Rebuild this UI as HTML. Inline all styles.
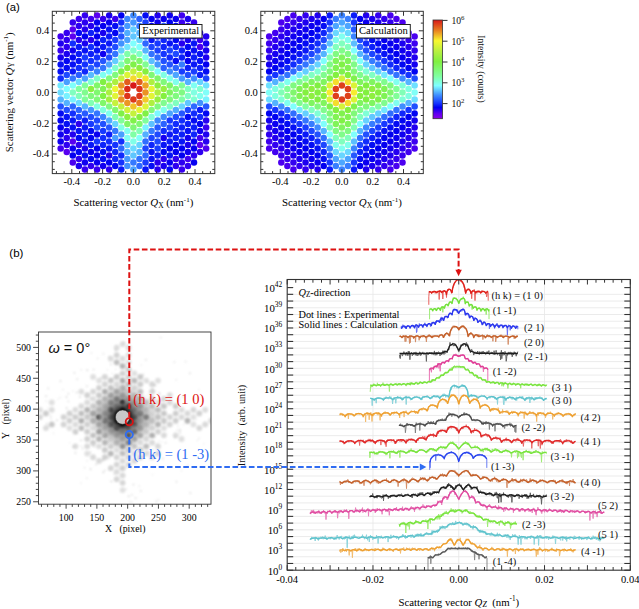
<!DOCTYPE html>
<html><head><meta charset="utf-8"><style>
html,body{margin:0;padding:0;background:#fff;width:639px;height:609px;overflow:hidden}
svg{display:block}
</style></head><body><svg width="639" height="609" viewBox="0 0 639 609"><rect x="52.3" y="11.3" width="162.5" height="162.3" fill="#fff" stroke="none"/><g><circle cx="60.68" cy="36.4" r="3.25" fill="#4100f0"/><circle cx="60.68" cy="43.4" r="3.25" fill="#1f00f0"/><circle cx="60.68" cy="50.4" r="3.25" fill="#3700f0"/><circle cx="60.68" cy="57.4" r="3.25" fill="#1900f0"/><circle cx="60.68" cy="64.4" r="3.25" fill="#0711f5"/><circle cx="60.68" cy="71.4" r="3.25" fill="#0711f5"/><circle cx="60.68" cy="78.4" r="3.25" fill="#122efd"/><circle cx="60.68" cy="85.4" r="3.25" fill="#73e8ff"/><circle cx="60.68" cy="92.4" r="3.25" fill="#6dddff"/><circle cx="60.68" cy="99.4" r="3.25" fill="#55b5ff"/><circle cx="60.68" cy="106.4" r="3.25" fill="#2353ff"/><circle cx="60.68" cy="113.4" r="3.25" fill="#040bf3"/><circle cx="60.68" cy="120.4" r="3.25" fill="#0102f0"/><circle cx="60.68" cy="127.4" r="3.25" fill="#0900f0"/><circle cx="60.68" cy="134.4" r="3.25" fill="#1100f0"/><circle cx="60.68" cy="141.4" r="3.25" fill="#0e00f0"/><circle cx="60.68" cy="148.4" r="3.25" fill="#4300f0"/><circle cx="66.74" cy="32.9" r="3.25" fill="#3500f0"/><circle cx="66.74" cy="39.9" r="3.25" fill="#2e00f0"/><circle cx="66.74" cy="46.9" r="3.25" fill="#2d00f0"/><circle cx="66.74" cy="53.9" r="3.25" fill="#1c00f0"/><circle cx="66.74" cy="60.9" r="3.25" fill="#0307f2"/><circle cx="66.74" cy="67.9" r="3.25" fill="#060ef4"/><circle cx="66.74" cy="74.9" r="3.25" fill="#1f4bff"/><circle cx="66.74" cy="81.9" r="3.25" fill="#499fff"/><circle cx="66.74" cy="88.9" r="3.25" fill="#7ffeff"/><circle cx="66.74" cy="95.9" r="3.25" fill="#78f1ff"/><circle cx="66.74" cy="102.9" r="3.25" fill="#53b2ff"/><circle cx="66.74" cy="109.9" r="3.25" fill="#214eff"/><circle cx="66.74" cy="116.9" r="3.25" fill="#0815f6"/><circle cx="66.74" cy="123.9" r="3.25" fill="#060ff4"/><circle cx="66.74" cy="130.9" r="3.25" fill="#1700f0"/><circle cx="66.74" cy="137.9" r="3.25" fill="#2d00f0"/><circle cx="66.74" cy="144.9" r="3.25" fill="#3000f0"/><circle cx="66.74" cy="151.9" r="3.25" fill="#5700f0"/><circle cx="72.8" cy="22.4" r="3.25" fill="#3700f0"/><circle cx="72.8" cy="29.4" r="3.25" fill="#5c00f0"/><circle cx="72.8" cy="36.4" r="3.25" fill="#5b00f0"/><circle cx="72.8" cy="43.4" r="3.25" fill="#122dfd"/><circle cx="72.8" cy="50.4" r="3.25" fill="#1000f0"/><circle cx="72.8" cy="57.4" r="3.25" fill="#0409f3"/><circle cx="72.8" cy="64.4" r="3.25" fill="#0711f5"/><circle cx="72.8" cy="71.4" r="3.25" fill="#0a19f7"/><circle cx="72.8" cy="78.4" r="3.25" fill="#3579ff"/><circle cx="72.8" cy="85.4" r="3.25" fill="#80fffb"/><circle cx="72.8" cy="92.4" r="3.25" fill="#80ffc0"/><circle cx="72.8" cy="99.4" r="3.25" fill="#78f1ff"/><circle cx="72.8" cy="106.4" r="3.25" fill="#2c65ff"/><circle cx="72.8" cy="113.4" r="3.25" fill="#122ffd"/><circle cx="72.8" cy="120.4" r="3.25" fill="#0917f7"/><circle cx="72.8" cy="127.4" r="3.25" fill="#0711f5"/><circle cx="72.8" cy="134.4" r="3.25" fill="#2300f0"/><circle cx="72.8" cy="141.4" r="3.25" fill="#5800f0"/><circle cx="72.8" cy="148.4" r="3.25" fill="#0f00f0"/><circle cx="72.8" cy="155.4" r="3.25" fill="#0600f0"/><circle cx="72.8" cy="162.4" r="3.25" fill="#4900f0"/><circle cx="78.86" cy="18.9" r="3.25" fill="#3d00f0"/><circle cx="78.86" cy="25.9" r="3.25" fill="#2e00f0"/><circle cx="78.86" cy="32.9" r="3.25" fill="#040af3"/><circle cx="78.86" cy="39.9" r="3.25" fill="#2500f0"/><circle cx="78.86" cy="46.9" r="3.25" fill="#0b1bf8"/><circle cx="78.86" cy="53.9" r="3.25" fill="#0b1cf8"/><circle cx="78.86" cy="60.9" r="3.25" fill="#0916f6"/><circle cx="78.86" cy="67.9" r="3.25" fill="#122efd"/><circle cx="78.86" cy="74.9" r="3.25" fill="#295eff"/><circle cx="78.86" cy="81.9" r="3.25" fill="#6bdaff"/><circle cx="78.86" cy="88.9" r="3.25" fill="#80ff9f"/><circle cx="78.86" cy="95.9" r="3.25" fill="#80ffbb"/><circle cx="78.86" cy="102.9" r="3.25" fill="#6bdaff"/><circle cx="78.86" cy="109.9" r="3.25" fill="#2c65ff"/><circle cx="78.86" cy="116.9" r="3.25" fill="#1d46ff"/><circle cx="78.86" cy="123.9" r="3.25" fill="#2c00f0"/><circle cx="78.86" cy="130.9" r="3.25" fill="#0712f5"/><circle cx="78.86" cy="137.9" r="3.25" fill="#0308f2"/><circle cx="78.86" cy="144.9" r="3.25" fill="#2f00f0"/><circle cx="78.86" cy="151.9" r="3.25" fill="#0308f2"/><circle cx="78.86" cy="158.9" r="3.25" fill="#3000f0"/><circle cx="78.86" cy="165.9" r="3.25" fill="#1a00f0"/><circle cx="84.92" cy="15.4" r="3.25" fill="#3200f0"/><circle cx="84.92" cy="22.4" r="3.25" fill="#2a00f0"/><circle cx="84.92" cy="29.4" r="3.25" fill="#2300f0"/><circle cx="84.92" cy="36.4" r="3.25" fill="#0102f1"/><circle cx="84.92" cy="43.4" r="3.25" fill="#1800f0"/><circle cx="84.92" cy="50.4" r="3.25" fill="#0813f5"/><circle cx="84.92" cy="57.4" r="3.25" fill="#183bff"/><circle cx="84.92" cy="64.4" r="3.25" fill="#1432fe"/><circle cx="84.92" cy="71.4" r="3.25" fill="#1028fb"/><circle cx="84.92" cy="78.4" r="3.25" fill="#4ba3ff"/><circle cx="84.92" cy="85.4" r="3.25" fill="#80fe9c"/><circle cx="84.92" cy="92.4" r="3.25" fill="#80fc8f"/><circle cx="84.92" cy="99.4" r="3.25" fill="#80fe9a"/><circle cx="84.92" cy="106.4" r="3.25" fill="#57b7ff"/><circle cx="84.92" cy="113.4" r="3.25" fill="#275aff"/><circle cx="84.92" cy="120.4" r="3.25" fill="#0c1ff9"/><circle cx="84.92" cy="127.4" r="3.25" fill="#0a1af7"/><circle cx="84.92" cy="134.4" r="3.25" fill="#0a1af7"/><circle cx="84.92" cy="141.4" r="3.25" fill="#0813f5"/><circle cx="84.92" cy="148.4" r="3.25" fill="#1a00f0"/><circle cx="84.92" cy="155.4" r="3.25" fill="#050df4"/><circle cx="84.92" cy="162.4" r="3.25" fill="#1100f0"/><circle cx="84.92" cy="169.4" r="3.25" fill="#3700f0"/><circle cx="90.98" cy="18.9" r="3.25" fill="#4000f0"/><circle cx="90.98" cy="25.9" r="3.25" fill="#2500f0"/><circle cx="90.98" cy="32.9" r="3.25" fill="#0d22f9"/><circle cx="90.98" cy="39.9" r="3.25" fill="#2800f0"/><circle cx="90.98" cy="46.9" r="3.25" fill="#122efd"/><circle cx="90.98" cy="53.9" r="3.25" fill="#0d21f9"/><circle cx="90.98" cy="60.9" r="3.25" fill="#1433ff"/><circle cx="90.98" cy="67.9" r="3.25" fill="#295fff"/><circle cx="90.98" cy="74.9" r="3.25" fill="#59bbff"/><circle cx="90.98" cy="81.9" r="3.25" fill="#80ffd0"/><circle cx="90.98" cy="88.9" r="3.25" fill="#8bf040"/><circle cx="90.98" cy="95.9" r="3.25" fill="#80f97c"/><circle cx="90.98" cy="102.9" r="3.25" fill="#80ffb3"/><circle cx="90.98" cy="109.9" r="3.25" fill="#4395ff"/><circle cx="90.98" cy="116.9" r="3.25" fill="#214eff"/><circle cx="90.98" cy="123.9" r="3.25" fill="#173aff"/><circle cx="90.98" cy="130.9" r="3.25" fill="#040bf3"/><circle cx="90.98" cy="137.9" r="3.25" fill="#0307f2"/><circle cx="90.98" cy="144.9" r="3.25" fill="#0a19f7"/><circle cx="90.98" cy="151.9" r="3.25" fill="#0c00f0"/><circle cx="90.98" cy="158.9" r="3.25" fill="#0307f2"/><circle cx="90.98" cy="165.9" r="3.25" fill="#3200f0"/><circle cx="97.04" cy="15.4" r="3.25" fill="#5900f0"/><circle cx="97.04" cy="22.4" r="3.25" fill="#0600f0"/><circle cx="97.04" cy="29.4" r="3.25" fill="#0205f2"/><circle cx="97.04" cy="36.4" r="3.25" fill="#0300f0"/><circle cx="97.04" cy="43.4" r="3.25" fill="#0001f0"/><circle cx="97.04" cy="50.4" r="3.25" fill="#0814f6"/><circle cx="97.04" cy="57.4" r="3.25" fill="#1431fe"/><circle cx="97.04" cy="64.4" r="3.25" fill="#1c44ff"/><circle cx="97.04" cy="71.4" r="3.25" fill="#3a84ff"/><circle cx="97.04" cy="78.4" r="3.25" fill="#80ffc4"/><circle cx="97.04" cy="85.4" r="3.25" fill="#80f76a"/><circle cx="97.04" cy="92.4" r="3.25" fill="#80f871"/><circle cx="97.04" cy="99.4" r="3.25" fill="#80f978"/><circle cx="97.04" cy="106.4" r="3.25" fill="#80ffe1"/><circle cx="97.04" cy="113.4" r="3.25" fill="#3375ff"/><circle cx="97.04" cy="120.4" r="3.25" fill="#1e48ff"/><circle cx="97.04" cy="127.4" r="3.25" fill="#214fff"/><circle cx="97.04" cy="134.4" r="3.25" fill="#0a00f0"/><circle cx="97.04" cy="141.4" r="3.25" fill="#1638ff"/><circle cx="97.04" cy="148.4" r="3.25" fill="#0500f0"/><circle cx="97.04" cy="155.4" r="3.25" fill="#0700f0"/><circle cx="97.04" cy="162.4" r="3.25" fill="#0a00f0"/><circle cx="97.04" cy="169.4" r="3.25" fill="#3900f0"/><circle cx="103.1" cy="18.9" r="3.25" fill="#3600f0"/><circle cx="103.1" cy="25.9" r="3.25" fill="#0600f0"/><circle cx="103.1" cy="32.9" r="3.25" fill="#1700f0"/><circle cx="103.1" cy="39.9" r="3.25" fill="#0e23fa"/><circle cx="103.1" cy="46.9" r="3.25" fill="#0b1bf8"/><circle cx="103.1" cy="53.9" r="3.25" fill="#0f00f0"/><circle cx="103.1" cy="60.9" r="3.25" fill="#2556ff"/><circle cx="103.1" cy="67.9" r="3.25" fill="#3375ff"/><circle cx="103.1" cy="74.9" r="3.25" fill="#80fff2"/><circle cx="103.1" cy="81.9" r="3.25" fill="#80f043"/><circle cx="103.1" cy="88.9" r="3.25" fill="#80f356"/><circle cx="103.1" cy="95.9" r="3.25" fill="#80f143"/><circle cx="103.1" cy="102.9" r="3.25" fill="#80f76a"/><circle cx="103.1" cy="109.9" r="3.25" fill="#80ffdd"/><circle cx="103.1" cy="116.9" r="3.25" fill="#3b86ff"/><circle cx="103.1" cy="123.9" r="3.25" fill="#2251ff"/><circle cx="103.1" cy="130.9" r="3.25" fill="#1739ff"/><circle cx="103.1" cy="137.9" r="3.25" fill="#122efd"/><circle cx="103.1" cy="144.9" r="3.25" fill="#0e24fa"/><circle cx="103.1" cy="151.9" r="3.25" fill="#040bf3"/><circle cx="103.1" cy="158.9" r="3.25" fill="#060ef4"/><circle cx="103.1" cy="165.9" r="3.25" fill="#1200f0"/><circle cx="109.16" cy="15.4" r="3.25" fill="#1b00f0"/><circle cx="109.16" cy="22.4" r="3.25" fill="#0600f0"/><circle cx="109.16" cy="29.4" r="3.25" fill="#0711f5"/><circle cx="109.16" cy="36.4" r="3.25" fill="#0a1af7"/><circle cx="109.16" cy="43.4" r="3.25" fill="#0b1bf8"/><circle cx="109.16" cy="50.4" r="3.25" fill="#1d45ff"/><circle cx="109.16" cy="57.4" r="3.25" fill="#204cff"/><circle cx="109.16" cy="64.4" r="3.25" fill="#4ca4ff"/><circle cx="109.16" cy="71.4" r="3.25" fill="#7bf6ff"/><circle cx="109.16" cy="78.4" r="3.25" fill="#80fa7d"/><circle cx="109.16" cy="85.4" r="3.25" fill="#9ef040"/><circle cx="109.16" cy="92.4" r="3.25" fill="#abf040"/><circle cx="109.16" cy="99.4" r="3.25" fill="#a2f040"/><circle cx="109.16" cy="106.4" r="3.25" fill="#80fa81"/><circle cx="109.16" cy="113.4" r="3.25" fill="#80ffed"/><circle cx="109.16" cy="120.4" r="3.25" fill="#50abff"/><circle cx="109.16" cy="127.4" r="3.25" fill="#2658ff"/><circle cx="109.16" cy="134.4" r="3.25" fill="#0c1ef9"/><circle cx="109.16" cy="141.4" r="3.25" fill="#122dfd"/><circle cx="109.16" cy="148.4" r="3.25" fill="#0813f5"/><circle cx="109.16" cy="155.4" r="3.25" fill="#2000f0"/><circle cx="109.16" cy="162.4" r="3.25" fill="#0204f1"/><circle cx="109.16" cy="169.4" r="3.25" fill="#2c00f0"/><circle cx="115.22" cy="18.9" r="3.25" fill="#3a00f0"/><circle cx="115.22" cy="25.9" r="3.25" fill="#050df4"/><circle cx="115.22" cy="32.9" r="3.25" fill="#0205f2"/><circle cx="115.22" cy="39.9" r="3.25" fill="#193dff"/><circle cx="115.22" cy="46.9" r="3.25" fill="#204dff"/><circle cx="115.22" cy="53.9" r="3.25" fill="#3375ff"/><circle cx="115.22" cy="60.9" r="3.25" fill="#63cdff"/><circle cx="115.22" cy="67.9" r="3.25" fill="#80ffcf"/><circle cx="115.22" cy="74.9" r="3.25" fill="#80fa7d"/><circle cx="115.22" cy="81.9" r="3.25" fill="#abf040"/><circle cx="115.22" cy="88.9" r="3.25" fill="#edf733"/><circle cx="115.22" cy="95.9" r="3.25" fill="#e0f536"/><circle cx="115.22" cy="102.9" r="3.25" fill="#c6f23d"/><circle cx="115.22" cy="109.9" r="3.25" fill="#80f870"/><circle cx="115.22" cy="116.9" r="3.25" fill="#80ffb5"/><circle cx="115.22" cy="123.9" r="3.25" fill="#67d4ff"/><circle cx="115.22" cy="130.9" r="3.25" fill="#3476ff"/><circle cx="115.22" cy="137.9" r="3.25" fill="#489eff"/><circle cx="115.22" cy="144.9" r="3.25" fill="#1433fe"/><circle cx="115.22" cy="151.9" r="3.25" fill="#112cfc"/><circle cx="115.22" cy="158.9" r="3.25" fill="#0f27fb"/><circle cx="115.22" cy="165.9" r="3.25" fill="#040af3"/><circle cx="121.28" cy="15.4" r="3.25" fill="#0200f0"/><circle cx="121.28" cy="22.4" r="3.25" fill="#1331fe"/><circle cx="121.28" cy="29.4" r="3.25" fill="#2557ff"/><circle cx="121.28" cy="36.4" r="3.25" fill="#2455ff"/><circle cx="121.28" cy="43.4" r="3.25" fill="#4192ff"/><circle cx="121.28" cy="50.4" r="3.25" fill="#64ceff"/><circle cx="121.28" cy="57.4" r="3.25" fill="#80ffdd"/><circle cx="121.28" cy="64.4" r="3.25" fill="#80ffb6"/><circle cx="121.28" cy="71.4" r="3.25" fill="#80f24b"/><circle cx="121.28" cy="78.4" r="3.25" fill="#c8f23c"/><circle cx="121.28" cy="85.4" r="3.25" fill="#eb9623"/><circle cx="121.28" cy="92.4" r="3.25" fill="#eda825"/><circle cx="121.28" cy="99.4" r="3.25" fill="#ea9122"/><circle cx="121.28" cy="106.4" r="3.25" fill="#c3f13d"/><circle cx="121.28" cy="113.4" r="3.25" fill="#80f148"/><circle cx="121.28" cy="120.4" r="3.25" fill="#80fe99"/><circle cx="121.28" cy="127.4" r="3.25" fill="#80ffe4"/><circle cx="121.28" cy="134.4" r="3.25" fill="#499fff"/><circle cx="121.28" cy="141.4" r="3.25" fill="#132ffd"/><circle cx="121.28" cy="148.4" r="3.25" fill="#2e6aff"/><circle cx="121.28" cy="155.4" r="3.25" fill="#112bfc"/><circle cx="121.28" cy="162.4" r="3.25" fill="#1433fe"/><circle cx="121.28" cy="169.4" r="3.25" fill="#0a1af7"/><circle cx="127.34" cy="18.9" r="3.25" fill="#3b86ff"/><circle cx="127.34" cy="25.9" r="3.25" fill="#4599ff"/><circle cx="127.34" cy="32.9" r="3.25" fill="#50acff"/><circle cx="127.34" cy="39.9" r="3.25" fill="#4aa2ff"/><circle cx="127.34" cy="46.9" r="3.25" fill="#70e4ff"/><circle cx="127.34" cy="53.9" r="3.25" fill="#80ffa9"/><circle cx="127.34" cy="60.9" r="3.25" fill="#80f873"/><circle cx="127.34" cy="67.9" r="3.25" fill="#88f040"/><circle cx="127.34" cy="74.9" r="3.25" fill="#ddf537"/><circle cx="127.34" cy="81.9" r="3.25" fill="#e25c1d"/><circle cx="127.34" cy="88.9" r="3.25" fill="#da2819"/><circle cx="127.34" cy="95.9" r="3.25" fill="#dd351a"/><circle cx="127.34" cy="102.9" r="3.25" fill="#eb9623"/><circle cx="127.34" cy="109.9" r="3.25" fill="#d2f33a"/><circle cx="127.34" cy="116.9" r="3.25" fill="#8df040"/><circle cx="127.34" cy="123.9" r="3.25" fill="#80f667"/><circle cx="127.34" cy="130.9" r="3.25" fill="#80fff2"/><circle cx="127.34" cy="137.9" r="3.25" fill="#80fff5"/><circle cx="127.34" cy="144.9" r="3.25" fill="#61c9ff"/><circle cx="127.34" cy="151.9" r="3.25" fill="#55b5ff"/><circle cx="127.34" cy="158.9" r="3.25" fill="#4599ff"/><circle cx="127.34" cy="165.9" r="3.25" fill="#4090ff"/><circle cx="133.4" cy="15.4" r="3.25" fill="#3d89ff"/><circle cx="133.4" cy="22.4" r="3.25" fill="#4497ff"/><circle cx="133.4" cy="29.4" r="3.25" fill="#63cdff"/><circle cx="133.4" cy="36.4" r="3.25" fill="#5fc6ff"/><circle cx="133.4" cy="43.4" r="3.25" fill="#80fffe"/><circle cx="133.4" cy="50.4" r="3.25" fill="#80ffd2"/><circle cx="133.4" cy="57.4" r="3.25" fill="#80fa7d"/><circle cx="133.4" cy="64.4" r="3.25" fill="#80f149"/><circle cx="133.4" cy="71.4" r="3.25" fill="#c4f23d"/><circle cx="133.4" cy="78.4" r="3.25" fill="#f4db2c"/><circle cx="133.4" cy="85.4" r="3.25" fill="#d81818"/><circle cx="133.4" cy="99.4" r="3.25" fill="#dd391b"/><circle cx="133.4" cy="106.4" r="3.25" fill="#f1c429"/><circle cx="133.4" cy="113.4" r="3.25" fill="#c4f23d"/><circle cx="133.4" cy="120.4" r="3.25" fill="#80f24b"/><circle cx="133.4" cy="127.4" r="3.25" fill="#80f875"/><circle cx="133.4" cy="134.4" r="3.25" fill="#80ffa5"/><circle cx="133.4" cy="141.4" r="3.25" fill="#80ffe8"/><circle cx="133.4" cy="148.4" r="3.25" fill="#6bdaff"/><circle cx="133.4" cy="155.4" r="3.25" fill="#5fc6ff"/><circle cx="133.4" cy="162.4" r="3.25" fill="#3579ff"/><circle cx="133.4" cy="169.4" r="3.25" fill="#4aa1ff"/><circle cx="139.46" cy="18.9" r="3.25" fill="#285dff"/><circle cx="139.46" cy="25.9" r="3.25" fill="#3375ff"/><circle cx="139.46" cy="32.9" r="3.25" fill="#52afff"/><circle cx="139.46" cy="39.9" r="3.25" fill="#66d1ff"/><circle cx="139.46" cy="46.9" r="3.25" fill="#80fffd"/><circle cx="139.46" cy="53.9" r="3.25" fill="#80ffc5"/><circle cx="139.46" cy="60.9" r="3.25" fill="#80f76b"/><circle cx="139.46" cy="67.9" r="3.25" fill="#89f040"/><circle cx="139.46" cy="74.9" r="3.25" fill="#d8f438"/><circle cx="139.46" cy="81.9" r="3.25" fill="#e3621e"/><circle cx="139.46" cy="88.9" r="3.25" fill="#dc341a"/><circle cx="139.46" cy="95.9" r="3.25" fill="#dd381a"/><circle cx="139.46" cy="102.9" r="3.25" fill="#e7771f"/><circle cx="139.46" cy="109.9" r="3.25" fill="#e2f535"/><circle cx="139.46" cy="116.9" r="3.25" fill="#85f040"/><circle cx="139.46" cy="123.9" r="3.25" fill="#80f870"/><circle cx="139.46" cy="130.9" r="3.25" fill="#80ffb5"/><circle cx="139.46" cy="137.9" r="3.25" fill="#80fffa"/><circle cx="139.46" cy="144.9" r="3.25" fill="#66d3ff"/><circle cx="139.46" cy="151.9" r="3.25" fill="#56b7ff"/><circle cx="139.46" cy="158.9" r="3.25" fill="#3170ff"/><circle cx="139.46" cy="165.9" r="3.25" fill="#2d69ff"/><circle cx="145.52" cy="15.4" r="3.25" fill="#040bf3"/><circle cx="145.52" cy="22.4" r="3.25" fill="#1b42ff"/><circle cx="145.52" cy="29.4" r="3.25" fill="#2557ff"/><circle cx="145.52" cy="36.4" r="3.25" fill="#2d67ff"/><circle cx="145.52" cy="43.4" r="3.25" fill="#2d67ff"/><circle cx="145.52" cy="50.4" r="3.25" fill="#55b4ff"/><circle cx="145.52" cy="57.4" r="3.25" fill="#80fff1"/><circle cx="145.52" cy="64.4" r="3.25" fill="#80fd92"/><circle cx="145.52" cy="71.4" r="3.25" fill="#85f040"/><circle cx="145.52" cy="78.4" r="3.25" fill="#f5e42d"/><circle cx="145.52" cy="85.4" r="3.25" fill="#eca224"/><circle cx="145.52" cy="92.4" r="3.25" fill="#eb9323"/><circle cx="145.52" cy="99.4" r="3.25" fill="#f2ca2a"/><circle cx="145.52" cy="106.4" r="3.25" fill="#dcf437"/><circle cx="145.52" cy="113.4" r="3.25" fill="#80f146"/><circle cx="145.52" cy="120.4" r="3.25" fill="#80fe9c"/><circle cx="145.52" cy="127.4" r="3.25" fill="#79f3ff"/><circle cx="145.52" cy="134.4" r="3.25" fill="#53b0ff"/><circle cx="145.52" cy="141.4" r="3.25" fill="#306eff"/><circle cx="145.52" cy="148.4" r="3.25" fill="#1e48ff"/><circle cx="145.52" cy="155.4" r="3.25" fill="#2d68ff"/><circle cx="145.52" cy="162.4" r="3.25" fill="#1a3fff"/><circle cx="145.52" cy="169.4" r="3.25" fill="#0916f6"/><circle cx="151.58" cy="18.9" r="3.25" fill="#0800f0"/><circle cx="151.58" cy="25.9" r="3.25" fill="#0000f0"/><circle cx="151.58" cy="32.9" r="3.25" fill="#040af3"/><circle cx="151.58" cy="39.9" r="3.25" fill="#0a18f7"/><circle cx="151.58" cy="46.9" r="3.25" fill="#1d46ff"/><circle cx="151.58" cy="53.9" r="3.25" fill="#3374ff"/><circle cx="151.58" cy="60.9" r="3.25" fill="#5bbfff"/><circle cx="151.58" cy="67.9" r="3.25" fill="#80ffc9"/><circle cx="151.58" cy="74.9" r="3.25" fill="#80f875"/><circle cx="151.58" cy="81.9" r="3.25" fill="#aef040"/><circle cx="151.58" cy="88.9" r="3.25" fill="#e9f634"/><circle cx="151.58" cy="95.9" r="3.25" fill="#e1f536"/><circle cx="151.58" cy="102.9" r="3.25" fill="#aff040"/><circle cx="151.58" cy="109.9" r="3.25" fill="#80f979"/><circle cx="151.58" cy="116.9" r="3.25" fill="#80ffda"/><circle cx="151.58" cy="123.9" r="3.25" fill="#5dc2ff"/><circle cx="151.58" cy="130.9" r="3.25" fill="#367bff"/><circle cx="151.58" cy="137.9" r="3.25" fill="#1c45ff"/><circle cx="151.58" cy="144.9" r="3.25" fill="#0f27fb"/><circle cx="151.58" cy="151.9" r="3.25" fill="#0814f6"/><circle cx="151.58" cy="158.9" r="3.25" fill="#0815f6"/><circle cx="151.58" cy="165.9" r="3.25" fill="#060ef4"/><circle cx="157.64" cy="15.4" r="3.25" fill="#2100f0"/><circle cx="157.64" cy="22.4" r="3.25" fill="#0e00f0"/><circle cx="157.64" cy="29.4" r="3.25" fill="#193eff"/><circle cx="157.64" cy="36.4" r="3.25" fill="#0b1bf8"/><circle cx="157.64" cy="43.4" r="3.25" fill="#1739ff"/><circle cx="157.64" cy="50.4" r="3.25" fill="#1c43ff"/><circle cx="157.64" cy="57.4" r="3.25" fill="#2e69ff"/><circle cx="157.64" cy="64.4" r="3.25" fill="#469aff"/><circle cx="157.64" cy="71.4" r="3.25" fill="#80fffc"/><circle cx="157.64" cy="78.4" r="3.25" fill="#80f76c"/><circle cx="157.64" cy="85.4" r="3.25" fill="#8ff040"/><circle cx="157.64" cy="92.4" r="3.25" fill="#b0f040"/><circle cx="157.64" cy="99.4" r="3.25" fill="#97f040"/><circle cx="157.64" cy="106.4" r="3.25" fill="#80fa7e"/><circle cx="157.64" cy="113.4" r="3.25" fill="#7cf8ff"/><circle cx="157.64" cy="120.4" r="3.25" fill="#3d8aff"/><circle cx="157.64" cy="127.4" r="3.25" fill="#275bff"/><circle cx="157.64" cy="134.4" r="3.25" fill="#1e49ff"/><circle cx="157.64" cy="141.4" r="3.25" fill="#1e48ff"/><circle cx="157.64" cy="148.4" r="3.25" fill="#193dff"/><circle cx="157.64" cy="155.4" r="3.25" fill="#0c1ef9"/><circle cx="157.64" cy="162.4" r="3.25" fill="#2800f0"/><circle cx="157.64" cy="169.4" r="3.25" fill="#2900f0"/><circle cx="163.7" cy="18.9" r="3.25" fill="#0b00f0"/><circle cx="163.7" cy="25.9" r="3.25" fill="#285dff"/><circle cx="163.7" cy="32.9" r="3.25" fill="#1a00f0"/><circle cx="163.7" cy="39.9" r="3.25" fill="#1029fc"/><circle cx="163.7" cy="46.9" r="3.25" fill="#0f26fb"/><circle cx="163.7" cy="53.9" r="3.25" fill="#1535ff"/><circle cx="163.7" cy="60.9" r="3.25" fill="#2251ff"/><circle cx="163.7" cy="67.9" r="3.25" fill="#2a62ff"/><circle cx="163.7" cy="74.9" r="3.25" fill="#80ffe4"/><circle cx="163.7" cy="81.9" r="3.25" fill="#80f97b"/><circle cx="163.7" cy="88.9" r="3.25" fill="#99f040"/><circle cx="163.7" cy="95.9" r="3.25" fill="#84f040"/><circle cx="163.7" cy="102.9" r="3.25" fill="#80fc90"/><circle cx="163.7" cy="109.9" r="3.25" fill="#80ffef"/><circle cx="163.7" cy="116.9" r="3.25" fill="#3e8bff"/><circle cx="163.7" cy="123.9" r="3.25" fill="#2b63ff"/><circle cx="163.7" cy="130.9" r="3.25" fill="#122efd"/><circle cx="163.7" cy="137.9" r="3.25" fill="#1600f0"/><circle cx="163.7" cy="144.9" r="3.25" fill="#0916f6"/><circle cx="163.7" cy="151.9" r="3.25" fill="#0308f2"/><circle cx="163.7" cy="158.9" r="3.25" fill="#2d00f0"/><circle cx="163.7" cy="165.9" r="3.25" fill="#1900f0"/><circle cx="169.76" cy="15.4" r="3.25" fill="#0f00f0"/><circle cx="169.76" cy="22.4" r="3.25" fill="#0001f0"/><circle cx="169.76" cy="29.4" r="3.25" fill="#0308f2"/><circle cx="169.76" cy="36.4" r="3.25" fill="#060ff4"/><circle cx="169.76" cy="43.4" r="3.25" fill="#0814f6"/><circle cx="169.76" cy="50.4" r="3.25" fill="#1c44ff"/><circle cx="169.76" cy="57.4" r="3.25" fill="#112afc"/><circle cx="169.76" cy="64.4" r="3.25" fill="#2354ff"/><circle cx="169.76" cy="71.4" r="3.25" fill="#3f8eff"/><circle cx="169.76" cy="78.4" r="3.25" fill="#80ffec"/><circle cx="169.76" cy="85.4" r="3.25" fill="#80f669"/><circle cx="169.76" cy="92.4" r="3.25" fill="#80f561"/><circle cx="169.76" cy="99.4" r="3.25" fill="#80f97b"/><circle cx="169.76" cy="106.4" r="3.25" fill="#80ffc9"/><circle cx="169.76" cy="113.4" r="3.25" fill="#4ba3ff"/><circle cx="169.76" cy="120.4" r="3.25" fill="#1638ff"/><circle cx="169.76" cy="127.4" r="3.25" fill="#1d45ff"/><circle cx="169.76" cy="134.4" r="3.25" fill="#0b1bf8"/><circle cx="169.76" cy="141.4" r="3.25" fill="#0c1ef9"/><circle cx="169.76" cy="148.4" r="3.25" fill="#0000f0"/><circle cx="169.76" cy="155.4" r="3.25" fill="#0814f6"/><circle cx="169.76" cy="162.4" r="3.25" fill="#0800f0"/><circle cx="169.76" cy="169.4" r="3.25" fill="#0409f3"/><circle cx="175.82" cy="18.9" r="3.25" fill="#0b00f0"/><circle cx="175.82" cy="25.9" r="3.25" fill="#0103f1"/><circle cx="175.82" cy="32.9" r="3.25" fill="#0206f2"/><circle cx="175.82" cy="39.9" r="3.25" fill="#0205f2"/><circle cx="175.82" cy="46.9" r="3.25" fill="#0f25fa"/><circle cx="175.82" cy="53.9" r="3.25" fill="#1f4aff"/><circle cx="175.82" cy="60.9" r="3.25" fill="#050df4"/><circle cx="175.82" cy="67.9" r="3.25" fill="#2b65ff"/><circle cx="175.82" cy="74.9" r="3.25" fill="#4ca5ff"/><circle cx="175.82" cy="81.9" r="3.25" fill="#80ffeb"/><circle cx="175.82" cy="88.9" r="3.25" fill="#80fa7e"/><circle cx="175.82" cy="95.9" r="3.25" fill="#80fa7e"/><circle cx="175.82" cy="102.9" r="3.25" fill="#80ffbf"/><circle cx="175.82" cy="109.9" r="3.25" fill="#50acff"/><circle cx="175.82" cy="116.9" r="3.25" fill="#1f4bff"/><circle cx="175.82" cy="123.9" r="3.25" fill="#122efd"/><circle cx="175.82" cy="130.9" r="3.25" fill="#0d20f9"/><circle cx="175.82" cy="137.9" r="3.25" fill="#0d21f9"/><circle cx="175.82" cy="144.9" r="3.25" fill="#0001f0"/><circle cx="175.82" cy="151.9" r="3.25" fill="#0200f0"/><circle cx="175.82" cy="158.9" r="3.25" fill="#3100f0"/><circle cx="175.82" cy="165.9" r="3.25" fill="#2e00f0"/><circle cx="181.88" cy="15.4" r="3.25" fill="#4000f0"/><circle cx="181.88" cy="22.4" r="3.25" fill="#3c00f0"/><circle cx="181.88" cy="29.4" r="3.25" fill="#0204f1"/><circle cx="181.88" cy="36.4" r="3.25" fill="#0800f0"/><circle cx="181.88" cy="43.4" r="3.25" fill="#2500f0"/><circle cx="181.88" cy="50.4" r="3.25" fill="#0d22fa"/><circle cx="181.88" cy="57.4" r="3.25" fill="#0d21f9"/><circle cx="181.88" cy="64.4" r="3.25" fill="#377dff"/><circle cx="181.88" cy="71.4" r="3.25" fill="#193eff"/><circle cx="181.88" cy="78.4" r="3.25" fill="#469bff"/><circle cx="181.88" cy="85.4" r="3.25" fill="#80fe98"/><circle cx="181.88" cy="92.4" r="3.25" fill="#80fa83"/><circle cx="181.88" cy="99.4" r="3.25" fill="#80ffa6"/><circle cx="181.88" cy="106.4" r="3.25" fill="#67d4ff"/><circle cx="181.88" cy="113.4" r="3.25" fill="#2557ff"/><circle cx="181.88" cy="120.4" r="3.25" fill="#132ffd"/><circle cx="181.88" cy="127.4" r="3.25" fill="#0e23fa"/><circle cx="181.88" cy="134.4" r="3.25" fill="#0d20f9"/><circle cx="181.88" cy="141.4" r="3.25" fill="#0916f6"/><circle cx="181.88" cy="148.4" r="3.25" fill="#0102f1"/><circle cx="181.88" cy="155.4" r="3.25" fill="#0400f0"/><circle cx="181.88" cy="162.4" r="3.25" fill="#2c00f0"/><circle cx="181.88" cy="169.4" r="3.25" fill="#3700f0"/><circle cx="187.94" cy="18.9" r="3.25" fill="#1c00f0"/><circle cx="187.94" cy="25.9" r="3.25" fill="#3b00f0"/><circle cx="187.94" cy="32.9" r="3.25" fill="#1100f0"/><circle cx="187.94" cy="39.9" r="3.25" fill="#1600f0"/><circle cx="187.94" cy="46.9" r="3.25" fill="#040af3"/><circle cx="187.94" cy="53.9" r="3.25" fill="#0300f0"/><circle cx="187.94" cy="60.9" r="3.25" fill="#0300f0"/><circle cx="187.94" cy="67.9" r="3.25" fill="#0d20f9"/><circle cx="187.94" cy="74.9" r="3.25" fill="#214eff"/><circle cx="187.94" cy="81.9" r="3.25" fill="#53b0ff"/><circle cx="187.94" cy="88.9" r="3.25" fill="#80ffc0"/><circle cx="187.94" cy="95.9" r="3.25" fill="#80ffc5"/><circle cx="187.94" cy="102.9" r="3.25" fill="#5fc6ff"/><circle cx="187.94" cy="109.9" r="3.25" fill="#1d46ff"/><circle cx="187.94" cy="116.9" r="3.25" fill="#040af3"/><circle cx="187.94" cy="123.9" r="3.25" fill="#0d20f9"/><circle cx="187.94" cy="130.9" r="3.25" fill="#0610f5"/><circle cx="187.94" cy="137.9" r="3.25" fill="#1200f0"/><circle cx="187.94" cy="144.9" r="3.25" fill="#1900f0"/><circle cx="187.94" cy="151.9" r="3.25" fill="#0f00f0"/><circle cx="187.94" cy="158.9" r="3.25" fill="#4300f0"/><circle cx="187.94" cy="165.9" r="3.25" fill="#2f00f0"/><circle cx="194" cy="22.4" r="3.25" fill="#3500f0"/><circle cx="194" cy="29.4" r="3.25" fill="#4800f0"/><circle cx="194" cy="36.4" r="3.25" fill="#1000f0"/><circle cx="194" cy="43.4" r="3.25" fill="#0815f6"/><circle cx="194" cy="50.4" r="3.25" fill="#0610f5"/><circle cx="194" cy="57.4" r="3.25" fill="#0c1ef8"/><circle cx="194" cy="64.4" r="3.25" fill="#0918f7"/><circle cx="194" cy="71.4" r="3.25" fill="#193eff"/><circle cx="194" cy="78.4" r="3.25" fill="#3f8fff"/><circle cx="194" cy="85.4" r="3.25" fill="#80fff2"/><circle cx="194" cy="92.4" r="3.25" fill="#80ffe1"/><circle cx="194" cy="99.4" r="3.25" fill="#80ffd2"/><circle cx="194" cy="106.4" r="3.25" fill="#2d69ff"/><circle cx="194" cy="113.4" r="3.25" fill="#112bfc"/><circle cx="194" cy="120.4" r="3.25" fill="#050cf3"/><circle cx="194" cy="127.4" r="3.25" fill="#0c1ff9"/><circle cx="194" cy="134.4" r="3.25" fill="#0f25fb"/><circle cx="194" cy="141.4" r="3.25" fill="#0206f2"/><circle cx="194" cy="148.4" r="3.25" fill="#0300f0"/><circle cx="194" cy="155.4" r="3.25" fill="#2e00f0"/><circle cx="194" cy="162.4" r="3.25" fill="#0700f0"/><circle cx="200.06" cy="32.9" r="3.25" fill="#2400f0"/><circle cx="200.06" cy="39.9" r="3.25" fill="#3a00f0"/><circle cx="200.06" cy="46.9" r="3.25" fill="#4600f0"/><circle cx="200.06" cy="53.9" r="3.25" fill="#050ef4"/><circle cx="200.06" cy="60.9" r="3.25" fill="#0813f5"/><circle cx="200.06" cy="67.9" r="3.25" fill="#0d20f9"/><circle cx="200.06" cy="74.9" r="3.25" fill="#0d20f9"/><circle cx="200.06" cy="81.9" r="3.25" fill="#66d2ff"/><circle cx="200.06" cy="88.9" r="3.25" fill="#80ffd2"/><circle cx="200.06" cy="95.9" r="3.25" fill="#80ffee"/><circle cx="200.06" cy="102.9" r="3.25" fill="#4193ff"/><circle cx="200.06" cy="109.9" r="3.25" fill="#0b1cf8"/><circle cx="200.06" cy="116.9" r="3.25" fill="#1029fc"/><circle cx="200.06" cy="123.9" r="3.25" fill="#0102f1"/><circle cx="200.06" cy="130.9" r="3.25" fill="#0f00f0"/><circle cx="200.06" cy="137.9" r="3.25" fill="#4400f0"/><circle cx="200.06" cy="144.9" r="3.25" fill="#5b00f0"/><circle cx="200.06" cy="151.9" r="3.25" fill="#2d00f0"/><circle cx="206.12" cy="36.4" r="3.25" fill="#2500f0"/><circle cx="206.12" cy="43.4" r="3.25" fill="#1000f0"/><circle cx="206.12" cy="50.4" r="3.25" fill="#1500f0"/><circle cx="206.12" cy="57.4" r="3.25" fill="#1c00f0"/><circle cx="206.12" cy="64.4" r="3.25" fill="#0400f0"/><circle cx="206.12" cy="71.4" r="3.25" fill="#050cf3"/><circle cx="206.12" cy="78.4" r="3.25" fill="#1d45ff"/><circle cx="206.12" cy="85.4" r="3.25" fill="#6fe2ff"/><circle cx="206.12" cy="92.4" r="3.25" fill="#80fff9"/><circle cx="206.12" cy="99.4" r="3.25" fill="#78f2ff"/><circle cx="206.12" cy="106.4" r="3.25" fill="#265aff"/><circle cx="206.12" cy="113.4" r="3.25" fill="#0206f2"/><circle cx="206.12" cy="120.4" r="3.25" fill="#2700f0"/><circle cx="206.12" cy="127.4" r="3.25" fill="#3b00f0"/><circle cx="206.12" cy="134.4" r="3.25" fill="#2000f0"/><circle cx="206.12" cy="141.4" r="3.25" fill="#2800f0"/><circle cx="206.12" cy="148.4" r="3.25" fill="#5000f0"/></g><rect x="52.3" y="11.3" width="162.5" height="162.3" fill="none" stroke="#333" stroke-width="1"/><line x1="56.4" y1="11.3" x2="56.4" y2="13.8" stroke="#333" stroke-width="1" /><line x1="56.4" y1="173.6" x2="56.4" y2="171.1" stroke="#333" stroke-width="1" /><line x1="52.3" y1="169.4" x2="54.8" y2="169.4" stroke="#333" stroke-width="1" /><line x1="214.8" y1="169.4" x2="212.3" y2="169.4" stroke="#333" stroke-width="1" /><line x1="64.1" y1="11.3" x2="64.1" y2="13.8" stroke="#333" stroke-width="1" /><line x1="64.1" y1="173.6" x2="64.1" y2="171.1" stroke="#333" stroke-width="1" /><line x1="52.3" y1="161.7" x2="54.8" y2="161.7" stroke="#333" stroke-width="1" /><line x1="214.8" y1="161.7" x2="212.3" y2="161.7" stroke="#333" stroke-width="1" /><line x1="71.8" y1="11.3" x2="71.8" y2="15.8" stroke="#333" stroke-width="1" /><line x1="71.8" y1="173.6" x2="71.8" y2="169.1" stroke="#333" stroke-width="1" /><line x1="52.3" y1="154" x2="56.8" y2="154" stroke="#333" stroke-width="1" /><line x1="214.8" y1="154" x2="210.3" y2="154" stroke="#333" stroke-width="1" /><line x1="79.5" y1="11.3" x2="79.5" y2="13.8" stroke="#333" stroke-width="1" /><line x1="79.5" y1="173.6" x2="79.5" y2="171.1" stroke="#333" stroke-width="1" /><line x1="52.3" y1="146.3" x2="54.8" y2="146.3" stroke="#333" stroke-width="1" /><line x1="214.8" y1="146.3" x2="212.3" y2="146.3" stroke="#333" stroke-width="1" /><line x1="87.2" y1="11.3" x2="87.2" y2="13.8" stroke="#333" stroke-width="1" /><line x1="87.2" y1="173.6" x2="87.2" y2="171.1" stroke="#333" stroke-width="1" /><line x1="52.3" y1="138.6" x2="54.8" y2="138.6" stroke="#333" stroke-width="1" /><line x1="214.8" y1="138.6" x2="212.3" y2="138.6" stroke="#333" stroke-width="1" /><line x1="94.9" y1="11.3" x2="94.9" y2="13.8" stroke="#333" stroke-width="1" /><line x1="94.9" y1="173.6" x2="94.9" y2="171.1" stroke="#333" stroke-width="1" /><line x1="52.3" y1="130.9" x2="54.8" y2="130.9" stroke="#333" stroke-width="1" /><line x1="214.8" y1="130.9" x2="212.3" y2="130.9" stroke="#333" stroke-width="1" /><line x1="102.6" y1="11.3" x2="102.6" y2="15.8" stroke="#333" stroke-width="1" /><line x1="102.6" y1="173.6" x2="102.6" y2="169.1" stroke="#333" stroke-width="1" /><line x1="52.3" y1="123.2" x2="56.8" y2="123.2" stroke="#333" stroke-width="1" /><line x1="214.8" y1="123.2" x2="210.3" y2="123.2" stroke="#333" stroke-width="1" /><line x1="110.3" y1="11.3" x2="110.3" y2="13.8" stroke="#333" stroke-width="1" /><line x1="110.3" y1="173.6" x2="110.3" y2="171.1" stroke="#333" stroke-width="1" /><line x1="52.3" y1="115.5" x2="54.8" y2="115.5" stroke="#333" stroke-width="1" /><line x1="214.8" y1="115.5" x2="212.3" y2="115.5" stroke="#333" stroke-width="1" /><line x1="118" y1="11.3" x2="118" y2="13.8" stroke="#333" stroke-width="1" /><line x1="118" y1="173.6" x2="118" y2="171.1" stroke="#333" stroke-width="1" /><line x1="52.3" y1="107.8" x2="54.8" y2="107.8" stroke="#333" stroke-width="1" /><line x1="214.8" y1="107.8" x2="212.3" y2="107.8" stroke="#333" stroke-width="1" /><line x1="125.7" y1="11.3" x2="125.7" y2="13.8" stroke="#333" stroke-width="1" /><line x1="125.7" y1="173.6" x2="125.7" y2="171.1" stroke="#333" stroke-width="1" /><line x1="52.3" y1="100.1" x2="54.8" y2="100.1" stroke="#333" stroke-width="1" /><line x1="214.8" y1="100.1" x2="212.3" y2="100.1" stroke="#333" stroke-width="1" /><line x1="133.4" y1="11.3" x2="133.4" y2="15.8" stroke="#333" stroke-width="1" /><line x1="133.4" y1="173.6" x2="133.4" y2="169.1" stroke="#333" stroke-width="1" /><line x1="52.3" y1="92.4" x2="56.8" y2="92.4" stroke="#333" stroke-width="1" /><line x1="214.8" y1="92.4" x2="210.3" y2="92.4" stroke="#333" stroke-width="1" /><line x1="141.1" y1="11.3" x2="141.1" y2="13.8" stroke="#333" stroke-width="1" /><line x1="141.1" y1="173.6" x2="141.1" y2="171.1" stroke="#333" stroke-width="1" /><line x1="52.3" y1="84.7" x2="54.8" y2="84.7" stroke="#333" stroke-width="1" /><line x1="214.8" y1="84.7" x2="212.3" y2="84.7" stroke="#333" stroke-width="1" /><line x1="148.8" y1="11.3" x2="148.8" y2="13.8" stroke="#333" stroke-width="1" /><line x1="148.8" y1="173.6" x2="148.8" y2="171.1" stroke="#333" stroke-width="1" /><line x1="52.3" y1="77" x2="54.8" y2="77" stroke="#333" stroke-width="1" /><line x1="214.8" y1="77" x2="212.3" y2="77" stroke="#333" stroke-width="1" /><line x1="156.5" y1="11.3" x2="156.5" y2="13.8" stroke="#333" stroke-width="1" /><line x1="156.5" y1="173.6" x2="156.5" y2="171.1" stroke="#333" stroke-width="1" /><line x1="52.3" y1="69.3" x2="54.8" y2="69.3" stroke="#333" stroke-width="1" /><line x1="214.8" y1="69.3" x2="212.3" y2="69.3" stroke="#333" stroke-width="1" /><line x1="164.2" y1="11.3" x2="164.2" y2="15.8" stroke="#333" stroke-width="1" /><line x1="164.2" y1="173.6" x2="164.2" y2="169.1" stroke="#333" stroke-width="1" /><line x1="52.3" y1="61.6" x2="56.8" y2="61.6" stroke="#333" stroke-width="1" /><line x1="214.8" y1="61.6" x2="210.3" y2="61.6" stroke="#333" stroke-width="1" /><line x1="171.9" y1="11.3" x2="171.9" y2="13.8" stroke="#333" stroke-width="1" /><line x1="171.9" y1="173.6" x2="171.9" y2="171.1" stroke="#333" stroke-width="1" /><line x1="52.3" y1="53.9" x2="54.8" y2="53.9" stroke="#333" stroke-width="1" /><line x1="214.8" y1="53.9" x2="212.3" y2="53.9" stroke="#333" stroke-width="1" /><line x1="179.6" y1="11.3" x2="179.6" y2="13.8" stroke="#333" stroke-width="1" /><line x1="179.6" y1="173.6" x2="179.6" y2="171.1" stroke="#333" stroke-width="1" /><line x1="52.3" y1="46.2" x2="54.8" y2="46.2" stroke="#333" stroke-width="1" /><line x1="214.8" y1="46.2" x2="212.3" y2="46.2" stroke="#333" stroke-width="1" /><line x1="187.3" y1="11.3" x2="187.3" y2="13.8" stroke="#333" stroke-width="1" /><line x1="187.3" y1="173.6" x2="187.3" y2="171.1" stroke="#333" stroke-width="1" /><line x1="52.3" y1="38.5" x2="54.8" y2="38.5" stroke="#333" stroke-width="1" /><line x1="214.8" y1="38.5" x2="212.3" y2="38.5" stroke="#333" stroke-width="1" /><line x1="195" y1="11.3" x2="195" y2="15.8" stroke="#333" stroke-width="1" /><line x1="195" y1="173.6" x2="195" y2="169.1" stroke="#333" stroke-width="1" /><line x1="52.3" y1="30.8" x2="56.8" y2="30.8" stroke="#333" stroke-width="1" /><line x1="214.8" y1="30.8" x2="210.3" y2="30.8" stroke="#333" stroke-width="1" /><line x1="202.7" y1="11.3" x2="202.7" y2="13.8" stroke="#333" stroke-width="1" /><line x1="202.7" y1="173.6" x2="202.7" y2="171.1" stroke="#333" stroke-width="1" /><line x1="52.3" y1="23.1" x2="54.8" y2="23.1" stroke="#333" stroke-width="1" /><line x1="214.8" y1="23.1" x2="212.3" y2="23.1" stroke="#333" stroke-width="1" /><line x1="210.4" y1="11.3" x2="210.4" y2="13.8" stroke="#333" stroke-width="1" /><line x1="210.4" y1="173.6" x2="210.4" y2="171.1" stroke="#333" stroke-width="1" /><line x1="52.3" y1="15.4" x2="54.8" y2="15.4" stroke="#333" stroke-width="1" /><line x1="214.8" y1="15.4" x2="212.3" y2="15.4" stroke="#333" stroke-width="1" /><text x="71.8" y="185.2" font-size="10.5" text-anchor="middle" style="font-family:'Liberation Serif',serif" fill="#000" >-0.4</text><text x="49.3" y="157.3" font-size="10.5" text-anchor="end" style="font-family:'Liberation Serif',serif" fill="#000" >-0.4</text><text x="102.6" y="185.2" font-size="10.5" text-anchor="middle" style="font-family:'Liberation Serif',serif" fill="#000" >-0.2</text><text x="49.3" y="126.5" font-size="10.5" text-anchor="end" style="font-family:'Liberation Serif',serif" fill="#000" >-0.2</text><text x="133.4" y="185.2" font-size="10.5" text-anchor="middle" style="font-family:'Liberation Serif',serif" fill="#000" >0.0</text><text x="49.3" y="95.7" font-size="10.5" text-anchor="end" style="font-family:'Liberation Serif',serif" fill="#000" >0.0</text><text x="164.2" y="185.2" font-size="10.5" text-anchor="middle" style="font-family:'Liberation Serif',serif" fill="#000" >0.2</text><text x="49.3" y="64.9" font-size="10.5" text-anchor="end" style="font-family:'Liberation Serif',serif" fill="#000" >0.2</text><text x="195" y="185.2" font-size="10.5" text-anchor="middle" style="font-family:'Liberation Serif',serif" fill="#000" >0.4</text><text x="49.3" y="34.1" font-size="10.5" text-anchor="end" style="font-family:'Liberation Serif',serif" fill="#000" >0.4</text><text x="133.4" y="206.2" font-size="10.9" text-anchor="middle" style="font-family:'Liberation Serif',serif" fill="#000" >Scattering vector <tspan font-style="italic">Q</tspan><tspan font-size="7.5" dy="1.5">X</tspan><tspan dy="-1.5"> (nm</tspan><tspan font-size="7" dy="-4.5">-1</tspan><tspan dy="4.5">)</tspan></text><rect x="260.8" y="11.3" width="162.5" height="162.3" fill="#fff" stroke="none"/><g><circle cx="269.18" cy="36.4" r="3.25" fill="#4a00f0"/><circle cx="269.18" cy="43.4" r="3.25" fill="#3c00f0"/><circle cx="269.18" cy="50.4" r="3.25" fill="#2f00f0"/><circle cx="269.18" cy="57.4" r="3.25" fill="#2300f0"/><circle cx="269.18" cy="64.4" r="3.25" fill="#1400f0"/><circle cx="269.18" cy="71.4" r="3.25" fill="#0103f1"/><circle cx="269.18" cy="78.4" r="3.25" fill="#214fff"/><circle cx="269.18" cy="85.4" r="3.25" fill="#6ee0ff"/><circle cx="269.18" cy="92.4" r="3.25" fill="#80fff7"/><circle cx="269.18" cy="99.4" r="3.25" fill="#6ee0ff"/><circle cx="269.18" cy="106.4" r="3.25" fill="#214fff"/><circle cx="269.18" cy="113.4" r="3.25" fill="#0103f1"/><circle cx="269.18" cy="120.4" r="3.25" fill="#1400f0"/><circle cx="269.18" cy="127.4" r="3.25" fill="#2300f0"/><circle cx="269.18" cy="134.4" r="3.25" fill="#2f00f0"/><circle cx="269.18" cy="141.4" r="3.25" fill="#3c00f0"/><circle cx="269.18" cy="148.4" r="3.25" fill="#4a00f0"/><circle cx="275.24" cy="32.9" r="3.25" fill="#4200f0"/><circle cx="275.24" cy="39.9" r="3.25" fill="#3300f0"/><circle cx="275.24" cy="46.9" r="3.25" fill="#2400f0"/><circle cx="275.24" cy="53.9" r="3.25" fill="#1700f0"/><circle cx="275.24" cy="60.9" r="3.25" fill="#0c00f0"/><circle cx="275.24" cy="67.9" r="3.25" fill="#0204f1"/><circle cx="275.24" cy="74.9" r="3.25" fill="#1535ff"/><circle cx="275.24" cy="81.9" r="3.25" fill="#54b3ff"/><circle cx="275.24" cy="88.9" r="3.25" fill="#80ffe0"/><circle cx="275.24" cy="95.9" r="3.25" fill="#80ffe0"/><circle cx="275.24" cy="102.9" r="3.25" fill="#54b3ff"/><circle cx="275.24" cy="109.9" r="3.25" fill="#1535ff"/><circle cx="275.24" cy="116.9" r="3.25" fill="#0204f1"/><circle cx="275.24" cy="123.9" r="3.25" fill="#0c00f0"/><circle cx="275.24" cy="130.9" r="3.25" fill="#1700f0"/><circle cx="275.24" cy="137.9" r="3.25" fill="#2400f0"/><circle cx="275.24" cy="144.9" r="3.25" fill="#3300f0"/><circle cx="275.24" cy="151.9" r="3.25" fill="#4200f0"/><circle cx="281.3" cy="22.4" r="3.25" fill="#4d00f0"/><circle cx="281.3" cy="29.4" r="3.25" fill="#3b00f0"/><circle cx="281.3" cy="36.4" r="3.25" fill="#2b00f0"/><circle cx="281.3" cy="43.4" r="3.25" fill="#1b00f0"/><circle cx="281.3" cy="50.4" r="3.25" fill="#1000f0"/><circle cx="281.3" cy="57.4" r="3.25" fill="#0700f0"/><circle cx="281.3" cy="64.4" r="3.25" fill="#0307f2"/><circle cx="281.3" cy="71.4" r="3.25" fill="#1027fb"/><circle cx="281.3" cy="78.4" r="3.25" fill="#3f8dff"/><circle cx="281.3" cy="85.4" r="3.25" fill="#80ffd7"/><circle cx="281.3" cy="92.4" r="3.25" fill="#80ffb7"/><circle cx="281.3" cy="99.4" r="3.25" fill="#80ffd7"/><circle cx="281.3" cy="106.4" r="3.25" fill="#3f8dff"/><circle cx="281.3" cy="113.4" r="3.25" fill="#1027fb"/><circle cx="281.3" cy="120.4" r="3.25" fill="#0307f2"/><circle cx="281.3" cy="127.4" r="3.25" fill="#0700f0"/><circle cx="281.3" cy="134.4" r="3.25" fill="#1000f0"/><circle cx="281.3" cy="141.4" r="3.25" fill="#1b00f0"/><circle cx="281.3" cy="148.4" r="3.25" fill="#2b00f0"/><circle cx="281.3" cy="155.4" r="3.25" fill="#3b00f0"/><circle cx="281.3" cy="162.4" r="3.25" fill="#4d00f0"/><circle cx="287.36" cy="18.9" r="3.25" fill="#4900f0"/><circle cx="287.36" cy="25.9" r="3.25" fill="#3700f0"/><circle cx="287.36" cy="32.9" r="3.25" fill="#2500f0"/><circle cx="287.36" cy="39.9" r="3.25" fill="#1400f0"/><circle cx="287.36" cy="46.9" r="3.25" fill="#0c00f0"/><circle cx="287.36" cy="53.9" r="3.25" fill="#0200f0"/><circle cx="287.36" cy="60.9" r="3.25" fill="#040bf3"/><circle cx="287.36" cy="67.9" r="3.25" fill="#1027fb"/><circle cx="287.36" cy="74.9" r="3.25" fill="#3373ff"/><circle cx="287.36" cy="81.9" r="3.25" fill="#80ffef"/><circle cx="287.36" cy="88.9" r="3.25" fill="#80fe97"/><circle cx="287.36" cy="95.9" r="3.25" fill="#80fe97"/><circle cx="287.36" cy="102.9" r="3.25" fill="#80ffef"/><circle cx="287.36" cy="109.9" r="3.25" fill="#3373ff"/><circle cx="287.36" cy="116.9" r="3.25" fill="#1027fb"/><circle cx="287.36" cy="123.9" r="3.25" fill="#040bf3"/><circle cx="287.36" cy="130.9" r="3.25" fill="#0200f0"/><circle cx="287.36" cy="137.9" r="3.25" fill="#0c00f0"/><circle cx="287.36" cy="144.9" r="3.25" fill="#1400f0"/><circle cx="287.36" cy="151.9" r="3.25" fill="#2500f0"/><circle cx="287.36" cy="158.9" r="3.25" fill="#3700f0"/><circle cx="287.36" cy="165.9" r="3.25" fill="#4900f0"/><circle cx="293.42" cy="15.4" r="3.25" fill="#4700f0"/><circle cx="293.42" cy="22.4" r="3.25" fill="#3400f0"/><circle cx="293.42" cy="29.4" r="3.25" fill="#2000f0"/><circle cx="293.42" cy="36.4" r="3.25" fill="#1100f0"/><circle cx="293.42" cy="43.4" r="3.25" fill="#0800f0"/><circle cx="293.42" cy="50.4" r="3.25" fill="#0101f0"/><circle cx="293.42" cy="57.4" r="3.25" fill="#0610f4"/><circle cx="293.42" cy="64.4" r="3.25" fill="#122efd"/><circle cx="293.42" cy="71.4" r="3.25" fill="#306dff"/><circle cx="293.42" cy="78.4" r="3.25" fill="#80fffc"/><circle cx="293.42" cy="85.4" r="3.25" fill="#80fa80"/><circle cx="293.42" cy="92.4" r="3.25" fill="#80f76d"/><circle cx="293.42" cy="99.4" r="3.25" fill="#80fa80"/><circle cx="293.42" cy="106.4" r="3.25" fill="#80fffc"/><circle cx="293.42" cy="113.4" r="3.25" fill="#306dff"/><circle cx="293.42" cy="120.4" r="3.25" fill="#122efd"/><circle cx="293.42" cy="127.4" r="3.25" fill="#0610f4"/><circle cx="293.42" cy="134.4" r="3.25" fill="#0101f0"/><circle cx="293.42" cy="141.4" r="3.25" fill="#0800f0"/><circle cx="293.42" cy="148.4" r="3.25" fill="#1100f0"/><circle cx="293.42" cy="155.4" r="3.25" fill="#2000f0"/><circle cx="293.42" cy="162.4" r="3.25" fill="#3400f0"/><circle cx="293.42" cy="169.4" r="3.25" fill="#4700f0"/><circle cx="299.48" cy="18.9" r="3.25" fill="#3200f0"/><circle cx="299.48" cy="25.9" r="3.25" fill="#1e00f0"/><circle cx="299.48" cy="32.9" r="3.25" fill="#0f00f0"/><circle cx="299.48" cy="39.9" r="3.25" fill="#0400f0"/><circle cx="299.48" cy="46.9" r="3.25" fill="#0206f2"/><circle cx="299.48" cy="53.9" r="3.25" fill="#0815f6"/><circle cx="299.48" cy="60.9" r="3.25" fill="#1739ff"/><circle cx="299.48" cy="67.9" r="3.25" fill="#3272ff"/><circle cx="299.48" cy="74.9" r="3.25" fill="#72e7ff"/><circle cx="299.48" cy="81.9" r="3.25" fill="#80fc8e"/><circle cx="299.48" cy="88.9" r="3.25" fill="#80f355"/><circle cx="299.48" cy="95.9" r="3.25" fill="#80f355"/><circle cx="299.48" cy="102.9" r="3.25" fill="#80fc8e"/><circle cx="299.48" cy="109.9" r="3.25" fill="#72e7ff"/><circle cx="299.48" cy="116.9" r="3.25" fill="#3272ff"/><circle cx="299.48" cy="123.9" r="3.25" fill="#1739ff"/><circle cx="299.48" cy="130.9" r="3.25" fill="#0815f6"/><circle cx="299.48" cy="137.9" r="3.25" fill="#0206f2"/><circle cx="299.48" cy="144.9" r="3.25" fill="#0400f0"/><circle cx="299.48" cy="151.9" r="3.25" fill="#0f00f0"/><circle cx="299.48" cy="158.9" r="3.25" fill="#1e00f0"/><circle cx="299.48" cy="165.9" r="3.25" fill="#3200f0"/><circle cx="305.54" cy="15.4" r="3.25" fill="#3300f0"/><circle cx="305.54" cy="22.4" r="3.25" fill="#1d00f0"/><circle cx="305.54" cy="29.4" r="3.25" fill="#0d00f0"/><circle cx="305.54" cy="36.4" r="3.25" fill="#0200f0"/><circle cx="305.54" cy="43.4" r="3.25" fill="#040af3"/><circle cx="305.54" cy="50.4" r="3.25" fill="#0a19f7"/><circle cx="305.54" cy="57.4" r="3.25" fill="#1a3fff"/><circle cx="305.54" cy="64.4" r="3.25" fill="#3375ff"/><circle cx="305.54" cy="71.4" r="3.25" fill="#64cfff"/><circle cx="305.54" cy="78.4" r="3.25" fill="#80ffa2"/><circle cx="305.54" cy="85.4" r="3.25" fill="#80f24c"/><circle cx="305.54" cy="92.4" r="3.25" fill="#84f040"/><circle cx="305.54" cy="99.4" r="3.25" fill="#80f24c"/><circle cx="305.54" cy="106.4" r="3.25" fill="#80ffa2"/><circle cx="305.54" cy="113.4" r="3.25" fill="#64cfff"/><circle cx="305.54" cy="120.4" r="3.25" fill="#3375ff"/><circle cx="305.54" cy="127.4" r="3.25" fill="#1a3fff"/><circle cx="305.54" cy="134.4" r="3.25" fill="#0a19f7"/><circle cx="305.54" cy="141.4" r="3.25" fill="#040af3"/><circle cx="305.54" cy="148.4" r="3.25" fill="#0200f0"/><circle cx="305.54" cy="155.4" r="3.25" fill="#0d00f0"/><circle cx="305.54" cy="162.4" r="3.25" fill="#1d00f0"/><circle cx="305.54" cy="169.4" r="3.25" fill="#3300f0"/><circle cx="311.6" cy="18.9" r="3.25" fill="#1e00f0"/><circle cx="311.6" cy="25.9" r="3.25" fill="#0c00f0"/><circle cx="311.6" cy="32.9" r="3.25" fill="#0001f0"/><circle cx="311.6" cy="39.9" r="3.25" fill="#050ef4"/><circle cx="311.6" cy="46.9" r="3.25" fill="#0d20f9"/><circle cx="311.6" cy="53.9" r="3.25" fill="#1d46ff"/><circle cx="311.6" cy="60.9" r="3.25" fill="#377cff"/><circle cx="311.6" cy="67.9" r="3.25" fill="#60c7ff"/><circle cx="311.6" cy="74.9" r="3.25" fill="#80ffc4"/><circle cx="311.6" cy="81.9" r="3.25" fill="#80f560"/><circle cx="311.6" cy="88.9" r="3.25" fill="#8ef040"/><circle cx="311.6" cy="95.9" r="3.25" fill="#8ef040"/><circle cx="311.6" cy="102.9" r="3.25" fill="#80f560"/><circle cx="311.6" cy="109.9" r="3.25" fill="#80ffc4"/><circle cx="311.6" cy="116.9" r="3.25" fill="#60c7ff"/><circle cx="311.6" cy="123.9" r="3.25" fill="#377cff"/><circle cx="311.6" cy="130.9" r="3.25" fill="#1d46ff"/><circle cx="311.6" cy="137.9" r="3.25" fill="#0d20f9"/><circle cx="311.6" cy="144.9" r="3.25" fill="#050ef4"/><circle cx="311.6" cy="151.9" r="3.25" fill="#0001f0"/><circle cx="311.6" cy="158.9" r="3.25" fill="#0c00f0"/><circle cx="311.6" cy="165.9" r="3.25" fill="#1e00f0"/><circle cx="317.66" cy="15.4" r="3.25" fill="#2000f0"/><circle cx="317.66" cy="22.4" r="3.25" fill="#0b00f0"/><circle cx="317.66" cy="29.4" r="3.25" fill="#0204f1"/><circle cx="317.66" cy="36.4" r="3.25" fill="#0814f6"/><circle cx="317.66" cy="43.4" r="3.25" fill="#112cfc"/><circle cx="317.66" cy="50.4" r="3.25" fill="#2250ff"/><circle cx="317.66" cy="57.4" r="3.25" fill="#3d8aff"/><circle cx="317.66" cy="64.4" r="3.25" fill="#66d2ff"/><circle cx="317.66" cy="71.4" r="3.25" fill="#80ffd6"/><circle cx="317.66" cy="78.4" r="3.25" fill="#80f97d"/><circle cx="317.66" cy="85.4" r="3.25" fill="#80f042"/><circle cx="317.66" cy="92.4" r="3.25" fill="#82f040"/><circle cx="317.66" cy="99.4" r="3.25" fill="#80f042"/><circle cx="317.66" cy="106.4" r="3.25" fill="#80f97d"/><circle cx="317.66" cy="113.4" r="3.25" fill="#80ffd6"/><circle cx="317.66" cy="120.4" r="3.25" fill="#66d2ff"/><circle cx="317.66" cy="127.4" r="3.25" fill="#3d8aff"/><circle cx="317.66" cy="134.4" r="3.25" fill="#2250ff"/><circle cx="317.66" cy="141.4" r="3.25" fill="#112cfc"/><circle cx="317.66" cy="148.4" r="3.25" fill="#0814f6"/><circle cx="317.66" cy="155.4" r="3.25" fill="#0204f1"/><circle cx="317.66" cy="162.4" r="3.25" fill="#0b00f0"/><circle cx="317.66" cy="169.4" r="3.25" fill="#2000f0"/><circle cx="323.72" cy="18.9" r="3.25" fill="#0300f0"/><circle cx="323.72" cy="25.9" r="3.25" fill="#060ff4"/><circle cx="323.72" cy="32.9" r="3.25" fill="#0f26fb"/><circle cx="323.72" cy="39.9" r="3.25" fill="#1e47ff"/><circle cx="323.72" cy="46.9" r="3.25" fill="#3170ff"/><circle cx="323.72" cy="53.9" r="3.25" fill="#55b4ff"/><circle cx="323.72" cy="60.9" r="3.25" fill="#80fffc"/><circle cx="323.72" cy="67.9" r="3.25" fill="#80ffc0"/><circle cx="323.72" cy="74.9" r="3.25" fill="#80fc8e"/><circle cx="323.72" cy="81.9" r="3.25" fill="#80f55f"/><circle cx="323.72" cy="88.9" r="3.25" fill="#88f040"/><circle cx="323.72" cy="95.9" r="3.25" fill="#88f040"/><circle cx="323.72" cy="102.9" r="3.25" fill="#80f55f"/><circle cx="323.72" cy="109.9" r="3.25" fill="#80fc8e"/><circle cx="323.72" cy="116.9" r="3.25" fill="#80ffc0"/><circle cx="323.72" cy="123.9" r="3.25" fill="#80fffc"/><circle cx="323.72" cy="130.9" r="3.25" fill="#55b4ff"/><circle cx="323.72" cy="137.9" r="3.25" fill="#3170ff"/><circle cx="323.72" cy="144.9" r="3.25" fill="#1e47ff"/><circle cx="323.72" cy="151.9" r="3.25" fill="#0f26fb"/><circle cx="323.72" cy="158.9" r="3.25" fill="#060ff4"/><circle cx="323.72" cy="165.9" r="3.25" fill="#0300f0"/><circle cx="329.78" cy="15.4" r="3.25" fill="#0b1bf8"/><circle cx="329.78" cy="22.4" r="3.25" fill="#1638ff"/><circle cx="329.78" cy="29.4" r="3.25" fill="#2558ff"/><circle cx="329.78" cy="36.4" r="3.25" fill="#3b84ff"/><circle cx="329.78" cy="43.4" r="3.25" fill="#5bbeff"/><circle cx="329.78" cy="50.4" r="3.25" fill="#80fffd"/><circle cx="329.78" cy="57.4" r="3.25" fill="#80ffb4"/><circle cx="329.78" cy="64.4" r="3.25" fill="#80fb87"/><circle cx="329.78" cy="71.4" r="3.25" fill="#80f979"/><circle cx="329.78" cy="78.4" r="3.25" fill="#80f24c"/><circle cx="329.78" cy="85.4" r="3.25" fill="#daf437"/><circle cx="329.78" cy="92.4" r="3.25" fill="#f6ec2e"/><circle cx="329.78" cy="99.4" r="3.25" fill="#daf437"/><circle cx="329.78" cy="106.4" r="3.25" fill="#80f24c"/><circle cx="329.78" cy="113.4" r="3.25" fill="#80f979"/><circle cx="329.78" cy="120.4" r="3.25" fill="#80fb87"/><circle cx="329.78" cy="127.4" r="3.25" fill="#80ffb4"/><circle cx="329.78" cy="134.4" r="3.25" fill="#80fffd"/><circle cx="329.78" cy="141.4" r="3.25" fill="#5bbeff"/><circle cx="329.78" cy="148.4" r="3.25" fill="#3b84ff"/><circle cx="329.78" cy="155.4" r="3.25" fill="#2558ff"/><circle cx="329.78" cy="162.4" r="3.25" fill="#1638ff"/><circle cx="329.78" cy="169.4" r="3.25" fill="#0b1bf8"/><circle cx="335.84" cy="18.9" r="3.25" fill="#377eff"/><circle cx="335.84" cy="25.9" r="3.25" fill="#4ca5ff"/><circle cx="335.84" cy="32.9" r="3.25" fill="#6ad8ff"/><circle cx="335.84" cy="39.9" r="3.25" fill="#80ffeb"/><circle cx="335.84" cy="46.9" r="3.25" fill="#80ffbc"/><circle cx="335.84" cy="53.9" r="3.25" fill="#80fa82"/><circle cx="335.84" cy="60.9" r="3.25" fill="#80f459"/><circle cx="335.84" cy="67.9" r="3.25" fill="#80f353"/><circle cx="335.84" cy="74.9" r="3.25" fill="#84f040"/><circle cx="335.84" cy="81.9" r="3.25" fill="#f4dd2c"/><circle cx="335.84" cy="88.9" r="3.25" fill="#de3f1b"/><circle cx="335.84" cy="95.9" r="3.25" fill="#de3f1b"/><circle cx="335.84" cy="102.9" r="3.25" fill="#f4dd2c"/><circle cx="335.84" cy="109.9" r="3.25" fill="#84f040"/><circle cx="335.84" cy="116.9" r="3.25" fill="#80f353"/><circle cx="335.84" cy="123.9" r="3.25" fill="#80f459"/><circle cx="335.84" cy="130.9" r="3.25" fill="#80fa82"/><circle cx="335.84" cy="137.9" r="3.25" fill="#80ffbc"/><circle cx="335.84" cy="144.9" r="3.25" fill="#80ffeb"/><circle cx="335.84" cy="151.9" r="3.25" fill="#6ad8ff"/><circle cx="335.84" cy="158.9" r="3.25" fill="#4ca5ff"/><circle cx="335.84" cy="165.9" r="3.25" fill="#377eff"/><circle cx="341.9" cy="15.4" r="3.25" fill="#3982ff"/><circle cx="341.9" cy="22.4" r="3.25" fill="#4da7ff"/><circle cx="341.9" cy="29.4" r="3.25" fill="#68d5ff"/><circle cx="341.9" cy="36.4" r="3.25" fill="#80fff0"/><circle cx="341.9" cy="43.4" r="3.25" fill="#80ffbe"/><circle cx="341.9" cy="50.4" r="3.25" fill="#80fc8b"/><circle cx="341.9" cy="57.4" r="3.25" fill="#80f55f"/><circle cx="341.9" cy="64.4" r="3.25" fill="#80f147"/><circle cx="341.9" cy="71.4" r="3.25" fill="#80f24e"/><circle cx="341.9" cy="78.4" r="3.25" fill="#d2f339"/><circle cx="341.9" cy="85.4" r="3.25" fill="#de3f1b"/><circle cx="341.9" cy="99.4" r="3.25" fill="#de3f1b"/><circle cx="341.9" cy="106.4" r="3.25" fill="#d2f339"/><circle cx="341.9" cy="113.4" r="3.25" fill="#80f24e"/><circle cx="341.9" cy="120.4" r="3.25" fill="#80f147"/><circle cx="341.9" cy="127.4" r="3.25" fill="#80f55f"/><circle cx="341.9" cy="134.4" r="3.25" fill="#80fc8b"/><circle cx="341.9" cy="141.4" r="3.25" fill="#80ffbe"/><circle cx="341.9" cy="148.4" r="3.25" fill="#80fff0"/><circle cx="341.9" cy="155.4" r="3.25" fill="#68d5ff"/><circle cx="341.9" cy="162.4" r="3.25" fill="#4da7ff"/><circle cx="341.9" cy="169.4" r="3.25" fill="#3982ff"/><circle cx="347.96" cy="18.9" r="3.25" fill="#377eff"/><circle cx="347.96" cy="25.9" r="3.25" fill="#4ca5ff"/><circle cx="347.96" cy="32.9" r="3.25" fill="#6ad8ff"/><circle cx="347.96" cy="39.9" r="3.25" fill="#80ffeb"/><circle cx="347.96" cy="46.9" r="3.25" fill="#80ffbc"/><circle cx="347.96" cy="53.9" r="3.25" fill="#80fa82"/><circle cx="347.96" cy="60.9" r="3.25" fill="#80f459"/><circle cx="347.96" cy="67.9" r="3.25" fill="#80f353"/><circle cx="347.96" cy="74.9" r="3.25" fill="#84f040"/><circle cx="347.96" cy="81.9" r="3.25" fill="#f4dd2c"/><circle cx="347.96" cy="88.9" r="3.25" fill="#de3f1b"/><circle cx="347.96" cy="95.9" r="3.25" fill="#de3f1b"/><circle cx="347.96" cy="102.9" r="3.25" fill="#f4dd2c"/><circle cx="347.96" cy="109.9" r="3.25" fill="#84f040"/><circle cx="347.96" cy="116.9" r="3.25" fill="#80f353"/><circle cx="347.96" cy="123.9" r="3.25" fill="#80f459"/><circle cx="347.96" cy="130.9" r="3.25" fill="#80fa82"/><circle cx="347.96" cy="137.9" r="3.25" fill="#80ffbc"/><circle cx="347.96" cy="144.9" r="3.25" fill="#80ffeb"/><circle cx="347.96" cy="151.9" r="3.25" fill="#6ad8ff"/><circle cx="347.96" cy="158.9" r="3.25" fill="#4ca5ff"/><circle cx="347.96" cy="165.9" r="3.25" fill="#377eff"/><circle cx="354.02" cy="15.4" r="3.25" fill="#0b1bf8"/><circle cx="354.02" cy="22.4" r="3.25" fill="#1638ff"/><circle cx="354.02" cy="29.4" r="3.25" fill="#2558ff"/><circle cx="354.02" cy="36.4" r="3.25" fill="#3b84ff"/><circle cx="354.02" cy="43.4" r="3.25" fill="#5bbeff"/><circle cx="354.02" cy="50.4" r="3.25" fill="#80fffd"/><circle cx="354.02" cy="57.4" r="3.25" fill="#80ffb4"/><circle cx="354.02" cy="64.4" r="3.25" fill="#80fb87"/><circle cx="354.02" cy="71.4" r="3.25" fill="#80f979"/><circle cx="354.02" cy="78.4" r="3.25" fill="#80f24c"/><circle cx="354.02" cy="85.4" r="3.25" fill="#daf437"/><circle cx="354.02" cy="92.4" r="3.25" fill="#f6ec2e"/><circle cx="354.02" cy="99.4" r="3.25" fill="#daf437"/><circle cx="354.02" cy="106.4" r="3.25" fill="#80f24c"/><circle cx="354.02" cy="113.4" r="3.25" fill="#80f979"/><circle cx="354.02" cy="120.4" r="3.25" fill="#80fb87"/><circle cx="354.02" cy="127.4" r="3.25" fill="#80ffb4"/><circle cx="354.02" cy="134.4" r="3.25" fill="#80fffd"/><circle cx="354.02" cy="141.4" r="3.25" fill="#5bbeff"/><circle cx="354.02" cy="148.4" r="3.25" fill="#3b84ff"/><circle cx="354.02" cy="155.4" r="3.25" fill="#2558ff"/><circle cx="354.02" cy="162.4" r="3.25" fill="#1638ff"/><circle cx="354.02" cy="169.4" r="3.25" fill="#0b1bf8"/><circle cx="360.08" cy="18.9" r="3.25" fill="#0300f0"/><circle cx="360.08" cy="25.9" r="3.25" fill="#060ff4"/><circle cx="360.08" cy="32.9" r="3.25" fill="#0f26fb"/><circle cx="360.08" cy="39.9" r="3.25" fill="#1e47ff"/><circle cx="360.08" cy="46.9" r="3.25" fill="#3170ff"/><circle cx="360.08" cy="53.9" r="3.25" fill="#55b4ff"/><circle cx="360.08" cy="60.9" r="3.25" fill="#80fffc"/><circle cx="360.08" cy="67.9" r="3.25" fill="#80ffc0"/><circle cx="360.08" cy="74.9" r="3.25" fill="#80fc8e"/><circle cx="360.08" cy="81.9" r="3.25" fill="#80f55f"/><circle cx="360.08" cy="88.9" r="3.25" fill="#88f040"/><circle cx="360.08" cy="95.9" r="3.25" fill="#88f040"/><circle cx="360.08" cy="102.9" r="3.25" fill="#80f55f"/><circle cx="360.08" cy="109.9" r="3.25" fill="#80fc8e"/><circle cx="360.08" cy="116.9" r="3.25" fill="#80ffc0"/><circle cx="360.08" cy="123.9" r="3.25" fill="#80fffc"/><circle cx="360.08" cy="130.9" r="3.25" fill="#55b4ff"/><circle cx="360.08" cy="137.9" r="3.25" fill="#3170ff"/><circle cx="360.08" cy="144.9" r="3.25" fill="#1e47ff"/><circle cx="360.08" cy="151.9" r="3.25" fill="#0f26fb"/><circle cx="360.08" cy="158.9" r="3.25" fill="#060ff4"/><circle cx="360.08" cy="165.9" r="3.25" fill="#0300f0"/><circle cx="366.14" cy="15.4" r="3.25" fill="#2000f0"/><circle cx="366.14" cy="22.4" r="3.25" fill="#0b00f0"/><circle cx="366.14" cy="29.4" r="3.25" fill="#0204f1"/><circle cx="366.14" cy="36.4" r="3.25" fill="#0814f6"/><circle cx="366.14" cy="43.4" r="3.25" fill="#112cfc"/><circle cx="366.14" cy="50.4" r="3.25" fill="#2250ff"/><circle cx="366.14" cy="57.4" r="3.25" fill="#3d8aff"/><circle cx="366.14" cy="64.4" r="3.25" fill="#66d2ff"/><circle cx="366.14" cy="71.4" r="3.25" fill="#80ffd6"/><circle cx="366.14" cy="78.4" r="3.25" fill="#80f97d"/><circle cx="366.14" cy="85.4" r="3.25" fill="#80f042"/><circle cx="366.14" cy="92.4" r="3.25" fill="#82f040"/><circle cx="366.14" cy="99.4" r="3.25" fill="#80f042"/><circle cx="366.14" cy="106.4" r="3.25" fill="#80f97d"/><circle cx="366.14" cy="113.4" r="3.25" fill="#80ffd6"/><circle cx="366.14" cy="120.4" r="3.25" fill="#66d2ff"/><circle cx="366.14" cy="127.4" r="3.25" fill="#3d8aff"/><circle cx="366.14" cy="134.4" r="3.25" fill="#2250ff"/><circle cx="366.14" cy="141.4" r="3.25" fill="#112cfc"/><circle cx="366.14" cy="148.4" r="3.25" fill="#0814f6"/><circle cx="366.14" cy="155.4" r="3.25" fill="#0204f1"/><circle cx="366.14" cy="162.4" r="3.25" fill="#0b00f0"/><circle cx="366.14" cy="169.4" r="3.25" fill="#2000f0"/><circle cx="372.2" cy="18.9" r="3.25" fill="#1e00f0"/><circle cx="372.2" cy="25.9" r="3.25" fill="#0c00f0"/><circle cx="372.2" cy="32.9" r="3.25" fill="#0001f0"/><circle cx="372.2" cy="39.9" r="3.25" fill="#050ef4"/><circle cx="372.2" cy="46.9" r="3.25" fill="#0d20f9"/><circle cx="372.2" cy="53.9" r="3.25" fill="#1d46ff"/><circle cx="372.2" cy="60.9" r="3.25" fill="#377cff"/><circle cx="372.2" cy="67.9" r="3.25" fill="#60c7ff"/><circle cx="372.2" cy="74.9" r="3.25" fill="#80ffc4"/><circle cx="372.2" cy="81.9" r="3.25" fill="#80f560"/><circle cx="372.2" cy="88.9" r="3.25" fill="#8ef040"/><circle cx="372.2" cy="95.9" r="3.25" fill="#8ef040"/><circle cx="372.2" cy="102.9" r="3.25" fill="#80f560"/><circle cx="372.2" cy="109.9" r="3.25" fill="#80ffc4"/><circle cx="372.2" cy="116.9" r="3.25" fill="#60c7ff"/><circle cx="372.2" cy="123.9" r="3.25" fill="#377cff"/><circle cx="372.2" cy="130.9" r="3.25" fill="#1d46ff"/><circle cx="372.2" cy="137.9" r="3.25" fill="#0d20f9"/><circle cx="372.2" cy="144.9" r="3.25" fill="#050ef4"/><circle cx="372.2" cy="151.9" r="3.25" fill="#0001f0"/><circle cx="372.2" cy="158.9" r="3.25" fill="#0c00f0"/><circle cx="372.2" cy="165.9" r="3.25" fill="#1e00f0"/><circle cx="378.26" cy="15.4" r="3.25" fill="#3300f0"/><circle cx="378.26" cy="22.4" r="3.25" fill="#1d00f0"/><circle cx="378.26" cy="29.4" r="3.25" fill="#0d00f0"/><circle cx="378.26" cy="36.4" r="3.25" fill="#0200f0"/><circle cx="378.26" cy="43.4" r="3.25" fill="#040af3"/><circle cx="378.26" cy="50.4" r="3.25" fill="#0a19f7"/><circle cx="378.26" cy="57.4" r="3.25" fill="#1a3fff"/><circle cx="378.26" cy="64.4" r="3.25" fill="#3375ff"/><circle cx="378.26" cy="71.4" r="3.25" fill="#64cfff"/><circle cx="378.26" cy="78.4" r="3.25" fill="#80ffa2"/><circle cx="378.26" cy="85.4" r="3.25" fill="#80f24c"/><circle cx="378.26" cy="92.4" r="3.25" fill="#84f040"/><circle cx="378.26" cy="99.4" r="3.25" fill="#80f24c"/><circle cx="378.26" cy="106.4" r="3.25" fill="#80ffa2"/><circle cx="378.26" cy="113.4" r="3.25" fill="#64cfff"/><circle cx="378.26" cy="120.4" r="3.25" fill="#3375ff"/><circle cx="378.26" cy="127.4" r="3.25" fill="#1a3fff"/><circle cx="378.26" cy="134.4" r="3.25" fill="#0a19f7"/><circle cx="378.26" cy="141.4" r="3.25" fill="#040af3"/><circle cx="378.26" cy="148.4" r="3.25" fill="#0200f0"/><circle cx="378.26" cy="155.4" r="3.25" fill="#0d00f0"/><circle cx="378.26" cy="162.4" r="3.25" fill="#1d00f0"/><circle cx="378.26" cy="169.4" r="3.25" fill="#3300f0"/><circle cx="384.32" cy="18.9" r="3.25" fill="#3200f0"/><circle cx="384.32" cy="25.9" r="3.25" fill="#1e00f0"/><circle cx="384.32" cy="32.9" r="3.25" fill="#0f00f0"/><circle cx="384.32" cy="39.9" r="3.25" fill="#0400f0"/><circle cx="384.32" cy="46.9" r="3.25" fill="#0206f2"/><circle cx="384.32" cy="53.9" r="3.25" fill="#0815f6"/><circle cx="384.32" cy="60.9" r="3.25" fill="#1739ff"/><circle cx="384.32" cy="67.9" r="3.25" fill="#3272ff"/><circle cx="384.32" cy="74.9" r="3.25" fill="#72e7ff"/><circle cx="384.32" cy="81.9" r="3.25" fill="#80fc8e"/><circle cx="384.32" cy="88.9" r="3.25" fill="#80f355"/><circle cx="384.32" cy="95.9" r="3.25" fill="#80f355"/><circle cx="384.32" cy="102.9" r="3.25" fill="#80fc8e"/><circle cx="384.32" cy="109.9" r="3.25" fill="#72e7ff"/><circle cx="384.32" cy="116.9" r="3.25" fill="#3272ff"/><circle cx="384.32" cy="123.9" r="3.25" fill="#1739ff"/><circle cx="384.32" cy="130.9" r="3.25" fill="#0815f6"/><circle cx="384.32" cy="137.9" r="3.25" fill="#0206f2"/><circle cx="384.32" cy="144.9" r="3.25" fill="#0400f0"/><circle cx="384.32" cy="151.9" r="3.25" fill="#0f00f0"/><circle cx="384.32" cy="158.9" r="3.25" fill="#1e00f0"/><circle cx="384.32" cy="165.9" r="3.25" fill="#3200f0"/><circle cx="390.38" cy="15.4" r="3.25" fill="#4700f0"/><circle cx="390.38" cy="22.4" r="3.25" fill="#3400f0"/><circle cx="390.38" cy="29.4" r="3.25" fill="#2000f0"/><circle cx="390.38" cy="36.4" r="3.25" fill="#1100f0"/><circle cx="390.38" cy="43.4" r="3.25" fill="#0800f0"/><circle cx="390.38" cy="50.4" r="3.25" fill="#0101f0"/><circle cx="390.38" cy="57.4" r="3.25" fill="#0610f4"/><circle cx="390.38" cy="64.4" r="3.25" fill="#122efd"/><circle cx="390.38" cy="71.4" r="3.25" fill="#306dff"/><circle cx="390.38" cy="78.4" r="3.25" fill="#80fffc"/><circle cx="390.38" cy="85.4" r="3.25" fill="#80fa80"/><circle cx="390.38" cy="92.4" r="3.25" fill="#80f76d"/><circle cx="390.38" cy="99.4" r="3.25" fill="#80fa80"/><circle cx="390.38" cy="106.4" r="3.25" fill="#80fffc"/><circle cx="390.38" cy="113.4" r="3.25" fill="#306dff"/><circle cx="390.38" cy="120.4" r="3.25" fill="#122efd"/><circle cx="390.38" cy="127.4" r="3.25" fill="#0610f4"/><circle cx="390.38" cy="134.4" r="3.25" fill="#0101f0"/><circle cx="390.38" cy="141.4" r="3.25" fill="#0800f0"/><circle cx="390.38" cy="148.4" r="3.25" fill="#1100f0"/><circle cx="390.38" cy="155.4" r="3.25" fill="#2000f0"/><circle cx="390.38" cy="162.4" r="3.25" fill="#3400f0"/><circle cx="390.38" cy="169.4" r="3.25" fill="#4700f0"/><circle cx="396.44" cy="18.9" r="3.25" fill="#4900f0"/><circle cx="396.44" cy="25.9" r="3.25" fill="#3700f0"/><circle cx="396.44" cy="32.9" r="3.25" fill="#2500f0"/><circle cx="396.44" cy="39.9" r="3.25" fill="#1400f0"/><circle cx="396.44" cy="46.9" r="3.25" fill="#0c00f0"/><circle cx="396.44" cy="53.9" r="3.25" fill="#0200f0"/><circle cx="396.44" cy="60.9" r="3.25" fill="#040bf3"/><circle cx="396.44" cy="67.9" r="3.25" fill="#1027fb"/><circle cx="396.44" cy="74.9" r="3.25" fill="#3373ff"/><circle cx="396.44" cy="81.9" r="3.25" fill="#80ffef"/><circle cx="396.44" cy="88.9" r="3.25" fill="#80fe97"/><circle cx="396.44" cy="95.9" r="3.25" fill="#80fe97"/><circle cx="396.44" cy="102.9" r="3.25" fill="#80ffef"/><circle cx="396.44" cy="109.9" r="3.25" fill="#3373ff"/><circle cx="396.44" cy="116.9" r="3.25" fill="#1027fb"/><circle cx="396.44" cy="123.9" r="3.25" fill="#040bf3"/><circle cx="396.44" cy="130.9" r="3.25" fill="#0200f0"/><circle cx="396.44" cy="137.9" r="3.25" fill="#0c00f0"/><circle cx="396.44" cy="144.9" r="3.25" fill="#1400f0"/><circle cx="396.44" cy="151.9" r="3.25" fill="#2500f0"/><circle cx="396.44" cy="158.9" r="3.25" fill="#3700f0"/><circle cx="396.44" cy="165.9" r="3.25" fill="#4900f0"/><circle cx="402.5" cy="22.4" r="3.25" fill="#4d00f0"/><circle cx="402.5" cy="29.4" r="3.25" fill="#3b00f0"/><circle cx="402.5" cy="36.4" r="3.25" fill="#2b00f0"/><circle cx="402.5" cy="43.4" r="3.25" fill="#1b00f0"/><circle cx="402.5" cy="50.4" r="3.25" fill="#1000f0"/><circle cx="402.5" cy="57.4" r="3.25" fill="#0700f0"/><circle cx="402.5" cy="64.4" r="3.25" fill="#0307f2"/><circle cx="402.5" cy="71.4" r="3.25" fill="#1027fb"/><circle cx="402.5" cy="78.4" r="3.25" fill="#3f8dff"/><circle cx="402.5" cy="85.4" r="3.25" fill="#80ffd7"/><circle cx="402.5" cy="92.4" r="3.25" fill="#80ffb7"/><circle cx="402.5" cy="99.4" r="3.25" fill="#80ffd7"/><circle cx="402.5" cy="106.4" r="3.25" fill="#3f8dff"/><circle cx="402.5" cy="113.4" r="3.25" fill="#1027fb"/><circle cx="402.5" cy="120.4" r="3.25" fill="#0307f2"/><circle cx="402.5" cy="127.4" r="3.25" fill="#0700f0"/><circle cx="402.5" cy="134.4" r="3.25" fill="#1000f0"/><circle cx="402.5" cy="141.4" r="3.25" fill="#1b00f0"/><circle cx="402.5" cy="148.4" r="3.25" fill="#2b00f0"/><circle cx="402.5" cy="155.4" r="3.25" fill="#3b00f0"/><circle cx="402.5" cy="162.4" r="3.25" fill="#4d00f0"/><circle cx="408.56" cy="32.9" r="3.25" fill="#4200f0"/><circle cx="408.56" cy="39.9" r="3.25" fill="#3300f0"/><circle cx="408.56" cy="46.9" r="3.25" fill="#2400f0"/><circle cx="408.56" cy="53.9" r="3.25" fill="#1700f0"/><circle cx="408.56" cy="60.9" r="3.25" fill="#0c00f0"/><circle cx="408.56" cy="67.9" r="3.25" fill="#0204f1"/><circle cx="408.56" cy="74.9" r="3.25" fill="#1535ff"/><circle cx="408.56" cy="81.9" r="3.25" fill="#54b3ff"/><circle cx="408.56" cy="88.9" r="3.25" fill="#80ffe0"/><circle cx="408.56" cy="95.9" r="3.25" fill="#80ffe0"/><circle cx="408.56" cy="102.9" r="3.25" fill="#54b3ff"/><circle cx="408.56" cy="109.9" r="3.25" fill="#1535ff"/><circle cx="408.56" cy="116.9" r="3.25" fill="#0204f1"/><circle cx="408.56" cy="123.9" r="3.25" fill="#0c00f0"/><circle cx="408.56" cy="130.9" r="3.25" fill="#1700f0"/><circle cx="408.56" cy="137.9" r="3.25" fill="#2400f0"/><circle cx="408.56" cy="144.9" r="3.25" fill="#3300f0"/><circle cx="408.56" cy="151.9" r="3.25" fill="#4200f0"/><circle cx="414.62" cy="36.4" r="3.25" fill="#4a00f0"/><circle cx="414.62" cy="43.4" r="3.25" fill="#3c00f0"/><circle cx="414.62" cy="50.4" r="3.25" fill="#2f00f0"/><circle cx="414.62" cy="57.4" r="3.25" fill="#2300f0"/><circle cx="414.62" cy="64.4" r="3.25" fill="#1400f0"/><circle cx="414.62" cy="71.4" r="3.25" fill="#0103f1"/><circle cx="414.62" cy="78.4" r="3.25" fill="#214fff"/><circle cx="414.62" cy="85.4" r="3.25" fill="#6ee0ff"/><circle cx="414.62" cy="92.4" r="3.25" fill="#80fff7"/><circle cx="414.62" cy="99.4" r="3.25" fill="#6ee0ff"/><circle cx="414.62" cy="106.4" r="3.25" fill="#214fff"/><circle cx="414.62" cy="113.4" r="3.25" fill="#0103f1"/><circle cx="414.62" cy="120.4" r="3.25" fill="#1400f0"/><circle cx="414.62" cy="127.4" r="3.25" fill="#2300f0"/><circle cx="414.62" cy="134.4" r="3.25" fill="#2f00f0"/><circle cx="414.62" cy="141.4" r="3.25" fill="#3c00f0"/><circle cx="414.62" cy="148.4" r="3.25" fill="#4a00f0"/></g><rect x="260.8" y="11.3" width="162.5" height="162.3" fill="none" stroke="#333" stroke-width="1"/><line x1="264.9" y1="11.3" x2="264.9" y2="13.8" stroke="#333" stroke-width="1" /><line x1="264.9" y1="173.6" x2="264.9" y2="171.1" stroke="#333" stroke-width="1" /><line x1="260.8" y1="169.4" x2="263.3" y2="169.4" stroke="#333" stroke-width="1" /><line x1="423.3" y1="169.4" x2="420.8" y2="169.4" stroke="#333" stroke-width="1" /><line x1="272.6" y1="11.3" x2="272.6" y2="13.8" stroke="#333" stroke-width="1" /><line x1="272.6" y1="173.6" x2="272.6" y2="171.1" stroke="#333" stroke-width="1" /><line x1="260.8" y1="161.7" x2="263.3" y2="161.7" stroke="#333" stroke-width="1" /><line x1="423.3" y1="161.7" x2="420.8" y2="161.7" stroke="#333" stroke-width="1" /><line x1="280.3" y1="11.3" x2="280.3" y2="15.8" stroke="#333" stroke-width="1" /><line x1="280.3" y1="173.6" x2="280.3" y2="169.1" stroke="#333" stroke-width="1" /><line x1="260.8" y1="154" x2="265.3" y2="154" stroke="#333" stroke-width="1" /><line x1="423.3" y1="154" x2="418.8" y2="154" stroke="#333" stroke-width="1" /><line x1="288" y1="11.3" x2="288" y2="13.8" stroke="#333" stroke-width="1" /><line x1="288" y1="173.6" x2="288" y2="171.1" stroke="#333" stroke-width="1" /><line x1="260.8" y1="146.3" x2="263.3" y2="146.3" stroke="#333" stroke-width="1" /><line x1="423.3" y1="146.3" x2="420.8" y2="146.3" stroke="#333" stroke-width="1" /><line x1="295.7" y1="11.3" x2="295.7" y2="13.8" stroke="#333" stroke-width="1" /><line x1="295.7" y1="173.6" x2="295.7" y2="171.1" stroke="#333" stroke-width="1" /><line x1="260.8" y1="138.6" x2="263.3" y2="138.6" stroke="#333" stroke-width="1" /><line x1="423.3" y1="138.6" x2="420.8" y2="138.6" stroke="#333" stroke-width="1" /><line x1="303.4" y1="11.3" x2="303.4" y2="13.8" stroke="#333" stroke-width="1" /><line x1="303.4" y1="173.6" x2="303.4" y2="171.1" stroke="#333" stroke-width="1" /><line x1="260.8" y1="130.9" x2="263.3" y2="130.9" stroke="#333" stroke-width="1" /><line x1="423.3" y1="130.9" x2="420.8" y2="130.9" stroke="#333" stroke-width="1" /><line x1="311.1" y1="11.3" x2="311.1" y2="15.8" stroke="#333" stroke-width="1" /><line x1="311.1" y1="173.6" x2="311.1" y2="169.1" stroke="#333" stroke-width="1" /><line x1="260.8" y1="123.2" x2="265.3" y2="123.2" stroke="#333" stroke-width="1" /><line x1="423.3" y1="123.2" x2="418.8" y2="123.2" stroke="#333" stroke-width="1" /><line x1="318.8" y1="11.3" x2="318.8" y2="13.8" stroke="#333" stroke-width="1" /><line x1="318.8" y1="173.6" x2="318.8" y2="171.1" stroke="#333" stroke-width="1" /><line x1="260.8" y1="115.5" x2="263.3" y2="115.5" stroke="#333" stroke-width="1" /><line x1="423.3" y1="115.5" x2="420.8" y2="115.5" stroke="#333" stroke-width="1" /><line x1="326.5" y1="11.3" x2="326.5" y2="13.8" stroke="#333" stroke-width="1" /><line x1="326.5" y1="173.6" x2="326.5" y2="171.1" stroke="#333" stroke-width="1" /><line x1="260.8" y1="107.8" x2="263.3" y2="107.8" stroke="#333" stroke-width="1" /><line x1="423.3" y1="107.8" x2="420.8" y2="107.8" stroke="#333" stroke-width="1" /><line x1="334.2" y1="11.3" x2="334.2" y2="13.8" stroke="#333" stroke-width="1" /><line x1="334.2" y1="173.6" x2="334.2" y2="171.1" stroke="#333" stroke-width="1" /><line x1="260.8" y1="100.1" x2="263.3" y2="100.1" stroke="#333" stroke-width="1" /><line x1="423.3" y1="100.1" x2="420.8" y2="100.1" stroke="#333" stroke-width="1" /><line x1="341.9" y1="11.3" x2="341.9" y2="15.8" stroke="#333" stroke-width="1" /><line x1="341.9" y1="173.6" x2="341.9" y2="169.1" stroke="#333" stroke-width="1" /><line x1="260.8" y1="92.4" x2="265.3" y2="92.4" stroke="#333" stroke-width="1" /><line x1="423.3" y1="92.4" x2="418.8" y2="92.4" stroke="#333" stroke-width="1" /><line x1="349.6" y1="11.3" x2="349.6" y2="13.8" stroke="#333" stroke-width="1" /><line x1="349.6" y1="173.6" x2="349.6" y2="171.1" stroke="#333" stroke-width="1" /><line x1="260.8" y1="84.7" x2="263.3" y2="84.7" stroke="#333" stroke-width="1" /><line x1="423.3" y1="84.7" x2="420.8" y2="84.7" stroke="#333" stroke-width="1" /><line x1="357.3" y1="11.3" x2="357.3" y2="13.8" stroke="#333" stroke-width="1" /><line x1="357.3" y1="173.6" x2="357.3" y2="171.1" stroke="#333" stroke-width="1" /><line x1="260.8" y1="77" x2="263.3" y2="77" stroke="#333" stroke-width="1" /><line x1="423.3" y1="77" x2="420.8" y2="77" stroke="#333" stroke-width="1" /><line x1="365" y1="11.3" x2="365" y2="13.8" stroke="#333" stroke-width="1" /><line x1="365" y1="173.6" x2="365" y2="171.1" stroke="#333" stroke-width="1" /><line x1="260.8" y1="69.3" x2="263.3" y2="69.3" stroke="#333" stroke-width="1" /><line x1="423.3" y1="69.3" x2="420.8" y2="69.3" stroke="#333" stroke-width="1" /><line x1="372.7" y1="11.3" x2="372.7" y2="15.8" stroke="#333" stroke-width="1" /><line x1="372.7" y1="173.6" x2="372.7" y2="169.1" stroke="#333" stroke-width="1" /><line x1="260.8" y1="61.6" x2="265.3" y2="61.6" stroke="#333" stroke-width="1" /><line x1="423.3" y1="61.6" x2="418.8" y2="61.6" stroke="#333" stroke-width="1" /><line x1="380.4" y1="11.3" x2="380.4" y2="13.8" stroke="#333" stroke-width="1" /><line x1="380.4" y1="173.6" x2="380.4" y2="171.1" stroke="#333" stroke-width="1" /><line x1="260.8" y1="53.9" x2="263.3" y2="53.9" stroke="#333" stroke-width="1" /><line x1="423.3" y1="53.9" x2="420.8" y2="53.9" stroke="#333" stroke-width="1" /><line x1="388.1" y1="11.3" x2="388.1" y2="13.8" stroke="#333" stroke-width="1" /><line x1="388.1" y1="173.6" x2="388.1" y2="171.1" stroke="#333" stroke-width="1" /><line x1="260.8" y1="46.2" x2="263.3" y2="46.2" stroke="#333" stroke-width="1" /><line x1="423.3" y1="46.2" x2="420.8" y2="46.2" stroke="#333" stroke-width="1" /><line x1="395.8" y1="11.3" x2="395.8" y2="13.8" stroke="#333" stroke-width="1" /><line x1="395.8" y1="173.6" x2="395.8" y2="171.1" stroke="#333" stroke-width="1" /><line x1="260.8" y1="38.5" x2="263.3" y2="38.5" stroke="#333" stroke-width="1" /><line x1="423.3" y1="38.5" x2="420.8" y2="38.5" stroke="#333" stroke-width="1" /><line x1="403.5" y1="11.3" x2="403.5" y2="15.8" stroke="#333" stroke-width="1" /><line x1="403.5" y1="173.6" x2="403.5" y2="169.1" stroke="#333" stroke-width="1" /><line x1="260.8" y1="30.8" x2="265.3" y2="30.8" stroke="#333" stroke-width="1" /><line x1="423.3" y1="30.8" x2="418.8" y2="30.8" stroke="#333" stroke-width="1" /><line x1="411.2" y1="11.3" x2="411.2" y2="13.8" stroke="#333" stroke-width="1" /><line x1="411.2" y1="173.6" x2="411.2" y2="171.1" stroke="#333" stroke-width="1" /><line x1="260.8" y1="23.1" x2="263.3" y2="23.1" stroke="#333" stroke-width="1" /><line x1="423.3" y1="23.1" x2="420.8" y2="23.1" stroke="#333" stroke-width="1" /><line x1="418.9" y1="11.3" x2="418.9" y2="13.8" stroke="#333" stroke-width="1" /><line x1="418.9" y1="173.6" x2="418.9" y2="171.1" stroke="#333" stroke-width="1" /><line x1="260.8" y1="15.4" x2="263.3" y2="15.4" stroke="#333" stroke-width="1" /><line x1="423.3" y1="15.4" x2="420.8" y2="15.4" stroke="#333" stroke-width="1" /><text x="280.3" y="185.2" font-size="10.5" text-anchor="middle" style="font-family:'Liberation Serif',serif" fill="#000" >-0.4</text><text x="257.8" y="157.3" font-size="10.5" text-anchor="end" style="font-family:'Liberation Serif',serif" fill="#000" >-0.4</text><text x="311.1" y="185.2" font-size="10.5" text-anchor="middle" style="font-family:'Liberation Serif',serif" fill="#000" >-0.2</text><text x="257.8" y="126.5" font-size="10.5" text-anchor="end" style="font-family:'Liberation Serif',serif" fill="#000" >-0.2</text><text x="341.9" y="185.2" font-size="10.5" text-anchor="middle" style="font-family:'Liberation Serif',serif" fill="#000" >0.0</text><text x="257.8" y="95.7" font-size="10.5" text-anchor="end" style="font-family:'Liberation Serif',serif" fill="#000" >0.0</text><text x="372.7" y="185.2" font-size="10.5" text-anchor="middle" style="font-family:'Liberation Serif',serif" fill="#000" >0.2</text><text x="257.8" y="64.9" font-size="10.5" text-anchor="end" style="font-family:'Liberation Serif',serif" fill="#000" >0.2</text><text x="403.5" y="185.2" font-size="10.5" text-anchor="middle" style="font-family:'Liberation Serif',serif" fill="#000" >0.4</text><text x="257.8" y="34.1" font-size="10.5" text-anchor="end" style="font-family:'Liberation Serif',serif" fill="#000" >0.4</text><text x="341.9" y="206.2" font-size="10.9" text-anchor="middle" style="font-family:'Liberation Serif',serif" fill="#000" >Scattering vector <tspan font-style="italic">Q</tspan><tspan font-size="7.5" dy="1.5">X</tspan><tspan dy="-1.5"> (nm</tspan><tspan font-size="7" dy="-4.5">-1</tspan><tspan dy="4.5">)</tspan></text><rect x="139.5" y="24.5" width="62.5" height="13.5" fill="#fff" stroke="#222" stroke-width="1"/><text x="170.7" y="34.4" font-size="10.6" text-anchor="middle" style="font-family:'Liberation Serif',serif" fill="#000" >Experimental</text><rect x="356.5" y="24.5" width="53.8" height="13.5" fill="#fff" stroke="#222" stroke-width="1"/><text x="383.4" y="34.4" font-size="10.6" text-anchor="middle" style="font-family:'Liberation Serif',serif" fill="#000" >Calculation</text><text transform="translate(12.6,92.3) rotate(-90)" font-size="10.9" text-anchor="middle" style="font-family:'Liberation Serif',serif" fill="#111">Scattering vector <tspan font-style="italic">Q</tspan><tspan font-size="7.5" dy="1.5">Y</tspan><tspan dy="-1.5"> (nm</tspan><tspan font-size="7" dy="-4.5">-1</tspan><tspan dy="4.5">)</tspan></text><text x="6" y="10.5" font-size="11.3" text-anchor="start" style="font-family:'Liberation Sans',sans-serif" fill="#000" >(a)</text><defs><linearGradient id="cb" x1="0" y1="0" x2="0" y2="1"><stop offset="0%" stop-color="#d81818"/><stop offset="10.55%" stop-color="#e88020"/><stop offset="21.1%" stop-color="#f8f830"/><stop offset="31.65%" stop-color="#b8f040"/><stop offset="42.19%" stop-color="#80f040"/><stop offset="56.96%" stop-color="#80ffa0"/><stop offset="66.46%" stop-color="#80ffff"/><stop offset="75.95%" stop-color="#4090ff"/><stop offset="84.39%" stop-color="#1535ff"/><stop offset="88.61%" stop-color="#0000f0"/><stop offset="94.94%" stop-color="#6000f0"/><stop offset="100%" stop-color="#8a00e6"/></linearGradient></defs><rect x="433" y="20" width="9.5" height="98.7" fill="url(#cb)" stroke="#333" stroke-width="0.8"/><line x1="442.5" y1="103.6" x2="447.5" y2="103.6" stroke="#333" stroke-width="1" /><text x="451.5" y="107.2" font-size="9.6" style="font-family:'Liberation Serif',serif" fill="#111">10<tspan font-size="6.8" dy="-4.2">2</tspan></text><line x1="442.5" y1="82.8" x2="447.5" y2="82.8" stroke="#333" stroke-width="1" /><text x="451.5" y="86.4" font-size="9.6" style="font-family:'Liberation Serif',serif" fill="#111">10<tspan font-size="6.8" dy="-4.2">3</tspan></text><line x1="442.5" y1="62" x2="447.5" y2="62" stroke="#333" stroke-width="1" /><text x="451.5" y="65.6" font-size="9.6" style="font-family:'Liberation Serif',serif" fill="#111">10<tspan font-size="6.8" dy="-4.2">4</tspan></text><line x1="442.5" y1="41.2" x2="447.5" y2="41.2" stroke="#333" stroke-width="1" /><text x="451.5" y="44.8" font-size="9.6" style="font-family:'Liberation Serif',serif" fill="#111">10<tspan font-size="6.8" dy="-4.2">5</tspan></text><line x1="442.5" y1="20.4" x2="447.5" y2="20.4" stroke="#333" stroke-width="1" /><text x="451.5" y="24" font-size="9.6" style="font-family:'Liberation Serif',serif" fill="#111">10<tspan font-size="6.8" dy="-4.2">6</tspan></text><text transform="translate(477.5,69) rotate(90)" font-size="9.6" text-anchor="middle" style="font-family:'Liberation Serif',serif" fill="#111">Intensity (counts)</text><text x="9.3" y="256.5" font-size="11.5" text-anchor="start" style="font-family:'Liberation Sans',sans-serif" fill="#000" >(b)</text><rect x="38.5" y="332.0" width="172.5" height="172.2" fill="#fff"/><defs><clipPath id="imgclip"><rect x="38.5" y="332" width="172.5" height="172.2"/></clipPath><filter id="blur1" x="-20%" y="-20%" width="140%" height="140%"><feGaussianBlur stdDeviation="0.9"/></filter><filter id="blur3" x="-50%" y="-50%" width="200%" height="200%"><feGaussianBlur stdDeviation="4"/></filter><radialGradient id="halo"><stop offset="0%" stop-color="#000" stop-opacity="1"/><stop offset="22%" stop-color="#000" stop-opacity="0.9"/><stop offset="40%" stop-color="#222" stop-opacity="0.5"/><stop offset="70%" stop-color="#555" stop-opacity="0.18"/><stop offset="100%" stop-color="#777" stop-opacity="0"/></radialGradient></defs><g clip-path="url(#imgclip)"><path d="M84.6,417.1 L122.6,383.1 L160.6,417.1 L122.6,451.1 Z" fill="#b0b0b0" opacity="0.55" filter="url(#blur3)"/><g filter="url(#blur1)"><circle cx="34.1" cy="413.45" r="2.9" fill="rgb(223,223,223)"/><circle cx="40" cy="409.8" r="2.9" fill="rgb(224,224,224)"/><circle cx="40" cy="417.1" r="2.9" fill="rgb(215,215,215)"/><circle cx="45.9" cy="413.45" r="2.9" fill="rgb(204,204,204)"/><circle cx="45.9" cy="428.05" r="2.9" fill="rgb(220,220,220)"/><circle cx="51.8" cy="402.5" r="2.9" fill="rgb(224,224,224)"/><circle cx="51.8" cy="409.8" r="2.9" fill="rgb(221,221,221)"/><circle cx="51.8" cy="424.4" r="2.9" fill="rgb(200,200,200)"/><circle cx="63.6" cy="417.1" r="2.9" fill="rgb(211,211,211)"/><circle cx="63.6" cy="424.4" r="2.9" fill="rgb(212,212,212)"/><circle cx="69.5" cy="413.45" r="2.9" fill="rgb(208,208,208)"/><circle cx="69.5" cy="420.75" r="2.9" fill="rgb(208,208,208)"/><circle cx="69.5" cy="428.05" r="2.9" fill="rgb(223,223,223)"/><circle cx="75.4" cy="409.8" r="2.9" fill="rgb(220,220,220)"/><circle cx="75.4" cy="417.1" r="2.9" fill="rgb(206,206,206)"/><circle cx="75.4" cy="424.4" r="2.9" fill="rgb(219,219,219)"/><circle cx="75.4" cy="431.7" r="2.9" fill="rgb(210,210,210)"/><circle cx="75.4" cy="446.3" r="2.9" fill="rgb(219,219,219)"/><circle cx="81.3" cy="391.55" r="2.9" fill="rgb(222,222,222)"/><circle cx="81.3" cy="406.15" r="2.9" fill="rgb(218,218,218)"/><circle cx="81.3" cy="413.45" r="2.9" fill="rgb(191,191,191)"/><circle cx="81.3" cy="420.75" r="2.9" fill="rgb(175,175,175)"/><circle cx="81.3" cy="428.05" r="2.9" fill="rgb(190,190,190)"/><circle cx="87.2" cy="395.2" r="2.9" fill="rgb(210,210,210)"/><circle cx="87.2" cy="402.5" r="2.9" fill="rgb(220,220,220)"/><circle cx="87.2" cy="409.8" r="2.9" fill="rgb(179,179,179)"/><circle cx="87.2" cy="417.1" r="2.9" fill="rgb(202,202,202)"/><circle cx="87.2" cy="424.4" r="2.9" fill="rgb(208,208,208)"/><circle cx="87.2" cy="431.7" r="2.9" fill="rgb(207,207,207)"/><circle cx="87.2" cy="439" r="2.9" fill="rgb(210,210,210)"/><circle cx="87.2" cy="446.3" r="2.9" fill="rgb(217,217,217)"/><circle cx="87.2" cy="453.6" r="2.9" fill="rgb(224,224,224)"/><circle cx="93.1" cy="376.95" r="2.9" fill="rgb(223,223,223)"/><circle cx="93.1" cy="391.55" r="2.9" fill="rgb(215,215,215)"/><circle cx="93.1" cy="398.85" r="2.9" fill="rgb(223,223,223)"/><circle cx="93.1" cy="406.15" r="2.9" fill="rgb(203,203,203)"/><circle cx="93.1" cy="413.45" r="2.9" fill="rgb(159,159,159)"/><circle cx="93.1" cy="420.75" r="2.9" fill="rgb(173,173,173)"/><circle cx="93.1" cy="428.05" r="2.9" fill="rgb(220,220,220)"/><circle cx="93.1" cy="435.35" r="2.9" fill="rgb(194,194,194)"/><circle cx="93.1" cy="442.65" r="2.9" fill="rgb(206,206,206)"/><circle cx="93.1" cy="457.25" r="2.9" fill="rgb(217,217,217)"/><circle cx="99" cy="380.6" r="2.9" fill="rgb(223,223,223)"/><circle cx="99" cy="387.9" r="2.9" fill="rgb(210,210,210)"/><circle cx="99" cy="395.2" r="2.9" fill="rgb(202,202,202)"/><circle cx="99" cy="402.5" r="2.9" fill="rgb(184,184,184)"/><circle cx="99" cy="409.8" r="2.9" fill="rgb(187,187,187)"/><circle cx="99" cy="417.1" r="2.9" fill="rgb(77,77,77)"/><circle cx="99" cy="424.4" r="2.9" fill="rgb(171,171,171)"/><circle cx="99" cy="431.7" r="2.9" fill="rgb(161,161,161)"/><circle cx="99" cy="439" r="2.9" fill="rgb(182,182,182)"/><circle cx="99" cy="446.3" r="2.9" fill="rgb(222,222,222)"/><circle cx="99" cy="460.9" r="2.9" fill="rgb(217,217,217)"/><circle cx="104.9" cy="376.95" r="2.9" fill="rgb(213,213,213)"/><circle cx="104.9" cy="384.25" r="2.9" fill="rgb(212,212,212)"/><circle cx="104.9" cy="391.55" r="2.9" fill="rgb(175,175,175)"/><circle cx="104.9" cy="398.85" r="2.9" fill="rgb(189,189,189)"/><circle cx="104.9" cy="406.15" r="2.9" fill="rgb(194,194,194)"/><circle cx="104.9" cy="413.45" r="2.9" fill="rgb(171,171,171)"/><circle cx="104.9" cy="420.75" r="2.9" fill="rgb(123,123,123)"/><circle cx="104.9" cy="428.05" r="2.9" fill="rgb(186,186,186)"/><circle cx="104.9" cy="435.35" r="2.9" fill="rgb(170,170,170)"/><circle cx="104.9" cy="442.65" r="2.9" fill="rgb(184,184,184)"/><circle cx="104.9" cy="449.95" r="2.9" fill="rgb(204,204,204)"/><circle cx="104.9" cy="457.25" r="2.9" fill="rgb(208,208,208)"/><circle cx="110.8" cy="358.7" r="2.9" fill="rgb(221,221,221)"/><circle cx="110.8" cy="380.6" r="2.9" fill="rgb(201,201,201)"/><circle cx="110.8" cy="387.9" r="2.9" fill="rgb(193,193,193)"/><circle cx="110.8" cy="395.2" r="2.9" fill="rgb(167,167,167)"/><circle cx="110.8" cy="402.5" r="2.9" fill="rgb(154,154,154)"/><circle cx="110.8" cy="409.8" r="2.9" fill="rgb(87,87,87)"/><circle cx="110.8" cy="417.1" r="2.9" fill="rgb(126,126,126)"/><circle cx="110.8" cy="424.4" r="2.9" fill="rgb(117,117,117)"/><circle cx="110.8" cy="431.7" r="2.9" fill="rgb(188,188,188)"/><circle cx="110.8" cy="439" r="2.9" fill="rgb(218,218,218)"/><circle cx="110.8" cy="446.3" r="2.9" fill="rgb(205,205,205)"/><circle cx="110.8" cy="453.6" r="2.9" fill="rgb(184,184,184)"/><circle cx="110.8" cy="468.2" r="2.9" fill="rgb(214,214,214)"/><circle cx="116.7" cy="347.75" r="2.9" fill="rgb(221,221,221)"/><circle cx="116.7" cy="355.05" r="2.9" fill="rgb(210,210,210)"/><circle cx="116.7" cy="362.35" r="2.9" fill="rgb(191,191,191)"/><circle cx="116.7" cy="376.95" r="2.9" fill="rgb(203,203,203)"/><circle cx="116.7" cy="384.25" r="2.9" fill="rgb(218,218,218)"/><circle cx="116.7" cy="391.55" r="2.9" fill="rgb(170,170,170)"/><circle cx="116.7" cy="398.85" r="2.9" fill="rgb(142,142,142)"/><circle cx="116.7" cy="406.15" r="2.9" fill="rgb(171,171,171)"/><circle cx="116.7" cy="413.45" r="2.9" fill="rgb(163,163,163)"/><circle cx="116.7" cy="420.75" r="2.9" fill="rgb(93,93,93)"/><circle cx="116.7" cy="428.05" r="2.9" fill="rgb(108,108,108)"/><circle cx="116.7" cy="435.35" r="2.9" fill="rgb(181,181,181)"/><circle cx="116.7" cy="442.65" r="2.9" fill="rgb(185,185,185)"/><circle cx="116.7" cy="449.95" r="2.9" fill="rgb(224,224,224)"/><circle cx="116.7" cy="457.25" r="2.9" fill="rgb(214,214,214)"/><circle cx="116.7" cy="464.55" r="2.9" fill="rgb(213,213,213)"/><circle cx="116.7" cy="471.85" r="2.9" fill="rgb(220,220,220)"/><circle cx="116.7" cy="479.15" r="2.9" fill="rgb(214,214,214)"/><circle cx="122.6" cy="344.1" r="2.9" fill="rgb(221,221,221)"/><circle cx="122.6" cy="358.7" r="2.9" fill="rgb(220,220,220)"/><circle cx="122.6" cy="366" r="2.9" fill="rgb(180,180,180)"/><circle cx="122.6" cy="373.3" r="2.9" fill="rgb(208,208,208)"/><circle cx="122.6" cy="380.6" r="2.9" fill="rgb(168,168,168)"/><circle cx="122.6" cy="387.9" r="2.9" fill="rgb(175,175,175)"/><circle cx="122.6" cy="395.2" r="2.9" fill="rgb(166,166,166)"/><circle cx="122.6" cy="402.5" r="2.9" fill="rgb(45,45,45)"/><circle cx="122.6" cy="409.8" r="2.9" fill="rgb(45,45,45)"/><circle cx="122.6" cy="417.1" r="2.9" fill="rgb(61,61,61)"/><circle cx="122.6" cy="424.4" r="2.9" fill="rgb(45,45,45)"/><circle cx="122.6" cy="431.7" r="2.9" fill="rgb(170,170,170)"/><circle cx="122.6" cy="439" r="2.9" fill="rgb(174,174,174)"/><circle cx="122.6" cy="446.3" r="2.9" fill="rgb(148,148,148)"/><circle cx="122.6" cy="453.6" r="2.9" fill="rgb(189,189,189)"/><circle cx="122.6" cy="460.9" r="2.9" fill="rgb(216,216,216)"/><circle cx="122.6" cy="468.2" r="2.9" fill="rgb(207,207,207)"/><circle cx="122.6" cy="475.5" r="2.9" fill="rgb(217,217,217)"/><circle cx="122.6" cy="482.8" r="2.9" fill="rgb(214,214,214)"/><circle cx="122.6" cy="490.1" r="2.9" fill="rgb(224,224,224)"/><circle cx="128.5" cy="347.75" r="2.9" fill="rgb(223,223,223)"/><circle cx="128.5" cy="355.05" r="2.9" fill="rgb(224,224,224)"/><circle cx="128.5" cy="362.35" r="2.9" fill="rgb(223,223,223)"/><circle cx="128.5" cy="369.65" r="2.9" fill="rgb(204,204,204)"/><circle cx="128.5" cy="376.95" r="2.9" fill="rgb(210,210,210)"/><circle cx="128.5" cy="384.25" r="2.9" fill="rgb(190,190,190)"/><circle cx="128.5" cy="391.55" r="2.9" fill="rgb(208,208,208)"/><circle cx="128.5" cy="398.85" r="2.9" fill="rgb(172,172,172)"/><circle cx="128.5" cy="406.15" r="2.9" fill="rgb(63,63,63)"/><circle cx="128.5" cy="413.45" r="2.9" fill="rgb(145,145,145)"/><circle cx="128.5" cy="420.75" r="2.9" fill="rgb(160,160,160)"/><circle cx="128.5" cy="428.05" r="2.9" fill="rgb(141,141,141)"/><circle cx="128.5" cy="435.35" r="2.9" fill="rgb(93,93,93)"/><circle cx="128.5" cy="442.65" r="2.9" fill="rgb(136,136,136)"/><circle cx="128.5" cy="449.95" r="2.9" fill="rgb(200,200,200)"/><circle cx="128.5" cy="457.25" r="2.9" fill="rgb(212,212,212)"/><circle cx="128.5" cy="464.55" r="2.9" fill="rgb(216,216,216)"/><circle cx="134.4" cy="373.3" r="2.9" fill="rgb(224,224,224)"/><circle cx="134.4" cy="380.6" r="2.9" fill="rgb(187,187,187)"/><circle cx="134.4" cy="387.9" r="2.9" fill="rgb(212,212,212)"/><circle cx="134.4" cy="395.2" r="2.9" fill="rgb(198,198,198)"/><circle cx="134.4" cy="402.5" r="2.9" fill="rgb(183,183,183)"/><circle cx="134.4" cy="409.8" r="2.9" fill="rgb(170,170,170)"/><circle cx="134.4" cy="417.1" r="2.9" fill="rgb(124,124,124)"/><circle cx="134.4" cy="424.4" r="2.9" fill="rgb(121,121,121)"/><circle cx="134.4" cy="431.7" r="2.9" fill="rgb(115,115,115)"/><circle cx="134.4" cy="439" r="2.9" fill="rgb(169,169,169)"/><circle cx="134.4" cy="446.3" r="2.9" fill="rgb(198,198,198)"/><circle cx="134.4" cy="453.6" r="2.9" fill="rgb(222,222,222)"/><circle cx="134.4" cy="460.9" r="2.9" fill="rgb(218,218,218)"/><circle cx="140.3" cy="376.95" r="2.9" fill="rgb(201,201,201)"/><circle cx="140.3" cy="384.25" r="2.9" fill="rgb(204,204,204)"/><circle cx="140.3" cy="391.55" r="2.9" fill="rgb(193,193,193)"/><circle cx="140.3" cy="398.85" r="2.9" fill="rgb(181,181,181)"/><circle cx="140.3" cy="406.15" r="2.9" fill="rgb(165,165,165)"/><circle cx="140.3" cy="413.45" r="2.9" fill="rgb(141,141,141)"/><circle cx="140.3" cy="420.75" r="2.9" fill="rgb(191,191,191)"/><circle cx="140.3" cy="428.05" r="2.9" fill="rgb(166,166,166)"/><circle cx="140.3" cy="435.35" r="2.9" fill="rgb(176,176,176)"/><circle cx="140.3" cy="442.65" r="2.9" fill="rgb(219,219,219)"/><circle cx="140.3" cy="449.95" r="2.9" fill="rgb(201,201,201)"/><circle cx="140.3" cy="457.25" r="2.9" fill="rgb(212,212,212)"/><circle cx="146.2" cy="380.6" r="2.9" fill="rgb(224,224,224)"/><circle cx="146.2" cy="402.5" r="2.9" fill="rgb(199,199,199)"/><circle cx="146.2" cy="409.8" r="2.9" fill="rgb(194,194,194)"/><circle cx="146.2" cy="417.1" r="2.9" fill="rgb(133,133,133)"/><circle cx="146.2" cy="424.4" r="2.9" fill="rgb(196,196,196)"/><circle cx="146.2" cy="431.7" r="2.9" fill="rgb(212,212,212)"/><circle cx="146.2" cy="439" r="2.9" fill="rgb(216,216,216)"/><circle cx="146.2" cy="446.3" r="2.9" fill="rgb(189,189,189)"/><circle cx="146.2" cy="453.6" r="2.9" fill="rgb(221,221,221)"/><circle cx="152.1" cy="384.25" r="2.9" fill="rgb(215,215,215)"/><circle cx="152.1" cy="391.55" r="2.9" fill="rgb(213,213,213)"/><circle cx="152.1" cy="398.85" r="2.9" fill="rgb(208,208,208)"/><circle cx="152.1" cy="406.15" r="2.9" fill="rgb(190,190,190)"/><circle cx="152.1" cy="413.45" r="2.9" fill="rgb(217,217,217)"/><circle cx="152.1" cy="420.75" r="2.9" fill="rgb(194,194,194)"/><circle cx="152.1" cy="428.05" r="2.9" fill="rgb(210,210,210)"/><circle cx="152.1" cy="435.35" r="2.9" fill="rgb(176,176,176)"/><circle cx="152.1" cy="442.65" r="2.9" fill="rgb(218,218,218)"/><circle cx="152.1" cy="457.25" r="2.9" fill="rgb(222,222,222)"/><circle cx="158" cy="380.6" r="2.9" fill="rgb(223,223,223)"/><circle cx="158" cy="402.5" r="2.9" fill="rgb(223,223,223)"/><circle cx="158" cy="409.8" r="2.9" fill="rgb(189,189,189)"/><circle cx="158" cy="417.1" r="2.9" fill="rgb(195,195,195)"/><circle cx="158" cy="424.4" r="2.9" fill="rgb(182,182,182)"/><circle cx="158" cy="431.7" r="2.9" fill="rgb(210,210,210)"/><circle cx="158" cy="446.3" r="2.9" fill="rgb(217,217,217)"/><circle cx="158" cy="453.6" r="2.9" fill="rgb(214,214,214)"/><circle cx="163.9" cy="398.85" r="2.9" fill="rgb(215,215,215)"/><circle cx="163.9" cy="406.15" r="2.9" fill="rgb(200,200,200)"/><circle cx="163.9" cy="413.45" r="2.9" fill="rgb(201,201,201)"/><circle cx="163.9" cy="420.75" r="2.9" fill="rgb(203,203,203)"/><circle cx="163.9" cy="428.05" r="2.9" fill="rgb(222,222,222)"/><circle cx="163.9" cy="435.35" r="2.9" fill="rgb(218,218,218)"/><circle cx="169.8" cy="395.2" r="2.9" fill="rgb(222,222,222)"/><circle cx="169.8" cy="402.5" r="2.9" fill="rgb(218,218,218)"/><circle cx="169.8" cy="417.1" r="2.9" fill="rgb(211,211,211)"/><circle cx="169.8" cy="424.4" r="2.9" fill="rgb(212,212,212)"/><circle cx="175.7" cy="406.15" r="2.9" fill="rgb(205,205,205)"/><circle cx="175.7" cy="413.45" r="2.9" fill="rgb(206,206,206)"/><circle cx="175.7" cy="420.75" r="2.9" fill="rgb(207,207,207)"/><circle cx="175.7" cy="435.35" r="2.9" fill="rgb(220,220,220)"/><circle cx="181.6" cy="409.8" r="2.9" fill="rgb(219,219,219)"/><circle cx="181.6" cy="417.1" r="2.9" fill="rgb(217,217,217)"/><circle cx="181.6" cy="439" r="2.9" fill="rgb(223,223,223)"/><circle cx="187.5" cy="413.45" r="2.9" fill="rgb(216,216,216)"/><circle cx="187.5" cy="420.75" r="2.9" fill="rgb(182,182,182)"/><circle cx="193.4" cy="409.8" r="2.9" fill="rgb(215,215,215)"/><circle cx="193.4" cy="417.1" r="2.9" fill="rgb(224,224,224)"/><circle cx="193.4" cy="424.4" r="2.9" fill="rgb(224,224,224)"/><circle cx="199.3" cy="413.45" r="2.9" fill="rgb(209,209,209)"/><circle cx="199.3" cy="428.05" r="2.9" fill="rgb(215,215,215)"/><circle cx="205.2" cy="409.8" r="2.9" fill="rgb(220,220,220)"/><circle cx="205.2" cy="424.4" r="2.9" fill="rgb(217,217,217)"/><circle cx="211.1" cy="420.75" r="2.9" fill="rgb(222,222,222)"/><rect x="134.71" y="382.41" width="1.2" height="1.2" fill="rgb(181,181,181)"/><rect x="119.29" y="422.51" width="1.2" height="1.2" fill="rgb(218,218,218)"/><rect x="128.56" y="397.6" width="1.2" height="1.2" fill="rgb(198,198,198)"/><rect x="133.91" y="403.75" width="1.2" height="1.2" fill="rgb(209,209,209)"/><rect x="131.01" y="431.82" width="1.2" height="1.2" fill="rgb(182,182,182)"/><rect x="198.46" y="437.67" width="1.2" height="1.2" fill="rgb(216,216,216)"/><rect x="115.11" y="348.59" width="1.2" height="1.2" fill="rgb(211,211,211)"/><rect x="95.32" y="401.16" width="1.2" height="1.2" fill="rgb(188,188,188)"/><rect x="112.12" y="404.62" width="1.2" height="1.2" fill="rgb(211,211,211)"/><rect x="80.6" y="369.2" width="1.2" height="1.2" fill="rgb(213,213,213)"/><rect x="157.92" y="413.58" width="1.2" height="1.2" fill="rgb(180,180,180)"/><rect x="131.83" y="399.48" width="1.2" height="1.2" fill="rgb(204,204,204)"/><rect x="132.38" y="386.69" width="1.2" height="1.2" fill="rgb(209,209,209)"/><rect x="86.67" y="369.59" width="1.2" height="1.2" fill="rgb(183,183,183)"/><rect x="110.76" y="480.87" width="1.2" height="1.2" fill="rgb(180,180,180)"/><rect x="96.74" y="434.02" width="1.2" height="1.2" fill="rgb(209,209,209)"/><rect x="127.07" y="398" width="1.2" height="1.2" fill="rgb(202,202,202)"/><rect x="129.55" y="501.1" width="1.2" height="1.2" fill="rgb(206,206,206)"/><rect x="92.5" y="419.89" width="1.2" height="1.2" fill="rgb(203,203,203)"/><rect x="125.18" y="389.68" width="1.2" height="1.2" fill="rgb(184,184,184)"/><rect x="145.27" y="359.16" width="1.2" height="1.2" fill="rgb(200,200,200)"/><rect x="115.11" y="368.68" width="1.2" height="1.2" fill="rgb(226,226,226)"/><rect x="116.15" y="449.28" width="1.2" height="1.2" fill="rgb(204,204,204)"/><rect x="106.31" y="417.38" width="1.2" height="1.2" fill="rgb(210,210,210)"/><rect x="114.63" y="440.36" width="1.2" height="1.2" fill="rgb(207,207,207)"/><rect x="108.53" y="393.08" width="1.2" height="1.2" fill="rgb(213,213,213)"/><rect x="140.79" y="432.6" width="1.2" height="1.2" fill="rgb(213,213,213)"/><rect x="158.61" y="392.47" width="1.2" height="1.2" fill="rgb(194,194,194)"/><rect x="131.16" y="435.34" width="1.2" height="1.2" fill="rgb(191,191,191)"/><rect x="147.53" y="409.43" width="1.2" height="1.2" fill="rgb(230,230,230)"/><rect x="132.1" y="411.88" width="1.2" height="1.2" fill="rgb(191,191,191)"/><rect x="165.03" y="432.85" width="1.2" height="1.2" fill="rgb(213,213,213)"/><rect x="113.06" y="428.74" width="1.2" height="1.2" fill="rgb(207,207,207)"/><rect x="122.43" y="430.15" width="1.2" height="1.2" fill="rgb(224,224,224)"/><rect x="123.64" y="425.83" width="1.2" height="1.2" fill="rgb(206,206,206)"/><rect x="143.89" y="452.51" width="1.2" height="1.2" fill="rgb(222,222,222)"/><rect x="137.99" y="420.79" width="1.2" height="1.2" fill="rgb(194,194,194)"/><rect x="116.11" y="407.07" width="1.2" height="1.2" fill="rgb(216,216,216)"/><rect x="133.42" y="433.22" width="1.2" height="1.2" fill="rgb(182,182,182)"/><rect x="47.29" y="407.61" width="1.2" height="1.2" fill="rgb(230,230,230)"/><rect x="154.33" y="436.23" width="1.2" height="1.2" fill="rgb(188,188,188)"/><rect x="153.43" y="409.49" width="1.2" height="1.2" fill="rgb(180,180,180)"/><rect x="182.15" y="396.06" width="1.2" height="1.2" fill="rgb(193,193,193)"/><rect x="154.13" y="390.22" width="1.2" height="1.2" fill="rgb(208,208,208)"/><rect x="110.17" y="443.85" width="1.2" height="1.2" fill="rgb(223,223,223)"/><rect x="128.09" y="495.73" width="1.2" height="1.2" fill="rgb(184,184,184)"/><rect x="102.87" y="418.96" width="1.2" height="1.2" fill="rgb(222,222,222)"/><rect x="120.19" y="435.87" width="1.2" height="1.2" fill="rgb(199,199,199)"/><rect x="122.84" y="441.44" width="1.2" height="1.2" fill="rgb(227,227,227)"/><rect x="76.06" y="391.93" width="1.2" height="1.2" fill="rgb(195,195,195)"/><rect x="112.8" y="431.77" width="1.2" height="1.2" fill="rgb(182,182,182)"/><rect x="143.54" y="402.58" width="1.2" height="1.2" fill="rgb(212,212,212)"/><rect x="126.52" y="407.84" width="1.2" height="1.2" fill="rgb(205,205,205)"/><rect x="108.55" y="421.11" width="1.2" height="1.2" fill="rgb(186,186,186)"/><rect x="112.92" y="388.4" width="1.2" height="1.2" fill="rgb(181,181,181)"/><rect x="136.1" y="402.12" width="1.2" height="1.2" fill="rgb(199,199,199)"/><rect x="173.25" y="411.41" width="1.2" height="1.2" fill="rgb(214,214,214)"/><rect x="94.27" y="446.36" width="1.2" height="1.2" fill="rgb(229,229,229)"/><rect x="141.69" y="377.66" width="1.2" height="1.2" fill="rgb(216,216,216)"/><rect x="142.9" y="373.11" width="1.2" height="1.2" fill="rgb(229,229,229)"/><rect x="95.2" y="426.17" width="1.2" height="1.2" fill="rgb(201,201,201)"/><rect x="97.43" y="429.68" width="1.2" height="1.2" fill="rgb(180,180,180)"/><rect x="121.37" y="454.77" width="1.2" height="1.2" fill="rgb(214,214,214)"/><rect x="175.59" y="379.25" width="1.2" height="1.2" fill="rgb(214,214,214)"/><rect x="100.55" y="416.47" width="1.2" height="1.2" fill="rgb(209,209,209)"/><rect x="116.78" y="422.65" width="1.2" height="1.2" fill="rgb(188,188,188)"/><rect x="196.8" y="439.9" width="1.2" height="1.2" fill="rgb(226,226,226)"/><rect x="118.98" y="445.61" width="1.2" height="1.2" fill="rgb(219,219,219)"/><rect x="81.95" y="448.06" width="1.2" height="1.2" fill="rgb(203,203,203)"/><rect x="103.06" y="425.07" width="1.2" height="1.2" fill="rgb(180,180,180)"/><rect x="72.09" y="414.66" width="1.2" height="1.2" fill="rgb(190,190,190)"/><rect x="161.39" y="441.32" width="1.2" height="1.2" fill="rgb(228,228,228)"/><rect x="133.62" y="448.69" width="1.2" height="1.2" fill="rgb(216,216,216)"/><rect x="179.52" y="432.18" width="1.2" height="1.2" fill="rgb(207,207,207)"/><rect x="112.41" y="396.59" width="1.2" height="1.2" fill="rgb(186,186,186)"/><rect x="113.11" y="377.49" width="1.2" height="1.2" fill="rgb(207,207,207)"/><rect x="101.89" y="420.3" width="1.2" height="1.2" fill="rgb(204,204,204)"/><rect x="80.37" y="482.57" width="1.2" height="1.2" fill="rgb(221,221,221)"/><rect x="57.5" y="398.69" width="1.2" height="1.2" fill="rgb(228,228,228)"/><rect x="67.85" y="393.11" width="1.2" height="1.2" fill="rgb(200,200,200)"/><rect x="129.9" y="397.98" width="1.2" height="1.2" fill="rgb(208,208,208)"/><rect x="101.93" y="459.37" width="1.2" height="1.2" fill="rgb(191,191,191)"/><rect x="106.65" y="422.92" width="1.2" height="1.2" fill="rgb(217,217,217)"/><rect x="111.71" y="372.88" width="1.2" height="1.2" fill="rgb(225,225,225)"/><rect x="123.47" y="403.14" width="1.2" height="1.2" fill="rgb(194,194,194)"/><rect x="135.64" y="406.66" width="1.2" height="1.2" fill="rgb(185,185,185)"/><rect x="115.57" y="419.36" width="1.2" height="1.2" fill="rgb(205,205,205)"/><rect x="110.6" y="435.96" width="1.2" height="1.2" fill="rgb(195,195,195)"/><rect x="45.47" y="395.56" width="1.2" height="1.2" fill="rgb(191,191,191)"/><rect x="106.58" y="377.8" width="1.2" height="1.2" fill="rgb(215,215,215)"/><rect x="101.14" y="443.84" width="1.2" height="1.2" fill="rgb(230,230,230)"/><rect x="139.32" y="426.71" width="1.2" height="1.2" fill="rgb(189,189,189)"/><rect x="124.26" y="420.51" width="1.2" height="1.2" fill="rgb(199,199,199)"/><rect x="108.86" y="408.81" width="1.2" height="1.2" fill="rgb(205,205,205)"/><rect x="173.74" y="361.56" width="1.2" height="1.2" fill="rgb(206,206,206)"/><rect x="156.76" y="442.95" width="1.2" height="1.2" fill="rgb(216,216,216)"/><rect x="140.62" y="417.46" width="1.2" height="1.2" fill="rgb(193,193,193)"/><rect x="189.84" y="492.38" width="1.2" height="1.2" fill="rgb(195,195,195)"/><rect x="179.39" y="432.44" width="1.2" height="1.2" fill="rgb(220,220,220)"/><rect x="108.9" y="398.51" width="1.2" height="1.2" fill="rgb(208,208,208)"/><rect x="116.96" y="427.6" width="1.2" height="1.2" fill="rgb(184,184,184)"/><rect x="99.22" y="415.01" width="1.2" height="1.2" fill="rgb(195,195,195)"/><rect x="120.9" y="386.55" width="1.2" height="1.2" fill="rgb(198,198,198)"/><rect x="126.4" y="401.98" width="1.2" height="1.2" fill="rgb(184,184,184)"/><rect x="123.11" y="430.03" width="1.2" height="1.2" fill="rgb(192,192,192)"/><rect x="72.63" y="446.14" width="1.2" height="1.2" fill="rgb(183,183,183)"/><rect x="116.54" y="357.39" width="1.2" height="1.2" fill="rgb(213,213,213)"/><rect x="123.97" y="378.98" width="1.2" height="1.2" fill="rgb(193,193,193)"/><rect x="89.97" y="468.49" width="1.2" height="1.2" fill="rgb(181,181,181)"/><rect x="127" y="375.96" width="1.2" height="1.2" fill="rgb(207,207,207)"/><rect x="105.28" y="419.96" width="1.2" height="1.2" fill="rgb(222,222,222)"/><rect x="174.45" y="436.89" width="1.2" height="1.2" fill="rgb(180,180,180)"/><rect x="126.86" y="378.85" width="1.2" height="1.2" fill="rgb(193,193,193)"/><rect x="125.66" y="449.55" width="1.2" height="1.2" fill="rgb(201,201,201)"/><rect x="169.12" y="394.17" width="1.2" height="1.2" fill="rgb(207,207,207)"/><rect x="46.93" y="427.22" width="1.2" height="1.2" fill="rgb(213,213,213)"/><rect x="124.1" y="421.29" width="1.2" height="1.2" fill="rgb(202,202,202)"/><rect x="126.37" y="366.47" width="1.2" height="1.2" fill="rgb(200,200,200)"/><rect x="129.56" y="402.2" width="1.2" height="1.2" fill="rgb(200,200,200)"/><rect x="160.28" y="337.14" width="1.2" height="1.2" fill="rgb(208,208,208)"/><rect x="158.97" y="393.31" width="1.2" height="1.2" fill="rgb(188,188,188)"/><rect x="119.93" y="451.64" width="1.2" height="1.2" fill="rgb(180,180,180)"/><rect x="114.07" y="409.01" width="1.2" height="1.2" fill="rgb(218,218,218)"/><rect x="102.36" y="460.06" width="1.2" height="1.2" fill="rgb(187,187,187)"/><rect x="117.77" y="412.78" width="1.2" height="1.2" fill="rgb(226,226,226)"/><rect x="95.54" y="463.83" width="1.2" height="1.2" fill="rgb(193,193,193)"/><rect x="94.06" y="439.8" width="1.2" height="1.2" fill="rgb(227,227,227)"/><rect x="149.26" y="418.26" width="1.2" height="1.2" fill="rgb(192,192,192)"/><rect x="126.49" y="467" width="1.2" height="1.2" fill="rgb(229,229,229)"/><rect x="118.73" y="445.12" width="1.2" height="1.2" fill="rgb(210,210,210)"/><rect x="125.67" y="414.44" width="1.2" height="1.2" fill="rgb(201,201,201)"/><rect x="47.61" y="387.87" width="1.2" height="1.2" fill="rgb(197,197,197)"/><rect x="121.86" y="427.94" width="1.2" height="1.2" fill="rgb(214,214,214)"/><rect x="163.75" y="411.7" width="1.2" height="1.2" fill="rgb(202,202,202)"/><rect x="136.43" y="401.04" width="1.2" height="1.2" fill="rgb(218,218,218)"/><rect x="124.73" y="405.08" width="1.2" height="1.2" fill="rgb(203,203,203)"/><rect x="106.83" y="369.28" width="1.2" height="1.2" fill="rgb(226,226,226)"/><rect x="120.14" y="380.51" width="1.2" height="1.2" fill="rgb(203,203,203)"/><rect x="128.02" y="446.58" width="1.2" height="1.2" fill="rgb(191,191,191)"/><rect x="178.22" y="429.64" width="1.2" height="1.2" fill="rgb(210,210,210)"/><rect x="149.8" y="452.11" width="1.2" height="1.2" fill="rgb(213,213,213)"/><rect x="90.41" y="397.97" width="1.2" height="1.2" fill="rgb(190,190,190)"/><rect x="180.98" y="470.19" width="1.2" height="1.2" fill="rgb(224,224,224)"/><rect x="138.66" y="485.38" width="1.2" height="1.2" fill="rgb(218,218,218)"/><rect x="121" y="420.3" width="1.2" height="1.2" fill="rgb(192,192,192)"/><rect x="107.89" y="402.45" width="1.2" height="1.2" fill="rgb(186,186,186)"/><rect x="127.41" y="414.25" width="1.2" height="1.2" fill="rgb(209,209,209)"/><rect x="99.31" y="417.65" width="1.2" height="1.2" fill="rgb(226,226,226)"/><rect x="126.92" y="407.9" width="1.2" height="1.2" fill="rgb(195,195,195)"/><rect x="137.42" y="387.63" width="1.2" height="1.2" fill="rgb(199,199,199)"/><rect x="65.93" y="396.42" width="1.2" height="1.2" fill="rgb(186,186,186)"/><rect x="133.74" y="388.69" width="1.2" height="1.2" fill="rgb(208,208,208)"/><rect x="73.84" y="372.22" width="1.2" height="1.2" fill="rgb(197,197,197)"/><rect x="45.58" y="400.63" width="1.2" height="1.2" fill="rgb(221,221,221)"/><rect x="115.46" y="443.66" width="1.2" height="1.2" fill="rgb(203,203,203)"/><rect x="135.32" y="412.5" width="1.2" height="1.2" fill="rgb(186,186,186)"/><rect x="170.35" y="423.61" width="1.2" height="1.2" fill="rgb(218,218,218)"/><rect x="124.15" y="378.81" width="1.2" height="1.2" fill="rgb(214,214,214)"/><rect x="152.27" y="448.96" width="1.2" height="1.2" fill="rgb(195,195,195)"/><rect x="125.18" y="408.42" width="1.2" height="1.2" fill="rgb(222,222,222)"/><rect x="74.85" y="452.28" width="1.2" height="1.2" fill="rgb(186,186,186)"/><rect x="56.84" y="419.42" width="1.2" height="1.2" fill="rgb(227,227,227)"/><rect x="108.32" y="411.07" width="1.2" height="1.2" fill="rgb(216,216,216)"/><rect x="136.8" y="408.8" width="1.2" height="1.2" fill="rgb(207,207,207)"/><rect x="161.15" y="399.38" width="1.2" height="1.2" fill="rgb(195,195,195)"/><rect x="69.14" y="442.23" width="1.2" height="1.2" fill="rgb(230,230,230)"/><rect x="152.02" y="388.42" width="1.2" height="1.2" fill="rgb(180,180,180)"/><rect x="93.86" y="405.67" width="1.2" height="1.2" fill="rgb(198,198,198)"/><rect x="133.21" y="415.07" width="1.2" height="1.2" fill="rgb(211,211,211)"/><rect x="102.12" y="450.93" width="1.2" height="1.2" fill="rgb(205,205,205)"/><rect x="102.76" y="471.68" width="1.2" height="1.2" fill="rgb(180,180,180)"/><rect x="151.77" y="414.03" width="1.2" height="1.2" fill="rgb(199,199,199)"/><rect x="123.07" y="420.03" width="1.2" height="1.2" fill="rgb(189,189,189)"/><rect x="108.57" y="444.53" width="1.2" height="1.2" fill="rgb(224,224,224)"/><rect x="142.41" y="374.65" width="1.2" height="1.2" fill="rgb(193,193,193)"/><rect x="112.29" y="420.9" width="1.2" height="1.2" fill="rgb(202,202,202)"/><rect x="120.79" y="387.55" width="1.2" height="1.2" fill="rgb(216,216,216)"/><rect x="130.66" y="379.55" width="1.2" height="1.2" fill="rgb(180,180,180)"/><rect x="135.05" y="497.54" width="1.2" height="1.2" fill="rgb(194,194,194)"/><rect x="121.44" y="437.04" width="1.2" height="1.2" fill="rgb(186,186,186)"/><rect x="153.83" y="384.92" width="1.2" height="1.2" fill="rgb(185,185,185)"/><rect x="116.1" y="425.94" width="1.2" height="1.2" fill="rgb(229,229,229)"/><rect x="117.23" y="386.17" width="1.2" height="1.2" fill="rgb(182,182,182)"/><rect x="103.22" y="434" width="1.2" height="1.2" fill="rgb(228,228,228)"/><rect x="132.86" y="483.94" width="1.2" height="1.2" fill="rgb(192,192,192)"/><rect x="154.95" y="384.56" width="1.2" height="1.2" fill="rgb(195,195,195)"/><rect x="100.9" y="425.13" width="1.2" height="1.2" fill="rgb(196,196,196)"/><rect x="105.11" y="423.13" width="1.2" height="1.2" fill="rgb(196,196,196)"/><rect x="120.3" y="391.31" width="1.2" height="1.2" fill="rgb(203,203,203)"/><rect x="117.83" y="403.77" width="1.2" height="1.2" fill="rgb(204,204,204)"/><rect x="178.82" y="398.86" width="1.2" height="1.2" fill="rgb(197,197,197)"/><rect x="107.63" y="415.05" width="1.2" height="1.2" fill="rgb(189,189,189)"/><rect x="90.77" y="352.47" width="1.2" height="1.2" fill="rgb(215,215,215)"/><rect x="115.98" y="385.26" width="1.2" height="1.2" fill="rgb(215,215,215)"/><rect x="108.98" y="424.06" width="1.2" height="1.2" fill="rgb(196,196,196)"/><rect x="100.37" y="377.19" width="1.2" height="1.2" fill="rgb(198,198,198)"/><rect x="118.39" y="374.66" width="1.2" height="1.2" fill="rgb(198,198,198)"/><rect x="137.61" y="429.99" width="1.2" height="1.2" fill="rgb(201,201,201)"/><rect x="105.81" y="423.9" width="1.2" height="1.2" fill="rgb(181,181,181)"/><rect x="141.92" y="379.18" width="1.2" height="1.2" fill="rgb(226,226,226)"/><rect x="118.42" y="467.69" width="1.2" height="1.2" fill="rgb(217,217,217)"/><rect x="62.27" y="388.96" width="1.2" height="1.2" fill="rgb(219,219,219)"/><rect x="147.72" y="451.39" width="1.2" height="1.2" fill="rgb(180,180,180)"/><rect x="145.35" y="412.97" width="1.2" height="1.2" fill="rgb(210,210,210)"/><rect x="149.2" y="413.51" width="1.2" height="1.2" fill="rgb(206,206,206)"/><rect x="67.77" y="400.73" width="1.2" height="1.2" fill="rgb(203,203,203)"/><rect x="152.71" y="404.19" width="1.2" height="1.2" fill="rgb(204,204,204)"/><rect x="111.3" y="405.35" width="1.2" height="1.2" fill="rgb(183,183,183)"/><rect x="185.01" y="361.13" width="1.2" height="1.2" fill="rgb(208,208,208)"/><rect x="101.76" y="423.26" width="1.2" height="1.2" fill="rgb(215,215,215)"/><rect x="140.14" y="406.91" width="1.2" height="1.2" fill="rgb(196,196,196)"/><rect x="102.06" y="418.5" width="1.2" height="1.2" fill="rgb(200,200,200)"/><rect x="80.41" y="439.78" width="1.2" height="1.2" fill="rgb(188,188,188)"/><rect x="156.98" y="432.19" width="1.2" height="1.2" fill="rgb(214,214,214)"/><rect x="89.87" y="451.67" width="1.2" height="1.2" fill="rgb(197,197,197)"/><rect x="72.21" y="390.53" width="1.2" height="1.2" fill="rgb(225,225,225)"/><rect x="110.42" y="363.86" width="1.2" height="1.2" fill="rgb(194,194,194)"/><rect x="176.28" y="429.56" width="1.2" height="1.2" fill="rgb(219,219,219)"/><rect x="126.27" y="453.17" width="1.2" height="1.2" fill="rgb(207,207,207)"/><rect x="121.15" y="403.97" width="1.2" height="1.2" fill="rgb(214,214,214)"/><rect x="104.29" y="469.8" width="1.2" height="1.2" fill="rgb(206,206,206)"/><rect x="50.3" y="417.67" width="1.2" height="1.2" fill="rgb(205,205,205)"/><rect x="123.41" y="473.57" width="1.2" height="1.2" fill="rgb(223,223,223)"/><rect x="78.91" y="411.86" width="1.2" height="1.2" fill="rgb(190,190,190)"/><rect x="148.93" y="418.49" width="1.2" height="1.2" fill="rgb(217,217,217)"/><rect x="79.89" y="405.9" width="1.2" height="1.2" fill="rgb(213,213,213)"/><rect x="97.3" y="379.14" width="1.2" height="1.2" fill="rgb(229,229,229)"/><rect x="136.88" y="397.06" width="1.2" height="1.2" fill="rgb(187,187,187)"/><rect x="158.38" y="440.57" width="1.2" height="1.2" fill="rgb(218,218,218)"/><rect x="182.92" y="423.96" width="1.2" height="1.2" fill="rgb(224,224,224)"/><rect x="90.2" y="427" width="1.2" height="1.2" fill="rgb(215,215,215)"/><rect x="203.11" y="443.14" width="1.2" height="1.2" fill="rgb(228,228,228)"/><rect x="108.03" y="419.51" width="1.2" height="1.2" fill="rgb(221,221,221)"/><rect x="56.26" y="419.83" width="1.2" height="1.2" fill="rgb(204,204,204)"/><rect x="132.53" y="396.41" width="1.2" height="1.2" fill="rgb(196,196,196)"/><rect x="114.64" y="412.4" width="1.2" height="1.2" fill="rgb(184,184,184)"/><rect x="167.54" y="417.42" width="1.2" height="1.2" fill="rgb(229,229,229)"/><rect x="112.32" y="417.3" width="1.2" height="1.2" fill="rgb(194,194,194)"/><rect x="129.61" y="430.97" width="1.2" height="1.2" fill="rgb(213,213,213)"/><rect x="116.1" y="435.48" width="1.2" height="1.2" fill="rgb(188,188,188)"/><rect x="83.95" y="467.16" width="1.2" height="1.2" fill="rgb(214,214,214)"/><rect x="107.87" y="441.26" width="1.2" height="1.2" fill="rgb(196,196,196)"/><rect x="107.77" y="433.43" width="1.2" height="1.2" fill="rgb(211,211,211)"/><rect x="122.71" y="363.17" width="1.2" height="1.2" fill="rgb(222,222,222)"/><rect x="86.33" y="385.54" width="1.2" height="1.2" fill="rgb(199,199,199)"/><rect x="186.99" y="464.6" width="1.2" height="1.2" fill="rgb(216,216,216)"/><rect x="131.43" y="501.6" width="1.2" height="1.2" fill="rgb(224,224,224)"/><rect x="92.92" y="416.58" width="1.2" height="1.2" fill="rgb(230,230,230)"/><rect x="125.61" y="395.43" width="1.2" height="1.2" fill="rgb(190,190,190)"/><rect x="140.72" y="364.49" width="1.2" height="1.2" fill="rgb(227,227,227)"/><rect x="113.78" y="435.49" width="1.2" height="1.2" fill="rgb(201,201,201)"/><rect x="123.56" y="341.88" width="1.2" height="1.2" fill="rgb(187,187,187)"/><rect x="163.93" y="422.89" width="1.2" height="1.2" fill="rgb(200,200,200)"/><rect x="106.17" y="428.69" width="1.2" height="1.2" fill="rgb(217,217,217)"/><rect x="160.74" y="403.93" width="1.2" height="1.2" fill="rgb(188,188,188)"/><rect x="127.44" y="423.08" width="1.2" height="1.2" fill="rgb(222,222,222)"/><rect x="105.14" y="412.91" width="1.2" height="1.2" fill="rgb(186,186,186)"/><rect x="49.97" y="415" width="1.2" height="1.2" fill="rgb(203,203,203)"/><rect x="75.76" y="432.81" width="1.2" height="1.2" fill="rgb(183,183,183)"/><rect x="115.01" y="349.8" width="1.2" height="1.2" fill="rgb(190,190,190)"/><rect x="113.07" y="410.65" width="1.2" height="1.2" fill="rgb(190,190,190)"/><rect x="129.51" y="429.83" width="1.2" height="1.2" fill="rgb(191,191,191)"/><rect x="131.34" y="494.25" width="1.2" height="1.2" fill="rgb(204,204,204)"/><rect x="156.1" y="426.8" width="1.2" height="1.2" fill="rgb(211,211,211)"/><rect x="112.93" y="407.09" width="1.2" height="1.2" fill="rgb(202,202,202)"/><rect x="133.21" y="429.56" width="1.2" height="1.2" fill="rgb(196,196,196)"/><rect x="125.41" y="402.92" width="1.2" height="1.2" fill="rgb(223,223,223)"/><rect x="157.08" y="417.1" width="1.2" height="1.2" fill="rgb(184,184,184)"/><rect x="86.2" y="477.62" width="1.2" height="1.2" fill="rgb(213,213,213)"/><rect x="118.18" y="432.47" width="1.2" height="1.2" fill="rgb(183,183,183)"/><rect x="146.93" y="381.12" width="1.2" height="1.2" fill="rgb(194,194,194)"/><rect x="198.48" y="389.08" width="1.2" height="1.2" fill="rgb(228,228,228)"/><rect x="124.73" y="373.78" width="1.2" height="1.2" fill="rgb(225,225,225)"/><rect x="46.03" y="423.06" width="1.2" height="1.2" fill="rgb(189,189,189)"/><rect x="104.73" y="374.71" width="1.2" height="1.2" fill="rgb(222,222,222)"/><rect x="52.88" y="432.74" width="1.2" height="1.2" fill="rgb(225,225,225)"/><rect x="118.64" y="404.41" width="1.2" height="1.2" fill="rgb(196,196,196)"/><rect x="97.1" y="357.79" width="1.2" height="1.2" fill="rgb(214,214,214)"/><rect x="134.13" y="392.81" width="1.2" height="1.2" fill="rgb(198,198,198)"/><rect x="147.67" y="435.43" width="1.2" height="1.2" fill="rgb(195,195,195)"/><rect x="78.32" y="352.02" width="1.2" height="1.2" fill="rgb(228,228,228)"/><rect x="157.89" y="499.25" width="1.2" height="1.2" fill="rgb(213,213,213)"/><rect x="111.61" y="386.19" width="1.2" height="1.2" fill="rgb(215,215,215)"/><rect x="179.72" y="429.59" width="1.2" height="1.2" fill="rgb(185,185,185)"/><rect x="151.9" y="474.16" width="1.2" height="1.2" fill="rgb(229,229,229)"/><rect x="116.38" y="419.11" width="1.2" height="1.2" fill="rgb(187,187,187)"/><rect x="108.42" y="356.38" width="1.2" height="1.2" fill="rgb(193,193,193)"/><rect x="146.9" y="394.64" width="1.2" height="1.2" fill="rgb(226,226,226)"/><rect x="124.48" y="469.07" width="1.2" height="1.2" fill="rgb(229,229,229)"/><rect x="80.32" y="417.8" width="1.2" height="1.2" fill="rgb(222,222,222)"/><rect x="113.07" y="421.6" width="1.2" height="1.2" fill="rgb(207,207,207)"/><rect x="114.95" y="431.7" width="1.2" height="1.2" fill="rgb(226,226,226)"/><rect x="105.97" y="398.91" width="1.2" height="1.2" fill="rgb(201,201,201)"/><rect x="113.25" y="421.53" width="1.2" height="1.2" fill="rgb(222,222,222)"/><rect x="92.88" y="445.79" width="1.2" height="1.2" fill="rgb(186,186,186)"/><rect x="125.96" y="406.13" width="1.2" height="1.2" fill="rgb(180,180,180)"/><rect x="108.42" y="431.96" width="1.2" height="1.2" fill="rgb(220,220,220)"/><rect x="108.4" y="434.39" width="1.2" height="1.2" fill="rgb(209,209,209)"/><rect x="120.2" y="343.06" width="1.2" height="1.2" fill="rgb(224,224,224)"/><rect x="78.38" y="417.66" width="1.2" height="1.2" fill="rgb(196,196,196)"/><rect x="132.64" y="405.23" width="1.2" height="1.2" fill="rgb(217,217,217)"/><rect x="109.67" y="416.01" width="1.2" height="1.2" fill="rgb(210,210,210)"/><rect x="88.51" y="414.67" width="1.2" height="1.2" fill="rgb(183,183,183)"/><rect x="131.58" y="443.09" width="1.2" height="1.2" fill="rgb(183,183,183)"/><rect x="66.1" y="416.94" width="1.2" height="1.2" fill="rgb(199,199,199)"/><rect x="80.77" y="445.54" width="1.2" height="1.2" fill="rgb(214,214,214)"/><rect x="134.07" y="425.22" width="1.2" height="1.2" fill="rgb(221,221,221)"/><rect x="155.76" y="500.79" width="1.2" height="1.2" fill="rgb(202,202,202)"/><rect x="108.42" y="457.64" width="1.2" height="1.2" fill="rgb(183,183,183)"/><rect x="110.46" y="378.69" width="1.2" height="1.2" fill="rgb(182,182,182)"/><rect x="59.9" y="380.5" width="1.2" height="1.2" fill="rgb(187,187,187)"/><rect x="92.77" y="412.51" width="1.2" height="1.2" fill="rgb(211,211,211)"/><rect x="175.85" y="481.27" width="1.2" height="1.2" fill="rgb(201,201,201)"/><rect x="124.94" y="425.99" width="1.2" height="1.2" fill="rgb(184,184,184)"/><rect x="139.35" y="412.27" width="1.2" height="1.2" fill="rgb(227,227,227)"/><rect x="102.8" y="353.18" width="1.2" height="1.2" fill="rgb(208,208,208)"/><rect x="162.19" y="458.03" width="1.2" height="1.2" fill="rgb(198,198,198)"/><rect x="99.65" y="443.79" width="1.2" height="1.2" fill="rgb(223,223,223)"/><rect x="140" y="427.48" width="1.2" height="1.2" fill="rgb(205,205,205)"/><rect x="130.41" y="450.26" width="1.2" height="1.2" fill="rgb(213,213,213)"/><rect x="79.41" y="396.25" width="1.2" height="1.2" fill="rgb(184,184,184)"/><rect x="131.81" y="425.74" width="1.2" height="1.2" fill="rgb(183,183,183)"/><rect x="76.62" y="378.51" width="1.2" height="1.2" fill="rgb(197,197,197)"/><rect x="66.11" y="407.61" width="1.2" height="1.2" fill="rgb(181,181,181)"/><rect x="130.43" y="466.28" width="1.2" height="1.2" fill="rgb(225,225,225)"/><rect x="121.45" y="406.06" width="1.2" height="1.2" fill="rgb(185,185,185)"/><rect x="89.12" y="393.57" width="1.2" height="1.2" fill="rgb(214,214,214)"/><rect x="121.27" y="426.67" width="1.2" height="1.2" fill="rgb(190,190,190)"/><rect x="59.58" y="396.91" width="1.2" height="1.2" fill="rgb(220,220,220)"/><rect x="114.63" y="417.82" width="1.2" height="1.2" fill="rgb(206,206,206)"/><rect x="122.08" y="428" width="1.2" height="1.2" fill="rgb(201,201,201)"/><rect x="114.24" y="423.24" width="1.2" height="1.2" fill="rgb(215,215,215)"/><rect x="133.14" y="439.7" width="1.2" height="1.2" fill="rgb(206,206,206)"/><rect x="109.2" y="389.61" width="1.2" height="1.2" fill="rgb(212,212,212)"/><rect x="72.58" y="419.09" width="1.2" height="1.2" fill="rgb(217,217,217)"/><rect x="125.61" y="488.58" width="1.2" height="1.2" fill="rgb(208,208,208)"/><rect x="109.35" y="446.56" width="1.2" height="1.2" fill="rgb(199,199,199)"/><rect x="86.28" y="414.51" width="1.2" height="1.2" fill="rgb(187,187,187)"/><rect x="116.43" y="418.05" width="1.2" height="1.2" fill="rgb(224,224,224)"/><rect x="47.56" y="425.06" width="1.2" height="1.2" fill="rgb(210,210,210)"/><rect x="177.47" y="425.46" width="1.2" height="1.2" fill="rgb(210,210,210)"/><rect x="165.03" y="442.22" width="1.2" height="1.2" fill="rgb(203,203,203)"/><rect x="126.59" y="382.52" width="1.2" height="1.2" fill="rgb(202,202,202)"/><rect x="172.23" y="415.87" width="1.2" height="1.2" fill="rgb(228,228,228)"/><rect x="105.28" y="412.93" width="1.2" height="1.2" fill="rgb(180,180,180)"/><rect x="86.39" y="460.26" width="1.2" height="1.2" fill="rgb(220,220,220)"/><rect x="92.95" y="369.07" width="1.2" height="1.2" fill="rgb(206,206,206)"/><rect x="95.42" y="404" width="1.2" height="1.2" fill="rgb(229,229,229)"/><rect x="95.01" y="405.81" width="1.2" height="1.2" fill="rgb(189,189,189)"/><rect x="140.64" y="424.98" width="1.2" height="1.2" fill="rgb(182,182,182)"/><rect x="195.94" y="418.76" width="1.2" height="1.2" fill="rgb(229,229,229)"/><rect x="113.64" y="473.17" width="1.2" height="1.2" fill="rgb(195,195,195)"/><rect x="113.35" y="422.06" width="1.2" height="1.2" fill="rgb(202,202,202)"/><rect x="132.14" y="404.88" width="1.2" height="1.2" fill="rgb(181,181,181)"/><rect x="125.67" y="433.47" width="1.2" height="1.2" fill="rgb(194,194,194)"/><rect x="107.44" y="455.72" width="1.2" height="1.2" fill="rgb(201,201,201)"/><rect x="117.59" y="423.16" width="1.2" height="1.2" fill="rgb(219,219,219)"/><rect x="143.07" y="428.09" width="1.2" height="1.2" fill="rgb(212,212,212)"/><rect x="140.25" y="490.24" width="1.2" height="1.2" fill="rgb(195,195,195)"/><rect x="189.36" y="372.64" width="1.2" height="1.2" fill="rgb(187,187,187)"/><rect x="127.38" y="445.48" width="1.2" height="1.2" fill="rgb(228,228,228)"/><rect x="161.71" y="417.29" width="1.2" height="1.2" fill="rgb(204,204,204)"/><rect x="106.02" y="429.53" width="1.2" height="1.2" fill="rgb(222,222,222)"/><rect x="99.32" y="428.02" width="1.2" height="1.2" fill="rgb(195,195,195)"/><rect x="125.12" y="400.45" width="1.2" height="1.2" fill="rgb(197,197,197)"/><rect x="162.98" y="422.23" width="1.2" height="1.2" fill="rgb(184,184,184)"/></g><circle cx="122.6" cy="417.1" r="32" fill="url(#halo)"/><circle cx="122.6" cy="417.1" r="7.2" fill="#c8c8c8" stroke="#333" stroke-width="0.6"/></g><rect x="38.5" y="332.0" width="172.5" height="172.2" fill="none" stroke="#333" stroke-width="0.9"/><line x1="41.48" y1="504.2" x2="41.48" y2="506.9" stroke="#333" stroke-width="0.9" /><line x1="47.63" y1="504.2" x2="47.63" y2="506.9" stroke="#333" stroke-width="0.9" /><line x1="53.79" y1="504.2" x2="53.79" y2="506.9" stroke="#333" stroke-width="0.9" /><line x1="59.94" y1="504.2" x2="59.94" y2="506.9" stroke="#333" stroke-width="0.9" /><line x1="66.1" y1="504.2" x2="66.1" y2="508.7" stroke="#333" stroke-width="0.9" /><line x1="72.25" y1="504.2" x2="72.25" y2="506.9" stroke="#333" stroke-width="0.9" /><line x1="78.41" y1="504.2" x2="78.41" y2="506.9" stroke="#333" stroke-width="0.9" /><line x1="84.56" y1="504.2" x2="84.56" y2="506.9" stroke="#333" stroke-width="0.9" /><line x1="90.72" y1="504.2" x2="90.72" y2="506.9" stroke="#333" stroke-width="0.9" /><line x1="96.88" y1="504.2" x2="96.88" y2="508.7" stroke="#333" stroke-width="0.9" /><line x1="103.03" y1="504.2" x2="103.03" y2="506.9" stroke="#333" stroke-width="0.9" /><line x1="109.19" y1="504.2" x2="109.19" y2="506.9" stroke="#333" stroke-width="0.9" /><line x1="115.34" y1="504.2" x2="115.34" y2="506.9" stroke="#333" stroke-width="0.9" /><line x1="121.5" y1="504.2" x2="121.5" y2="506.9" stroke="#333" stroke-width="0.9" /><line x1="127.65" y1="504.2" x2="127.65" y2="508.7" stroke="#333" stroke-width="0.9" /><line x1="133.81" y1="504.2" x2="133.81" y2="506.9" stroke="#333" stroke-width="0.9" /><line x1="139.96" y1="504.2" x2="139.96" y2="506.9" stroke="#333" stroke-width="0.9" /><line x1="146.12" y1="504.2" x2="146.12" y2="506.9" stroke="#333" stroke-width="0.9" /><line x1="152.27" y1="504.2" x2="152.27" y2="506.9" stroke="#333" stroke-width="0.9" /><line x1="158.43" y1="504.2" x2="158.43" y2="508.7" stroke="#333" stroke-width="0.9" /><line x1="164.58" y1="504.2" x2="164.58" y2="506.9" stroke="#333" stroke-width="0.9" /><line x1="170.74" y1="504.2" x2="170.74" y2="506.9" stroke="#333" stroke-width="0.9" /><line x1="176.89" y1="504.2" x2="176.89" y2="506.9" stroke="#333" stroke-width="0.9" /><line x1="183.05" y1="504.2" x2="183.05" y2="506.9" stroke="#333" stroke-width="0.9" /><line x1="189.2" y1="504.2" x2="189.2" y2="508.7" stroke="#333" stroke-width="0.9" /><line x1="195.36" y1="504.2" x2="195.36" y2="506.9" stroke="#333" stroke-width="0.9" /><line x1="201.51" y1="504.2" x2="201.51" y2="506.9" stroke="#333" stroke-width="0.9" /><line x1="207.66" y1="504.2" x2="207.66" y2="506.9" stroke="#333" stroke-width="0.9" /><line x1="38.5" y1="501.77" x2="33.1" y2="501.77" stroke="#333" stroke-width="0.9" /><line x1="38.5" y1="495.6" x2="35.8" y2="495.6" stroke="#333" stroke-width="0.9" /><line x1="38.5" y1="489.42" x2="35.8" y2="489.42" stroke="#333" stroke-width="0.9" /><line x1="38.5" y1="483.25" x2="35.8" y2="483.25" stroke="#333" stroke-width="0.9" /><line x1="38.5" y1="477.07" x2="35.8" y2="477.07" stroke="#333" stroke-width="0.9" /><line x1="38.5" y1="470.9" x2="33.1" y2="470.9" stroke="#333" stroke-width="0.9" /><line x1="38.5" y1="464.72" x2="35.8" y2="464.72" stroke="#333" stroke-width="0.9" /><line x1="38.5" y1="458.55" x2="35.8" y2="458.55" stroke="#333" stroke-width="0.9" /><line x1="38.5" y1="452.38" x2="35.8" y2="452.38" stroke="#333" stroke-width="0.9" /><line x1="38.5" y1="446.2" x2="35.8" y2="446.2" stroke="#333" stroke-width="0.9" /><line x1="38.5" y1="440.02" x2="33.1" y2="440.02" stroke="#333" stroke-width="0.9" /><line x1="38.5" y1="433.85" x2="35.8" y2="433.85" stroke="#333" stroke-width="0.9" /><line x1="38.5" y1="427.67" x2="35.8" y2="427.67" stroke="#333" stroke-width="0.9" /><line x1="38.5" y1="421.5" x2="35.8" y2="421.5" stroke="#333" stroke-width="0.9" /><line x1="38.5" y1="415.32" x2="35.8" y2="415.32" stroke="#333" stroke-width="0.9" /><line x1="38.5" y1="409.15" x2="33.1" y2="409.15" stroke="#333" stroke-width="0.9" /><line x1="38.5" y1="402.97" x2="35.8" y2="402.97" stroke="#333" stroke-width="0.9" /><line x1="38.5" y1="396.8" x2="35.8" y2="396.8" stroke="#333" stroke-width="0.9" /><line x1="38.5" y1="390.62" x2="35.8" y2="390.62" stroke="#333" stroke-width="0.9" /><line x1="38.5" y1="384.45" x2="35.8" y2="384.45" stroke="#333" stroke-width="0.9" /><line x1="38.5" y1="378.27" x2="33.1" y2="378.27" stroke="#333" stroke-width="0.9" /><line x1="38.5" y1="372.1" x2="35.8" y2="372.1" stroke="#333" stroke-width="0.9" /><line x1="38.5" y1="365.92" x2="35.8" y2="365.92" stroke="#333" stroke-width="0.9" /><line x1="38.5" y1="359.75" x2="35.8" y2="359.75" stroke="#333" stroke-width="0.9" /><line x1="38.5" y1="353.57" x2="35.8" y2="353.57" stroke="#333" stroke-width="0.9" /><line x1="38.5" y1="347.4" x2="33.1" y2="347.4" stroke="#333" stroke-width="0.9" /><line x1="38.5" y1="341.22" x2="35.8" y2="341.22" stroke="#333" stroke-width="0.9" /><line x1="38.5" y1="335.05" x2="35.8" y2="335.05" stroke="#333" stroke-width="0.9" /><text x="66.1" y="520.5" font-size="9.8" text-anchor="middle" style="font-family:'Liberation Serif',serif" fill="#000" >100</text><text x="96.88" y="520.5" font-size="9.8" text-anchor="middle" style="font-family:'Liberation Serif',serif" fill="#000" >150</text><text x="127.65" y="520.5" font-size="9.8" text-anchor="middle" style="font-family:'Liberation Serif',serif" fill="#000" >200</text><text x="158.43" y="520.5" font-size="9.8" text-anchor="middle" style="font-family:'Liberation Serif',serif" fill="#000" >250</text><text x="189.2" y="520.5" font-size="9.8" text-anchor="middle" style="font-family:'Liberation Serif',serif" fill="#000" >300</text><text x="31" y="505.07" font-size="9.8" text-anchor="end" style="font-family:'Liberation Serif',serif" fill="#000" >250</text><text x="31" y="474.2" font-size="9.8" text-anchor="end" style="font-family:'Liberation Serif',serif" fill="#000" >300</text><text x="31" y="443.32" font-size="9.8" text-anchor="end" style="font-family:'Liberation Serif',serif" fill="#000" >350</text><text x="31" y="412.45" font-size="9.8" text-anchor="end" style="font-family:'Liberation Serif',serif" fill="#000" >400</text><text x="31" y="381.57" font-size="9.8" text-anchor="end" style="font-family:'Liberation Serif',serif" fill="#000" >450</text><text x="31" y="350.7" font-size="9.8" text-anchor="end" style="font-family:'Liberation Serif',serif" fill="#000" >500</text><text x="105" y="531.5" font-size="9.8" text-anchor="start" style="font-family:'Liberation Serif',serif" fill="#000" >X&#160;&#160;&#160;(pixel)</text><text transform="translate(9,398.4) rotate(-90)" font-size="9.8" text-anchor="end" style="font-family:'Liberation Serif',serif" fill="#111">Y&#160;&#160;&#160;(pixel)</text><text x="48.5" y="353" font-size="14.5" style="font-family:'Liberation Sans',sans-serif" fill="#111"><tspan font-style="italic">ω</tspan> = 0°</text><rect x="287.2" y="279.5" width="343.1" height="290.7" fill="#fff"/><line x1="287.2" y1="563.47" x2="630.3" y2="563.47" stroke="#e6e6e6" stroke-width="0.8" /><line x1="287.2" y1="556.74" x2="630.3" y2="556.74" stroke="#e6e6e6" stroke-width="0.8" /><line x1="287.2" y1="550.01" x2="630.3" y2="550.01" stroke="#e6e6e6" stroke-width="0.8" /><line x1="287.2" y1="543.29" x2="630.3" y2="543.29" stroke="#e6e6e6" stroke-width="0.8" /><line x1="287.2" y1="536.56" x2="630.3" y2="536.56" stroke="#e6e6e6" stroke-width="0.8" /><line x1="287.2" y1="529.83" x2="630.3" y2="529.83" stroke="#e6e6e6" stroke-width="0.8" /><line x1="287.2" y1="523.1" x2="630.3" y2="523.1" stroke="#e6e6e6" stroke-width="0.8" /><line x1="287.2" y1="516.37" x2="630.3" y2="516.37" stroke="#e6e6e6" stroke-width="0.8" /><line x1="287.2" y1="509.64" x2="630.3" y2="509.64" stroke="#e6e6e6" stroke-width="0.8" /><line x1="287.2" y1="502.91" x2="630.3" y2="502.91" stroke="#e6e6e6" stroke-width="0.8" /><line x1="287.2" y1="496.19" x2="630.3" y2="496.19" stroke="#e6e6e6" stroke-width="0.8" /><line x1="287.2" y1="489.46" x2="630.3" y2="489.46" stroke="#e6e6e6" stroke-width="0.8" /><line x1="287.2" y1="482.73" x2="630.3" y2="482.73" stroke="#e6e6e6" stroke-width="0.8" /><line x1="287.2" y1="476" x2="630.3" y2="476" stroke="#e6e6e6" stroke-width="0.8" /><line x1="287.2" y1="469.27" x2="630.3" y2="469.27" stroke="#e6e6e6" stroke-width="0.8" /><line x1="287.2" y1="462.54" x2="630.3" y2="462.54" stroke="#e6e6e6" stroke-width="0.8" /><line x1="287.2" y1="455.81" x2="630.3" y2="455.81" stroke="#e6e6e6" stroke-width="0.8" /><line x1="287.2" y1="449.09" x2="630.3" y2="449.09" stroke="#e6e6e6" stroke-width="0.8" /><line x1="287.2" y1="442.36" x2="630.3" y2="442.36" stroke="#e6e6e6" stroke-width="0.8" /><line x1="287.2" y1="435.63" x2="630.3" y2="435.63" stroke="#e6e6e6" stroke-width="0.8" /><line x1="287.2" y1="428.9" x2="630.3" y2="428.9" stroke="#e6e6e6" stroke-width="0.8" /><line x1="287.2" y1="422.17" x2="630.3" y2="422.17" stroke="#e6e6e6" stroke-width="0.8" /><line x1="287.2" y1="415.44" x2="630.3" y2="415.44" stroke="#e6e6e6" stroke-width="0.8" /><line x1="287.2" y1="408.71" x2="630.3" y2="408.71" stroke="#e6e6e6" stroke-width="0.8" /><line x1="287.2" y1="401.99" x2="630.3" y2="401.99" stroke="#e6e6e6" stroke-width="0.8" /><line x1="287.2" y1="395.26" x2="630.3" y2="395.26" stroke="#e6e6e6" stroke-width="0.8" /><line x1="287.2" y1="388.53" x2="630.3" y2="388.53" stroke="#e6e6e6" stroke-width="0.8" /><line x1="287.2" y1="381.8" x2="630.3" y2="381.8" stroke="#e6e6e6" stroke-width="0.8" /><line x1="287.2" y1="375.07" x2="630.3" y2="375.07" stroke="#e6e6e6" stroke-width="0.8" /><line x1="287.2" y1="368.34" x2="630.3" y2="368.34" stroke="#e6e6e6" stroke-width="0.8" /><line x1="287.2" y1="361.61" x2="630.3" y2="361.61" stroke="#e6e6e6" stroke-width="0.8" /><line x1="287.2" y1="354.89" x2="630.3" y2="354.89" stroke="#e6e6e6" stroke-width="0.8" /><line x1="287.2" y1="348.16" x2="630.3" y2="348.16" stroke="#e6e6e6" stroke-width="0.8" /><line x1="287.2" y1="341.43" x2="630.3" y2="341.43" stroke="#e6e6e6" stroke-width="0.8" /><line x1="287.2" y1="334.7" x2="630.3" y2="334.7" stroke="#e6e6e6" stroke-width="0.8" /><line x1="287.2" y1="327.97" x2="630.3" y2="327.97" stroke="#e6e6e6" stroke-width="0.8" /><line x1="287.2" y1="321.24" x2="630.3" y2="321.24" stroke="#e6e6e6" stroke-width="0.8" /><line x1="287.2" y1="314.51" x2="630.3" y2="314.51" stroke="#e6e6e6" stroke-width="0.8" /><line x1="287.2" y1="307.79" x2="630.3" y2="307.79" stroke="#e6e6e6" stroke-width="0.8" /><line x1="287.2" y1="301.06" x2="630.3" y2="301.06" stroke="#e6e6e6" stroke-width="0.8" /><line x1="287.2" y1="294.33" x2="630.3" y2="294.33" stroke="#e6e6e6" stroke-width="0.8" /><line x1="372.98" y1="279.5" x2="372.98" y2="570.2" stroke="#e6e6e6" stroke-width="0.8" /><line x1="458.75" y1="279.5" x2="458.75" y2="570.2" stroke="#e6e6e6" stroke-width="0.8" /><line x1="544.52" y1="279.5" x2="544.52" y2="570.2" stroke="#e6e6e6" stroke-width="0.8" /><g stroke-linejoin="round"><path d="M428.8,304.8 428.8,296.8 429.2,291.9 429.6,292.4 430.0,291.4 430.4,291.0 430.8,292.0 431.2,292.7 431.6,293.7 432.0,291.8 432.4,291.2 432.8,292.3 433.2,291.9 433.6,292.6 434.0,292.1 434.4,291.3 434.8,291.3 435.2,293.4 435.6,291.5 436.0,291.5 436.4,291.6 436.8,292.9 437.2,292.2 437.6,291.4 438.0,291.4 438.4,291.5 438.8,291.7 439.2,299.5 439.6,291.3 440.0,290.0 440.4,291.9 440.8,290.6 441.2,291.8 441.6,291.6 442.0,292.1 442.4,291.1 442.8,299.0 443.2,293.4 443.6,290.9 444.1,291.5 444.5,290.0 444.9,290.9 445.3,291.8 445.7,291.8 446.1,292.9 446.5,297.5 446.9,291.2 447.3,291.2 447.7,289.6 448.1,291.0 448.5,289.0 448.9,289.7 449.3,289.2 449.7,290.0 450.1,289.1 450.5,290.6 450.9,290.4 451.3,292.2 451.7,293.1 452.1,292.4 452.5,288.7 452.9,287.9 453.3,286.3 453.7,286.0 454.1,283.6 454.5,283.5 454.9,282.7 455.3,282.0 455.7,281.4 456.1,281.0 456.5,280.1 456.9,279.5 457.3,279.7 457.7,280.2 458.1,280.7 458.5,280.3 458.9,280.3 459.3,280.2 459.7,280.2 460.1,280.0 460.5,280.7 460.9,281.7 461.3,280.5 461.7,280.7 462.1,283.0 462.5,282.4 462.9,283.6 463.3,284.3 463.7,283.8 464.1,287.4 464.5,288.2 464.9,288.8 465.3,291.8 465.7,293.3 466.1,291.0 466.5,290.6 466.9,290.3 467.3,290.4 467.7,289.8 468.1,289.3 468.5,290.2 468.9,288.8 469.3,290.2 469.7,290.8 470.1,290.5 470.5,290.4 470.9,292.7 471.3,293.1 471.7,298.7 472.1,292.5 472.5,290.4 472.9,290.9 473.4,291.4 473.8,290.8 474.2,289.4 474.6,291.8 475.0,300.6 475.4,292.7 475.8,292.4 476.2,291.8 476.6,291.8 477.0,293.2 477.4,291.7 477.8,291.3 478.2,292.2 478.6,291.1 479.0,292.6 479.4,290.9 479.8,291.3 480.2,292.5 480.6,293.6 481.0,293.0 481.4,292.3 481.8,290.5 482.2,291.1 482.6,291.1 483.0,291.1 483.4,291.8 483.8,291.2 484.2,292.1 484.6,291.8 485.0,291.8 485.4,292.5 485.8,293.5 486.2,293.1 486.6,296.9 487.0,296.0 487.4,290.8 487.8,292.8 488.2,292.7 488.2,300.7" fill="none" stroke="#e9625e" stroke-width="1.0"/><path d="M428.8,291.7 429.2,291.7 429.6,291.7 430.0,291.8 430.4,291.9 430.8,292.1 431.2,292.4 431.6,293.0 432.0,292.6 432.4,292.1 432.8,291.8 433.2,291.6 433.6,291.5 434.0,291.4 434.4,291.4 434.8,291.5 435.2,291.6 435.6,291.7 436.0,292.0 436.4,292.4 436.8,292.8 437.2,292.1 437.6,291.7 438.0,291.4 438.4,291.3 438.8,291.2 439.2,291.2 439.6,291.2 440.0,291.3 440.4,291.4 440.8,291.6 441.2,292.0 441.6,292.6 442.0,292.1 442.4,291.6 442.8,291.3 443.2,291.1 443.6,291.0 444.1,290.9 444.5,290.9 444.9,291.1 445.3,291.4 445.7,291.8 446.1,292.7 446.5,294.5 446.9,291.9 447.3,290.9 447.7,290.2 448.1,289.7 448.5,289.4 448.9,289.2 449.3,289.2 449.7,289.3 450.1,289.5 450.5,289.9 450.9,290.5 451.3,291.3 451.7,292.7 452.1,292.3 452.5,289.2 452.9,287.4 453.3,286.0 453.7,284.8 454.1,283.9 454.5,283.1 454.9,282.4 455.3,281.8 455.7,281.3 456.1,280.8 456.5,280.5 456.9,280.2 457.3,280.0 457.7,279.8 458.1,279.7 458.5,279.6 458.9,279.6 459.3,279.7 459.7,279.8 460.1,279.9 460.5,280.1 460.9,280.4 461.3,280.8 461.7,281.2 462.1,281.7 462.5,282.2 462.9,282.9 463.3,283.7 463.7,284.6 464.1,285.7 464.5,287.0 464.9,288.7 465.3,291.3 465.7,293.2 466.1,291.6 466.5,290.7 466.9,290.0 467.3,289.6 467.7,289.4 468.1,289.2 468.5,289.2 468.9,289.3 469.3,289.6 469.7,290.0 470.1,290.7 470.5,291.6 470.9,293.4 471.3,293.0 471.7,292.0 472.1,291.5 472.5,291.1 472.9,290.9 473.4,290.9 473.8,290.9 474.2,291.1 474.6,291.2 475.0,291.5 475.4,292.0 475.8,293.0 476.2,292.1 476.6,291.7 477.0,291.4 477.4,291.3 477.8,291.2 478.2,291.2 478.6,291.2 479.0,291.3 479.4,291.4 479.8,291.6 480.2,292.0 480.6,292.6 481.0,292.6 481.4,292.1 481.8,291.8 482.2,291.6 482.6,291.5 483.0,291.4 483.4,291.4 483.8,291.5 484.2,291.6 484.6,291.8 485.0,292.0 485.4,292.5 485.8,293.2 486.2,292.5 486.6,292.2 487.0,291.9 487.4,291.8 487.8,291.7 488.2,291.7" fill="none" stroke="#e0201a" stroke-width="1.35"/><path d="M429.6,319.3 429.6,309.3 430.0,310.0 430.4,309.4 430.8,308.9 431.2,308.8 431.6,309.0 432.0,309.5 432.4,310.0 432.8,310.4 433.2,310.0 433.6,309.2 434.0,309.1 434.4,308.9 434.8,308.7 435.2,309.4 435.6,308.5 436.0,310.7 436.4,310.3 436.8,309.5 437.2,308.4 437.6,308.8 438.0,307.6 438.4,308.1 438.8,308.1 439.2,308.6 439.6,310.0 440.0,309.4 440.4,311.0 440.8,309.3 441.2,307.4 441.6,306.7 442.0,307.4 442.4,306.6 442.8,312.3 443.2,307.7 443.6,306.5 444.0,307.8 444.5,307.5 444.9,307.3 445.3,304.9 445.7,304.8 446.1,304.2 446.5,304.7 446.9,303.9 447.3,304.0 447.7,305.1 448.1,305.4 448.5,305.0 448.9,303.8 449.3,302.9 449.7,301.9 450.1,302.3 450.5,302.3 450.9,302.1 451.3,302.1 451.7,304.0 452.1,303.9 452.5,301.1 452.9,299.4 453.3,297.6 453.7,298.6 454.1,298.5 454.5,297.7 454.9,297.5 455.3,298.3 455.7,298.4 456.1,297.8 456.5,298.8 456.9,299.2 457.3,300.2 457.7,300.3 458.1,300.8 458.5,302.2 458.9,303.2 459.3,302.3 459.7,300.4 460.1,299.6 460.5,299.3 460.9,298.8 461.3,299.3 461.7,299.5 462.1,298.4 462.5,299.3 462.9,298.7 463.3,296.7 463.7,298.5 464.1,298.8 464.5,298.6 464.9,300.4 465.3,303.5 465.7,302.9 466.1,302.6 466.5,303.0 466.9,301.9 467.3,302.8 467.7,302.1 468.1,301.8 468.5,303.5 468.9,304.5 469.3,306.2 469.7,304.6 470.1,305.4 470.5,304.4 470.9,304.8 471.3,304.5 471.7,305.2 472.1,309.6 472.5,306.0 472.9,308.0 473.3,308.6 473.7,307.2 474.1,306.8 474.6,307.1 475.0,307.0 475.4,306.9 475.8,306.4 476.2,307.4 476.6,307.4 477.0,310.2 477.4,309.1 477.8,309.2 478.2,308.7 478.6,308.2 479.0,308.8 479.4,307.5 479.8,308.8 480.2,308.8 480.6,309.8 481.0,311.5 481.4,310.2 481.8,309.4 482.2,310.2 482.6,308.5 483.0,308.6 483.4,309.7 483.8,309.7 484.2,309.6 484.6,311.0 485.0,310.7 485.4,309.3 485.8,309.4 486.2,314.6 486.6,308.6 487.0,309.2 487.4,308.5 487.8,309.9 488.2,309.9 488.6,310.4 489.0,309.1 489.0,319.1" fill="none" stroke="#9cea75" stroke-width="1.0"/><path d="M429.6,309.4 430.0,309.0 430.4,308.8 430.8,308.8 431.2,308.9 431.6,309.1 432.0,309.5 432.4,310.3 432.8,310.9 433.2,309.7 433.6,309.2 434.0,308.9 434.4,308.7 434.8,308.7 435.2,308.8 435.6,309.1 436.0,309.6 436.4,310.5 436.8,310.1 437.2,309.1 437.6,308.6 438.0,308.3 438.4,308.2 438.8,308.2 439.2,308.3 439.6,308.6 440.0,309.2 440.4,310.3 440.8,308.7 441.2,307.8 441.6,307.3 442.0,307.0 442.4,306.9 442.8,306.9 443.2,307.1 443.6,307.4 444.0,307.9 444.5,308.2 444.9,306.2 445.3,305.3 445.7,304.8 446.1,304.5 446.5,304.5 446.9,304.5 447.3,304.8 447.7,305.1 448.1,305.8 448.5,304.9 448.9,303.4 449.3,302.6 449.7,302.1 450.1,301.9 450.5,301.9 450.9,302.0 451.3,302.2 451.7,302.6 452.1,303.2 452.5,301.0 452.9,299.6 453.3,298.8 453.7,298.4 454.1,298.2 454.5,298.2 454.9,298.3 455.3,298.4 455.7,298.6 456.1,298.8 456.5,299.1 456.9,299.5 457.3,300.0 457.7,300.7 458.1,301.5 458.5,302.8 458.9,303.3 459.3,301.8 459.7,300.9 460.1,300.2 460.5,299.7 460.9,299.2 461.3,298.9 461.7,298.6 462.1,298.5 462.5,298.3 462.9,298.2 463.3,298.2 463.7,298.3 464.1,298.7 464.5,299.3 464.9,300.5 465.3,303.7 465.7,302.7 466.1,302.3 466.5,302.0 466.9,301.9 467.3,301.9 467.7,302.1 468.1,302.4 468.5,303.1 468.9,304.4 469.3,306.0 469.7,305.2 470.1,304.8 470.5,304.6 470.9,304.5 471.3,304.5 471.7,304.7 472.1,305.1 472.5,305.9 472.9,307.4 473.3,308.1 473.7,307.5 474.1,307.2 474.6,307.0 475.0,306.9 475.4,307.0 475.8,307.2 476.2,307.6 476.6,308.4 477.0,310.2 477.4,309.4 477.8,308.8 478.2,308.4 478.6,308.2 479.0,308.2 479.4,308.3 479.8,308.5 480.2,309.0 480.6,309.8 481.0,310.9 481.4,309.7 481.8,309.2 482.2,308.9 482.6,308.7 483.0,308.7 483.4,308.8 483.8,309.1 484.2,309.6 484.6,310.5 485.0,310.6 485.4,309.7 485.8,309.2 486.2,308.9 486.6,308.8 487.0,308.8 487.4,309.0 487.8,309.3 488.2,309.8 488.6,310.9 489.0,310.2" fill="none" stroke="#72e23a" stroke-width="1.35"/><path d="M401.3,328.9 401.3,325.9 401.7,327.6 402.1,327.3 402.5,326.8 402.9,324.7 403.3,326.1 403.7,326.0 404.1,327.3 404.5,327.8 404.9,325.9 405.3,326.2 405.7,327.0 406.1,329.0 406.5,327.8 406.9,326.3 407.3,327.0 407.7,325.5 408.1,326.0 408.5,326.6 408.9,326.0 409.3,326.0 409.7,326.7 410.1,328.6 410.5,326.7 410.9,326.8 411.3,325.8 411.7,326.0 412.1,325.7 412.5,326.3 412.9,325.2 413.3,327.1 413.7,325.5 414.1,326.3 414.5,328.1 414.9,325.6 415.3,325.8 415.7,327.0 416.1,324.0 416.5,332.6 416.9,331.7 417.3,326.0 417.7,326.2 418.1,326.8 418.5,327.3 418.9,325.9 419.3,323.5 419.7,325.7 420.1,325.1 420.5,325.5 420.9,324.8 421.3,324.8 421.7,324.5 422.1,324.6 422.5,326.3 422.9,325.8 423.3,325.0 423.7,324.2 424.1,323.8 424.5,324.0 424.9,322.8 425.3,325.7 425.7,324.9 426.1,325.5 426.5,324.5 426.9,324.9 427.3,325.2 427.7,324.1 428.1,324.0 428.5,324.0 428.9,324.6 429.3,323.2 429.7,323.4 430.1,324.9 430.5,326.6 430.9,324.7 431.3,326.0 431.7,322.6 432.1,322.2 432.5,323.3 432.9,323.9 433.3,322.6 433.7,322.9 434.1,323.0 434.5,322.7 434.9,324.2 435.3,324.9 435.7,321.3 436.1,322.8 436.5,320.1 436.9,320.7 437.3,321.2 437.7,322.0 438.1,321.0 438.5,320.8 438.9,320.8 439.3,321.8 439.7,322.5 440.1,319.6 440.5,319.1 440.9,317.7 441.3,316.9 441.7,321.0 442.1,319.3 442.5,317.4 442.9,318.8 443.3,319.5 443.7,320.5 444.1,317.6 444.5,318.4 444.9,316.4 445.3,316.7 445.7,316.7 446.1,316.5 446.5,316.8 446.9,316.3 447.3,318.2 447.7,317.1 448.1,317.1 448.5,315.2 448.9,314.0 449.3,314.5 449.7,313.9 450.1,312.6 450.5,313.7 450.9,313.7 451.3,314.5 451.7,313.9 452.1,314.7 452.5,312.7 452.9,311.8 453.3,309.6 453.7,310.3 454.1,310.4 454.5,308.9 454.9,310.7 455.3,310.4 455.7,309.5 456.1,310.2 456.5,311.1 456.9,309.0 457.3,312.6 457.7,310.4 458.1,311.7 458.5,313.1 458.9,312.7 459.3,311.8 459.8,311.5 460.2,310.2 460.6,311.5 461.0,311.1 461.4,310.9 461.8,311.3 462.2,310.0 462.6,310.0 463.0,308.6 463.4,309.2 463.8,309.2 464.2,310.4 464.6,311.1 465.0,312.9 465.4,315.1 465.8,313.4 466.2,315.1 466.6,314.5 467.0,315.2 467.4,313.2 467.8,314.1 468.2,314.0 468.6,315.0 469.0,315.1 469.4,317.4 469.8,318.4 470.2,317.1 470.6,316.9 471.0,315.4 471.4,316.2 471.8,316.4 472.2,316.9 472.6,316.1 473.0,318.3 473.4,319.1 473.8,320.7 474.2,319.5 474.6,319.9 475.0,317.3 475.4,318.5 475.8,318.4 476.2,318.5 476.6,318.8 477.0,320.1 477.4,319.7 477.8,323.0 478.2,321.2 478.6,322.0 479.0,321.4 479.4,320.6 479.8,319.7 480.2,321.3 480.6,319.8 481.0,321.0 481.4,322.8 481.8,322.9 482.2,325.2 482.6,323.2 483.0,324.6 483.4,322.4 483.8,321.4 484.2,322.2 484.6,321.7 485.0,323.2 485.4,323.1 485.8,324.8 486.2,325.2 486.6,326.0 487.0,323.7 487.4,324.0 487.8,324.8 488.2,323.0 488.6,323.6 489.0,323.5 489.4,328.8 489.8,323.5 490.2,325.1 490.6,325.9 491.0,325.4 491.4,324.8 491.8,324.4 492.2,325.3 492.6,323.3 493.0,323.9 493.4,324.1 493.8,326.5 494.2,326.0 494.6,328.5 495.0,326.3 495.4,327.0 495.8,325.5 496.2,325.0 496.6,325.5 497.0,323.1 497.4,326.3 497.8,326.9 498.2,325.8 498.6,327.9 499.0,328.0 499.4,326.5 499.8,326.9 500.2,326.5 500.6,324.9 501.0,325.5 501.4,324.9 501.8,325.7 502.2,324.8 502.6,327.0 503.0,326.9 503.4,325.9 503.8,325.3 504.2,326.8 504.6,325.7 505.0,325.0 505.4,325.3 505.8,326.0 506.2,324.9 506.6,326.5 507.0,326.8 507.4,335.3 507.8,327.2 508.2,325.7 508.6,324.9 509.0,324.9 509.4,325.6 509.8,325.3 510.2,330.3 510.6,327.0 511.0,327.9 511.4,328.0 511.8,327.1 512.2,326.3 512.6,325.9 513.0,325.1 513.4,326.7 513.8,326.1 514.2,326.5 514.6,326.5 515.0,327.1 515.4,328.4 515.8,328.3 516.2,325.5 516.6,327.2 517.0,327.1 517.4,327.4 517.8,326.3 517.8,329.3" fill="none" stroke="#6972f3" stroke-width="1.0"/><path d="M401.3,327.3 401.7,328.2 402.1,327.8 402.5,327.0 402.9,326.5 403.3,326.2 403.7,326.1 404.1,326.1 404.5,326.2 404.9,326.4 405.3,326.8 405.7,327.4 406.1,328.3 406.5,327.0 406.9,326.4 407.3,326.0 407.7,325.8 408.1,325.8 408.5,325.8 408.9,326.0 409.3,326.3 409.7,326.8 410.1,327.7 410.5,327.2 410.9,326.4 411.3,325.9 411.7,325.6 412.1,325.5 412.5,325.4 412.9,325.5 413.3,325.8 413.7,326.2 414.1,326.9 414.5,327.8 414.9,326.4 415.3,325.8 415.7,325.4 416.1,325.2 416.5,325.1 416.9,325.2 417.3,325.3 417.7,325.7 418.1,326.2 418.5,327.2 418.9,326.6 419.3,325.7 419.7,325.2 420.1,325.0 420.5,324.8 420.9,324.8 421.3,324.9 421.7,325.2 422.1,325.6 422.5,326.3 422.9,327.2 423.3,325.8 423.7,325.2 424.1,324.8 424.5,324.5 424.9,324.5 425.3,324.5 425.7,324.7 426.1,325.0 426.5,325.5 426.9,326.6 427.3,325.6 427.7,324.6 428.1,324.1 428.5,323.7 428.9,323.6 429.3,323.6 429.7,323.7 430.1,323.9 430.5,324.3 430.9,325.0 431.3,325.6 431.7,324.0 432.1,323.2 432.5,322.8 432.9,322.5 433.3,322.5 433.7,322.5 434.1,322.7 434.5,323.0 434.9,323.5 435.3,324.4 435.7,323.1 436.1,322.0 436.5,321.4 436.9,321.0 437.3,320.8 437.7,320.8 438.1,320.9 438.5,321.1 438.9,321.5 439.3,322.1 439.7,322.1 440.1,320.3 440.5,319.4 440.9,318.9 441.3,318.6 441.7,318.5 442.1,318.5 442.5,318.7 442.9,319.0 443.3,319.5 443.7,320.4 444.1,318.8 444.5,317.6 444.9,316.9 445.3,316.5 445.7,316.3 446.1,316.3 446.5,316.4 446.9,316.6 447.3,316.9 447.7,317.5 448.1,317.3 448.5,315.3 448.9,314.4 449.3,313.8 449.7,313.4 450.1,313.3 450.5,313.4 450.9,313.5 451.3,313.7 451.7,314.1 452.1,314.9 452.5,312.4 452.9,311.0 453.3,310.2 453.7,309.7 454.1,309.4 454.5,309.4 454.9,309.5 455.3,309.5 455.7,309.7 456.1,309.9 456.5,310.1 456.9,310.5 457.3,310.9 457.7,311.4 458.1,312.2 458.5,313.3 458.9,313.3 459.3,312.2 459.8,311.4 460.2,310.9 460.6,310.5 461.0,310.1 461.4,309.9 461.8,309.7 462.2,309.5 462.6,309.5 463.0,309.4 463.4,309.4 463.8,309.7 464.2,310.1 464.6,311.0 465.0,312.4 465.4,314.9 465.8,314.1 466.2,313.7 466.6,313.5 467.0,313.4 467.4,313.3 467.8,313.4 468.2,313.8 468.6,314.3 469.0,315.3 469.4,317.3 469.8,317.5 470.2,316.9 470.6,316.6 471.0,316.4 471.4,316.3 471.8,316.3 472.2,316.5 472.6,316.9 473.0,317.6 473.4,318.8 473.8,320.4 474.2,319.5 474.6,319.0 475.0,318.7 475.4,318.5 475.8,318.5 476.2,318.6 476.6,318.9 477.0,319.4 477.4,320.3 477.8,322.1 478.2,322.1 478.6,321.5 479.0,321.1 479.4,320.9 479.8,320.8 480.2,320.8 480.6,321.0 481.0,321.4 481.4,322.0 481.8,323.1 482.2,324.4 482.6,323.5 483.0,323.0 483.4,322.7 483.8,322.5 484.2,322.5 484.6,322.5 485.0,322.8 485.4,323.2 485.8,324.0 486.2,325.6 486.6,325.0 487.0,324.3 487.4,323.9 487.8,323.7 488.2,323.6 488.6,323.6 489.0,323.7 489.4,324.1 489.8,324.6 490.2,325.6 490.6,326.6 491.0,325.5 491.4,325.0 491.8,324.7 492.2,324.5 492.6,324.5 493.0,324.5 493.4,324.8 493.8,325.2 494.2,325.8 494.6,327.2 495.0,326.3 495.4,325.6 495.8,325.2 496.2,324.9 496.6,324.8 497.0,324.8 497.4,325.0 497.8,325.2 498.2,325.7 498.6,326.6 499.0,327.2 499.4,326.2 499.8,325.7 500.2,325.3 500.6,325.2 501.0,325.1 501.4,325.2 501.8,325.4 502.2,325.8 502.6,326.4 503.0,327.7 503.4,326.9 503.8,326.2 504.2,325.8 504.6,325.5 505.0,325.4 505.4,325.5 505.8,325.6 506.2,325.9 506.6,326.4 507.0,327.2 507.4,327.7 507.8,326.8 508.2,326.3 508.6,326.0 509.0,325.8 509.4,325.8 509.8,325.8 510.2,326.0 510.6,326.4 511.0,327.0 511.4,328.3 511.8,327.4 512.2,326.8 512.6,326.4 513.0,326.2 513.4,326.1 513.8,326.1 514.2,326.2 514.6,326.5 515.0,327.0 515.4,327.8 515.8,328.2 516.2,327.3 516.6,326.9 517.0,326.6 517.4,326.4 517.8,326.4" fill="none" stroke="#2a36ee" stroke-width="1.35"/><path d="M399.5,336.4 399.9,335.9 400.3,335.9 400.7,335.8 401.1,336.1 401.5,337.2 401.9,336.9 402.3,337.2 402.7,335.7 403.1,336.1 403.5,335.2 403.9,336.6 404.3,336.8 404.7,336.2 405.1,341.7 405.5,335.7 405.9,341.5 406.3,335.6 406.7,336.5 407.1,336.1 407.5,337.4 407.9,337.2 408.3,336.9 408.7,336.3 409.1,337.1 409.5,343.5 409.9,335.3 410.3,342.7 410.7,337.0 411.1,335.5 411.5,335.9 411.9,337.0 412.3,337.0 412.7,336.4 413.1,337.0 413.5,338.8 413.9,337.5 414.3,336.4 414.7,337.9 415.1,337.2 415.5,342.1 415.9,336.3 416.3,335.0 416.7,335.4 417.1,336.0 417.5,335.4 417.9,335.8 418.3,336.5 418.7,336.0 419.1,340.3 419.6,337.6 420.0,338.0 420.4,337.9 420.8,335.7 421.2,336.5 421.6,336.5 422.0,336.4 422.4,336.5 422.8,337.3 423.2,336.1 423.6,335.1 424.0,336.5 424.4,335.8 424.8,337.1 425.2,336.3 425.6,337.4 426.0,338.0 426.4,341.9 426.8,337.6 427.2,336.5 427.6,337.2 428.0,336.8 428.4,334.9 428.8,336.4 429.2,334.3 429.6,336.0 430.0,335.6 430.4,336.8 430.8,335.5 431.2,337.5 431.6,336.7 432.0,337.9 432.4,335.7 432.8,336.7 433.2,337.2 433.6,336.5 434.0,337.1 434.4,336.2 434.8,336.5 435.2,335.7 435.6,336.5 436.0,335.9 436.4,336.5 436.8,336.4 437.2,335.9 437.6,336.1 438.0,336.2 438.4,336.6 438.8,337.8 439.2,336.8 439.6,335.9 440.0,334.9 440.4,335.6 440.8,335.8 441.2,334.7 441.6,334.4 442.0,334.4 442.4,335.8 442.8,335.5 443.2,337.7 443.6,336.3 444.0,336.8 444.4,335.3 444.8,335.1 445.2,335.6 445.6,333.1 446.0,333.7 446.4,333.4 446.8,332.3 447.2,333.7 447.6,333.5 448.0,334.4 448.4,333.7 448.8,335.6 449.2,335.1 449.6,335.3 450.0,332.3 450.4,331.4 450.8,330.9 451.2,329.0 451.6,330.1 452.0,327.3 452.4,326.5 452.8,326.1 453.2,325.7 453.6,326.3 454.0,325.9 454.4,326.6 454.8,327.5 455.2,326.2 455.6,326.6 456.0,326.4 456.4,327.4 456.8,326.6 457.2,327.5 457.6,328.2 458.0,328.9 458.4,327.3 458.9,330.1 459.3,327.5 459.7,328.1 460.1,327.4 460.5,328.6 460.9,326.3 461.3,327.9 461.7,325.6 462.1,326.1 462.5,326.7 462.9,325.2 463.3,327.2 463.7,325.6 464.1,327.5 464.5,328.1 464.9,328.7 465.3,328.0 465.7,328.1 466.1,329.0 466.5,328.9 466.9,330.6 467.3,332.1 467.7,333.7 468.1,336.3 468.5,335.7 468.9,336.1 469.3,334.3 469.7,334.1 470.1,333.0 470.5,334.3 470.9,332.1 471.3,333.3 471.7,333.7 472.1,333.8 472.5,334.5 472.9,334.2 473.3,335.8 473.7,337.6 474.1,336.9 474.5,336.4 474.9,335.0 475.3,334.0 475.7,334.8 476.1,335.0 476.5,334.2 476.9,335.4 477.3,336.8 477.7,334.7 478.1,335.3 478.5,336.8 478.9,334.4 479.3,335.5 479.7,336.1 480.1,335.8 480.5,336.3 480.9,336.1 481.3,335.3 481.7,334.9 482.1,335.8 482.5,334.6 482.9,339.6 483.3,336.4 483.7,336.7 484.1,335.3 484.5,335.8 484.9,336.8 485.3,338.3 485.7,337.9 486.1,337.5 486.5,335.3 486.9,335.9 487.3,334.5 487.7,336.5 488.1,336.7 488.5,336.9 488.9,335.4 489.3,337.1 489.7,335.7 490.1,336.0 490.5,336.4 490.9,337.1 491.3,338.1 491.7,337.6 492.1,337.1 492.5,336.3 492.9,341.3 493.3,335.6 493.7,335.4 494.1,335.7 494.5,336.2 494.9,335.7 495.3,335.8 495.7,341.9 496.1,339.2 496.5,336.6 496.9,337.1 497.3,336.5 497.7,337.4 498.2,336.9 498.6,336.6 499.0,337.0 499.4,336.1 499.8,336.1 500.2,335.4 500.6,336.7 501.0,334.6 501.4,336.4 501.8,336.6 502.2,337.0 502.6,337.5 503.0,335.4 503.4,337.8 503.8,336.4 504.2,336.0 504.6,336.1 505.0,335.9 505.4,336.3 505.8,335.6 506.2,336.9 506.6,336.0 507.0,336.1 507.4,336.6 507.8,336.0 508.2,344.5 508.6,336.2 509.0,336.9 509.4,337.4 509.8,337.7 510.2,337.7 510.6,337.2 511.0,336.4 511.4,337.1 511.8,336.0 512.2,336.6 512.6,335.5 513.0,335.6 513.4,335.8 513.8,336.1 514.2,338.8 514.6,335.7 515.0,336.7 515.4,336.2 515.8,337.1 516.2,336.8 516.6,336.0 517.0,335.4 517.4,336.8 517.8,336.9" fill="none" stroke="#d58f69" stroke-width="1.0"/><path d="M399.5,336.2 399.9,336.3 400.3,336.4 400.7,336.5 401.1,336.7 401.5,337.0 401.9,337.6 402.3,337.4 402.7,336.9 403.1,336.6 403.5,336.4 403.9,336.3 404.3,336.2 404.7,336.2 405.1,336.1 405.5,336.2 405.9,336.2 406.3,336.3 406.7,336.5 407.1,336.7 407.5,337.0 407.9,337.6 408.3,337.3 408.7,336.8 409.1,336.6 409.5,336.4 409.9,336.2 410.3,336.1 410.7,336.1 411.1,336.1 411.5,336.1 411.9,336.2 412.3,336.3 412.7,336.4 413.1,336.6 413.5,337.0 413.9,337.6 414.3,337.2 414.7,336.8 415.1,336.5 415.5,336.3 415.9,336.2 416.3,336.1 416.7,336.0 417.1,336.0 417.5,336.0 417.9,336.1 418.3,336.2 418.7,336.4 419.1,336.6 419.6,336.9 420.0,337.6 420.4,337.1 420.8,336.7 421.2,336.4 421.6,336.2 422.0,336.1 422.4,336.0 422.8,335.9 423.2,335.9 423.6,336.0 424.0,336.0 424.4,336.1 424.8,336.3 425.2,336.6 425.6,336.9 426.0,337.6 426.4,337.1 426.8,336.6 427.2,336.3 427.6,336.2 428.0,336.0 428.4,335.9 428.8,335.9 429.2,335.9 429.6,335.9 430.0,336.0 430.4,336.1 430.8,336.3 431.2,336.5 431.6,336.9 432.0,337.6 432.4,337.0 432.8,336.6 433.2,336.3 433.6,336.1 434.0,335.9 434.4,335.9 434.8,335.8 435.2,335.8 435.6,335.8 436.0,335.8 436.4,335.9 436.8,335.9 437.2,336.0 437.6,336.1 438.0,336.3 438.4,336.5 438.8,336.6 439.2,335.8 439.6,335.4 440.0,335.2 440.4,335.0 440.8,334.9 441.2,334.9 441.6,334.9 442.0,335.0 442.4,335.3 442.8,335.7 443.2,336.3 443.6,337.4 444.0,336.6 444.4,335.4 444.8,334.7 445.2,334.2 445.6,333.9 446.0,333.7 446.4,333.5 446.8,333.5 447.2,333.6 447.6,333.7 448.0,334.0 448.4,334.3 448.8,334.9 449.2,335.7 449.6,335.8 450.0,333.0 450.4,331.5 450.8,330.3 451.2,329.5 451.6,328.7 452.0,328.2 452.4,327.7 452.8,327.3 453.2,327.0 453.6,326.8 454.0,326.6 454.4,326.5 454.8,326.5 455.2,326.5 455.6,326.6 456.0,326.7 456.4,326.9 456.8,327.1 457.2,327.4 457.6,327.8 458.0,328.3 458.4,329.1 458.9,329.8 459.3,328.7 459.7,328.0 460.1,327.6 460.5,327.3 460.9,327.0 461.3,326.8 461.7,326.7 462.1,326.6 462.5,326.5 462.9,326.5 463.3,326.6 463.7,326.7 464.1,326.9 464.5,327.1 464.9,327.5 465.3,327.9 465.7,328.4 466.1,329.1 466.5,329.9 466.9,330.9 467.3,332.2 467.7,334.1 468.1,336.5 468.5,335.3 468.9,334.6 469.3,334.1 469.7,333.8 470.1,333.6 470.5,333.5 470.9,333.5 471.3,333.6 471.7,333.8 472.1,334.0 472.5,334.5 472.9,335.0 473.3,335.9 473.7,337.6 474.1,336.8 474.5,336.0 474.9,335.5 475.3,335.2 475.7,335.0 476.1,334.9 476.5,334.9 476.9,335.0 477.3,335.1 477.7,335.3 478.1,335.6 478.5,336.1 478.9,336.7 479.3,336.4 479.7,336.2 480.1,336.1 480.5,336.0 480.9,335.9 481.3,335.9 481.7,335.8 482.1,335.8 482.5,335.8 482.9,335.8 483.3,335.9 483.7,336.0 484.1,336.2 484.5,336.4 484.9,336.8 485.3,337.4 485.7,337.1 486.1,336.7 486.5,336.4 486.9,336.2 487.3,336.0 487.7,335.9 488.1,335.9 488.5,335.9 488.9,335.9 489.3,336.0 489.7,336.1 490.1,336.2 490.5,336.5 490.9,336.8 491.3,337.4 491.7,337.2 492.1,336.7 492.5,336.4 492.9,336.2 493.3,336.1 493.7,336.0 494.1,335.9 494.5,335.9 494.9,336.0 495.3,336.0 495.7,336.1 496.1,336.3 496.5,336.5 496.9,336.9 497.3,337.5 497.7,337.2 498.2,336.7 498.6,336.5 499.0,336.3 499.4,336.1 499.8,336.1 500.2,336.0 500.6,336.0 501.0,336.0 501.4,336.1 501.8,336.2 502.2,336.4 502.6,336.6 503.0,337.0 503.4,337.6 503.8,337.2 504.2,336.8 504.6,336.5 505.0,336.3 505.4,336.2 505.8,336.1 506.2,336.1 506.6,336.1 507.0,336.1 507.4,336.2 507.8,336.3 508.2,336.5 508.6,336.7 509.0,337.0 509.4,337.7 509.8,337.2 510.2,336.8 510.6,336.6 511.0,336.4 511.4,336.3 511.8,336.2 512.2,336.1 512.6,336.1 513.0,336.2 513.4,336.2 513.8,336.4 514.2,336.5 514.6,336.8 515.0,337.1 515.4,337.8 515.8,337.3 516.2,336.9 516.6,336.6 517.0,336.4 517.4,336.3 517.8,336.2" fill="none" stroke="#c4602a" stroke-width="1.35"/><path d="M399.5,354.8 399.9,358.1 400.3,358.6 400.7,354.3 401.1,353.2 401.5,354.0 401.9,353.6 402.3,356.1 402.7,355.3 403.1,354.1 403.5,353.1 403.9,351.6 404.3,352.4 404.7,354.2 405.1,354.3 405.5,354.1 405.9,355.5 406.3,352.0 406.7,352.4 407.1,353.0 407.5,353.0 407.9,355.8 408.3,351.1 408.7,354.0 409.1,352.7 409.5,351.5 409.9,359.7 410.3,353.8 410.7,354.4 411.1,353.1 411.5,352.3 411.9,353.3 412.3,355.8 412.7,353.8 413.1,353.0 413.5,354.9 413.9,352.4 414.3,353.9 414.7,352.5 415.1,355.2 415.5,355.1 415.9,351.9 416.3,353.5 416.7,355.5 417.1,353.5 417.5,355.7 417.9,354.6 418.3,353.2 418.7,355.3 419.1,354.9 419.6,351.8 420.0,352.9 420.4,355.5 420.8,352.5 421.2,355.2 421.6,353.3 422.0,354.1 422.4,352.5 422.8,351.9 423.2,352.9 423.6,354.1 424.0,354.7 424.4,352.8 424.8,353.6 425.2,354.5 425.6,353.9 426.0,354.9 426.4,361.4 426.8,352.2 427.2,352.7 427.6,352.8 428.0,355.0 428.4,353.9 428.8,353.4 429.2,352.1 429.6,353.7 430.0,352.6 430.4,353.1 430.8,353.0 431.2,352.5 431.6,352.8 432.0,354.4 432.4,352.8 432.8,354.1 433.2,354.4 433.6,354.7 434.0,353.6 434.4,350.9 434.8,353.9 435.2,355.3 435.6,353.1 436.0,352.8 436.4,352.3 436.8,355.2 437.2,353.4 437.6,353.1 438.0,352.1 438.4,351.9 438.8,351.9 439.2,352.7 439.6,353.4 440.0,355.9 440.4,354.8 440.8,353.0 441.2,352.5 441.6,355.0 442.0,353.9 442.4,352.6 442.8,350.7 443.2,353.6 443.6,350.9 444.0,354.5 444.4,352.1 444.8,350.6 445.2,352.7 445.6,353.4 446.0,352.6 446.4,352.5 446.8,351.1 447.2,352.9 447.6,349.7 448.0,349.8 448.4,348.7 448.8,350.0 449.2,346.5 449.6,346.1 450.0,342.4 450.4,344.8 450.8,345.6 451.2,344.5 451.6,344.8 452.0,345.1 452.4,343.6 452.8,342.9 453.2,346.1 453.6,345.0 454.0,346.1 454.4,345.1 454.8,345.8 455.2,344.7 455.6,343.9 456.0,345.3 456.4,345.6 456.8,346.5 457.2,348.2 457.6,348.2 458.0,349.8 458.4,351.4 458.9,352.1 459.3,349.8 459.7,350.0 460.1,349.8 460.5,345.4 460.9,344.7 461.3,345.8 461.7,345.3 462.1,345.2 462.5,344.2 462.9,345.9 463.3,344.7 463.7,344.7 464.1,343.3 464.5,343.6 464.9,344.1 465.3,343.8 465.7,346.6 466.1,342.7 466.5,342.6 466.9,345.0 467.3,343.9 467.7,344.2 468.1,345.5 468.5,348.4 468.9,349.2 469.3,348.7 469.7,349.0 470.1,350.8 470.5,353.0 470.9,351.1 471.3,350.5 471.7,349.3 472.1,350.9 472.5,351.0 472.9,351.3 473.3,352.9 473.7,355.1 474.1,353.6 474.5,353.0 474.9,353.5 475.3,352.3 475.7,351.9 476.1,352.2 476.5,353.6 476.9,352.0 477.3,352.8 477.7,351.0 478.1,353.7 478.5,353.3 478.9,353.9 479.3,354.6 479.7,351.6 480.1,352.3 480.5,352.9 480.9,352.9 481.3,351.7 481.7,354.0 482.1,354.0 482.5,351.6 482.9,353.6 483.3,351.3 483.7,351.6 484.1,353.2 484.5,352.1 484.9,353.2 485.3,353.2 485.7,354.5 486.1,352.4 486.5,352.0 486.9,352.3 487.3,353.5 487.7,351.6 488.1,353.6 488.5,352.5 488.9,350.6 489.3,354.6 489.7,354.6 490.1,352.8 490.5,352.9 490.9,353.2 491.3,351.9 491.7,353.4 492.1,353.3 492.5,352.1 492.9,354.0 493.3,354.5 493.7,354.1 494.1,350.7 494.5,353.8 494.9,355.0 495.3,353.0 495.7,352.7 496.1,350.3 496.5,352.6 496.9,352.7 497.3,355.0 497.7,354.9 498.2,352.9 498.6,353.6 499.0,353.5 499.4,354.3 499.8,355.8 500.2,352.5 500.6,359.8 501.0,354.0 501.4,350.3 501.8,358.7 502.2,353.3 502.6,352.0 503.0,355.4 503.4,352.2 503.8,354.0 504.2,353.1 504.6,355.1 505.0,351.4 505.4,353.7 505.8,354.5 506.2,361.3 506.6,358.8 507.0,353.5 507.4,355.4 507.8,353.9 508.2,352.3 508.6,352.2 509.0,354.3 509.4,353.5 509.8,352.2 510.2,351.9 510.6,353.6 511.0,354.0 511.4,354.7 511.8,352.4 512.2,356.8 512.6,354.4 513.0,353.8 513.4,355.0 513.8,353.0 514.2,351.7 514.6,353.3 515.0,352.1 515.4,353.4 515.8,353.0 516.2,356.2 516.6,353.8 517.0,353.7 517.4,353.2 517.8,351.6" fill="none" stroke="#616161" stroke-width="1.0"/><path d="M399.5,353.5 399.9,353.5 400.3,353.5 400.7,353.5 401.1,353.5 401.5,353.5 401.9,353.5 402.3,353.5 402.7,353.5 403.1,353.5 403.5,353.5 403.9,353.5 404.3,353.5 404.7,353.5 405.1,353.5 405.5,353.5 405.9,353.5 406.3,353.5 406.7,353.5 407.1,353.5 407.5,353.5 407.9,353.5 408.3,353.5 408.7,353.5 409.1,353.5 409.5,353.5 409.9,353.5 410.3,353.5 410.7,353.4 411.1,353.4 411.5,353.4 411.9,353.4 412.3,353.4 412.7,353.4 413.1,353.4 413.5,353.4 413.9,353.4 414.3,353.4 414.7,353.4 415.1,353.4 415.5,353.4 415.9,353.4 416.3,353.4 416.7,353.4 417.1,353.4 417.5,353.4 417.9,353.4 418.3,353.4 418.7,353.4 419.1,353.4 419.6,353.4 420.0,353.4 420.4,353.3 420.8,353.3 421.2,353.3 421.6,353.3 422.0,353.3 422.4,353.3 422.8,353.3 423.2,353.3 423.6,353.3 424.0,353.3 424.4,353.3 424.8,353.3 425.2,353.3 425.6,353.3 426.0,353.3 426.4,353.3 426.8,353.3 427.2,353.3 427.6,353.3 428.0,353.3 428.4,353.3 428.8,353.3 429.2,353.3 429.6,353.3 430.0,353.2 430.4,353.2 430.8,353.2 431.2,353.2 431.6,353.2 432.0,353.2 432.4,353.2 432.8,353.2 433.2,353.2 433.6,353.2 434.0,353.2 434.4,353.2 434.8,353.2 435.2,353.2 435.6,353.2 436.0,353.2 436.4,353.2 436.8,353.2 437.2,353.2 437.6,353.2 438.0,353.2 438.4,353.2 438.8,353.2 439.2,353.2 439.6,353.2 440.0,353.2 440.4,353.2 440.8,353.2 441.2,353.2 441.6,353.1 442.0,353.0 442.4,352.9 442.8,352.7 443.2,352.5 443.6,352.3 444.0,352.1 444.4,351.9 444.8,351.7 445.2,351.6 445.6,351.5 446.0,351.4 446.4,351.3 446.8,351.3 447.2,351.1 447.6,350.6 448.0,349.9 448.4,348.9 448.8,348.0 449.2,347.0 449.6,346.1 450.0,345.5 450.4,345.1 450.8,345.0 451.2,344.9 451.6,344.7 452.0,344.5 452.4,344.2 452.8,344.0 453.2,343.8 453.6,343.8 454.0,343.9 454.4,344.0 454.8,344.3 455.2,344.6 455.6,345.1 456.0,345.6 456.4,346.2 456.8,346.8 457.2,347.5 457.6,348.2 458.0,349.0 458.4,349.8 458.9,350.2 459.3,349.4 459.7,348.6 460.1,347.9 460.5,347.1 460.9,346.5 461.3,345.9 461.7,345.3 462.1,344.8 462.5,344.5 462.9,344.2 463.3,343.9 463.7,343.8 464.1,343.8 464.5,343.9 464.9,344.1 465.3,344.3 465.7,344.6 466.1,344.8 466.5,345.0 466.9,345.0 467.3,345.3 467.7,345.8 468.1,346.6 468.5,347.5 468.9,348.5 469.3,349.4 469.7,350.2 470.1,350.9 470.5,351.2 470.9,351.3 471.3,351.3 471.7,351.4 472.1,351.5 472.5,351.7 472.9,351.8 473.3,352.0 473.7,352.2 474.1,352.4 474.5,352.6 474.9,352.8 475.3,352.9 475.7,353.1 476.1,353.1 476.5,353.2 476.9,353.2 477.3,353.2 477.7,353.2 478.1,353.2 478.5,353.2 478.9,353.2 479.3,353.2 479.7,353.2 480.1,353.2 480.5,353.2 480.9,353.2 481.3,353.2 481.7,353.2 482.1,353.2 482.5,353.2 482.9,353.2 483.3,353.2 483.7,353.2 484.1,353.2 484.5,353.2 484.9,353.2 485.3,353.2 485.7,353.2 486.1,353.2 486.5,353.2 486.9,353.2 487.3,353.2 487.7,353.2 488.1,353.3 488.5,353.3 488.9,353.3 489.3,353.3 489.7,353.3 490.1,353.3 490.5,353.3 490.9,353.3 491.3,353.3 491.7,353.3 492.1,353.3 492.5,353.3 492.9,353.3 493.3,353.3 493.7,353.3 494.1,353.3 494.5,353.3 494.9,353.3 495.3,353.3 495.7,353.3 496.1,353.3 496.5,353.3 496.9,353.3 497.3,353.4 497.7,353.4 498.2,353.4 498.6,353.4 499.0,353.4 499.4,353.4 499.8,353.4 500.2,353.4 500.6,353.4 501.0,353.4 501.4,353.4 501.8,353.4 502.2,353.4 502.6,353.4 503.0,353.4 503.4,353.4 503.8,353.4 504.2,353.4 504.6,353.4 505.0,353.4 505.4,353.4 505.8,353.4 506.2,353.4 506.6,353.4 507.0,353.5 507.4,353.5 507.8,353.5 508.2,353.5 508.6,353.5 509.0,353.5 509.4,353.5 509.8,353.5 510.2,353.5 510.6,353.5 511.0,353.5 511.4,353.5 511.8,353.5 512.2,353.5 512.6,353.5 513.0,353.5 513.4,353.5 513.8,353.5 514.2,353.5 514.6,353.5 515.0,353.5 515.4,353.5 515.8,353.5 516.2,353.5 516.6,353.5 517.0,353.5 517.4,353.5 517.8,353.5" fill="none" stroke="#1e1e1e" stroke-width="1.35"/><path d="M429.4,381.3 429.4,369.3 429.8,370.5 430.2,368.1 430.6,368.8 431.0,368.5 431.4,372.3 431.8,367.9 432.2,368.7 432.6,368.3 433.0,368.6 433.4,369.7 433.8,367.7 434.2,365.8 434.6,366.2 435.0,367.1 435.4,366.4 435.8,365.7 436.2,365.1 436.6,366.8 437.0,367.7 437.4,364.8 437.8,363.2 438.2,364.5 438.6,363.6 439.0,368.4 439.4,363.6 439.8,363.2 440.2,371.3 440.6,364.8 441.0,364.9 441.4,363.0 441.8,363.6 442.2,362.5 442.6,362.8 443.0,361.8 443.4,362.9 443.8,363.0 444.2,363.6 444.6,363.0 445.0,362.8 445.4,361.2 445.8,361.8 446.2,361.5 446.6,361.6 447.0,360.6 447.4,360.0 447.8,360.9 448.2,361.0 448.6,361.0 449.0,360.3 449.4,359.9 449.8,359.1 450.2,359.4 450.6,358.9 451.0,357.9 451.4,358.2 451.8,358.4 452.2,359.2 452.6,357.9 453.0,356.2 453.4,356.2 453.8,354.6 454.2,354.9 454.6,356.0 455.0,355.3 455.4,355.8 455.8,353.8 456.2,354.0 456.6,354.7 457.0,356.1 457.4,356.7 457.8,355.3 458.2,355.3 458.6,355.7 459.0,355.7 459.4,356.3 459.8,355.5 460.2,356.8 460.6,355.9 461.0,354.8 461.4,355.3 461.8,355.0 462.2,355.6 462.6,355.6 463.0,354.8 463.4,355.7 463.8,355.6 464.2,355.6 464.6,356.5 465.0,358.4 465.4,358.5 465.8,358.2 466.2,359.5 466.6,358.6 467.0,358.2 467.4,359.0 467.8,357.9 468.2,359.4 468.6,359.2 469.0,361.0 469.4,359.9 469.8,360.5 470.2,361.5 470.6,360.7 471.0,360.0 471.4,362.2 471.8,360.9 472.2,362.8 472.6,362.5 473.0,361.9 473.4,363.9 473.8,362.2 474.2,362.9 474.6,363.2 475.0,361.6 475.4,362.7 475.8,362.6 476.2,364.0 476.6,364.4 477.0,363.2 477.4,364.0 477.8,364.4 478.2,363.6 478.6,364.2 479.0,363.6 479.4,364.3 479.8,365.1 480.2,366.2 480.6,367.5 481.0,367.2 481.4,367.1 481.8,367.0 482.2,366.6 482.6,365.8 483.0,367.5 483.4,371.8 483.8,367.9 484.2,368.4 484.6,368.3 485.0,369.0 485.4,368.3 485.8,367.4 486.2,368.0 486.6,367.7 487.0,368.3 487.4,368.2 487.8,369.2 487.8,381.2" fill="none" stroke="#e976b5" stroke-width="1.0"/><path d="M429.4,369.5 429.8,369.4 430.2,368.7 430.6,368.4 431.0,368.2 431.4,368.1 431.8,368.1 432.2,368.1 432.6,368.2 433.0,368.4 433.4,368.8 433.8,367.5 434.2,367.0 434.6,366.7 435.0,366.5 435.4,366.5 435.8,366.5 436.2,366.5 436.6,366.6 437.0,366.6 437.4,365.6 437.8,364.7 438.2,364.2 438.6,363.9 439.0,363.8 439.4,363.8 439.8,363.9 440.2,364.0 440.6,364.2 441.0,364.6 441.4,363.4 441.8,362.9 442.2,362.6 442.6,362.4 443.0,362.4 443.4,362.4 443.8,362.5 444.2,362.7 444.6,363.0 445.0,362.5 445.4,361.6 445.8,361.2 446.2,361.0 446.6,360.9 447.0,360.9 447.4,360.9 447.8,361.0 448.2,361.1 448.6,361.5 449.0,359.9 449.4,359.2 449.8,358.9 450.2,358.7 450.6,358.6 451.0,358.6 451.4,358.6 451.8,358.6 452.2,358.7 452.6,357.3 453.0,356.1 453.4,355.5 453.8,355.2 454.2,355.0 454.6,355.0 455.0,355.0 455.4,355.1 455.8,355.1 456.2,355.2 456.6,355.3 457.0,355.4 457.4,355.5 457.8,355.7 458.2,356.0 458.6,356.4 459.0,356.3 459.4,355.9 459.8,355.7 460.2,355.5 460.6,355.4 461.0,355.2 461.4,355.2 461.8,355.1 462.2,355.0 462.6,355.0 463.0,355.0 463.4,355.0 463.8,355.2 464.2,355.6 464.6,356.3 465.0,357.9 465.4,358.7 465.8,358.6 466.2,358.6 466.6,358.6 467.0,358.6 467.4,358.7 467.8,358.9 468.2,359.4 468.6,360.1 469.0,361.3 469.4,361.1 469.8,361.0 470.2,360.9 470.6,360.8 471.0,360.9 471.4,361.0 471.8,361.3 472.2,361.8 472.6,362.9 473.0,362.9 473.4,362.6 473.8,362.5 474.2,362.4 474.6,362.4 475.0,362.5 475.4,362.7 475.8,363.0 476.2,363.6 476.6,364.4 477.0,364.1 477.4,363.9 477.8,363.8 478.2,363.8 478.6,363.8 479.0,364.0 479.4,364.3 479.8,364.9 480.2,366.1 480.6,366.6 481.0,366.5 481.4,366.5 481.8,366.5 482.2,366.5 482.6,366.5 483.0,366.7 483.4,367.1 483.8,367.7 484.2,368.6 484.6,368.3 485.0,368.2 485.4,368.1 485.8,368.1 486.2,368.1 486.6,368.2 487.0,368.4 487.4,368.8 487.8,369.8" fill="none" stroke="#e03c96" stroke-width="1.35"/><path d="M370.2,391.8 370.6,386.0 371.0,385.3 371.4,387.2 371.8,385.0 372.2,386.6 372.6,386.4 373.0,384.4 373.4,385.5 373.8,383.6 374.2,385.8 374.6,385.1 375.0,385.0 375.4,385.1 375.8,385.1 376.2,386.2 376.6,385.7 377.0,385.0 377.4,382.8 377.8,385.3 378.2,385.1 378.6,385.6 379.0,384.9 379.4,384.2 379.8,385.2 380.2,385.0 380.6,386.8 381.0,385.6 381.4,384.5 381.8,384.0 382.2,385.2 382.6,384.7 383.0,382.6 383.4,383.8 383.8,385.6 384.2,383.9 384.6,385.1 385.0,385.6 385.4,385.3 385.8,386.0 386.2,385.5 386.6,384.4 387.0,385.2 387.4,384.9 387.8,385.0 388.2,385.7 388.6,385.2 389.0,385.9 389.4,391.5 389.8,384.6 390.2,384.9 390.6,383.6 391.0,384.3 391.4,384.2 391.8,384.6 392.2,385.9 392.6,385.4 393.0,385.0 393.4,385.3 393.8,385.0 394.2,385.1 394.6,384.6 395.0,384.0 395.4,384.6 395.8,383.5 396.2,383.2 396.6,385.2 397.0,384.6 397.4,385.2 397.8,383.7 398.2,384.0 398.6,383.7 399.0,383.5 399.4,385.2 399.8,383.4 400.2,384.8 400.6,384.2 401.0,385.1 401.4,383.9 401.8,384.8 402.2,384.5 402.6,384.2 403.0,384.1 403.4,384.3 403.8,384.0 404.2,383.8 404.6,383.4 405.0,384.1 405.4,384.5 405.8,385.2 406.2,386.1 406.6,384.9 407.0,383.8 407.4,384.1 407.8,385.1 408.2,383.5 408.6,383.0 409.0,384.4 409.4,383.0 409.8,384.7 410.2,382.3 410.6,385.3 411.0,384.6 411.4,382.4 411.8,383.8 412.2,383.2 412.6,384.8 413.0,384.4 413.4,383.8 413.8,384.1 414.2,384.9 414.6,383.0 415.0,384.1 415.4,383.3 415.8,382.2 416.2,382.4 416.6,382.3 417.0,382.7 417.4,384.7 417.8,383.3 418.2,384.1 418.6,383.0 419.0,384.1 419.4,383.1 419.8,383.7 420.2,381.4 420.6,382.1 421.0,382.6 421.4,383.0 421.8,383.3 422.2,383.7 422.6,383.3 423.0,383.0 423.4,381.9 423.8,382.2 424.2,381.7 424.6,382.8 425.0,382.5 425.4,382.0 425.8,382.9 426.2,382.3 426.6,383.0 427.0,382.5 427.4,383.1 427.8,382.0 428.2,382.2 428.6,381.5 429.0,380.7 429.4,382.2 429.8,382.0 430.2,382.4 430.6,381.4 431.0,380.6 431.4,381.2 431.8,381.2 432.2,379.0 432.6,381.6 433.0,380.4 433.4,380.7 433.8,379.2 434.2,380.7 434.6,380.3 435.0,381.1 435.4,380.7 435.8,378.1 436.2,377.8 436.6,377.4 437.0,377.5 437.4,377.6 437.8,378.3 438.2,376.9 438.6,376.9 439.0,378.3 439.4,377.2 439.8,377.4 440.2,376.4 440.6,376.7 441.0,374.6 441.4,374.9 441.8,376.2 442.2,375.5 442.6,374.4 443.0,375.6 443.4,374.0 443.8,373.8 444.2,374.4 444.6,373.9 445.0,373.9 445.4,372.5 445.8,372.1 446.2,373.6 446.6,373.2 447.0,372.5 447.4,372.8 447.8,372.1 448.2,372.4 448.6,370.8 449.0,370.4 449.4,371.2 449.8,368.8 450.2,368.4 450.6,370.4 451.0,368.7 451.4,367.6 451.8,369.6 452.2,370.5 452.6,368.9 453.0,367.6 453.4,366.7 453.8,367.2 454.2,366.2 454.6,365.5 455.0,366.6 455.4,367.1 455.8,367.4 456.2,366.7 456.6,366.7 457.0,365.7 457.4,366.5 457.8,366.4 458.2,366.9 458.7,367.3 459.1,365.6 459.5,367.0 459.9,366.0 460.3,367.9 460.7,366.2 461.1,367.3 461.5,367.4 461.9,367.1 462.3,367.0 462.7,366.1 463.1,368.1 463.5,367.1 463.9,366.7 464.3,367.7 464.7,368.6 465.1,369.3 465.5,368.8 465.9,370.0 466.3,369.6 466.7,370.2 467.1,369.7 467.5,368.8 467.9,368.7 468.3,370.0 468.7,370.1 469.1,370.8 469.5,371.3 469.9,373.2 470.3,372.6 470.7,372.2 471.1,373.4 471.5,372.3 471.9,373.5 472.3,372.5 472.7,372.6 473.1,374.3 473.5,375.1 473.9,374.8 474.3,375.4 474.7,376.5 475.1,376.4 475.5,374.7 475.9,374.8 476.3,376.0 476.7,377.7 477.1,375.6 477.5,375.6 477.9,377.0 478.3,378.5 478.7,377.6 479.1,378.1 479.5,377.3 479.9,377.2 480.3,378.1 480.7,377.2 481.1,377.4 481.5,378.9 481.9,379.9 482.3,379.8 482.7,380.0 483.1,379.5 483.5,379.4 483.9,379.6 484.3,380.3 484.7,379.5 485.1,380.7 485.5,379.7 485.9,379.5 486.3,382.2 486.7,381.3 487.1,382.8 487.5,381.2 487.9,381.2 488.3,382.3 488.7,381.9 489.1,381.5 489.5,382.6 489.9,382.7 490.3,382.4 490.7,382.7 491.1,381.9 491.5,382.6 491.9,383.0 492.3,383.1 492.7,383.1 493.1,382.0 493.5,382.9 493.9,381.7 494.3,383.9 494.7,383.7 495.1,382.6 495.5,382.8 495.9,382.7 496.3,382.8 496.7,382.2 497.1,381.9 497.5,383.0 497.9,382.5 498.3,381.9 498.7,382.5 499.1,385.0 499.5,383.8 499.9,383.3 500.3,382.5 500.7,382.3 501.1,382.3 501.5,383.4 501.9,386.2 502.3,384.1 502.7,382.1 503.1,382.8 503.5,386.3 503.9,383.5 504.3,382.5 504.7,384.2 505.1,382.6 505.5,382.3 505.9,383.5 506.3,383.4 506.7,383.1 507.1,384.3 507.5,384.3 507.9,388.5 508.3,384.5 508.7,383.8 509.1,383.4 509.5,383.8 509.9,382.6 510.3,384.4 510.7,384.3 511.1,384.4 511.5,384.0 511.9,383.9 512.3,384.4 512.7,383.6 513.1,384.3 513.5,382.7 513.9,383.8 514.3,383.4 514.7,383.8 515.1,384.2 515.5,385.6 515.9,383.6 516.3,384.8 516.7,384.3 517.1,383.6 517.5,384.7 517.9,383.5 518.3,383.8 518.7,384.1 519.1,383.6 519.5,384.2 519.9,384.8 520.3,384.7 520.7,388.3 521.1,385.1 521.5,384.6 521.9,383.7 522.3,385.2 522.7,384.1 523.1,385.0 523.5,385.0 523.9,385.0 524.3,384.3 524.7,385.2 525.1,383.4 525.5,384.8 525.9,385.4 526.3,385.0 526.7,385.3 527.1,385.9 527.5,383.8 527.9,384.7 528.3,384.1 528.7,384.4 529.1,385.7 529.5,384.6 529.9,384.9 530.3,384.4 530.7,384.8 531.1,383.4 531.5,384.5 531.9,384.4 532.3,385.0 532.7,385.4 533.1,385.7 533.5,385.4 533.9,385.7 534.3,384.4 534.7,384.6 535.1,384.4 535.5,384.4 535.9,385.0 536.3,385.1 536.7,385.8 537.1,386.1 537.5,385.0 537.9,384.0 538.3,384.9 538.7,386.0 539.1,383.6 539.5,384.0 539.9,384.6 540.3,385.7 540.7,385.0 541.1,385.4 541.5,386.6 541.9,385.3 542.3,385.7 542.7,384.2 543.1,385.2 543.5,384.4 543.9,385.5 544.3,385.0 544.7,385.5 545.1,385.9 545.5,385.6 545.9,384.7 546.3,385.2 546.7,384.7" fill="none" stroke="#a0ec76" stroke-width="1.0"/><path d="M370.2,385.0 370.6,385.1 371.0,385.2 371.4,385.4 371.8,385.7 372.2,385.9 372.6,385.6 373.0,385.3 373.4,385.1 373.8,384.9 374.2,384.8 374.6,384.9 375.0,385.0 375.4,385.2 375.8,385.4 376.2,385.7 376.6,385.6 377.0,385.3 377.4,385.0 377.8,384.8 378.2,384.7 378.6,384.7 379.0,384.8 379.4,384.9 379.8,385.1 380.2,385.4 380.6,385.6 381.0,385.3 381.4,385.0 381.8,384.7 382.2,384.6 382.6,384.5 383.0,384.6 383.4,384.7 383.8,384.9 384.2,385.1 384.6,385.4 385.0,385.3 385.4,385.0 385.8,384.7 386.2,384.5 386.6,384.4 387.0,384.4 387.4,384.4 387.8,384.6 388.2,384.8 388.6,385.1 389.0,385.3 389.4,385.0 389.8,384.7 390.2,384.4 390.6,384.3 391.0,384.2 391.4,384.2 391.8,384.4 392.2,384.6 392.6,384.8 393.0,385.1 393.4,385.0 393.8,384.7 394.2,384.4 394.6,384.2 395.0,384.0 395.4,384.0 395.8,384.1 396.2,384.3 396.6,384.5 397.0,384.8 397.4,385.0 397.8,384.7 398.2,384.4 398.6,384.1 399.0,383.9 399.4,383.9 399.8,383.9 400.2,384.0 400.6,384.3 401.0,384.5 401.4,384.9 401.8,384.7 402.2,384.4 402.6,384.1 403.0,383.8 403.4,383.7 403.8,383.7 404.2,383.8 404.6,384.0 405.0,384.2 405.4,384.6 405.8,384.8 406.2,384.4 406.6,384.0 407.0,383.8 407.4,383.6 407.8,383.5 408.2,383.6 408.6,383.7 409.0,383.9 409.4,384.2 409.8,384.5 410.2,384.3 410.6,383.9 411.0,383.6 411.4,383.3 411.8,383.2 412.2,383.2 412.6,383.3 413.0,383.5 413.4,383.7 413.8,384.0 414.2,384.2 414.6,383.7 415.0,383.4 415.4,383.1 415.8,382.9 416.2,382.8 416.6,382.8 417.0,383.0 417.4,383.2 417.8,383.5 418.2,383.8 418.6,383.6 419.0,383.2 419.4,382.8 419.8,382.5 420.2,382.4 420.6,382.4 421.0,382.5 421.4,382.7 421.8,382.9 422.2,383.2 422.6,383.4 423.0,383.0 423.4,382.6 423.8,382.3 424.2,382.1 424.6,382.0 425.0,382.0 425.4,382.2 425.8,382.4 426.2,382.7 426.6,383.0 427.0,382.8 427.4,382.4 427.8,382.0 428.2,381.7 428.6,381.6 429.0,381.6 429.4,381.6 429.8,381.8 430.2,381.9 430.6,382.1 431.0,382.1 431.4,381.4 431.8,380.8 432.2,380.3 432.6,380.0 433.0,379.9 433.4,379.9 433.8,379.9 434.2,380.0 434.6,380.1 435.0,380.2 435.4,379.7 435.8,379.0 436.2,378.4 436.6,378.0 437.0,377.8 437.4,377.8 437.8,377.8 438.2,377.8 438.6,377.9 439.0,378.0 439.4,377.8 439.8,377.0 440.2,376.3 440.6,375.7 441.0,375.4 441.4,375.2 441.8,375.2 442.2,375.3 442.6,375.3 443.0,375.3 443.4,375.3 443.8,374.7 444.2,373.9 444.6,373.3 445.0,372.8 445.4,372.5 445.8,372.5 446.2,372.5 446.6,372.5 447.0,372.6 447.4,372.6 447.8,372.4 448.2,371.6 448.6,370.8 449.0,370.3 449.4,369.9 449.8,369.8 450.2,369.8 450.6,369.8 451.0,369.8 451.4,369.8 451.8,369.8 452.2,369.2 452.6,368.4 453.0,367.7 453.4,367.2 453.8,366.9 454.2,366.9 454.6,366.9 455.0,366.9 455.4,366.9 455.8,366.9 456.2,366.9 456.6,366.9 457.0,366.9 457.4,366.9 457.8,366.9 458.2,366.9 458.7,366.9 459.1,366.9 459.5,366.9 459.9,366.9 460.3,366.9 460.7,366.9 461.1,366.9 461.5,366.9 461.9,366.9 462.3,366.9 462.7,366.9 463.1,366.9 463.5,366.9 463.9,367.0 464.3,367.4 464.7,368.0 465.1,368.8 465.5,369.6 465.9,369.8 466.3,369.8 466.7,369.8 467.1,369.8 467.5,369.8 467.9,369.8 468.3,370.0 468.7,370.5 469.1,371.2 469.5,372.0 469.9,372.6 470.3,372.6 470.7,372.6 471.1,372.5 471.5,372.5 471.9,372.5 472.3,372.6 472.7,373.0 473.1,373.6 473.5,374.3 473.9,375.1 474.3,375.3 474.7,375.3 475.1,375.3 475.5,375.3 475.9,375.2 476.3,375.3 476.7,375.5 477.1,376.0 477.5,376.7 477.9,377.4 478.3,378.0 478.7,377.9 479.1,377.9 479.5,377.8 479.9,377.8 480.3,377.8 480.7,377.9 481.1,378.2 481.5,378.7 481.9,379.3 482.3,380.0 482.7,380.1 483.1,380.0 483.5,379.9 483.9,379.9 484.3,379.9 484.7,379.9 485.1,380.1 485.5,380.5 485.9,381.1 486.3,381.8 486.7,382.2 487.1,382.0 487.5,381.8 487.9,381.7 488.3,381.6 488.7,381.6 489.1,381.7 489.5,381.9 489.9,382.2 490.3,382.6 490.7,383.0 491.1,382.9 491.5,382.5 491.9,382.3 492.3,382.1 492.7,382.0 493.1,382.0 493.5,382.1 493.9,382.4 494.3,382.8 494.7,383.2 495.1,383.4 495.5,383.1 495.9,382.8 496.3,382.6 496.7,382.4 497.1,382.4 497.5,382.5 497.9,382.7 498.3,383.0 498.7,383.4 499.1,383.8 499.5,383.6 499.9,383.3 500.3,383.1 500.7,382.9 501.1,382.8 501.5,382.8 501.9,382.9 502.3,383.2 502.7,383.5 503.1,383.9 503.5,384.1 503.9,383.8 504.3,383.6 504.7,383.4 505.1,383.2 505.5,383.2 505.9,383.3 506.3,383.5 506.7,383.7 507.1,384.1 507.5,384.5 507.9,384.4 508.3,384.1 508.7,383.8 509.1,383.6 509.5,383.5 509.9,383.6 510.3,383.7 510.7,383.9 511.1,384.2 511.5,384.6 511.9,384.7 512.3,384.4 512.7,384.1 513.1,383.9 513.5,383.7 513.9,383.7 514.3,383.8 514.7,383.9 515.1,384.2 515.5,384.5 515.9,384.9 516.3,384.7 516.7,384.4 517.1,384.1 517.5,384.0 517.9,383.9 518.3,383.9 518.7,384.0 519.1,384.2 519.5,384.5 519.9,384.9 520.3,385.0 520.7,384.7 521.1,384.4 521.5,384.2 521.9,384.1 522.3,384.0 522.7,384.1 523.1,384.3 523.5,384.5 523.9,384.8 524.3,385.2 524.7,385.0 525.1,384.7 525.5,384.5 525.9,384.3 526.3,384.2 526.7,384.2 527.1,384.3 527.5,384.5 527.9,384.8 528.3,385.2 528.7,385.3 529.1,385.0 529.5,384.7 529.9,384.5 530.3,384.4 530.7,384.4 531.1,384.4 531.5,384.6 531.9,384.8 532.3,385.1 532.7,385.5 533.1,385.3 533.5,385.0 533.9,384.8 534.3,384.6 534.7,384.5 535.1,384.5 535.5,384.6 535.9,384.8 536.3,385.1 536.7,385.4 537.1,385.6 537.5,385.3 537.9,385.0 538.3,384.8 538.7,384.7 539.1,384.7 539.5,384.7 539.9,384.9 540.3,385.1 540.7,385.4 541.1,385.8 541.5,385.6 541.9,385.3 542.3,385.1 542.7,384.9 543.1,384.9 543.5,384.9 543.9,385.0 544.3,385.2 544.7,385.4 545.1,385.7 545.5,385.8 545.9,385.6 546.3,385.3 546.7,385.1" fill="none" stroke="#78e43c" stroke-width="1.35"/><path d="M370.2,398.6 370.6,398.3 371.0,398.1 371.4,398.6 371.8,399.0 372.2,405.7 372.6,398.1 373.0,399.5 373.4,399.0 373.8,398.6 374.2,399.2 374.6,400.6 375.0,398.7 375.4,398.6 375.8,398.9 376.2,403.2 376.6,398.1 377.0,397.7 377.4,398.5 377.8,398.0 378.2,398.2 378.6,398.3 379.0,398.4 379.4,397.9 379.8,398.7 380.2,399.1 380.6,398.2 381.0,398.0 381.4,398.7 381.8,399.1 382.2,399.4 382.6,398.9 383.0,398.3 383.4,400.0 383.8,399.0 384.2,397.5 384.6,398.3 385.0,397.7 385.4,398.4 385.8,396.8 386.2,396.7 386.6,398.1 387.0,397.4 387.4,398.9 387.8,398.4 388.2,398.7 388.6,398.9 389.0,397.1 389.4,396.5 389.8,396.2 390.2,398.6 390.6,397.9 391.0,396.7 391.4,399.3 391.8,398.5 392.2,399.7 392.6,404.0 393.0,399.4 393.4,398.2 393.8,398.2 394.2,397.2 394.6,399.4 395.0,399.1 395.4,398.4 395.8,403.3 396.2,398.9 396.6,399.2 397.0,397.9 397.4,398.1 397.8,396.0 398.2,398.5 398.6,398.1 399.0,397.4 399.4,397.5 399.8,396.9 400.2,396.6 400.6,398.8 401.0,397.5 401.4,398.6 401.8,397.5 402.2,399.4 402.6,399.2 403.0,397.9 403.4,399.9 403.8,398.2 404.2,397.4 404.6,397.0 405.0,398.0 405.4,396.2 405.8,396.3 406.2,404.5 406.6,395.9 407.0,397.6 407.4,398.1 407.8,398.4 408.2,397.1 408.6,397.7 409.0,396.4 409.4,397.8 409.8,397.4 410.2,398.8 410.6,400.2 411.0,399.2 411.4,399.4 411.8,398.7 412.2,398.7 412.6,398.8 413.0,398.2 413.4,397.5 413.8,397.9 414.2,398.2 414.6,396.5 415.0,397.0 415.4,397.5 415.8,397.4 416.2,396.1 416.6,396.2 417.0,396.6 417.4,397.1 417.8,398.0 418.2,397.3 418.6,397.9 419.0,398.4 419.4,396.8 419.8,398.0 420.2,399.1 420.6,398.6 421.0,399.4 421.4,399.2 421.8,399.4 422.2,399.8 422.6,398.3 423.0,396.2 423.4,396.8 423.8,397.3 424.2,397.0 424.6,397.2 425.0,397.5 425.4,396.6 425.8,396.4 426.2,397.0 426.6,397.0 427.0,395.2 427.4,395.6 427.8,395.9 428.2,397.4 428.6,397.2 429.0,397.1 429.4,398.1 429.8,399.0 430.2,397.8 430.6,398.2 431.0,398.9 431.4,397.4 431.8,397.4 432.2,398.3 432.6,396.9 433.0,396.9 433.4,396.2 433.8,395.0 434.2,397.2 434.6,395.7 435.0,396.0 435.4,397.4 435.8,396.9 436.2,396.9 436.6,397.4 437.0,396.0 437.4,395.4 437.8,396.1 438.2,396.2 438.6,395.7 439.0,398.0 439.4,397.2 439.8,397.9 440.2,396.3 440.6,397.1 441.0,396.3 441.4,396.8 441.8,395.6 442.2,395.3 442.6,395.5 443.0,393.9 443.4,396.4 443.8,395.9 444.2,393.7 444.6,394.5 445.0,395.4 445.4,394.7 445.8,397.4 446.2,395.6 446.6,396.2 447.0,395.6 447.4,395.3 447.8,396.6 448.2,397.5 448.6,398.1 449.0,396.7 449.4,393.8 449.8,391.4 450.2,390.5 450.6,391.0 451.0,387.0 451.4,389.5 451.8,386.7 452.2,385.7 452.6,386.0 453.0,385.8 453.4,385.5 453.8,385.3 454.2,384.6 454.6,387.3 455.0,385.0 455.4,386.2 455.8,386.2 456.2,386.4 456.6,387.3 457.0,388.2 457.4,386.8 457.8,387.0 458.2,386.9 458.7,388.2 459.1,386.9 459.5,387.0 459.9,387.2 460.3,387.0 460.7,387.0 461.1,386.4 461.5,385.6 461.9,384.5 462.3,386.4 462.7,384.6 463.1,384.8 463.5,386.8 463.9,385.7 464.3,386.5 464.7,385.6 465.1,387.1 465.5,388.0 465.9,388.3 466.3,389.5 466.7,389.3 467.1,390.2 467.5,390.2 467.9,395.2 468.3,397.0 468.7,396.9 469.1,396.8 469.5,397.2 469.9,396.7 470.3,394.6 470.7,395.5 471.1,395.3 471.5,394.1 471.9,397.0 472.3,395.6 472.7,396.2 473.1,395.5 473.5,396.2 473.9,395.6 474.3,396.4 474.7,396.1 475.1,395.4 475.5,396.7 475.9,396.4 476.3,396.3 476.7,395.8 477.1,396.5 477.5,398.9 477.9,398.9 478.3,397.2 478.7,397.4 479.1,397.5 479.5,396.1 479.9,396.7 480.3,396.9 480.7,396.0 481.1,395.7 481.5,395.1 481.9,395.2 482.3,395.5 482.7,395.9 483.1,396.1 483.5,396.1 483.9,396.6 484.3,395.0 484.7,396.4 485.1,396.8 485.5,397.1 485.9,397.2 486.3,398.0 486.7,397.7 487.1,398.3 487.5,398.0 487.9,397.9 488.3,397.1 488.7,397.1 489.1,397.0 489.5,396.7 489.9,398.3 490.3,397.5 490.7,397.6 491.1,396.6 491.5,396.3 491.9,396.1 492.3,397.2 492.7,396.7 493.1,397.6 493.5,396.2 493.9,397.3 494.3,397.0 494.7,399.1 495.1,397.3 495.5,398.1 495.9,398.4 496.3,399.8 496.7,398.8 497.1,398.6 497.5,404.4 497.9,398.4 498.3,398.5 498.7,397.6 499.1,398.1 499.5,397.5 499.9,397.5 500.3,397.4 500.7,396.4 501.1,397.7 501.5,397.2 501.9,396.9 502.3,396.6 502.7,398.2 503.1,395.9 503.5,404.0 503.9,404.8 504.3,401.5 504.7,396.2 505.1,399.5 505.5,400.3 505.9,401.1 506.3,398.8 506.7,398.3 507.1,397.8 507.5,397.5 507.9,398.8 508.3,397.5 508.7,398.5 509.1,397.8 509.5,396.5 509.9,397.5 510.3,396.7 510.7,398.3 511.1,398.0 511.5,399.2 511.9,397.6 512.3,399.4 512.7,397.3 513.1,397.5 513.5,397.5 513.9,399.3 514.3,398.2 514.7,399.6 515.1,400.1 515.5,400.3 515.9,398.2 516.3,396.8 516.7,400.6 517.1,397.9 517.5,397.9 517.9,398.4 518.3,398.5 518.7,397.2 519.1,396.8 519.5,396.6 519.9,397.0 520.3,397.5 520.7,397.8 521.1,396.3 521.5,398.6 521.9,398.0 522.3,397.9 522.7,396.2 523.1,399.2 523.5,398.3 523.9,398.6 524.3,400.1 524.7,400.2 525.1,400.4 525.5,400.8 525.9,397.8 526.3,399.8 526.7,397.0 527.1,397.6 527.5,398.0 527.9,399.3 528.3,398.1 528.7,398.2 529.1,396.7 529.5,397.2 529.9,402.9 530.3,398.3 530.7,397.8 531.1,400.0 531.5,396.8 531.9,398.3 532.3,397.1 532.7,397.4 533.1,398.4 533.5,398.5 533.9,398.1 534.3,399.0 534.7,399.5 535.1,397.0 535.5,398.3 535.9,399.5 536.3,397.3 536.7,399.0 537.1,397.5 537.5,399.1 537.9,398.0 538.3,398.0 538.7,397.6 539.1,398.0 539.5,398.0 539.9,396.6 540.3,397.4 540.7,397.2 541.1,397.9 541.5,397.8 541.9,397.1 542.3,399.0 542.7,399.0 543.1,399.6 543.5,399.9 543.9,400.7 544.3,399.7 544.7,399.2 545.1,399.8 545.5,398.8 545.9,399.2 546.3,398.6 546.7,399.4" fill="none" stroke="#8cd4db" stroke-width="1.0"/><path d="M370.2,398.2 370.6,398.3 371.0,398.4 371.4,398.5 371.8,398.6 372.2,398.7 372.6,398.9 373.0,399.1 373.4,399.5 373.8,399.9 374.2,400.0 374.6,399.4 375.0,399.1 375.4,398.8 375.8,398.6 376.2,398.4 376.6,398.3 377.0,398.2 377.4,398.1 377.8,398.0 378.2,398.0 378.6,398.0 379.0,398.0 379.4,398.0 379.8,398.1 380.2,398.1 380.6,398.2 381.0,398.3 381.4,398.4 381.8,398.6 382.2,398.8 382.6,399.1 383.0,399.5 383.4,400.2 383.8,399.5 384.2,399.0 384.6,398.7 385.0,398.5 385.4,398.3 385.8,398.1 386.2,398.0 386.6,397.9 387.0,397.8 387.4,397.8 387.8,397.8 388.2,397.8 388.6,397.8 389.0,397.8 389.4,397.9 389.8,397.9 390.2,398.0 390.6,398.2 391.0,398.3 391.4,398.5 391.8,398.7 392.2,399.1 392.6,399.6 393.0,399.7 393.4,399.0 393.8,398.7 394.2,398.4 394.6,398.2 395.0,398.0 395.4,397.8 395.8,397.7 396.2,397.6 396.6,397.6 397.0,397.5 397.4,397.5 397.8,397.5 398.2,397.6 398.6,397.6 399.0,397.7 399.4,397.7 399.8,397.9 400.2,398.0 400.6,398.2 401.0,398.4 401.4,398.7 401.8,399.1 402.2,399.9 402.6,399.1 403.0,398.6 403.4,398.3 403.8,398.0 404.2,397.8 404.6,397.7 405.0,397.6 405.4,397.5 405.8,397.4 406.2,397.3 406.6,397.3 407.0,397.3 407.4,397.3 407.8,397.3 408.2,397.4 408.6,397.5 409.0,397.6 409.4,397.7 409.8,397.9 410.2,398.1 410.6,398.3 411.0,398.7 411.4,399.2 411.8,399.3 412.2,398.6 412.6,398.2 413.0,397.9 413.4,397.7 413.8,397.5 414.2,397.4 414.6,397.3 415.0,397.2 415.4,397.1 415.8,397.1 416.2,397.1 416.6,397.1 417.0,397.1 417.4,397.1 417.8,397.2 418.2,397.3 418.6,397.4 419.0,397.6 419.4,397.7 419.8,398.0 420.2,398.3 420.6,398.7 421.0,399.6 421.4,398.6 421.8,398.1 422.2,397.7 422.6,397.4 423.0,397.2 423.4,397.0 423.8,396.9 424.2,396.8 424.6,396.7 425.0,396.7 425.4,396.6 425.8,396.6 426.2,396.6 426.6,396.7 427.0,396.7 427.4,396.8 427.8,396.9 428.2,397.0 428.6,397.2 429.0,397.4 429.4,397.7 429.8,398.0 430.2,398.6 430.6,398.5 431.0,397.8 431.4,397.4 431.8,397.1 432.2,396.8 432.6,396.6 433.0,396.5 433.4,396.3 433.8,396.2 434.2,396.2 434.6,396.1 435.0,396.1 435.4,396.1 435.8,396.1 436.2,396.2 436.6,396.2 437.0,396.3 437.4,396.5 437.8,396.6 438.2,396.8 438.6,397.0 439.0,397.3 439.4,397.8 439.8,398.7 440.2,397.5 440.6,397.0 441.0,396.6 441.4,396.3 441.8,396.0 442.2,395.9 442.6,395.7 443.0,395.6 443.4,395.5 443.8,395.4 444.2,395.4 444.6,395.4 445.0,395.4 445.4,395.4 445.8,395.5 446.2,395.5 446.6,395.6 447.0,395.7 447.4,395.8 447.8,396.0 448.2,396.2 448.6,396.5 449.0,396.9 449.4,394.2 449.8,391.8 450.2,390.3 450.6,389.2 451.0,388.3 451.4,387.6 451.8,387.0 452.2,386.6 452.6,386.2 453.0,386.0 453.4,385.8 453.8,385.7 454.2,385.7 454.6,385.7 455.0,385.8 455.4,385.8 455.8,385.9 456.2,386.0 456.6,386.1 457.0,386.3 457.4,386.5 457.8,386.7 458.2,387.1 458.7,387.7 459.1,387.3 459.5,386.9 459.9,386.6 460.3,386.4 460.7,386.2 461.1,386.1 461.5,385.9 461.9,385.8 462.3,385.8 462.7,385.7 463.1,385.7 463.5,385.7 463.9,385.7 464.3,385.9 464.7,386.1 465.1,386.4 465.5,386.8 465.9,387.3 466.3,387.9 466.7,388.7 467.1,389.7 467.5,391.0 467.9,392.8 468.3,397.4 468.7,396.6 469.1,396.3 469.5,396.1 469.9,395.9 470.3,395.8 470.7,395.7 471.1,395.6 471.5,395.5 471.9,395.5 472.3,395.4 472.7,395.4 473.1,395.4 473.5,395.4 473.9,395.5 474.3,395.5 474.7,395.6 475.1,395.8 475.5,395.9 475.9,396.2 476.3,396.4 476.7,396.8 477.1,397.2 477.5,397.9 477.9,398.1 478.3,397.5 478.7,397.2 479.1,396.9 479.5,396.7 479.9,396.5 480.3,396.4 480.7,396.3 481.1,396.2 481.5,396.1 481.9,396.1 482.3,396.1 482.7,396.1 483.1,396.1 483.5,396.2 483.9,396.3 484.3,396.4 484.7,396.5 485.1,396.7 485.5,396.9 485.9,397.2 486.3,397.6 486.7,398.1 487.1,399.2 487.5,398.3 487.9,397.8 488.3,397.5 488.7,397.3 489.1,397.1 489.5,397.0 489.9,396.8 490.3,396.8 490.7,396.7 491.1,396.6 491.5,396.6 491.9,396.6 492.3,396.6 492.7,396.7 493.1,396.7 493.5,396.8 493.9,397.0 494.3,397.1 494.7,397.3 495.1,397.6 495.5,397.9 495.9,398.3 496.3,399.0 496.7,399.0 497.1,398.5 497.5,398.1 497.9,397.9 498.3,397.6 498.7,397.5 499.1,397.3 499.5,397.2 499.9,397.2 500.3,397.1 500.7,397.1 501.1,397.1 501.5,397.1 501.9,397.1 502.3,397.1 502.7,397.2 503.1,397.3 503.5,397.5 503.9,397.6 504.3,397.8 504.7,398.1 505.1,398.4 505.5,398.9 505.9,399.8 506.3,398.9 506.7,398.5 507.1,398.2 507.5,398.0 507.9,397.8 508.3,397.6 508.7,397.5 509.1,397.4 509.5,397.4 509.9,397.3 510.3,397.3 510.7,397.3 511.1,397.3 511.5,397.4 511.9,397.4 512.3,397.5 512.7,397.6 513.1,397.8 513.5,397.9 513.9,398.2 514.3,398.5 514.7,398.8 515.1,399.5 515.5,399.4 515.9,398.9 516.3,398.5 516.7,398.3 517.1,398.1 517.5,397.9 517.9,397.8 518.3,397.7 518.7,397.6 519.1,397.6 519.5,397.5 519.9,397.5 520.3,397.5 520.7,397.6 521.1,397.6 521.5,397.7 521.9,397.8 522.3,397.9 522.7,398.1 523.1,398.3 523.5,398.5 523.9,398.8 524.3,399.3 524.7,400.1 525.1,399.3 525.5,398.9 525.9,398.6 526.3,398.4 526.7,398.2 527.1,398.1 527.5,398.0 527.9,397.9 528.3,397.8 528.7,397.8 529.1,397.8 529.5,397.8 529.9,397.8 530.3,397.8 530.7,397.9 531.1,398.0 531.5,398.1 531.9,398.2 532.3,398.4 532.7,398.6 533.1,398.9 533.5,399.2 533.9,399.9 534.3,399.8 534.7,399.3 535.1,399.0 535.5,398.7 535.9,398.5 536.3,398.4 536.7,398.2 537.1,398.2 537.5,398.1 537.9,398.0 538.3,398.0 538.7,398.0 539.1,398.0 539.5,398.0 539.9,398.1 540.3,398.1 540.7,398.2 541.1,398.4 541.5,398.5 541.9,398.7 542.3,398.9 542.7,399.2 543.1,399.7 543.5,400.4 543.9,399.7 544.3,399.3 544.7,399.0 545.1,398.8 545.5,398.6 545.9,398.5 546.3,398.4 546.7,398.3" fill="none" stroke="#5cc2cc" stroke-width="1.35"/><path d="M339.6,414.5 340.0,415.3 340.4,413.7 340.8,412.9 341.2,414.3 341.6,413.7 342.0,413.4 342.4,415.8 342.8,413.8 343.2,415.1 343.6,414.7 344.0,415.0 344.4,416.0 344.8,415.3 345.2,417.1 345.6,414.7 346.0,414.4 346.4,414.8 346.8,415.9 347.2,413.6 347.6,413.1 348.0,413.6 348.4,419.0 348.8,413.2 349.2,414.3 349.6,413.8 350.0,413.8 350.4,413.8 350.8,414.9 351.2,414.5 351.6,413.8 352.0,414.2 352.4,414.2 352.8,415.4 353.2,414.2 353.6,415.9 354.0,415.8 354.4,415.6 354.8,415.0 355.2,415.3 355.6,415.2 356.0,413.0 356.4,414.3 356.8,414.5 357.2,413.9 357.6,413.7 358.0,413.2 358.4,413.4 358.8,413.8 359.2,414.6 359.6,413.8 360.0,413.0 360.4,413.4 360.8,413.6 361.2,414.1 361.6,414.7 362.0,414.9 362.4,415.1 362.8,415.3 363.2,417.3 363.6,416.0 364.0,416.1 364.4,414.8 364.8,413.4 365.2,413.7 365.6,422.0 366.0,413.2 366.4,412.7 366.8,413.7 367.2,412.2 367.6,415.1 368.0,412.8 368.4,414.9 368.8,414.0 369.2,419.8 369.6,414.0 370.0,415.5 370.4,414.3 370.8,412.3 371.2,415.2 371.6,415.2 372.0,421.5 372.4,415.5 372.8,413.6 373.2,416.2 373.6,414.8 374.0,413.2 374.4,414.5 374.8,413.0 375.2,413.1 375.6,413.2 376.0,413.5 376.4,413.3 376.8,414.2 377.2,412.9 377.6,414.0 378.0,415.2 378.4,413.5 378.8,412.3 379.3,414.1 379.7,413.5 380.1,420.3 380.5,414.1 380.9,415.0 381.3,416.0 381.7,416.7 382.1,413.8 382.5,414.0 382.9,414.1 383.3,414.2 383.7,412.5 384.1,413.9 384.5,412.9 384.9,411.6 385.3,411.7 385.7,413.8 386.1,412.7 386.5,412.9 386.9,412.2 387.3,413.2 387.7,412.5 388.1,413.7 388.5,412.7 388.9,414.5 389.3,414.4 389.7,414.3 390.1,416.0 390.5,414.0 390.9,414.6 391.3,413.6 391.7,412.0 392.1,412.7 392.5,412.6 392.9,412.8 393.3,414.1 393.7,414.3 394.1,412.4 394.5,413.6 394.9,412.0 395.3,412.4 395.7,412.7 396.1,413.3 396.5,411.6 396.9,411.6 397.3,412.4 397.7,413.6 398.1,413.1 398.5,414.1 398.9,414.3 399.3,415.0 399.7,418.0 400.1,413.2 400.5,412.7 400.9,412.4 401.3,412.9 401.7,414.2 402.1,412.7 402.5,412.0 402.9,412.0 403.3,412.1 403.7,411.0 404.1,417.1 404.5,411.8 404.9,411.8 405.3,411.4 405.7,413.0 406.1,410.7 406.5,413.0 406.9,412.7 407.3,413.3 407.7,414.2 408.1,413.3 408.5,413.2 408.9,414.1 409.3,412.8 409.7,412.6 410.1,412.9 410.5,411.8 410.9,411.7 411.3,410.6 411.7,411.0 412.1,410.9 412.5,411.3 412.9,412.0 413.3,411.0 413.7,411.3 414.1,411.8 414.5,410.5 414.9,412.9 415.3,411.2 415.7,413.9 416.1,412.0 416.5,411.3 416.9,412.1 417.3,412.7 417.7,413.4 418.1,412.9 418.5,413.1 418.9,411.4 419.3,409.9 419.7,409.0 420.1,408.9 420.5,410.0 420.9,409.1 421.3,410.3 421.7,408.5 422.1,409.1 422.5,410.2 422.9,409.0 423.3,407.5 423.7,408.1 424.1,408.7 424.5,409.0 424.9,409.1 425.3,408.5 425.7,410.1 426.1,409.4 426.5,411.2 426.9,409.6 427.3,410.0 427.7,409.5 428.1,410.1 428.5,406.2 428.9,406.7 429.3,406.0 429.7,406.9 430.1,406.0 430.5,404.6 430.9,404.9 431.3,405.8 431.7,405.1 432.1,404.8 432.5,405.1 432.9,406.1 433.3,405.1 433.7,405.5 434.1,405.9 434.5,405.7 434.9,406.8 435.3,406.4 435.7,406.8 436.1,405.2 436.5,406.5 436.9,406.4 437.3,408.5 437.7,406.1 438.1,403.1 438.5,403.7 438.9,401.3 439.3,401.7 439.7,401.3 440.1,401.6 440.5,399.6 440.9,400.5 441.3,399.8 441.7,399.9 442.1,399.5 442.5,398.3 442.9,398.8 443.3,399.2 443.7,400.2 444.1,399.0 444.5,399.2 444.9,399.3 445.3,401.5 445.7,401.8 446.1,399.8 446.5,401.1 446.9,401.5 447.3,403.6 447.7,402.7 448.1,402.2 448.5,401.5 448.9,398.6 449.3,399.2 449.7,397.1 450.1,396.6 450.5,395.5 450.9,394.7 451.3,396.3 451.7,394.0 452.1,395.7 452.5,395.8 452.9,394.1 453.3,394.5 453.7,394.2 454.1,395.7 454.5,394.8 454.9,397.1 455.3,395.5 455.7,398.1 456.1,396.8 456.5,397.7 456.9,397.1 457.3,399.3 457.8,401.1 458.2,400.6 458.6,404.0 459.0,402.6 459.4,401.8 459.8,400.2 460.2,398.7 460.6,399.4 461.0,397.7 461.4,396.1 461.8,395.8 462.2,396.1 462.6,396.1 463.0,394.8 463.4,396.5 463.8,394.7 464.2,395.1 464.6,395.2 465.0,396.1 465.4,396.5 465.8,397.0 466.2,396.4 466.6,396.3 467.0,396.8 467.4,397.1 467.8,397.8 468.2,399.0 468.6,399.0 469.0,401.3 469.4,402.5 469.8,403.0 470.2,402.6 470.6,401.9 471.0,401.6 471.4,401.8 471.8,401.1 472.2,400.5 472.6,400.9 473.0,401.0 473.4,398.4 473.8,399.8 474.2,398.6 474.6,399.3 475.0,398.8 475.4,399.8 475.8,398.8 476.2,399.7 476.6,400.9 477.0,397.7 477.4,399.3 477.8,401.6 478.2,400.1 478.6,402.1 479.0,403.8 479.4,403.3 479.8,406.6 480.2,408.9 480.6,407.4 481.0,405.8 481.4,406.2 481.8,406.9 482.2,405.2 482.6,404.8 483.0,405.6 483.4,405.6 483.8,405.0 484.2,404.5 484.6,405.0 485.0,403.9 485.4,404.4 485.8,405.4 486.2,404.7 486.6,406.1 487.0,406.1 487.4,405.2 487.8,406.8 488.2,406.2 488.6,406.8 489.0,407.3 489.4,409.0 489.8,410.5 490.2,410.6 490.6,411.6 491.0,411.0 491.4,410.0 491.8,408.2 492.2,409.3 492.6,408.2 493.0,410.8 493.4,408.8 493.8,408.0 494.2,408.2 494.6,410.0 495.0,409.3 495.4,410.1 495.8,409.5 496.2,409.0 496.6,410.1 497.0,410.4 497.4,409.0 497.8,410.7 498.2,407.7 498.6,411.5 499.0,410.4 499.4,413.1 499.8,413.2 500.2,413.7 500.6,411.9 501.0,412.2 501.4,412.8 501.8,412.7 502.2,413.4 502.6,409.5 503.0,411.4 503.4,411.9 503.8,412.1 504.2,411.8 504.6,411.0 505.0,412.0 505.4,412.3 505.8,411.5 506.2,410.5 506.6,412.2 507.0,410.9 507.4,412.1 507.8,410.7 508.2,411.3 508.6,414.1 509.0,414.5 509.4,412.5 509.8,413.5 510.2,412.5 510.6,413.0 511.0,412.8 511.4,411.9 511.8,410.9 512.2,411.8 512.6,413.9 513.0,411.7 513.4,411.5 513.8,411.7 514.2,411.5 514.6,412.1 515.0,412.1 515.4,411.8 515.8,412.2 516.2,412.8 516.6,413.3 517.0,413.2 517.4,414.8 517.8,412.6 518.2,416.4 518.6,414.0 519.0,413.4 519.4,412.6 519.8,412.3 520.2,412.3 520.6,411.0 521.0,412.7 521.4,412.7 521.8,411.6 522.2,413.1 522.6,413.0 523.0,413.0 523.4,413.1 523.8,413.1 524.2,418.6 524.6,412.1 525.0,411.4 525.4,414.4 525.8,412.7 526.2,412.8 526.6,414.1 527.0,414.8 527.4,414.2 527.8,413.2 528.2,413.2 528.6,412.9 529.0,413.1 529.4,413.2 529.8,411.0 530.2,412.4 530.6,413.4 531.0,413.4 531.4,412.9 531.8,413.7 532.2,412.4 532.6,413.2 533.0,411.8 533.4,414.3 533.8,412.9 534.2,413.6 534.6,413.3 535.0,414.9 535.4,414.6 535.8,414.3 536.3,415.7 536.7,421.6 537.1,414.2 537.5,413.5 537.9,412.3 538.3,415.6 538.7,413.7 539.1,412.2 539.5,413.2 539.9,413.6 540.3,412.2 540.7,413.3 541.1,413.9 541.5,413.5 541.9,414.5 542.3,413.9 542.7,413.6 543.1,412.7 543.5,412.7 543.9,414.9 544.3,414.3 544.7,414.7 545.1,414.5 545.5,417.7 545.9,416.3 546.3,414.7 546.7,414.9 547.1,413.5 547.5,414.1 547.9,412.0 548.3,413.3 548.7,414.0 549.1,413.1 549.5,412.9 549.9,413.8 550.3,411.7 550.7,413.7 551.1,413.2 551.5,413.2 551.9,413.1 552.3,413.7 552.7,419.4 553.1,414.7 553.5,414.7 553.9,415.1 554.3,415.1 554.7,414.1 555.1,413.6 555.5,414.1 555.9,414.8 556.3,413.6 556.7,413.7 557.1,412.7 557.5,414.3 557.9,412.5 558.3,412.9 558.7,412.0 559.1,412.8 559.5,414.1 559.9,413.2 560.3,413.8 560.7,414.8 561.1,413.9 561.5,415.3 561.9,414.4 562.3,415.8 562.7,416.5 563.1,416.7 563.5,415.4 563.9,414.5 564.3,414.4 564.7,414.3 565.1,415.2 565.5,414.0 565.9,413.9 566.3,415.2 566.7,414.0 567.1,413.7 567.5,414.2 567.9,414.7 568.3,413.0 568.7,413.2 569.1,413.9 569.5,414.9 569.9,413.1 570.3,413.5 570.7,415.6 571.1,415.8 571.5,414.4 571.9,415.0 572.3,415.7 572.7,416.0 573.1,416.2 573.5,415.2 573.9,416.1 574.3,413.8 574.7,414.8 575.1,415.1 575.5,413.0" fill="none" stroke="#f3bc6e" stroke-width="1.0"/><path d="M339.6,414.2 340.0,414.1 340.4,414.1 340.8,414.1 341.2,414.1 341.6,414.1 342.0,414.2 342.4,414.3 342.8,414.4 343.2,414.6 343.6,414.8 344.0,415.0 344.4,415.3 344.8,415.8 345.2,416.7 345.6,415.8 346.0,415.3 346.4,414.9 346.8,414.6 347.2,414.4 347.6,414.2 348.0,414.1 348.4,414.0 348.8,413.9 349.2,413.8 349.6,413.8 350.0,413.8 350.4,413.8 350.8,413.9 351.2,414.0 351.6,414.1 352.0,414.2 352.4,414.4 352.8,414.6 353.2,414.9 353.6,415.3 354.0,415.9 354.4,415.9 354.8,415.2 355.2,414.8 355.6,414.5 356.0,414.2 356.4,414.0 356.8,413.9 357.2,413.7 357.6,413.7 358.0,413.6 358.4,413.6 358.8,413.5 359.2,413.6 359.6,413.6 360.0,413.7 360.4,413.8 360.8,413.9 361.2,414.0 361.6,414.2 362.0,414.5 362.4,414.8 362.8,415.3 363.2,416.3 363.6,415.2 364.0,414.7 364.4,414.3 364.8,414.1 365.2,413.8 365.6,413.7 366.0,413.5 366.4,413.4 366.8,413.4 367.2,413.3 367.6,413.3 368.0,413.3 368.4,413.3 368.8,413.4 369.2,413.5 369.6,413.6 370.0,413.7 370.4,413.9 370.8,414.1 371.2,414.4 371.6,414.8 372.0,415.4 372.4,415.3 372.8,414.7 373.2,414.2 373.6,413.9 374.0,413.7 374.4,413.5 374.8,413.3 375.2,413.2 375.6,413.1 376.0,413.1 376.4,413.0 376.8,413.0 377.2,413.0 377.6,413.1 378.0,413.2 378.4,413.2 378.8,413.4 379.3,413.5 379.7,413.7 380.1,414.0 380.5,414.3 380.9,414.8 381.3,415.9 381.7,414.6 382.1,414.1 382.5,413.8 382.9,413.5 383.3,413.3 383.7,413.1 384.1,413.0 384.5,412.9 384.9,412.8 385.3,412.8 385.7,412.8 386.1,412.8 386.5,412.8 386.9,412.9 387.3,412.9 387.7,413.0 388.1,413.2 388.5,413.4 388.9,413.6 389.3,413.9 389.7,414.2 390.1,414.9 390.5,414.7 390.9,414.1 391.3,413.7 391.7,413.4 392.1,413.1 392.5,412.9 392.9,412.8 393.3,412.7 393.7,412.6 394.1,412.5 394.5,412.5 394.9,412.5 395.3,412.5 395.7,412.6 396.1,412.6 396.5,412.7 396.9,412.8 397.3,413.0 397.7,413.2 398.1,413.5 398.5,413.8 398.9,414.2 399.3,415.1 399.7,414.0 400.1,413.5 400.5,413.2 400.9,412.9 401.3,412.7 401.7,412.5 402.1,412.4 402.5,412.3 402.9,412.2 403.3,412.2 403.7,412.2 404.1,412.2 404.5,412.2 404.9,412.3 405.3,412.3 405.7,412.4 406.1,412.6 406.5,412.7 406.9,412.9 407.3,413.2 407.7,413.6 408.1,414.2 408.5,413.8 408.9,413.2 409.3,412.8 409.7,412.5 410.1,412.2 410.5,412.0 410.9,411.9 411.3,411.8 411.7,411.7 412.1,411.6 412.5,411.6 412.9,411.6 413.3,411.6 413.7,411.6 414.1,411.7 414.5,411.7 414.9,411.8 415.3,411.9 415.7,411.9 416.1,412.1 416.5,412.2 416.9,412.4 417.3,412.7 417.7,413.1 418.1,411.7 418.5,411.0 418.9,410.5 419.3,410.1 419.7,409.8 420.1,409.5 420.5,409.3 420.9,409.1 421.3,409.0 421.7,408.9 422.1,408.8 422.5,408.8 422.9,408.8 423.3,408.8 423.7,408.9 424.1,408.9 424.5,409.0 424.9,409.1 425.3,409.3 425.7,409.4 426.1,409.6 426.5,409.9 426.9,410.3 427.3,410.9 427.7,409.4 428.1,408.3 428.5,407.5 428.9,406.9 429.3,406.4 429.7,406.0 430.1,405.7 430.5,405.4 430.9,405.3 431.3,405.1 431.7,405.0 432.1,405.0 432.5,405.0 432.9,405.0 433.3,405.1 433.7,405.2 434.1,405.3 434.5,405.4 434.9,405.5 435.3,405.7 435.7,406.0 436.1,406.3 436.5,406.6 436.9,407.1 437.3,408.0 437.7,405.8 438.1,404.2 438.5,403.1 438.9,402.3 439.3,401.6 439.7,401.1 440.1,400.6 440.5,400.3 440.9,400.0 441.3,399.7 441.7,399.6 442.1,399.5 442.5,399.4 442.9,399.4 443.3,399.4 443.7,399.5 444.1,399.6 444.5,399.7 444.9,399.9 445.3,400.1 445.7,400.4 446.1,400.7 446.5,401.2 446.9,401.7 447.3,402.4 447.7,403.4 448.1,402.4 448.5,400.5 448.9,399.3 449.3,398.4 449.7,397.7 450.1,397.1 450.5,396.6 450.9,396.2 451.3,395.9 451.7,395.7 452.1,395.5 452.5,395.4 452.9,395.3 453.3,395.3 453.7,395.4 454.1,395.5 454.5,395.7 454.9,395.9 455.3,396.2 455.7,396.6 456.1,397.1 456.5,397.7 456.9,398.4 457.3,399.2 457.8,400.3 458.2,401.7 458.6,403.8 459.0,403.8 459.4,401.7 459.8,400.3 460.2,399.2 460.6,398.4 461.0,397.7 461.4,397.1 461.8,396.6 462.2,396.2 462.6,395.9 463.0,395.7 463.4,395.5 463.8,395.4 464.2,395.3 464.6,395.3 465.0,395.4 465.4,395.5 465.8,395.7 466.2,395.9 466.6,396.2 467.0,396.6 467.4,397.1 467.8,397.7 468.2,398.4 468.6,399.3 469.0,400.5 469.4,402.4 469.8,403.4 470.2,402.4 470.6,401.7 471.0,401.2 471.4,400.7 471.8,400.4 472.2,400.1 472.6,399.9 473.0,399.7 473.4,399.6 473.8,399.5 474.2,399.4 474.6,399.4 475.0,399.4 475.4,399.5 475.8,399.6 476.2,399.7 476.6,400.0 477.0,400.3 477.4,400.6 477.8,401.1 478.2,401.6 478.6,402.3 479.0,403.1 479.4,404.2 479.8,405.8 480.2,408.0 480.6,407.1 481.0,406.6 481.4,406.3 481.8,406.0 482.2,405.7 482.6,405.5 483.0,405.4 483.4,405.3 483.8,405.2 484.2,405.1 484.6,405.0 485.0,405.0 485.4,405.0 485.8,405.0 486.2,405.1 486.6,405.3 487.0,405.4 487.4,405.7 487.8,406.0 488.2,406.4 488.6,406.9 489.0,407.5 489.4,408.3 489.8,409.5 490.2,410.9 490.6,410.3 491.0,409.9 491.4,409.6 491.8,409.4 492.2,409.3 492.6,409.1 493.0,409.0 493.4,408.9 493.8,408.9 494.2,408.8 494.6,408.8 495.0,408.8 495.4,408.8 495.8,408.9 496.2,409.0 496.6,409.1 497.0,409.3 497.4,409.5 497.8,409.8 498.2,410.1 498.6,410.5 499.0,411.0 499.4,411.7 499.8,413.1 500.2,412.7 500.6,412.4 501.0,412.2 501.4,412.1 501.8,411.9 502.2,411.9 502.6,411.8 503.0,411.7 503.4,411.7 503.8,411.6 504.2,411.6 504.6,411.6 505.0,411.6 505.4,411.6 505.8,411.7 506.2,411.8 506.6,411.9 507.0,412.0 507.4,412.2 507.8,412.5 508.2,412.8 508.6,413.2 509.0,413.8 509.4,414.2 509.8,413.6 510.2,413.2 510.6,412.9 511.0,412.7 511.4,412.6 511.8,412.4 512.2,412.3 512.6,412.3 513.0,412.2 513.4,412.2 513.8,412.2 514.2,412.2 514.6,412.2 515.0,412.3 515.4,412.4 515.8,412.5 516.2,412.7 516.6,412.9 517.0,413.2 517.4,413.5 517.8,414.0 518.2,415.1 518.6,414.2 519.0,413.8 519.4,413.4 519.8,413.2 520.2,413.0 520.6,412.8 521.0,412.7 521.4,412.6 521.8,412.6 522.2,412.5 522.6,412.5 523.0,412.5 523.4,412.5 523.8,412.6 524.2,412.7 524.6,412.8 525.0,412.9 525.4,413.1 525.8,413.4 526.2,413.7 526.6,414.1 527.0,414.7 527.4,414.9 527.8,414.2 528.2,413.9 528.6,413.6 529.0,413.4 529.4,413.2 529.8,413.0 530.2,412.9 530.6,412.9 531.0,412.8 531.4,412.8 531.8,412.8 532.2,412.8 532.6,412.8 533.0,412.9 533.4,413.0 533.8,413.1 534.2,413.3 534.6,413.5 535.0,413.8 535.4,414.1 535.8,414.7 536.3,416.0 536.7,414.8 537.1,414.3 537.5,414.0 537.9,413.7 538.3,413.5 538.7,413.4 539.1,413.2 539.5,413.2 539.9,413.1 540.3,413.0 540.7,413.0 541.1,413.0 541.5,413.1 541.9,413.1 542.3,413.2 542.7,413.3 543.1,413.5 543.5,413.7 543.9,413.9 544.3,414.2 544.7,414.7 545.1,415.3 545.5,415.4 545.9,414.8 546.3,414.4 546.7,414.1 547.1,413.9 547.5,413.7 547.9,413.6 548.3,413.5 548.7,413.4 549.1,413.3 549.5,413.3 549.9,413.3 550.3,413.3 550.7,413.4 551.1,413.4 551.5,413.5 551.9,413.7 552.3,413.8 552.7,414.1 553.1,414.3 553.5,414.7 553.9,415.2 554.3,416.2 554.7,415.3 555.1,414.8 555.5,414.5 555.9,414.2 556.3,414.0 556.7,413.9 557.1,413.8 557.5,413.7 557.9,413.6 558.3,413.6 558.7,413.5 559.1,413.6 559.5,413.6 559.9,413.7 560.3,413.7 560.7,413.9 561.1,414.0 561.5,414.2 561.9,414.5 562.3,414.8 562.7,415.2 563.1,416.0 563.5,415.9 563.9,415.3 564.3,414.9 564.7,414.6 565.1,414.4 565.5,414.2 565.9,414.1 566.3,414.0 566.7,413.9 567.1,413.8 567.5,413.8 567.9,413.8 568.3,413.8 568.7,413.9 569.1,414.0 569.5,414.1 569.9,414.2 570.3,414.4 570.7,414.6 571.1,414.9 571.5,415.3 571.9,415.8 572.3,416.7 572.7,415.8 573.1,415.3 573.5,415.0 573.9,414.8 574.3,414.6 574.7,414.4 575.1,414.3 575.5,414.2" fill="none" stroke="#eea030" stroke-width="1.35"/><path d="M399.0,425.4 399.4,425.0 399.8,425.5 400.2,424.8 400.6,423.7 401.0,426.1 401.4,425.1 401.8,425.1 402.2,425.1 402.6,424.8 403.0,426.6 403.4,426.3 403.8,427.0 404.2,425.8 404.6,425.9 405.0,425.1 405.4,432.7 405.8,429.3 406.2,425.4 406.6,423.4 407.0,425.5 407.4,423.0 407.8,424.9 408.2,425.0 408.6,425.2 409.0,423.8 409.4,424.4 409.8,424.4 410.2,424.9 410.6,426.0 411.0,424.4 411.4,425.8 411.8,425.4 412.2,424.4 412.6,425.4 413.0,426.5 413.4,425.1 413.8,426.9 414.2,425.5 414.6,426.5 415.0,425.3 415.4,433.0 415.8,425.8 416.2,422.6 416.6,424.1 417.0,425.3 417.4,424.0 417.8,423.8 418.2,423.9 418.6,424.1 419.0,424.5 419.4,423.5 419.8,430.5 420.2,422.6 420.6,425.2 421.0,424.0 421.4,424.0 421.8,424.4 422.2,424.6 422.6,424.5 423.0,424.8 423.4,425.5 423.8,423.8 424.2,424.5 424.6,425.1 425.0,425.9 425.4,425.4 425.8,425.1 426.2,424.0 426.6,425.1 427.0,424.0 427.4,423.2 427.8,423.5 428.2,421.0 428.6,422.4 429.0,422.6 429.4,423.7 429.8,424.2 430.2,422.3 430.6,423.8 431.0,421.3 431.4,423.4 431.8,423.9 432.2,422.7 432.6,423.9 433.0,423.5 433.4,421.1 433.8,422.9 434.2,423.7 434.6,423.0 435.0,423.9 435.4,424.9 435.8,423.2 436.2,424.3 436.6,420.8 437.0,421.6 437.4,420.5 437.8,421.4 438.2,419.8 438.6,419.8 439.0,420.1 439.4,420.7 439.8,421.0 440.2,420.9 440.6,419.3 441.0,420.0 441.4,420.7 441.8,419.3 442.2,418.6 442.6,420.6 443.0,419.8 443.4,421.0 443.8,420.5 444.2,420.2 444.6,420.7 445.0,418.7 445.4,420.9 445.8,419.6 446.2,418.7 446.6,418.0 447.0,417.1 447.4,415.8 447.8,415.4 448.2,416.3 448.6,415.7 449.0,412.6 449.4,414.5 449.8,415.3 450.2,413.2 450.6,414.6 451.0,413.5 451.4,414.6 451.8,416.7 452.2,415.7 452.6,413.7 453.0,415.0 453.4,415.0 453.8,413.6 454.2,414.9 454.6,414.7 455.0,416.2 455.4,415.4 455.8,415.7 456.2,415.2 456.6,415.3 457.0,414.9 457.4,416.7 457.8,416.9 458.2,416.7 458.6,418.4 459.0,416.6 459.4,415.8 459.8,415.3 460.2,417.0 460.6,415.6 461.0,414.8 461.4,414.5 461.8,415.3 462.2,414.0 462.6,415.1 463.0,415.0 463.4,414.1 463.8,412.7 464.2,415.2 464.6,412.6 465.0,414.7 465.4,413.8 465.8,413.8 466.2,414.5 466.6,413.1 467.0,413.8 467.4,414.4 467.8,414.7 468.2,414.5 468.6,415.2 469.0,415.2 469.4,414.5 469.8,416.0 470.2,417.3 470.6,416.2 471.0,417.8 471.4,418.2 471.8,420.0 472.2,420.1 472.6,420.6 473.0,419.1 473.4,419.1 473.8,419.9 474.2,419.7 474.6,419.4 475.0,421.1 475.4,420.6 475.8,421.2 476.2,419.5 476.6,420.0 477.0,419.5 477.4,419.6 477.8,419.9 478.2,420.9 478.6,420.2 479.0,420.8 479.4,420.4 479.8,420.9 480.2,421.6 480.6,422.0 481.0,422.6 481.4,423.0 481.8,424.2 482.2,422.9 482.6,423.6 483.0,421.7 483.4,425.0 483.8,422.3 484.2,423.3 484.6,422.2 485.0,423.7 485.4,421.8 485.8,424.4 486.2,421.3 486.6,423.0 487.0,422.5 487.4,423.3 487.8,423.4 488.2,421.9 488.6,422.5 489.0,422.8 489.4,429.5 489.8,422.9 490.2,424.3 490.6,422.9 491.0,423.9 491.4,424.7 491.8,424.2 492.2,424.4 492.6,426.7 493.0,424.5 493.4,423.7 493.8,425.0 494.2,425.2 494.6,423.9 495.0,431.3 495.4,424.5 495.8,424.2 496.2,423.0 496.6,424.2 497.0,423.1 497.4,423.3 497.8,423.0 498.2,423.7 498.6,424.6 499.0,423.9 499.4,423.4 499.8,423.2 500.2,423.1 500.6,424.6 501.0,423.4 501.4,425.2 501.8,425.7 502.2,424.6 502.6,424.7 503.0,426.2 503.4,425.4 503.8,426.3 504.2,425.7 504.6,428.5 505.0,426.7 505.4,425.0 505.8,425.2 506.2,424.6 506.6,424.4 507.0,426.3 507.4,423.9 507.8,424.4 508.2,424.8 508.6,424.6 509.0,424.9 509.4,423.2 509.8,422.7 510.2,424.7 510.6,426.5 511.0,423.4 511.4,425.0 511.8,424.9 512.2,424.5 512.6,425.6 513.0,427.1 513.4,426.3 513.8,427.6 514.2,425.5 514.6,426.1 515.0,431.8 515.4,426.2 515.8,432.6 516.2,426.6 516.6,426.4" fill="none" stroke="#818181" stroke-width="1.0"/><path d="M399.0,425.2 399.4,425.2 399.8,425.2 400.2,425.3 400.6,425.3 401.0,425.4 401.4,425.5 401.8,425.6 402.2,425.7 402.6,425.9 403.0,426.1 403.4,426.3 403.8,426.7 404.2,426.6 404.6,426.1 405.0,425.7 405.4,425.5 405.8,425.3 406.2,425.1 406.6,425.0 407.0,424.9 407.4,424.8 407.8,424.7 408.2,424.7 408.6,424.6 409.0,424.6 409.4,424.6 409.8,424.6 410.2,424.6 410.6,424.7 411.0,424.7 411.4,424.8 411.8,424.9 412.2,425.0 412.6,425.1 413.0,425.3 413.4,425.5 413.8,425.7 414.2,426.1 414.6,426.2 415.0,425.6 415.4,425.2 415.8,424.9 416.2,424.7 416.6,424.5 417.0,424.4 417.4,424.3 417.8,424.2 418.2,424.1 418.6,424.0 419.0,424.0 419.4,424.0 419.8,424.0 420.2,424.0 420.6,424.0 421.0,424.0 421.4,424.1 421.8,424.1 422.2,424.2 422.6,424.3 423.0,424.4 423.4,424.6 423.8,424.7 424.2,425.0 424.6,425.3 425.0,426.1 425.4,424.9 425.8,424.4 426.2,424.1 426.6,423.8 427.0,423.6 427.4,423.5 427.8,423.3 428.2,423.2 428.6,423.1 429.0,423.0 429.4,423.0 429.8,423.0 430.2,423.0 430.6,423.0 431.0,423.0 431.4,423.0 431.8,423.0 432.2,423.0 432.6,423.1 433.0,423.2 433.4,423.2 433.8,423.3 434.2,423.4 434.6,423.6 435.0,423.7 435.4,424.1 435.8,422.9 436.2,422.2 436.6,421.7 437.0,421.3 437.4,421.0 437.8,420.8 438.2,420.6 438.6,420.4 439.0,420.3 439.4,420.2 439.8,420.1 440.2,420.1 440.6,420.1 441.0,420.1 441.4,420.1 441.8,420.1 442.2,420.1 442.6,420.1 443.0,420.1 443.4,420.1 443.8,420.1 444.2,420.1 444.6,420.1 445.0,420.1 445.4,420.1 445.8,420.1 446.2,418.6 446.6,417.5 447.0,416.8 447.4,416.3 447.8,415.8 448.2,415.5 448.6,415.2 449.0,415.0 449.4,414.8 449.8,414.6 450.2,414.5 450.6,414.4 451.0,414.4 451.4,414.4 451.8,414.4 452.2,414.4 452.6,414.5 453.0,414.5 453.4,414.6 453.8,414.6 454.2,414.7 454.6,414.8 455.0,414.9 455.4,415.0 455.8,415.2 456.2,415.3 456.6,415.5 457.0,415.8 457.4,416.0 457.8,416.3 458.2,416.8 458.6,417.4 459.0,417.2 459.4,416.7 459.8,416.3 460.2,416.0 460.6,415.7 461.0,415.5 461.4,415.3 461.8,415.1 462.2,415.0 462.6,414.9 463.0,414.8 463.4,414.7 463.8,414.6 464.2,414.5 464.6,414.5 465.0,414.5 465.4,414.4 465.8,414.4 466.2,414.4 466.6,414.4 467.0,414.5 467.4,414.5 467.8,414.7 468.2,414.8 468.6,415.0 469.0,415.3 469.4,415.6 469.8,415.9 470.2,416.4 470.6,416.9 471.0,417.7 471.4,419.1 471.8,420.1 472.2,420.1 472.6,420.1 473.0,420.1 473.4,420.1 473.8,420.1 474.2,420.1 474.6,420.1 475.0,420.1 475.4,420.1 475.8,420.1 476.2,420.1 476.6,420.1 477.0,420.1 477.4,420.1 477.8,420.1 478.2,420.2 478.6,420.3 479.0,420.5 479.4,420.6 479.8,420.9 480.2,421.1 480.6,421.4 481.0,421.8 481.4,422.4 481.8,423.2 482.2,424.0 482.6,423.7 483.0,423.5 483.4,423.4 483.8,423.3 484.2,423.2 484.6,423.1 485.0,423.1 485.4,423.0 485.8,423.0 486.2,423.0 486.6,423.0 487.0,423.0 487.4,423.0 487.8,423.0 488.2,423.0 488.6,423.1 489.0,423.1 489.4,423.2 489.8,423.3 490.2,423.5 490.6,423.7 491.0,423.9 491.4,424.2 491.8,424.5 492.2,425.1 492.6,425.7 493.0,425.2 493.4,424.9 493.8,424.7 494.2,424.5 494.6,424.4 495.0,424.3 495.4,424.2 495.8,424.1 496.2,424.1 496.6,424.0 497.0,424.0 497.4,424.0 497.8,424.0 498.2,424.0 498.6,424.0 499.0,424.0 499.4,424.1 499.8,424.2 500.2,424.3 500.6,424.4 501.0,424.6 501.4,424.8 501.8,425.0 502.2,425.3 502.6,425.7 503.0,426.8 503.4,426.0 503.8,425.6 504.2,425.4 504.6,425.2 505.0,425.1 505.4,425.0 505.8,424.9 506.2,424.8 506.6,424.7 507.0,424.7 507.4,424.6 507.8,424.6 508.2,424.6 508.6,424.6 509.0,424.6 509.4,424.7 509.8,424.7 510.2,424.8 510.6,424.9 511.0,425.0 511.4,425.2 511.8,425.3 512.2,425.5 512.6,425.8 513.0,426.2 513.4,426.8 513.8,426.6 514.2,426.3 514.6,426.0 515.0,425.8 515.4,425.7 515.8,425.6 516.2,425.5 516.6,425.4" fill="none" stroke="#4c4c4c" stroke-width="1.35"/><path d="M339.6,441.5 340.0,440.8 340.4,441.6 340.8,441.1 341.2,441.3 341.6,440.8 342.0,441.1 342.4,442.4 342.8,442.4 343.2,440.8 343.6,442.7 344.0,444.2 344.4,443.7 344.8,442.4 345.2,443.2 345.6,442.3 346.0,441.6 346.4,442.4 346.8,442.4 347.2,440.8 347.6,441.2 348.0,440.7 348.4,440.9 348.8,442.2 349.2,440.5 349.6,441.3 350.0,441.0 350.4,440.9 350.8,440.0 351.2,441.5 351.6,440.1 352.0,441.8 352.4,441.2 352.8,441.6 353.2,441.3 353.6,441.2 354.0,441.4 354.4,442.7 354.8,443.5 355.2,442.9 355.6,441.9 356.0,442.5 356.4,441.7 356.8,441.4 357.2,440.9 357.6,441.0 358.0,441.4 358.4,440.2 358.8,439.7 359.2,441.0 359.6,445.5 360.0,440.6 360.4,440.8 360.8,439.6 361.2,439.9 361.6,440.8 362.0,440.9 362.4,440.0 362.8,441.6 363.2,439.8 363.6,442.6 364.0,441.0 364.4,441.8 364.8,442.0 365.2,441.8 365.6,442.0 366.0,440.2 366.4,441.2 366.8,441.4 367.2,440.8 367.6,440.8 368.0,439.5 368.4,439.1 368.8,439.4 369.2,441.3 369.6,440.7 370.0,438.9 370.4,441.8 370.8,441.0 371.2,441.4 371.6,441.4 372.0,441.7 372.4,439.4 372.8,441.0 373.2,440.4 373.6,442.9 374.0,442.2 374.4,441.9 374.8,442.2 375.2,441.9 375.6,442.5 376.0,441.2 376.4,442.6 376.8,441.8 377.2,440.9 377.6,440.4 378.0,441.5 378.4,440.0 378.8,441.3 379.3,440.4 379.7,440.0 380.1,440.5 380.5,441.6 380.9,445.1 381.3,440.9 381.7,440.9 382.1,440.2 382.5,441.7 382.9,441.2 383.3,441.3 383.7,440.2 384.1,441.8 384.5,440.5 384.9,442.5 385.3,444.5 385.7,441.9 386.1,446.7 386.5,440.6 386.9,441.2 387.3,441.4 387.7,439.4 388.1,440.7 388.5,439.7 388.9,439.7 389.3,440.8 389.7,440.0 390.1,440.3 390.5,440.0 390.9,440.3 391.3,441.3 391.7,440.2 392.1,439.9 392.5,440.3 392.9,441.0 393.3,440.9 393.7,439.0 394.1,440.9 394.5,441.6 394.9,443.8 395.3,441.7 395.7,443.0 396.1,441.1 396.5,441.5 396.9,439.6 397.3,440.1 397.7,440.5 398.1,439.1 398.5,439.9 398.9,439.5 399.3,441.0 399.7,441.2 400.1,441.5 400.5,439.9 400.9,440.3 401.3,441.7 401.7,439.3 402.1,441.3 402.5,439.2 402.9,441.0 403.3,439.0 403.7,440.1 404.1,440.5 404.5,440.8 404.9,439.7 405.3,441.9 405.7,442.3 406.1,443.6 406.5,442.1 406.9,439.3 407.3,440.9 407.7,441.4 408.1,440.2 408.5,439.5 408.9,438.7 409.3,439.5 409.7,438.9 410.1,439.4 410.5,439.3 410.9,440.6 411.3,438.7 411.7,439.9 412.1,438.7 412.5,439.9 412.9,440.7 413.3,439.4 413.7,439.1 414.1,440.3 414.5,440.5 414.9,440.2 415.3,441.5 415.7,441.7 416.1,442.8 416.5,439.7 416.9,440.8 417.3,440.7 417.7,438.6 418.1,440.6 418.5,438.9 418.9,437.4 419.3,437.5 419.7,437.6 420.1,437.6 420.5,437.9 420.9,438.3 421.3,437.9 421.7,437.8 422.1,437.3 422.5,436.4 422.9,437.6 423.3,437.2 423.7,439.1 424.1,436.5 424.5,439.6 424.9,436.5 425.3,439.0 425.7,439.5 426.1,439.1 426.5,438.0 426.9,438.6 427.3,436.2 427.7,436.5 428.1,436.2 428.5,436.4 428.9,434.5 429.3,436.5 429.7,435.1 430.1,435.9 430.5,433.8 430.9,435.8 431.3,434.8 431.7,435.5 432.1,434.4 432.5,435.7 432.9,435.0 433.3,433.5 433.7,437.2 434.1,434.7 434.5,435.7 434.9,435.3 435.3,435.3 435.7,435.6 436.1,437.0 436.5,436.6 436.9,434.9 437.3,431.9 437.7,433.3 438.1,430.8 438.5,433.6 438.9,431.6 439.3,432.0 439.7,430.8 440.1,430.7 440.5,429.9 440.9,432.1 441.3,430.1 441.7,431.3 442.1,429.7 442.5,430.3 442.9,430.1 443.3,430.4 443.7,430.2 444.1,431.2 444.5,431.4 444.9,429.7 445.3,430.8 445.7,430.4 446.1,432.7 446.5,431.3 446.9,431.2 447.3,429.9 447.7,429.0 448.1,426.8 448.5,429.5 448.9,427.5 449.3,427.9 449.7,428.0 450.1,426.1 450.5,426.0 450.9,428.1 451.3,428.3 451.7,425.9 452.1,426.6 452.5,427.5 452.9,426.6 453.3,427.9 453.7,427.4 454.1,427.0 454.5,427.8 454.9,427.0 455.3,428.7 455.7,427.4 456.1,429.4 456.5,430.7 456.9,427.6 457.3,431.0 457.8,429.0 458.2,431.0 458.6,433.8 459.0,433.2 459.4,431.6 459.8,430.5 460.2,429.7 460.6,429.5 461.0,428.5 461.4,428.0 461.8,426.9 462.2,429.1 462.6,427.4 463.0,428.8 463.4,427.7 463.8,427.3 464.2,425.9 464.6,426.5 465.0,426.7 465.4,426.5 465.8,426.4 466.2,424.7 466.6,426.4 467.0,426.6 467.4,426.5 467.8,426.9 468.2,426.1 468.6,427.0 469.0,429.3 469.4,427.7 469.8,428.6 470.2,429.1 470.6,430.7 471.0,431.9 471.4,433.5 471.8,430.6 472.2,432.3 472.6,430.6 473.0,431.2 473.4,432.8 473.8,430.6 474.2,430.5 474.6,428.0 475.0,430.1 475.4,430.2 475.8,430.5 476.2,430.6 476.6,429.5 477.0,429.7 477.4,431.3 477.8,430.6 478.2,431.0 478.6,431.9 479.0,431.7 479.4,432.2 479.8,431.7 480.2,433.3 480.6,432.7 481.0,437.3 481.4,435.6 481.8,437.3 482.2,435.2 482.6,435.4 483.0,436.4 483.4,435.4 483.8,435.3 484.2,434.8 484.6,434.8 485.0,434.3 485.4,434.3 485.8,433.4 486.2,434.8 486.6,434.3 487.0,436.2 487.4,436.9 487.8,436.8 488.2,434.4 488.6,435.3 489.0,435.8 489.4,434.9 489.8,438.0 490.2,437.8 490.6,438.1 491.0,440.5 491.4,440.5 491.8,439.2 492.2,439.4 492.6,438.5 493.0,439.1 493.4,437.4 493.8,438.8 494.2,438.0 494.6,437.8 495.0,437.8 495.4,438.0 495.8,436.6 496.2,438.5 496.6,437.9 497.0,439.6 497.4,438.1 497.8,439.0 498.2,438.3 498.6,438.4 499.0,437.7 499.4,438.6 499.8,438.8 500.2,437.7 500.6,440.0 501.0,440.3 501.4,442.5 501.8,442.5 502.2,440.9 502.6,441.8 503.0,441.5 503.4,440.9 503.8,439.8 504.2,440.0 504.6,441.2 505.0,441.0 505.4,440.6 505.8,438.1 506.2,437.7 506.6,441.1 507.0,440.2 507.4,440.8 507.8,440.2 508.2,439.5 508.6,440.3 509.0,440.0 509.4,441.5 509.8,441.2 510.2,440.0 510.6,440.5 511.0,442.5 511.4,443.1 511.8,442.8 512.2,442.1 512.6,440.3 513.0,440.3 513.4,441.1 513.8,438.9 514.2,440.7 514.6,440.6 515.0,440.6 515.4,440.6 515.8,441.5 516.2,440.0 516.6,439.1 517.0,438.3 517.4,437.9 517.8,440.0 518.2,440.7 518.6,438.6 519.0,440.3 519.4,439.8 519.8,440.4 520.2,441.0 520.6,441.2 521.0,440.5 521.4,442.7 521.8,443.2 522.2,440.7 522.6,442.4 523.0,442.6 523.4,446.4 523.8,442.1 524.2,439.2 524.6,440.2 525.0,441.4 525.4,441.3 525.8,440.5 526.2,440.9 526.6,439.7 527.0,440.6 527.4,440.8 527.8,440.9 528.2,440.4 528.6,440.9 529.0,440.7 529.4,441.0 529.8,439.3 530.2,441.4 530.6,440.4 531.0,441.2 531.4,442.0 531.8,448.4 532.2,441.6 532.6,441.6 533.0,441.8 533.4,441.0 533.8,441.1 534.2,441.0 534.6,440.8 535.0,440.1 535.4,440.6 535.8,440.8 536.3,439.2 536.7,440.9 537.1,439.4 537.5,440.5 537.9,440.8 538.3,446.2 538.7,439.4 539.1,439.7 539.5,439.6 539.9,441.2 540.3,448.5 540.7,439.7 541.1,442.1 541.5,442.9 541.9,445.2 542.3,443.5 542.7,442.7 543.1,441.1 543.5,441.2 543.9,441.8 544.3,440.8 544.7,440.9 545.1,440.9 545.5,442.1 545.9,440.8 546.3,440.8 546.7,440.0 547.1,441.5 547.5,440.5 547.9,440.4 548.3,441.6 548.7,441.7 549.1,439.8 549.5,440.5 549.9,441.9 550.3,440.6 550.7,442.6 551.1,441.4 551.5,443.5 551.9,441.4 552.3,441.3 552.7,441.7 553.1,444.0 553.5,441.3 553.9,441.3 554.3,440.9 554.7,440.6 555.1,441.2 555.5,441.0 555.9,440.3 556.3,440.3 556.7,441.8 557.1,441.4 557.5,441.5 557.9,441.7 558.3,440.5 558.7,441.5 559.1,442.2 559.5,440.2 559.9,442.1 560.3,439.1 560.7,439.7 561.1,440.3 561.5,441.0 561.9,441.4 562.3,442.3 562.7,444.3 563.1,442.1 563.5,441.9 563.9,440.8 564.3,440.3 564.7,441.3 565.1,440.7 565.5,441.9 565.9,441.1 566.3,439.4 566.7,441.5 567.1,439.8 567.5,440.5 567.9,440.0 568.3,440.2 568.7,440.4 569.1,439.9 569.5,440.4 569.9,440.9 570.3,441.9 570.7,442.0 571.1,443.1 571.5,440.5 571.9,441.8 572.3,443.6 572.7,442.3 573.1,442.9 573.5,443.2 573.9,443.5 574.3,442.4 574.7,442.0 575.1,441.4 575.5,441.9" fill="none" stroke="#e96868" stroke-width="1.0"/><path d="M339.6,441.0 340.0,441.0 340.4,441.0 340.8,441.1 341.2,441.2 341.6,441.3 342.0,441.4 342.4,441.5 342.8,441.7 343.2,441.9 343.6,442.2 344.0,442.5 344.4,443.1 344.8,443.2 345.2,442.5 345.6,442.1 346.0,441.8 346.4,441.6 346.8,441.4 347.2,441.2 347.6,441.1 348.0,441.0 348.4,440.9 348.8,440.8 349.2,440.8 349.6,440.8 350.0,440.8 350.4,440.8 350.8,440.9 351.2,440.9 351.6,441.0 352.0,441.1 352.4,441.2 352.8,441.4 353.2,441.6 353.6,441.9 354.0,442.2 354.4,442.6 354.8,443.6 355.2,442.7 355.6,442.1 356.0,441.8 356.4,441.5 356.8,441.3 357.2,441.1 357.6,440.9 358.0,440.8 358.4,440.7 358.8,440.7 359.2,440.6 359.6,440.6 360.0,440.6 360.4,440.6 360.8,440.6 361.2,440.7 361.6,440.8 362.0,440.9 362.4,441.0 362.8,441.1 363.2,441.3 363.6,441.6 364.0,441.9 364.4,442.3 364.8,442.9 365.2,442.9 365.6,442.2 366.0,441.8 366.4,441.5 366.8,441.2 367.2,441.0 367.6,440.8 368.0,440.7 368.4,440.6 368.8,440.5 369.2,440.4 369.6,440.4 370.0,440.4 370.4,440.4 370.8,440.4 371.2,440.4 371.6,440.5 372.0,440.6 372.4,440.7 372.8,440.9 373.2,441.1 373.6,441.3 374.0,441.6 374.4,441.9 374.8,442.4 375.2,443.6 375.6,442.4 376.0,441.8 376.4,441.4 376.8,441.1 377.2,440.9 377.6,440.7 378.0,440.5 378.4,440.4 378.8,440.3 379.3,440.2 379.7,440.2 380.1,440.2 380.5,440.2 380.9,440.2 381.3,440.2 381.7,440.3 382.1,440.4 382.5,440.5 382.9,440.6 383.3,440.8 383.7,441.0 384.1,441.3 384.5,441.6 384.9,442.0 385.3,442.7 385.7,442.6 386.1,441.9 386.5,441.4 386.9,441.1 387.3,440.8 387.7,440.6 388.1,440.4 388.5,440.3 388.9,440.2 389.3,440.1 389.7,440.0 390.1,440.0 390.5,439.9 390.9,439.9 391.3,440.0 391.7,440.0 392.1,440.1 392.5,440.2 392.9,440.3 393.3,440.5 393.7,440.7 394.1,440.9 394.5,441.3 394.9,441.6 395.3,442.2 395.7,443.2 396.1,442.0 396.5,441.5 396.9,441.1 397.3,440.8 397.7,440.5 398.1,440.3 398.5,440.1 398.9,440.0 399.3,439.9 399.7,439.8 400.1,439.8 400.5,439.7 400.9,439.7 401.3,439.7 401.7,439.8 402.1,439.9 402.5,440.0 402.9,440.1 403.3,440.2 403.7,440.4 404.1,440.6 404.5,440.9 404.9,441.3 405.3,441.8 405.7,442.6 406.1,442.3 406.5,441.6 406.9,441.1 407.3,440.7 407.7,440.4 408.1,440.2 408.5,440.0 408.9,439.9 409.3,439.7 409.7,439.6 410.1,439.6 410.5,439.5 410.9,439.5 411.3,439.5 411.7,439.6 412.1,439.6 412.5,439.7 412.9,439.8 413.3,439.9 413.7,440.0 414.1,440.2 414.5,440.4 414.9,440.7 415.3,441.1 415.7,441.6 416.1,442.2 416.5,440.9 416.9,440.2 417.3,439.7 417.7,439.3 418.1,439.0 418.5,438.7 418.9,438.5 419.3,438.3 419.7,438.2 420.1,438.1 420.5,438.0 420.9,438.0 421.3,438.0 421.7,438.0 422.1,438.0 422.5,438.1 422.9,438.2 423.3,438.2 423.7,438.4 424.1,438.5 424.5,438.7 424.9,438.9 425.3,439.1 425.7,439.5 426.1,440.0 426.5,438.8 426.9,437.8 427.3,437.1 427.7,436.6 428.1,436.2 428.5,435.8 428.9,435.6 429.3,435.3 429.7,435.2 430.1,435.0 430.5,434.9 430.9,434.9 431.3,434.9 431.7,434.9 432.1,434.9 432.5,434.9 432.9,435.0 433.3,435.0 433.7,435.1 434.1,435.2 434.5,435.3 434.9,435.4 435.3,435.6 435.7,435.8 436.1,436.2 436.5,435.8 436.9,434.1 437.3,433.2 437.7,432.5 438.1,432.0 438.5,431.6 438.9,431.3 439.3,431.0 439.7,430.8 440.1,430.6 440.5,430.5 440.9,430.4 441.3,430.3 441.7,430.3 442.1,430.3 442.5,430.4 442.9,430.4 443.3,430.5 443.7,430.6 444.1,430.7 444.5,430.8 444.9,431.0 445.3,431.2 445.7,431.4 446.1,431.8 446.5,432.4 446.9,430.8 447.3,429.7 447.7,429.0 448.1,428.5 448.5,428.0 448.9,427.6 449.3,427.3 449.7,427.1 450.1,426.9 450.5,426.8 450.9,426.7 451.3,426.6 451.7,426.6 452.1,426.6 452.5,426.6 452.9,426.7 453.3,426.8 453.7,426.9 454.1,427.0 454.5,427.2 454.9,427.4 455.3,427.7 455.7,427.9 456.1,428.2 456.5,428.6 456.9,429.0 457.3,429.6 457.8,430.2 458.2,431.0 458.6,432.2 459.0,432.2 459.4,431.0 459.8,430.2 460.2,429.6 460.6,429.0 461.0,428.6 461.4,428.2 461.8,427.9 462.2,427.6 462.6,427.4 463.0,427.2 463.4,427.0 463.8,426.9 464.2,426.8 464.6,426.7 465.0,426.6 465.4,426.6 465.8,426.6 466.2,426.6 466.6,426.7 467.0,426.8 467.4,426.9 467.8,427.1 468.2,427.3 468.6,427.6 469.0,428.0 469.4,428.5 469.8,429.0 470.2,429.7 470.6,430.8 471.0,432.3 471.4,431.8 471.8,431.4 472.2,431.2 472.6,431.0 473.0,430.8 473.4,430.7 473.8,430.6 474.2,430.5 474.6,430.4 475.0,430.4 475.4,430.3 475.8,430.3 476.2,430.3 476.6,430.4 477.0,430.5 477.4,430.6 477.8,430.8 478.2,431.0 478.6,431.3 479.0,431.6 479.4,432.0 479.8,432.6 480.2,433.2 480.6,434.1 481.0,435.8 481.4,436.2 481.8,435.8 482.2,435.6 482.6,435.4 483.0,435.3 483.4,435.2 483.8,435.1 484.2,435.0 484.6,435.0 485.0,434.9 485.4,434.9 485.8,434.9 486.2,434.9 486.6,434.9 487.0,434.9 487.4,435.0 487.8,435.2 488.2,435.3 488.6,435.6 489.0,435.8 489.4,436.2 489.8,436.6 490.2,437.1 490.6,437.8 491.0,438.8 491.4,440.0 491.8,439.5 492.2,439.1 492.6,438.9 493.0,438.7 493.4,438.5 493.8,438.4 494.2,438.2 494.6,438.2 495.0,438.1 495.4,438.0 495.8,438.0 496.2,438.0 496.6,438.0 497.0,438.0 497.4,438.1 497.8,438.2 498.2,438.3 498.6,438.5 499.0,438.7 499.4,439.0 499.8,439.3 500.2,439.7 500.6,440.2 501.0,440.9 501.4,442.2 501.8,441.6 502.2,441.1 502.6,440.7 503.0,440.4 503.4,440.2 503.8,440.0 504.2,439.9 504.6,439.8 505.0,439.7 505.4,439.6 505.8,439.6 506.2,439.5 506.6,439.5 507.0,439.5 507.4,439.6 507.8,439.6 508.2,439.7 508.6,439.9 509.0,440.0 509.4,440.2 509.8,440.4 510.2,440.7 510.6,441.1 511.0,441.6 511.4,442.3 511.8,442.5 512.2,441.8 512.6,441.3 513.0,440.9 513.4,440.6 513.8,440.4 514.2,440.2 514.6,440.1 515.0,440.0 515.4,439.9 515.8,439.8 516.2,439.7 516.6,439.7 517.0,439.7 517.4,439.8 517.8,439.8 518.2,439.9 518.6,440.0 519.0,440.1 519.4,440.3 519.8,440.5 520.2,440.8 520.6,441.1 521.0,441.5 521.4,442.1 521.8,443.3 522.2,442.2 522.6,441.6 523.0,441.3 523.4,440.9 523.8,440.7 524.2,440.5 524.6,440.3 525.0,440.2 525.4,440.1 525.8,440.0 526.2,440.0 526.6,439.9 527.0,439.9 527.4,440.0 527.8,440.0 528.2,440.1 528.6,440.2 529.0,440.3 529.4,440.4 529.8,440.6 530.2,440.8 530.6,441.1 531.0,441.4 531.4,441.9 531.8,442.6 532.2,442.7 532.6,442.0 533.0,441.6 533.4,441.3 533.8,441.0 534.2,440.8 534.6,440.6 535.0,440.5 535.4,440.4 535.8,440.3 536.3,440.2 536.7,440.2 537.1,440.2 537.5,440.2 537.9,440.2 538.3,440.2 538.7,440.3 539.1,440.4 539.5,440.5 539.9,440.7 540.3,440.9 540.7,441.1 541.1,441.4 541.5,441.8 541.9,442.4 542.3,443.6 542.7,442.4 543.1,441.9 543.5,441.6 543.9,441.3 544.3,441.1 544.7,440.9 545.1,440.7 545.5,440.6 545.9,440.5 546.3,440.4 546.7,440.4 547.1,440.4 547.5,440.4 547.9,440.4 548.3,440.4 548.7,440.5 549.1,440.6 549.5,440.7 549.9,440.8 550.3,441.0 550.7,441.2 551.1,441.5 551.5,441.8 551.9,442.2 552.3,442.9 552.7,442.9 553.1,442.3 553.5,441.9 553.9,441.6 554.3,441.3 554.7,441.1 555.1,441.0 555.5,440.9 555.9,440.8 556.3,440.7 556.7,440.6 557.1,440.6 557.5,440.6 557.9,440.6 558.3,440.6 558.7,440.7 559.1,440.7 559.5,440.8 559.9,440.9 560.3,441.1 560.7,441.3 561.1,441.5 561.5,441.8 561.9,442.1 562.3,442.7 562.7,443.5 563.1,442.6 563.5,442.2 563.9,441.9 564.3,441.6 564.7,441.4 565.1,441.2 565.5,441.1 565.9,441.0 566.3,440.9 566.7,440.9 567.1,440.8 567.5,440.8 567.9,440.8 568.3,440.8 568.7,440.8 569.1,440.9 569.5,441.0 569.9,441.1 570.3,441.2 570.7,441.4 571.1,441.6 571.5,441.8 571.9,442.1 572.3,442.5 572.7,443.2 573.1,443.1 573.5,442.5 573.9,442.2 574.3,441.9 574.7,441.7 575.1,441.5 575.5,441.4" fill="none" stroke="#e02828" stroke-width="1.35"/><path d="M369.5,451.7 369.9,457.8 370.3,452.9 370.7,453.1 371.1,451.5 371.5,452.2 371.9,452.8 372.3,453.1 372.7,452.9 373.1,453.0 373.5,452.6 373.9,451.1 374.3,453.0 374.7,454.4 375.1,454.2 375.5,453.3 375.9,454.2 376.3,452.6 376.7,452.4 377.1,454.5 377.5,452.8 377.9,454.4 378.3,452.3 378.7,452.3 379.1,450.9 379.5,452.3 379.9,452.0 380.3,451.1 380.7,451.4 381.1,451.4 381.5,452.4 381.9,452.0 382.3,452.2 382.7,451.5 383.1,451.6 383.5,452.0 383.9,452.1 384.3,453.7 384.7,451.7 385.1,453.2 385.5,453.7 385.9,455.1 386.3,454.8 386.7,453.9 387.1,454.6 387.5,452.4 387.9,452.0 388.3,452.8 388.7,452.3 389.1,450.8 389.5,453.3 389.9,458.3 390.3,452.7 390.7,451.5 391.1,451.0 391.5,451.7 391.9,452.8 392.3,451.5 392.7,451.1 393.1,452.6 393.5,450.3 393.9,451.1 394.3,452.3 394.7,453.2 395.1,451.7 395.5,452.9 395.9,453.2 396.3,453.8 396.7,451.9 397.1,454.1 397.5,451.3 397.9,452.4 398.3,450.7 398.7,450.3 399.1,452.1 399.5,452.5 399.9,457.6 400.3,450.0 400.7,450.5 401.1,451.8 401.5,452.1 401.9,451.1 402.3,452.3 402.7,451.2 403.1,450.8 403.5,451.0 403.9,452.6 404.3,451.9 404.7,451.7 405.1,452.6 405.5,453.4 405.9,452.4 406.3,453.1 406.7,453.2 407.1,452.7 407.5,452.9 407.9,452.6 408.3,452.3 408.7,452.6 409.1,449.8 409.5,452.4 409.9,450.5 410.3,451.1 410.7,450.5 411.1,448.5 411.5,451.1 411.9,450.1 412.3,451.8 412.7,450.1 413.1,451.5 413.5,451.6 413.9,450.2 414.3,451.4 414.7,451.1 415.1,452.1 415.5,452.3 415.9,451.6 416.3,452.0 416.7,451.3 417.1,452.9 417.5,450.8 417.9,451.7 418.3,451.0 418.7,451.2 419.1,450.5 419.5,449.3 419.9,450.1 420.3,450.3 420.7,449.7 421.1,449.7 421.5,449.5 421.9,450.6 422.3,450.1 422.7,450.2 423.1,450.8 423.5,450.1 423.9,450.7 424.3,450.6 424.7,451.1 425.1,452.2 425.5,451.9 425.9,452.9 426.3,452.0 426.7,453.0 427.1,452.8 427.5,450.7 427.9,450.7 428.3,450.3 428.7,451.6 429.1,449.9 429.5,449.6 429.9,448.1 430.3,448.6 430.7,449.7 431.1,449.6 431.5,448.1 431.9,449.1 432.3,450.3 432.7,449.5 433.1,450.5 433.5,448.4 433.9,449.9 434.3,451.2 434.7,450.0 435.1,450.3 435.5,450.0 435.9,450.7 436.3,451.8 436.7,450.2 437.1,449.9 437.5,448.0 437.9,450.3 438.3,448.4 438.7,446.9 439.1,447.9 439.5,447.7 439.9,448.1 440.3,447.2 440.7,445.9 441.1,447.9 441.5,446.7 441.9,447.9 442.3,448.6 442.7,447.8 443.1,447.5 443.5,446.8 443.9,446.4 444.3,448.6 444.7,447.0 445.1,449.1 445.5,446.6 445.9,448.1 446.3,447.9 446.7,447.1 447.1,446.1 447.5,446.9 447.9,445.2 448.3,443.9 448.7,443.6 449.1,443.9 449.5,443.4 449.9,442.4 450.3,442.0 450.7,442.1 451.1,441.9 451.5,443.4 451.9,443.7 452.3,443.4 452.7,441.6 453.1,442.6 453.5,442.3 453.9,444.8 454.3,444.1 454.7,444.0 455.1,444.1 455.5,444.9 455.9,445.4 456.3,444.6 456.7,446.0 457.1,447.0 457.5,446.6 457.9,447.7 458.3,448.4 458.7,449.1 459.1,447.1 459.5,448.1 459.9,447.5 460.3,447.2 460.7,446.2 461.1,445.9 461.5,445.1 461.9,445.2 462.3,445.0 462.7,443.8 463.1,444.4 463.5,442.9 463.9,442.6 464.3,444.0 464.7,442.4 465.1,442.6 465.5,441.4 465.9,443.3 466.3,442.5 466.7,443.4 467.1,444.5 467.5,444.1 467.9,445.0 468.3,442.8 468.7,443.2 469.1,444.6 469.5,445.9 469.9,446.1 470.3,446.1 470.7,446.7 471.1,446.9 471.5,448.1 471.9,448.1 472.3,447.3 472.7,447.6 473.1,447.4 473.5,448.0 473.9,448.0 474.3,446.9 474.7,447.2 475.1,445.5 475.5,446.3 475.9,448.1 476.3,447.2 476.7,448.0 477.1,446.5 477.5,446.3 477.9,448.3 478.3,447.1 478.7,448.0 479.1,448.6 479.5,449.5 479.9,449.4 480.3,451.2 480.7,449.5 481.1,450.9 481.5,451.0 481.9,449.2 482.3,448.7 482.7,449.6 483.1,452.2 483.5,450.8 483.9,450.5 484.3,449.8 484.7,449.4 485.1,447.8 485.5,450.1 485.9,450.5 486.3,448.2 486.7,449.9 487.1,447.8 487.5,448.9 487.9,451.0 488.3,449.0 488.7,450.9 489.1,449.2 489.5,450.5 489.9,451.5 490.3,451.0 490.7,450.2 491.1,452.7 491.5,451.5 491.9,451.8 492.3,448.9 492.7,450.1 493.1,450.1 493.5,449.8 493.9,449.9 494.3,450.0 494.7,450.3 495.1,448.2 495.5,449.1 495.9,448.5 496.3,449.7 496.7,451.4 497.1,450.6 497.5,449.4 497.9,450.9 498.3,451.2 498.7,450.6 499.1,451.1 499.5,452.8 499.9,451.0 500.3,451.7 500.7,451.6 501.1,452.1 501.5,451.9 501.9,451.9 502.3,453.0 502.7,452.0 503.1,450.3 503.5,452.0 503.9,451.4 504.3,451.7 504.7,450.3 505.1,450.0 505.5,450.2 505.9,449.1 506.3,451.1 506.7,451.3 507.1,450.1 507.5,451.9 507.9,452.3 508.3,451.0 508.7,451.2 509.1,451.0 509.5,451.0 509.9,452.4 510.3,452.7 510.7,452.9 511.1,452.7 511.5,457.3 511.9,452.7 512.3,453.1 512.7,452.2 513.1,452.5 513.5,451.4 513.9,451.0 514.3,451.6 514.7,450.7 515.1,452.1 515.5,452.9 515.9,451.2 516.3,451.5 516.7,450.4 517.1,451.2 517.5,458.2 517.9,452.0 518.3,452.0 518.7,456.6 519.1,453.0 519.5,452.3 519.9,451.7 520.3,453.1 520.7,453.9 521.1,457.1 521.5,457.7 521.9,452.8 522.3,452.7 522.7,452.2 523.1,460.2 523.5,453.1 523.9,451.4 524.3,453.0 524.7,452.3 525.1,452.5 525.5,451.5 525.9,450.9 526.3,449.9 526.7,451.2 527.1,451.2 527.5,452.3 527.9,453.0 528.3,452.4 528.7,451.0 529.1,450.7 529.5,453.0 529.9,451.6 530.3,453.2 530.7,451.6 531.1,453.0 531.5,451.8 531.9,452.3 532.3,452.1 532.7,452.3 533.1,453.0 533.5,451.3 533.9,452.9 534.3,451.3 534.7,453.0 535.1,452.0 535.5,450.0 535.9,451.0 536.3,450.2 536.7,450.9 537.1,452.0 537.5,451.8 537.9,451.7 538.3,451.3 538.7,452.8 539.1,452.3 539.5,452.1 539.9,452.7 540.3,454.4 540.7,453.9 541.1,453.7 541.5,462.2 541.9,453.1 542.3,451.5 542.7,452.8 543.1,452.7 543.5,451.9 543.9,453.0 544.3,452.0 544.7,452.0 545.1,452.5 545.5,452.2 545.9,452.7 546.3,453.8 546.7,453.5" fill="none" stroke="#a0ec76" stroke-width="1.0"/><path d="M369.5,452.5 369.9,452.4 370.3,452.3 370.7,452.3 371.1,452.3 371.5,452.3 371.9,452.3 372.3,452.3 372.7,452.4 373.1,452.5 373.5,452.6 373.9,452.7 374.3,452.9 374.7,453.0 375.1,453.2 375.5,453.4 375.9,453.5 376.3,453.7 376.7,453.4 377.1,453.2 377.5,453.0 377.9,452.8 378.3,452.6 378.7,452.4 379.1,452.3 379.5,452.1 379.9,452.0 380.3,452.0 380.7,451.9 381.1,451.9 381.5,451.9 381.9,451.9 382.3,452.0 382.7,452.0 383.1,452.1 383.5,452.3 383.9,452.4 384.3,452.6 384.7,452.7 385.1,452.9 385.5,453.1 385.9,453.3 386.3,453.5 386.7,453.2 387.1,453.0 387.5,452.7 387.9,452.5 388.3,452.3 388.7,452.1 389.1,451.9 389.5,451.8 389.9,451.7 390.3,451.6 390.7,451.5 391.1,451.5 391.5,451.5 391.9,451.5 392.3,451.6 392.7,451.7 393.1,451.8 393.5,451.9 393.9,452.1 394.3,452.2 394.7,452.4 395.1,452.6 395.5,452.9 395.9,453.1 396.3,453.2 396.7,453.0 397.1,452.7 397.5,452.4 397.9,452.2 398.3,452.0 398.7,451.8 399.1,451.6 399.5,451.4 399.9,451.3 400.3,451.2 400.7,451.1 401.1,451.1 401.5,451.1 401.9,451.1 402.3,451.2 402.7,451.3 403.1,451.4 403.5,451.6 403.9,451.7 404.3,451.9 404.7,452.1 405.1,452.4 405.5,452.6 405.9,452.9 406.3,453.0 406.7,452.7 407.1,452.4 407.5,452.1 407.9,451.9 408.3,451.6 408.7,451.4 409.1,451.2 409.5,451.0 409.9,450.8 410.3,450.7 410.7,450.6 411.1,450.6 411.5,450.6 411.9,450.7 412.3,450.7 412.7,450.8 413.1,450.9 413.5,451.1 413.9,451.3 414.3,451.5 414.7,451.7 415.1,451.9 415.5,452.1 415.9,452.4 416.3,452.6 416.7,452.2 417.1,451.9 417.5,451.5 417.9,451.2 418.3,451.0 418.7,450.7 419.1,450.5 419.5,450.3 419.9,450.1 420.3,450.0 420.7,449.9 421.1,449.9 421.5,449.9 421.9,449.9 422.3,450.0 422.7,450.1 423.1,450.2 423.5,450.4 423.9,450.6 424.3,450.8 424.7,451.0 425.1,451.3 425.5,451.5 425.9,451.8 426.3,452.0 426.7,451.6 427.1,451.2 427.5,450.8 427.9,450.5 428.3,450.1 428.7,449.8 429.1,449.6 429.5,449.3 429.9,449.1 430.3,449.0 430.7,448.9 431.1,448.9 431.5,448.9 431.9,448.9 432.3,449.0 432.7,449.1 433.1,449.2 433.5,449.3 433.9,449.5 434.3,449.7 434.7,449.9 435.1,450.1 435.5,450.3 435.9,450.5 436.3,450.7 436.7,450.2 437.1,449.8 437.5,449.3 437.9,448.9 438.3,448.5 438.7,448.2 439.1,447.9 439.5,447.6 439.9,447.4 440.3,447.2 440.7,447.1 441.1,447.1 441.5,447.1 441.9,447.1 442.3,447.1 442.7,447.2 443.1,447.2 443.5,447.3 443.9,447.3 444.3,447.4 444.7,447.5 445.1,447.6 445.5,447.7 445.9,447.8 446.3,447.8 446.7,447.2 447.1,446.6 447.5,446.0 447.9,445.4 448.3,444.9 448.7,444.4 449.1,444.0 449.5,443.6 449.9,443.3 450.3,443.1 450.7,443.0 451.1,442.9 451.5,442.9 451.9,443.0 452.3,443.0 452.7,443.2 453.1,443.4 453.5,443.6 453.9,443.8 454.3,444.1 454.7,444.4 455.1,444.8 455.5,445.2 455.9,445.6 456.3,446.1 456.7,446.5 457.1,447.0 457.5,447.5 457.9,448.0 458.3,448.5 458.7,449.0 459.1,448.6 459.5,448.1 459.9,447.6 460.3,447.1 460.7,446.6 461.1,446.2 461.5,445.7 461.9,445.3 462.3,444.9 462.7,444.5 463.1,444.2 463.5,443.9 463.9,443.6 464.3,443.4 464.7,443.2 465.1,443.1 465.5,443.0 465.9,442.9 466.3,442.9 466.7,442.9 467.1,443.1 467.5,443.3 467.9,443.6 468.3,443.9 468.7,444.3 469.1,444.8 469.5,445.3 469.9,445.8 470.3,446.4 470.7,447.0 471.1,447.7 471.5,447.8 471.9,447.7 472.3,447.6 472.7,447.5 473.1,447.4 473.5,447.4 473.9,447.3 474.3,447.2 474.7,447.2 475.1,447.1 475.5,447.1 475.9,447.1 476.3,447.1 476.7,447.1 477.1,447.2 477.5,447.4 477.9,447.6 478.3,447.8 478.7,448.1 479.1,448.4 479.5,448.8 479.9,449.2 480.3,449.7 480.7,450.1 481.1,450.6 481.5,450.6 481.9,450.4 482.3,450.1 482.7,449.9 483.1,449.7 483.5,449.5 483.9,449.4 484.3,449.2 484.7,449.1 485.1,449.0 485.5,448.9 485.9,448.9 486.3,448.9 486.7,448.9 487.1,449.0 487.5,449.1 487.9,449.3 488.3,449.5 488.7,449.8 489.1,450.1 489.5,450.4 489.9,450.7 490.3,451.1 490.7,451.5 491.1,451.9 491.5,451.9 491.9,451.6 492.3,451.3 492.7,451.1 493.1,450.8 493.5,450.6 493.9,450.4 494.3,450.3 494.7,450.1 495.1,450.0 495.5,449.9 495.9,449.9 496.3,449.9 496.7,449.9 497.1,450.0 497.5,450.1 497.9,450.2 498.3,450.4 498.7,450.6 499.1,450.9 499.5,451.2 499.9,451.5 500.3,451.8 500.7,452.1 501.1,452.5 501.5,452.4 501.9,452.2 502.3,452.0 502.7,451.7 503.1,451.5 503.5,451.3 503.9,451.1 504.3,451.0 504.7,450.8 505.1,450.7 505.5,450.7 505.9,450.6 506.3,450.6 506.7,450.6 507.1,450.7 507.5,450.8 507.9,450.9 508.3,451.1 508.7,451.3 509.1,451.5 509.5,451.8 509.9,452.1 510.3,452.3 510.7,452.6 511.1,453.0 511.5,452.9 511.9,452.7 512.3,452.4 512.7,452.2 513.1,452.0 513.5,451.8 513.9,451.6 514.3,451.5 514.7,451.3 515.1,451.2 515.5,451.1 515.9,451.1 516.3,451.1 516.7,451.1 517.1,451.2 517.5,451.3 517.9,451.4 518.3,451.5 518.7,451.7 519.1,451.9 519.5,452.1 519.9,452.4 520.3,452.6 520.7,452.9 521.1,453.2 521.5,453.1 521.9,452.9 522.3,452.7 522.7,452.5 523.1,452.3 523.5,452.1 523.9,451.9 524.3,451.8 524.7,451.7 525.1,451.6 525.5,451.5 525.9,451.5 526.3,451.5 526.7,451.5 527.1,451.6 527.5,451.6 527.9,451.7 528.3,451.9 528.7,452.0 529.1,452.2 529.5,452.4 529.9,452.7 530.3,452.9 530.7,453.1 531.1,453.4 531.5,453.4 531.9,453.2 532.3,453.0 532.7,452.8 533.1,452.6 533.5,452.4 533.9,452.3 534.3,452.2 534.7,452.1 535.1,452.0 535.5,451.9 535.9,451.9 536.3,451.9 536.7,451.9 537.1,451.9 537.5,452.0 537.9,452.1 538.3,452.2 538.7,452.4 539.1,452.6 539.5,452.7 539.9,452.9 540.3,453.2 540.7,453.4 541.1,453.6 541.5,453.6 541.9,453.4 542.3,453.2 542.7,453.1 543.1,452.9 543.5,452.8 543.9,452.6 544.3,452.5 544.7,452.4 545.1,452.4 545.5,452.3 545.9,452.3 546.3,452.3 546.7,452.3" fill="none" stroke="#78e43c" stroke-width="1.35"/><path d="M429.7,469.9 429.7,461.4 430.1,467.8 430.5,459.6 430.9,458.8 431.3,458.2 431.7,458.5 432.1,457.5 432.5,457.3 432.9,457.2 433.3,456.1 433.7,455.8 434.1,454.7 434.5,456.0 434.9,455.2 435.3,454.4 435.7,460.5 436.1,455.6 436.5,455.0 436.9,454.7 437.3,455.5 437.7,454.7 438.1,453.7 438.5,454.0 438.9,454.8 439.4,455.7 439.8,455.4 440.2,455.8 440.6,454.9 441.0,454.7 441.4,455.6 441.8,455.5 442.2,456.2 442.6,456.7 443.0,457.6 443.4,457.0 443.8,457.7 444.2,458.0 444.6,456.7 445.0,456.2 445.4,455.4 445.8,455.5 446.2,454.6 446.6,453.7 447.0,453.9 447.4,453.9 447.8,453.8 448.2,453.3 448.6,453.3 449.0,453.7 449.4,453.0 449.8,452.4 450.2,452.2 450.6,453.1 451.0,452.3 451.4,451.3 451.8,452.9 452.2,452.2 452.6,452.2 453.0,452.8 453.4,452.0 453.8,453.1 454.2,453.6 454.6,453.6 455.0,453.1 455.4,454.1 455.8,454.6 456.2,455.2 456.6,455.5 457.0,456.7 457.4,456.5 457.8,458.1 458.2,459.3 458.7,461.0 459.1,461.0 459.5,458.9 459.9,457.8 460.3,455.9 460.7,456.7 461.1,455.2 461.5,454.7 461.9,455.5 462.3,454.7 462.7,454.3 463.1,452.8 463.5,453.5 463.9,454.0 464.3,453.2 464.7,452.8 465.1,452.0 465.5,453.8 465.9,452.8 466.3,452.6 466.7,452.4 467.1,451.6 467.5,452.6 467.9,452.9 468.3,453.7 468.7,451.8 469.1,453.7 469.5,452.9 469.9,454.3 470.3,454.3 470.7,453.5 471.1,453.6 471.5,454.9 471.9,454.7 472.3,456.6 472.7,456.8 473.1,457.4 473.5,458.4 473.9,457.6 474.3,456.2 474.7,456.9 475.1,456.0 475.5,456.8 475.9,455.0 476.3,455.4 476.7,455.4 477.1,454.6 477.6,454.6 478.0,455.7 478.4,454.7 478.8,454.7 479.2,453.9 479.6,455.2 480.0,455.5 480.4,454.5 480.8,455.0 481.2,454.8 481.6,455.5 482.0,455.0 482.4,454.5 482.8,455.3 483.2,455.7 483.6,456.0 484.0,455.1 484.4,456.8 484.8,455.7 485.2,457.4 485.6,457.5 486.0,457.4 486.4,458.6 486.8,459.4 486.8,467.9" fill="none" stroke="#697df3" stroke-width="1.0"/><path d="M429.7,462.0 430.1,461.9 430.5,459.8 430.9,458.8 431.3,458.1 431.7,457.6 432.1,457.1 432.5,456.8 432.9,456.4 433.3,456.1 433.7,455.9 434.1,455.7 434.5,455.5 434.9,455.3 435.3,455.2 435.7,455.1 436.1,455.0 436.5,454.9 436.9,454.8 437.3,454.8 437.7,454.8 438.1,454.8 438.5,454.8 438.9,454.9 439.4,454.9 439.8,455.0 440.2,455.1 440.6,455.3 441.0,455.4 441.4,455.6 441.8,455.8 442.2,456.1 442.6,456.3 443.0,456.7 443.4,457.1 443.8,457.7 444.2,458.8 444.6,457.4 445.0,456.4 445.4,455.7 445.8,455.1 446.2,454.7 446.6,454.3 447.0,453.9 447.4,453.7 447.8,453.4 448.2,453.2 448.6,453.0 449.0,452.9 449.4,452.7 449.8,452.7 450.2,452.6 450.6,452.5 451.0,452.5 451.4,452.5 451.8,452.5 452.2,452.6 452.6,452.7 453.0,452.8 453.4,453.0 453.8,453.2 454.2,453.4 454.6,453.7 455.0,454.0 455.4,454.4 455.8,454.8 456.2,455.3 456.6,455.8 457.0,456.5 457.4,457.3 457.8,458.2 458.2,459.5 458.7,461.6 459.1,460.3 459.5,458.8 459.9,457.7 460.3,456.8 460.7,456.1 461.1,455.5 461.5,455.0 461.9,454.6 462.3,454.2 462.7,453.8 463.1,453.5 463.5,453.3 463.9,453.1 464.3,452.9 464.7,452.7 465.1,452.6 465.5,452.6 465.9,452.5 466.3,452.5 466.7,452.5 467.1,452.6 467.5,452.6 467.9,452.7 468.3,452.8 468.7,452.9 469.1,453.1 469.5,453.3 469.9,453.5 470.3,453.8 470.7,454.1 471.1,454.5 471.5,454.9 471.9,455.4 472.3,456.0 472.7,456.8 473.1,458.2 473.5,458.1 473.9,457.4 474.3,456.9 474.7,456.5 475.1,456.2 475.5,455.9 475.9,455.7 476.3,455.5 476.7,455.3 477.1,455.2 477.6,455.1 478.0,455.0 478.4,454.9 478.8,454.9 479.2,454.8 479.6,454.8 480.0,454.8 480.4,454.8 480.8,454.9 481.2,454.9 481.6,455.0 482.0,455.1 482.4,455.2 482.8,455.4 483.2,455.6 483.6,455.8 484.0,456.0 484.4,456.3 484.8,456.6 485.2,456.9 485.6,457.4 486.0,457.9 486.4,458.5 486.8,459.2" fill="none" stroke="#2a46ee" stroke-width="1.35"/><path d="M339.6,481.3 340.0,481.1 340.4,484.9 340.8,483.4 341.2,483.1 341.6,482.2 342.0,483.1 342.4,483.0 342.8,483.1 343.2,481.5 343.6,482.2 344.0,480.8 344.4,481.0 344.8,481.3 345.2,482.5 345.6,481.1 346.0,482.5 346.4,481.4 346.8,482.1 347.2,480.9 347.6,479.6 348.0,479.4 348.4,481.0 348.8,483.0 349.2,481.5 349.6,481.5 350.0,482.6 350.4,482.0 350.8,482.3 351.2,483.0 351.6,483.3 352.0,482.2 352.4,481.7 352.8,483.5 353.2,481.1 353.6,480.9 354.0,481.3 354.4,481.1 354.8,481.3 355.2,482.3 355.6,482.0 356.0,480.8 356.4,480.9 356.8,481.7 357.2,480.8 357.6,481.2 358.0,480.3 358.4,481.7 358.8,481.5 359.2,480.6 359.6,482.2 360.0,484.1 360.4,482.8 360.8,482.1 361.2,483.8 361.6,482.8 362.0,482.3 362.4,483.2 362.8,482.4 363.2,483.1 363.6,480.5 364.0,485.7 364.4,480.8 364.8,480.9 365.2,479.7 365.6,480.9 366.0,479.5 366.4,480.2 366.8,480.6 367.2,481.1 367.6,481.3 368.0,480.6 368.4,481.7 368.8,481.9 369.2,481.9 369.6,482.2 370.0,482.1 370.4,484.3 370.8,483.7 371.2,482.4 371.6,483.0 372.0,480.9 372.4,481.0 372.8,480.9 373.2,481.3 373.6,480.5 374.0,479.9 374.4,479.3 374.8,479.5 375.2,481.2 375.6,480.9 376.0,479.3 376.4,482.2 376.8,480.3 377.2,483.2 377.6,481.0 378.0,481.4 378.4,483.8 378.8,481.8 379.3,482.8 379.7,483.2 380.1,482.1 380.5,482.2 380.9,481.4 381.3,481.3 381.7,481.3 382.1,480.9 382.5,481.4 382.9,479.9 383.3,480.8 383.7,481.0 384.1,480.0 384.5,480.0 384.9,480.7 385.3,479.9 385.7,480.1 386.1,480.6 386.5,478.5 386.9,481.4 387.3,481.2 387.7,481.7 388.1,480.3 388.5,481.4 388.9,482.4 389.3,482.8 389.7,481.9 390.1,481.7 390.5,483.0 390.9,481.7 391.3,482.2 391.7,479.8 392.1,481.0 392.5,480.0 392.9,479.9 393.3,481.2 393.7,479.2 394.1,479.2 394.5,479.4 394.9,479.9 395.3,480.2 395.7,480.6 396.1,481.5 396.5,481.0 396.9,482.3 397.3,482.0 397.7,481.9 398.1,486.6 398.5,483.2 398.9,482.1 399.3,483.0 399.7,481.9 400.1,481.1 400.5,481.8 400.9,481.5 401.3,480.9 401.7,481.3 402.1,480.3 402.5,479.4 402.9,480.0 403.3,481.4 403.7,479.0 404.1,478.3 404.5,479.9 404.9,479.1 405.3,481.2 405.7,480.4 406.1,479.8 406.5,488.6 406.9,480.3 407.3,481.7 407.7,482.4 408.1,483.0 408.5,483.2 408.9,481.9 409.3,482.5 409.7,481.6 410.1,479.8 410.5,481.6 410.9,479.5 411.3,479.4 411.7,478.4 412.1,478.8 412.5,477.7 412.9,478.3 413.3,478.6 413.7,478.4 414.1,479.1 414.5,480.2 414.9,479.4 415.3,480.2 415.7,481.0 416.1,479.8 416.5,481.8 416.9,480.8 417.3,481.0 417.7,481.7 418.1,482.6 418.5,480.1 418.9,481.5 419.3,479.9 419.7,480.0 420.1,478.8 420.5,477.2 420.9,480.0 421.3,479.5 421.7,477.8 422.1,477.8 422.5,477.5 422.9,478.5 423.3,480.2 423.7,478.5 424.1,477.3 424.5,479.5 424.9,478.3 425.3,478.0 425.7,479.9 426.1,479.8 426.5,480.3 426.9,481.0 427.3,481.5 427.7,478.9 428.1,480.3 428.5,480.7 428.9,480.3 429.3,478.0 429.7,476.9 430.1,477.2 430.5,478.2 430.9,477.4 431.3,478.1 431.7,477.2 432.1,476.2 432.5,476.3 432.9,477.1 433.3,478.1 433.7,478.7 434.1,476.8 434.5,478.1 434.9,477.9 435.3,477.2 435.7,477.4 436.1,479.9 436.5,478.5 436.9,479.0 437.3,479.1 437.7,478.4 438.1,478.2 438.5,476.5 438.9,476.4 439.3,476.5 439.7,476.2 440.1,475.0 440.5,473.9 440.9,475.9 441.3,475.8 441.7,475.8 442.1,474.9 442.5,473.6 442.9,474.8 443.3,476.8 443.7,475.5 444.1,475.5 444.5,474.0 444.9,474.9 445.3,476.3 445.7,475.9 446.1,475.6 446.5,476.8 446.9,475.7 447.3,474.9 447.7,473.6 448.1,473.5 448.5,473.5 448.9,472.4 449.3,470.6 449.7,471.2 450.1,470.8 450.5,471.2 450.9,471.8 451.3,470.6 451.7,470.4 452.1,471.4 452.5,471.3 452.9,470.3 453.3,471.5 453.7,471.5 454.1,471.8 454.5,470.5 454.9,470.4 455.3,471.1 455.7,471.2 456.1,473.8 456.5,474.1 456.9,472.6 457.3,475.3 457.8,473.5 458.2,474.1 458.6,477.0 459.0,474.1 459.4,475.4 459.8,475.1 460.2,475.0 460.6,474.2 461.0,473.5 461.4,474.2 461.8,472.6 462.2,472.4 462.6,472.4 463.0,471.5 463.4,471.4 463.8,472.3 464.2,472.5 464.6,471.5 465.0,470.8 465.4,470.4 465.8,470.4 466.2,470.4 466.6,470.4 467.0,470.8 467.4,470.9 467.8,472.2 468.2,470.5 468.6,471.8 469.0,473.3 469.4,472.9 469.8,473.5 470.2,474.9 470.6,475.0 471.0,475.0 471.4,475.9 471.8,476.2 472.2,474.1 472.6,476.2 473.0,473.9 473.4,475.9 473.8,474.1 474.2,475.3 474.6,475.1 475.0,475.9 475.4,475.0 475.8,474.7 476.2,474.5 476.6,475.4 477.0,475.2 477.4,476.3 477.8,476.3 478.2,477.3 478.6,477.3 479.0,477.3 479.4,477.6 479.8,478.7 480.2,479.3 480.6,478.0 481.0,479.2 481.4,478.3 481.8,478.6 482.2,478.8 482.6,476.3 483.0,477.7 483.4,478.4 483.8,476.0 484.2,477.6 484.6,477.3 485.0,476.8 485.4,478.0 485.8,478.1 486.2,477.5 486.6,478.8 487.0,479.1 487.4,478.3 487.8,479.2 488.2,479.6 488.6,480.7 489.0,480.4 489.4,480.8 489.8,480.8 490.2,481.4 490.6,481.8 491.0,480.1 491.4,479.8 491.8,478.8 492.2,481.5 492.6,478.8 493.0,478.5 493.4,478.3 493.8,479.6 494.2,478.9 494.6,476.8 495.0,478.7 495.4,480.1 495.8,478.7 496.2,479.0 496.6,481.5 497.0,479.2 497.4,479.5 497.8,480.5 498.2,482.4 498.6,481.1 499.0,479.8 499.4,481.4 499.8,481.2 500.2,481.7 500.6,480.5 501.0,480.7 501.4,479.2 501.8,479.0 502.2,479.9 502.6,481.0 503.0,478.7 503.4,478.1 503.8,480.4 504.2,479.7 504.6,480.0 505.0,479.3 505.4,479.8 505.8,479.7 506.2,480.0 506.6,481.7 507.0,487.8 507.4,480.5 507.8,481.2 508.2,481.4 508.6,483.4 509.0,482.2 509.4,482.3 509.8,480.7 510.2,481.8 510.6,481.6 511.0,481.3 511.4,479.2 511.8,479.8 512.2,478.0 512.6,481.4 513.0,479.8 513.4,481.2 513.8,481.4 514.2,480.7 514.6,479.4 515.0,479.9 515.4,480.9 515.8,478.8 516.2,481.8 516.6,482.2 517.0,482.0 517.4,481.3 517.8,482.2 518.2,480.9 518.6,481.6 519.0,481.7 519.4,481.1 519.8,482.8 520.2,481.5 520.6,478.9 521.0,481.6 521.4,480.9 521.8,480.1 522.2,479.6 522.6,481.8 523.0,480.3 523.4,480.3 523.8,478.8 524.2,479.7 524.6,481.1 525.0,480.6 525.4,480.3 525.8,480.7 526.2,479.9 526.6,479.4 527.0,482.2 527.4,480.9 527.8,481.1 528.2,482.7 528.6,482.9 529.0,481.5 529.4,482.4 529.8,481.3 530.2,478.4 530.6,482.2 531.0,479.7 531.4,481.8 531.8,480.1 532.2,480.2 532.6,479.9 533.0,479.4 533.4,480.8 533.8,481.8 534.2,481.6 534.6,480.3 535.0,481.4 535.4,482.0 535.8,481.9 536.3,480.6 536.7,483.8 537.1,481.7 537.5,482.0 537.9,482.6 538.3,482.4 538.7,481.4 539.1,480.5 539.5,480.3 539.9,481.1 540.3,479.4 540.7,481.7 541.1,481.2 541.5,480.7 541.9,480.6 542.3,479.7 542.7,480.0 543.1,481.3 543.5,480.2 543.9,482.1 544.3,481.8 544.7,481.8 545.1,481.2 545.5,480.9 545.9,481.8 546.3,481.5 546.7,482.3 547.1,482.5 547.5,482.0 547.9,483.2 548.3,481.2 548.7,481.1 549.1,482.5 549.5,481.5 549.9,481.5 550.3,480.4 550.7,481.1 551.1,481.8 551.5,480.7 551.9,481.0 552.3,481.7 552.7,481.3 553.1,481.9 553.5,480.0 553.9,479.7 554.3,480.5 554.7,482.0 555.1,481.3 555.5,480.5 555.9,484.0 556.3,483.9 556.7,482.4 557.1,482.0 557.5,481.7 557.9,482.6 558.3,482.2 558.7,481.7 559.1,482.5 559.5,480.5 559.9,480.1 560.3,481.0 560.7,480.9 561.1,480.9 561.5,481.2 561.9,479.6 562.3,482.3 562.7,479.6 563.1,481.5 563.5,481.7 563.9,482.3 564.3,482.1 564.7,481.5 565.1,482.3 565.5,481.6 565.9,482.9 566.3,482.7 566.7,481.1 567.1,484.2 567.5,481.6 567.9,482.4 568.3,482.8 568.7,481.5 569.1,481.0 569.5,485.9 569.9,480.5 570.3,480.5 570.7,480.9 571.1,481.8 571.5,481.3 571.9,482.5 572.3,481.7 572.7,481.7 573.1,479.1 573.5,481.8 573.9,482.3 574.3,481.1 574.7,482.6 575.1,482.3 575.5,483.0" fill="none" stroke="#d58f69" stroke-width="1.0"/><path d="M339.6,481.8 340.0,482.0 340.4,482.2 340.8,482.4 341.2,482.7 341.6,482.9 342.0,483.2 342.4,482.9 342.8,482.6 343.2,482.3 343.6,482.1 344.0,481.9 344.4,481.7 344.8,481.5 345.2,481.3 345.6,481.2 346.0,481.1 346.4,481.1 346.8,481.0 347.2,481.1 347.6,481.1 348.0,481.2 348.4,481.3 348.8,481.5 349.2,481.7 349.6,481.9 350.0,482.1 350.4,482.3 350.8,482.6 351.2,482.9 351.6,483.0 352.0,482.7 352.4,482.4 352.8,482.1 353.2,481.9 353.6,481.6 354.0,481.4 354.4,481.2 354.8,481.1 355.2,481.0 355.6,480.9 356.0,480.8 356.4,480.8 356.8,480.9 357.2,480.9 357.6,481.1 358.0,481.2 358.4,481.4 358.8,481.6 359.2,481.8 359.6,482.0 360.0,482.3 360.4,482.5 360.8,482.8 361.2,482.8 361.6,482.5 362.0,482.2 362.4,481.9 362.8,481.6 363.2,481.4 363.6,481.2 364.0,481.0 364.4,480.8 364.8,480.7 365.2,480.7 365.6,480.6 366.0,480.6 366.4,480.7 366.8,480.8 367.2,480.9 367.6,481.0 368.0,481.2 368.4,481.4 368.8,481.7 369.2,481.9 369.6,482.2 370.0,482.5 370.4,482.8 370.8,482.5 371.2,482.2 371.6,481.9 372.0,481.6 372.4,481.4 372.8,481.1 373.2,480.9 373.6,480.8 374.0,480.6 374.4,480.5 374.8,480.4 375.2,480.4 375.6,480.4 376.0,480.5 376.4,480.6 376.8,480.7 377.2,480.9 377.6,481.1 378.0,481.3 378.4,481.6 378.8,481.8 379.3,482.1 379.7,482.4 380.1,482.6 380.5,482.3 380.9,482.0 381.3,481.7 381.7,481.4 382.1,481.1 382.5,480.9 382.9,480.7 383.3,480.5 383.7,480.4 384.1,480.3 384.5,480.2 384.9,480.2 385.3,480.3 385.7,480.3 386.1,480.4 386.5,480.6 386.9,480.8 387.3,481.0 387.7,481.2 388.1,481.5 388.5,481.8 388.9,482.1 389.3,482.4 389.7,482.4 390.1,482.1 390.5,481.8 390.9,481.5 391.3,481.2 391.7,480.9 392.1,480.7 392.5,480.4 392.9,480.3 393.3,480.1 393.7,480.1 394.1,480.0 394.5,480.0 394.9,480.1 395.3,480.2 395.7,480.3 396.1,480.4 396.5,480.6 396.9,480.9 397.3,481.1 397.7,481.4 398.1,481.7 398.5,482.0 398.9,482.3 399.3,482.2 399.7,481.9 400.1,481.5 400.5,481.2 400.9,480.9 401.3,480.6 401.7,480.4 402.1,480.2 402.5,480.0 402.9,479.9 403.3,479.8 403.7,479.8 404.1,479.8 404.5,479.9 404.9,480.0 405.3,480.1 405.7,480.3 406.1,480.5 406.5,480.8 406.9,481.0 407.3,481.3 407.7,481.7 408.1,482.0 408.5,482.3 408.9,481.9 409.3,481.5 409.7,481.2 410.1,480.8 410.5,480.5 410.9,480.2 411.3,479.9 411.7,479.7 412.1,479.5 412.5,479.4 412.9,479.3 413.3,479.3 413.7,479.3 414.1,479.4 414.5,479.5 414.9,479.6 415.3,479.8 415.7,480.0 416.1,480.3 416.5,480.5 416.9,480.8 417.3,481.1 417.7,481.4 418.1,481.5 418.5,481.1 418.9,480.7 419.3,480.3 419.7,480.0 420.1,479.6 420.5,479.3 420.9,479.1 421.3,478.9 421.7,478.7 422.1,478.6 422.5,478.5 422.9,478.5 423.3,478.6 423.7,478.6 424.1,478.7 424.5,478.9 424.9,479.1 425.3,479.3 425.7,479.6 426.1,479.8 426.5,480.1 426.9,480.4 427.3,480.7 427.7,480.6 428.1,480.2 428.5,479.7 428.9,479.3 429.3,478.8 429.7,478.5 430.1,478.1 430.5,477.8 430.9,477.6 431.3,477.4 431.7,477.3 432.1,477.3 432.5,477.3 432.9,477.3 433.3,477.4 433.7,477.5 434.1,477.6 434.5,477.8 434.9,477.9 435.3,478.1 435.7,478.4 436.1,478.6 436.5,478.8 436.9,479.1 437.3,478.7 437.7,478.1 438.1,477.6 438.5,477.1 438.9,476.7 439.3,476.3 439.7,475.9 440.1,475.6 440.5,475.4 440.9,475.2 441.3,475.1 441.7,475.0 442.1,475.0 442.5,475.1 442.9,475.1 443.3,475.1 443.7,475.2 444.1,475.3 444.5,475.3 444.9,475.4 445.3,475.5 445.7,475.6 446.1,475.7 446.5,475.8 446.9,475.1 447.3,474.4 447.7,473.8 448.1,473.2 448.5,472.6 448.9,472.1 449.3,471.7 449.7,471.3 450.1,471.0 450.5,470.8 450.9,470.7 451.3,470.7 451.7,470.7 452.1,470.8 452.5,470.9 452.9,471.0 453.3,471.1 453.7,471.3 454.1,471.5 454.5,471.8 454.9,472.0 455.3,472.3 455.7,472.6 456.1,473.0 456.5,473.3 456.9,473.7 457.3,474.0 457.8,474.4 458.2,474.8 458.6,475.2 459.0,475.2 459.4,474.8 459.8,474.4 460.2,474.0 460.6,473.7 461.0,473.3 461.4,473.0 461.8,472.6 462.2,472.3 462.6,472.0 463.0,471.8 463.4,471.5 463.8,471.3 464.2,471.1 464.6,471.0 465.0,470.9 465.4,470.8 465.8,470.7 466.2,470.7 466.6,470.7 467.0,470.8 467.4,471.0 467.8,471.3 468.2,471.7 468.6,472.1 469.0,472.6 469.4,473.2 469.8,473.8 470.2,474.4 470.6,475.1 471.0,475.8 471.4,475.7 471.8,475.6 472.2,475.5 472.6,475.4 473.0,475.3 473.4,475.3 473.8,475.2 474.2,475.1 474.6,475.1 475.0,475.1 475.4,475.0 475.8,475.0 476.2,475.1 476.6,475.2 477.0,475.4 477.4,475.6 477.8,475.9 478.2,476.3 478.6,476.7 479.0,477.1 479.4,477.6 479.8,478.1 480.2,478.7 480.6,479.1 481.0,478.8 481.4,478.6 481.8,478.3 482.2,478.1 482.6,477.9 483.0,477.8 483.4,477.6 483.8,477.5 484.2,477.4 484.6,477.3 485.0,477.3 485.4,477.3 485.8,477.3 486.2,477.4 486.6,477.6 487.0,477.8 487.4,478.1 487.8,478.5 488.2,478.8 488.6,479.3 489.0,479.7 489.4,480.2 489.8,480.6 490.2,480.7 490.6,480.4 491.0,480.1 491.4,479.8 491.8,479.6 492.2,479.3 492.6,479.1 493.0,478.9 493.4,478.7 493.8,478.6 494.2,478.5 494.6,478.5 495.0,478.5 495.4,478.6 495.8,478.7 496.2,478.9 496.6,479.1 497.0,479.3 497.4,479.6 497.8,480.0 498.2,480.3 498.6,480.7 499.0,481.1 499.4,481.5 499.8,481.4 500.2,481.1 500.6,480.8 501.0,480.5 501.4,480.3 501.8,480.0 502.2,479.8 502.6,479.6 503.0,479.5 503.4,479.4 503.8,479.3 504.2,479.3 504.6,479.3 505.0,479.4 505.4,479.5 505.8,479.7 506.2,479.9 506.6,480.2 507.0,480.5 507.4,480.8 507.8,481.2 508.2,481.6 508.6,481.9 509.0,482.3 509.4,482.0 509.8,481.7 510.2,481.3 510.6,481.0 511.0,480.8 511.4,480.5 511.8,480.3 512.2,480.1 512.6,480.0 513.0,479.9 513.4,479.8 513.8,479.8 514.2,479.8 514.6,479.9 515.0,480.0 515.4,480.2 515.8,480.4 516.2,480.6 516.6,480.9 517.0,481.2 517.4,481.5 517.8,481.9 518.2,482.2 518.6,482.3 519.0,482.0 519.4,481.7 519.8,481.4 520.2,481.1 520.6,480.9 521.0,480.6 521.4,480.4 521.8,480.3 522.2,480.2 522.6,480.1 523.0,480.0 523.4,480.0 523.8,480.1 524.2,480.1 524.6,480.3 525.0,480.4 525.4,480.7 525.8,480.9 526.2,481.2 526.6,481.5 527.0,481.8 527.4,482.1 527.8,482.4 528.2,482.4 528.6,482.1 529.0,481.8 529.4,481.5 529.8,481.2 530.2,481.0 530.6,480.8 531.0,480.6 531.4,480.4 531.8,480.3 532.2,480.3 532.6,480.2 533.0,480.2 533.4,480.3 533.8,480.4 534.2,480.5 534.6,480.7 535.0,480.9 535.4,481.1 535.8,481.4 536.3,481.7 536.7,482.0 537.1,482.3 537.5,482.6 537.9,482.4 538.3,482.1 538.7,481.8 539.1,481.6 539.5,481.3 539.9,481.1 540.3,480.9 540.7,480.7 541.1,480.6 541.5,480.5 541.9,480.4 542.3,480.4 542.7,480.4 543.1,480.5 543.5,480.6 543.9,480.8 544.3,480.9 544.7,481.1 545.1,481.4 545.5,481.6 545.9,481.9 546.3,482.2 546.7,482.5 547.1,482.8 547.5,482.5 547.9,482.2 548.3,481.9 548.7,481.7 549.1,481.4 549.5,481.2 549.9,481.0 550.3,480.9 550.7,480.8 551.1,480.7 551.5,480.6 551.9,480.6 552.3,480.7 552.7,480.7 553.1,480.9 553.5,481.0 553.9,481.2 554.3,481.4 554.7,481.6 555.1,481.9 555.5,482.2 555.9,482.5 556.3,482.8 556.7,482.8 557.1,482.5 557.5,482.3 557.9,482.0 558.3,481.8 558.7,481.6 559.1,481.4 559.5,481.2 559.9,481.1 560.3,480.9 560.7,480.9 561.1,480.8 561.5,480.8 561.9,480.9 562.3,481.0 562.7,481.1 563.1,481.2 563.5,481.4 563.9,481.6 564.3,481.9 564.7,482.1 565.1,482.4 565.5,482.7 565.9,483.0 566.3,482.9 566.7,482.6 567.1,482.3 567.5,482.1 567.9,481.9 568.3,481.7 568.7,481.5 569.1,481.3 569.5,481.2 569.9,481.1 570.3,481.1 570.7,481.0 571.1,481.1 571.5,481.1 571.9,481.2 572.3,481.3 572.7,481.5 573.1,481.7 573.5,481.9 573.9,482.1 574.3,482.4 574.7,482.6 575.1,482.9 575.5,483.2" fill="none" stroke="#c4602a" stroke-width="1.35"/><path d="M369.5,496.7 369.9,496.5 370.3,496.7 370.7,496.1 371.1,495.0 371.5,496.1 371.9,496.0 372.3,496.3 372.7,493.5 373.1,496.2 373.5,496.6 373.9,496.9 374.3,498.2 374.7,496.9 375.1,496.3 375.5,496.0 375.9,497.0 376.3,497.9 376.7,495.3 377.1,498.2 377.5,495.5 377.9,495.7 378.3,496.1 378.7,496.3 379.1,496.2 379.5,497.1 379.9,497.0 380.3,496.6 380.7,497.7 381.1,497.9 381.5,498.0 381.9,498.3 382.3,497.4 382.7,497.3 383.1,494.6 383.5,500.8 383.9,495.6 384.3,495.6 384.7,496.0 385.1,494.6 385.5,495.4 385.9,496.2 386.3,494.0 386.7,495.7 387.1,495.5 387.5,496.9 387.9,496.0 388.3,498.7 388.7,496.2 389.1,496.7 389.5,495.9 389.9,497.1 390.3,497.8 390.7,495.0 391.1,497.0 391.5,496.5 391.9,495.4 392.3,496.5 392.7,495.1 393.1,496.5 393.5,495.2 393.9,495.4 394.3,495.5 394.7,494.7 395.1,496.5 395.5,495.8 395.9,496.6 396.3,495.5 396.7,494.9 397.1,496.5 397.5,495.6 397.9,494.6 398.3,494.5 398.7,495.4 399.1,494.9 399.5,494.7 399.9,496.5 400.3,496.0 400.7,495.6 401.1,494.1 401.5,493.8 401.9,494.6 402.3,495.5 402.7,496.5 403.1,495.5 403.5,495.9 403.9,496.1 404.3,496.3 404.7,495.6 405.1,494.6 405.5,496.0 405.9,495.9 406.3,495.7 406.7,495.3 407.1,495.3 407.5,494.5 407.9,493.8 408.3,494.3 408.7,495.9 409.1,495.3 409.5,495.4 409.9,495.0 410.3,495.2 410.7,495.9 411.1,496.7 411.5,494.2 411.9,497.5 412.3,498.0 412.7,494.8 413.1,493.8 413.5,495.2 413.9,495.2 414.3,494.6 414.7,495.6 415.1,493.8 415.5,493.9 415.9,495.3 416.3,495.9 416.7,495.4 417.1,494.8 417.5,496.9 417.9,493.5 418.3,494.3 418.7,495.9 419.1,493.0 419.5,495.4 419.9,492.6 420.3,494.4 420.7,495.2 421.1,492.3 421.5,493.1 421.9,494.3 422.3,494.2 422.7,492.3 423.1,493.8 423.5,495.0 423.9,496.1 424.3,496.0 424.7,494.6 425.1,495.1 425.5,495.0 425.9,492.9 426.3,494.0 426.7,493.2 427.1,493.3 427.5,493.4 427.9,492.3 428.3,493.1 428.7,493.7 429.1,492.7 429.5,495.0 429.9,492.6 430.3,492.5 430.7,495.5 431.1,492.7 431.5,493.8 431.9,494.1 432.3,494.4 432.7,493.3 433.1,491.2 433.5,492.3 433.9,493.7 434.3,493.6 434.7,491.0 435.1,492.1 435.5,491.9 435.9,491.6 436.3,493.2 436.7,493.4 437.1,490.9 437.5,492.8 437.9,492.2 438.3,492.4 438.7,493.5 439.1,491.5 439.5,489.4 439.9,489.8 440.3,488.9 440.7,489.7 441.1,487.5 441.5,487.5 441.9,488.4 442.3,486.9 442.7,487.4 443.1,487.3 443.5,486.2 443.9,487.2 444.3,486.8 444.7,486.8 445.1,488.9 445.5,488.1 445.9,486.7 446.3,488.2 446.7,488.1 447.1,486.5 447.5,484.0 447.9,486.9 448.3,484.2 448.7,483.1 449.1,485.8 449.5,485.5 449.9,485.0 450.3,486.0 450.7,487.9 451.1,485.8 451.5,485.9 451.9,488.0 452.3,486.4 452.7,489.2 453.1,488.4 453.5,487.3 453.9,490.3 454.3,488.8 454.7,488.3 455.1,488.1 455.5,485.5 455.9,488.5 456.3,485.6 456.7,485.9 457.1,485.5 457.5,486.2 457.9,484.9 458.3,485.2 458.7,485.1 459.1,484.6 459.5,483.6 459.9,485.1 460.3,485.3 460.7,486.3 461.1,484.8 461.5,486.5 461.9,488.2 462.3,489.0 462.7,488.9 463.1,488.5 463.5,490.9 463.9,489.4 464.3,489.0 464.7,488.8 465.1,487.5 465.5,486.5 465.9,487.8 466.3,486.2 466.7,487.3 467.1,485.9 467.5,484.5 467.9,484.1 468.3,484.5 468.7,483.6 469.1,484.4 469.5,485.7 469.9,487.2 470.3,487.0 470.7,486.4 471.1,489.7 471.5,488.4 471.9,489.2 472.3,489.0 472.7,487.6 473.1,486.8 473.5,487.1 473.9,487.3 474.3,488.2 474.7,487.0 475.1,487.4 475.5,487.8 475.9,487.7 476.3,488.4 476.7,487.1 477.1,486.4 477.5,488.9 477.9,489.8 478.3,491.3 478.7,491.1 479.1,493.7 479.5,491.8 479.9,492.2 480.3,490.6 480.7,492.7 481.1,492.0 481.5,491.7 481.9,493.8 482.3,492.8 482.7,491.9 483.1,493.9 483.5,492.2 483.9,492.6 484.3,493.0 484.7,494.0 485.1,494.3 485.5,492.8 485.9,494.5 486.3,492.8 486.7,493.5 487.1,494.3 487.5,494.1 487.9,494.6 488.3,494.2 488.7,494.8 489.1,493.7 489.5,492.7 489.9,495.2 490.3,493.5 490.7,494.3 491.1,493.9 491.5,495.5 491.9,495.7 492.3,494.9 492.7,495.3 493.1,496.4 493.5,496.2 493.9,496.0 494.3,494.5 494.7,495.6 495.1,492.5 495.5,494.9 495.9,495.4 496.3,491.9 496.7,492.7 497.1,497.8 497.5,498.3 497.9,494.9 498.3,494.8 498.7,502.8 499.1,494.8 499.5,493.2 499.9,496.0 500.3,497.2 500.7,493.7 501.1,502.3 501.5,495.4 501.9,494.1 502.3,494.3 502.7,494.4 503.1,495.5 503.5,492.6 503.9,494.3 504.3,494.6 504.7,494.9 505.1,494.9 505.5,494.2 505.9,495.6 506.3,496.0 506.7,495.3 507.1,494.7 507.5,495.4 507.9,496.7 508.3,497.7 508.7,495.5 509.1,495.3 509.5,496.2 509.9,494.6 510.3,497.1 510.7,496.9 511.1,494.1 511.5,494.5 511.9,502.4 512.3,495.2 512.7,494.7 513.1,495.6 513.5,495.0 513.9,494.7 514.3,496.8 514.7,496.8 515.1,495.5 515.5,496.6 515.9,496.3 516.3,495.3 516.7,494.4 517.1,493.9 517.5,496.1 517.9,496.2 518.3,494.6 518.7,494.2 519.1,498.7 519.5,496.3 519.9,496.6 520.3,496.6 520.7,497.0 521.1,496.3 521.5,496.3 521.9,494.6 522.3,497.8 522.7,497.1 523.1,496.3 523.5,495.3 523.9,495.8 524.3,496.4 524.7,494.2 525.1,495.0 525.5,496.8 525.9,494.2 526.3,495.2 526.7,494.3 527.1,498.8 527.5,495.9 527.9,495.6 528.3,496.4 528.7,498.5 529.1,495.9 529.5,495.6 529.9,496.1 530.3,492.8 530.7,495.5 531.1,497.8 531.5,495.6 531.9,495.6 532.3,496.0 532.7,495.3 533.1,495.7 533.5,493.9 533.9,496.4 534.3,497.2 534.7,496.6 535.1,496.2 535.5,497.0 535.9,495.6 536.3,496.3 536.7,494.8 537.1,496.7 537.5,495.4 537.9,496.9 538.3,495.2 538.7,497.3 539.1,497.0 539.5,495.2 539.9,494.9 540.3,497.6 540.7,498.5 541.1,497.6 541.5,504.3 541.9,497.6 542.3,497.8 542.7,497.4 543.1,496.3 543.5,494.9 543.9,497.4 544.3,497.0 544.7,495.7 545.1,496.0 545.5,496.1 545.9,495.6 546.3,494.7 546.7,496.1" fill="none" stroke="#616161" stroke-width="1.0"/><path d="M369.5,496.7 369.9,496.6 370.3,496.5 370.7,496.4 371.1,496.3 371.5,496.2 371.9,496.2 372.3,496.3 372.7,496.3 373.1,496.4 373.5,496.5 373.9,496.6 374.3,496.8 374.7,497.0 375.1,497.1 375.5,497.0 375.9,496.8 376.3,496.6 376.7,496.4 377.1,496.3 377.5,496.1 377.9,496.0 378.3,496.0 378.7,495.9 379.1,496.0 379.5,496.0 379.9,496.1 380.3,496.2 380.7,496.3 381.1,496.5 381.5,496.7 381.9,496.8 382.3,497.0 382.7,496.7 383.1,496.5 383.5,496.3 383.9,496.1 384.3,495.9 384.7,495.8 385.1,495.7 385.5,495.7 385.9,495.7 386.3,495.7 386.7,495.8 387.1,495.9 387.5,496.0 387.9,496.2 388.3,496.3 388.7,496.5 389.1,496.7 389.5,496.7 389.9,496.4 390.3,496.2 390.7,495.9 391.1,495.8 391.5,495.6 391.9,495.5 392.3,495.4 392.7,495.4 393.1,495.4 393.5,495.4 393.9,495.5 394.3,495.7 394.7,495.8 395.1,496.0 395.5,496.2 395.9,496.4 396.3,496.6 396.7,496.3 397.1,496.1 397.5,495.8 397.9,495.6 398.3,495.4 398.7,495.3 399.1,495.1 399.5,495.1 399.9,495.1 400.3,495.1 400.7,495.2 401.1,495.3 401.5,495.5 401.9,495.7 402.3,495.9 402.7,496.1 403.1,496.4 403.5,496.3 403.9,496.0 404.3,495.7 404.7,495.4 405.1,495.2 405.5,495.0 405.9,494.9 406.3,494.8 406.7,494.8 407.1,494.8 407.5,494.9 407.9,495.0 408.3,495.1 408.7,495.3 409.1,495.5 409.5,495.8 409.9,496.0 410.3,496.2 410.7,495.9 411.1,495.6 411.5,495.3 411.9,495.1 412.3,494.9 412.7,494.7 413.1,494.6 413.5,494.5 413.9,494.5 414.3,494.6 414.7,494.6 415.1,494.8 415.5,495.0 415.9,495.2 416.3,495.4 416.7,495.7 417.1,496.0 417.5,495.9 417.9,495.5 418.3,495.2 418.7,494.9 419.1,494.6 419.5,494.4 419.9,494.2 420.3,494.1 420.7,494.1 421.1,494.1 421.5,494.1 421.9,494.2 422.3,494.4 422.7,494.6 423.1,494.8 423.5,495.0 423.9,495.3 424.3,495.4 424.7,495.0 425.1,494.6 425.5,494.3 425.9,494.0 426.3,493.7 426.7,493.5 427.1,493.3 427.5,493.2 427.9,493.2 428.3,493.3 428.7,493.4 429.1,493.5 429.5,493.7 429.9,493.9 430.3,494.1 430.7,494.4 431.1,494.7 431.5,494.5 431.9,494.1 432.3,493.7 432.7,493.3 433.1,493.0 433.5,492.8 433.9,492.6 434.3,492.4 434.7,492.4 435.1,492.4 435.5,492.4 435.9,492.4 436.3,492.4 436.7,492.4 437.1,492.4 437.5,492.3 437.9,492.3 438.3,492.3 438.7,492.3 439.1,491.5 439.5,490.7 439.9,489.9 440.3,489.2 440.7,488.5 441.1,488.0 441.5,487.7 441.9,487.5 442.3,487.4 442.7,487.4 443.1,487.5 443.5,487.5 443.9,487.6 444.3,487.8 444.7,487.9 445.1,488.0 445.5,488.2 445.9,488.1 446.3,487.4 446.7,486.8 447.1,486.3 447.5,485.8 447.9,485.4 448.3,485.2 448.7,485.0 449.1,485.0 449.5,485.1 449.9,485.2 450.3,485.4 450.7,485.7 451.1,486.0 451.5,486.4 451.9,486.8 452.3,487.3 452.7,487.8 453.1,488.4 453.5,488.9 453.9,489.5 454.3,489.6 454.7,489.0 455.1,488.3 455.5,487.7 455.9,487.1 456.3,486.6 456.7,486.2 457.1,485.8 457.5,485.4 457.9,485.2 458.3,485.1 458.7,485.0 459.1,485.0 459.5,485.2 459.9,485.4 460.3,485.7 460.7,486.0 461.1,486.5 461.5,487.0 461.9,487.6 462.3,488.2 462.7,488.8 463.1,489.5 463.5,489.7 463.9,489.1 464.3,488.5 464.7,488.0 465.1,487.4 465.5,486.9 465.9,486.5 466.3,486.1 466.7,485.7 467.1,485.5 467.5,485.2 467.9,485.1 468.3,485.0 468.7,485.0 469.1,485.1 469.5,485.4 469.9,485.7 470.3,486.1 470.7,486.7 471.1,487.3 471.5,487.9 471.9,488.2 472.3,488.1 472.7,487.9 473.1,487.8 473.5,487.7 473.9,487.6 474.3,487.5 474.7,487.4 475.1,487.4 475.5,487.4 475.9,487.6 476.3,487.9 476.7,488.4 477.1,489.0 477.5,489.7 477.9,490.5 478.3,491.3 478.7,492.2 479.1,492.3 479.5,492.3 479.9,492.3 480.3,492.4 480.7,492.4 481.1,492.4 481.5,492.4 481.9,492.4 482.3,492.4 482.7,492.4 483.1,492.4 483.5,492.5 483.9,492.7 484.3,492.9 484.7,493.2 485.1,493.6 485.5,494.0 485.9,494.4 486.3,494.7 486.7,494.5 487.1,494.2 487.5,493.9 487.9,493.7 488.3,493.5 488.7,493.4 489.1,493.3 489.5,493.2 489.9,493.2 490.3,493.3 490.7,493.4 491.1,493.6 491.5,493.9 491.9,494.2 492.3,494.6 492.7,494.9 493.1,495.3 493.5,495.3 493.9,495.1 494.3,494.8 494.7,494.6 495.1,494.4 495.5,494.3 495.9,494.2 496.3,494.1 496.7,494.1 497.1,494.1 497.5,494.2 497.9,494.3 498.3,494.5 498.7,494.8 499.1,495.1 499.5,495.4 499.9,495.8 500.3,496.1 500.7,495.8 501.1,495.5 501.5,495.2 501.9,495.0 502.3,494.8 502.7,494.7 503.1,494.6 503.5,494.5 503.9,494.5 504.3,494.6 504.7,494.7 505.1,494.8 505.5,495.0 505.9,495.3 506.3,495.5 506.7,495.8 507.1,496.2 507.5,496.1 507.9,495.8 508.3,495.6 508.7,495.4 509.1,495.2 509.5,495.0 509.9,494.9 510.3,494.8 510.7,494.8 511.1,494.8 511.5,494.9 511.9,495.0 512.3,495.2 512.7,495.4 513.1,495.6 513.5,495.9 513.9,496.2 514.3,496.4 514.7,496.2 515.1,495.9 515.5,495.7 515.9,495.5 516.3,495.4 516.7,495.2 517.1,495.1 517.5,495.1 517.9,495.1 518.3,495.1 518.7,495.2 519.1,495.4 519.5,495.5 519.9,495.8 520.3,496.0 520.7,496.3 521.1,496.5 521.5,496.5 521.9,496.3 522.3,496.1 522.7,495.9 523.1,495.7 523.5,495.6 523.9,495.5 524.3,495.4 524.7,495.4 525.1,495.4 525.5,495.5 525.9,495.6 526.3,495.7 526.7,495.9 527.1,496.1 527.5,496.3 527.9,496.6 528.3,496.8 528.7,496.6 529.1,496.4 529.5,496.2 529.9,496.0 530.3,495.9 530.7,495.8 531.1,495.7 531.5,495.7 531.9,495.7 532.3,495.7 532.7,495.8 533.1,495.9 533.5,496.1 533.9,496.2 534.3,496.4 534.7,496.7 535.1,496.9 535.5,496.9 535.9,496.7 536.3,496.5 536.7,496.4 537.1,496.2 537.5,496.1 537.9,496.0 538.3,496.0 538.7,495.9 539.1,496.0 539.5,496.0 539.9,496.1 540.3,496.2 540.7,496.4 541.1,496.6 541.5,496.8 541.9,497.0 542.3,497.2 542.7,497.0 543.1,496.8 543.5,496.7 543.9,496.5 544.3,496.4 544.7,496.3 545.1,496.3 545.5,496.2 545.9,496.2 546.3,496.3 546.7,496.3" fill="none" stroke="#1e1e1e" stroke-width="1.35"/><path d="M310.0,513.5 310.4,513.1 310.8,514.1 311.2,510.7 311.6,511.4 312.0,510.1 312.4,512.2 312.8,512.8 313.2,511.5 313.6,509.9 314.0,513.7 314.4,511.5 314.8,512.2 315.2,513.3 315.6,511.9 316.0,511.4 316.4,512.4 316.8,512.2 317.2,513.0 317.6,513.4 318.0,511.8 318.4,512.5 318.8,510.4 319.2,513.6 319.6,511.8 320.0,513.1 320.4,513.2 320.8,513.4 321.2,512.7 321.6,513.8 322.0,511.0 322.4,512.4 322.8,512.3 323.2,511.4 323.6,510.1 324.0,512.7 324.4,511.9 324.8,512.5 325.2,513.8 325.6,512.1 326.0,519.6 326.4,512.8 326.8,512.7 327.2,514.0 327.6,510.8 328.0,511.7 328.4,511.5 328.8,512.1 329.2,511.0 329.6,510.4 330.0,510.1 330.4,511.2 330.8,511.7 331.2,512.2 331.6,514.0 332.0,513.4 332.4,513.0 332.8,512.9 333.2,511.3 333.6,512.3 334.0,512.4 334.4,510.2 334.8,512.5 335.2,510.0 335.6,512.7 336.0,511.8 336.4,511.2 336.8,511.0 337.2,512.0 337.6,518.2 338.0,513.6 338.4,511.0 338.8,512.6 339.2,513.4 339.6,511.9 340.0,512.4 340.4,510.8 340.8,512.0 341.2,512.2 341.6,510.3 342.0,511.8 342.4,512.0 342.8,512.8 343.2,512.9 343.6,510.7 344.0,511.4 344.4,509.6 344.8,510.0 345.2,511.5 345.6,510.3 346.0,512.1 346.4,509.3 346.8,511.7 347.2,511.0 347.6,512.4 348.0,512.0 348.4,512.2 348.8,518.8 349.2,511.7 349.6,510.3 350.0,511.4 350.4,510.9 350.8,510.4 351.2,511.0 351.6,510.5 352.0,511.1 352.4,510.1 352.8,511.1 353.2,512.7 353.6,511.6 354.0,512.1 354.4,512.6 354.8,512.3 355.2,510.3 355.6,507.6 356.0,510.5 356.4,512.1 356.8,509.7 357.2,511.4 357.6,510.4 358.0,511.7 358.4,511.6 358.8,510.9 359.3,509.7 359.7,512.6 360.1,509.6 360.5,511.5 360.9,509.8 361.3,510.2 361.7,510.0 362.1,508.8 362.5,507.6 362.9,512.6 363.3,512.0 363.7,511.6 364.1,510.6 364.5,509.6 364.9,509.8 365.3,511.6 365.7,512.4 366.1,511.1 366.5,511.0 366.9,509.4 367.3,509.9 367.7,508.5 368.1,508.3 368.5,516.2 368.9,509.7 369.3,510.5 369.7,509.1 370.1,510.8 370.5,511.9 370.9,512.0 371.3,510.8 371.7,510.2 372.1,510.7 372.5,509.2 372.9,508.8 373.3,510.9 373.7,509.1 374.1,509.6 374.5,510.7 374.9,511.2 375.3,513.0 375.7,508.9 376.1,510.8 376.5,509.3 376.9,509.6 377.3,508.1 377.7,510.2 378.1,510.2 378.5,509.7 378.9,509.4 379.3,508.6 379.7,509.6 380.1,511.1 380.5,509.5 380.9,510.5 381.3,511.1 381.7,509.6 382.1,514.3 382.5,508.9 382.9,510.1 383.3,510.5 383.7,509.8 384.1,509.8 384.5,508.7 384.9,509.7 385.3,510.2 385.7,511.6 386.1,509.3 386.5,509.6 386.9,511.2 387.3,509.2 387.7,511.7 388.1,511.9 388.5,508.3 388.9,510.3 389.3,515.3 389.7,510.9 390.1,510.8 390.5,510.1 390.9,510.9 391.3,509.5 391.7,510.2 392.1,509.8 392.5,509.9 392.9,510.7 393.3,509.5 393.7,509.1 394.1,508.4 394.5,509.9 394.9,509.3 395.3,508.4 395.7,510.6 396.1,509.4 396.5,507.0 396.9,509.9 397.3,510.4 397.7,509.5 398.1,510.9 398.5,510.4 398.9,511.2 399.3,510.5 399.7,509.1 400.1,509.5 400.5,509.4 400.9,508.5 401.3,509.9 401.7,510.5 402.1,508.6 402.5,506.7 402.9,511.0 403.3,510.0 403.7,510.6 404.1,508.6 404.5,508.1 404.9,508.9 405.3,507.7 405.7,508.5 406.1,507.7 406.5,510.1 406.9,508.2 407.3,509.2 407.7,507.9 408.1,510.3 408.5,509.0 408.9,510.9 409.3,509.3 409.7,510.1 410.1,508.6 410.5,507.3 410.9,508.2 411.3,506.4 411.7,507.5 412.1,508.5 412.5,507.7 412.9,508.0 413.3,507.4 413.7,508.4 414.1,509.3 414.5,511.8 414.9,507.3 415.3,508.3 415.7,506.8 416.1,508.6 416.5,508.0 416.9,507.3 417.3,507.8 417.7,506.8 418.1,508.2 418.5,507.4 418.9,508.1 419.3,509.8 419.7,510.2 420.1,507.8 420.5,507.8 420.9,506.8 421.3,507.6 421.7,506.5 422.1,506.9 422.5,506.7 422.9,504.5 423.3,505.1 423.7,505.1 424.1,507.6 424.5,506.2 424.9,506.0 425.3,507.6 425.7,507.4 426.1,507.6 426.5,505.2 426.9,507.1 427.3,506.2 427.7,505.9 428.1,506.2 428.5,505.8 428.9,505.5 429.3,506.2 429.7,506.2 430.1,507.3 430.5,505.7 430.9,506.1 431.3,507.6 431.7,505.6 432.1,506.2 432.5,505.7 432.9,505.8 433.3,505.5 433.7,505.5 434.1,505.9 434.5,506.3 434.9,506.7 435.3,504.5 435.7,506.1 436.1,505.4 436.5,504.6 436.9,504.1 437.3,503.7 437.7,500.8 438.1,502.7 438.5,501.3 438.9,501.5 439.3,501.0 439.7,501.0 440.1,500.5 440.5,502.0 440.9,501.7 441.3,500.3 441.7,505.0 442.1,501.0 442.5,500.8 442.9,497.8 443.3,498.5 443.7,497.0 444.1,497.7 444.5,498.6 444.9,496.6 445.3,496.9 445.7,496.9 446.1,496.6 446.5,497.0 446.9,499.7 447.3,498.4 447.7,499.7 448.1,496.9 448.5,498.0 448.9,494.5 449.3,495.4 449.7,493.2 450.1,491.7 450.5,492.9 450.9,493.4 451.3,492.0 451.7,492.0 452.1,491.3 452.5,490.5 452.9,490.7 453.3,491.5 453.7,490.9 454.1,491.5 454.5,490.4 454.9,494.7 455.3,492.0 455.7,494.0 456.1,495.0 456.5,495.1 456.9,496.8 457.4,497.3 457.8,497.6 458.2,498.6 458.6,499.9 459.0,500.1 459.4,497.6 459.8,496.6 460.2,496.1 460.6,496.4 461.0,493.7 461.4,493.9 461.8,494.0 462.2,493.5 462.6,492.0 463.0,491.6 463.4,491.5 463.8,490.9 464.2,491.6 464.6,491.4 465.0,491.9 465.4,490.2 465.8,492.3 466.2,491.7 466.6,491.6 467.0,492.0 467.4,493.2 467.8,493.7 468.2,493.3 468.6,495.2 469.0,497.3 469.4,499.8 469.8,497.5 470.2,497.6 470.6,497.5 471.0,497.1 471.4,496.3 471.8,495.3 472.2,496.7 472.6,496.6 473.0,498.5 473.4,497.8 473.8,498.0 474.2,497.7 474.6,500.8 475.0,499.4 475.4,503.0 475.8,503.8 476.2,503.2 476.6,502.2 477.0,502.2 477.4,502.6 477.8,501.5 478.2,501.8 478.6,502.5 479.0,501.9 479.4,502.1 479.8,502.2 480.2,504.8 480.6,503.8 481.0,503.5 481.4,505.3 481.8,504.2 482.2,504.8 482.6,506.0 483.0,506.7 483.4,504.4 483.8,504.4 484.2,506.3 484.6,505.3 485.0,505.6 485.4,505.4 485.8,505.5 486.2,507.8 486.6,506.9 487.0,510.1 487.4,508.0 487.8,506.3 488.2,506.1 488.6,505.4 489.0,506.3 489.4,504.1 489.8,504.9 490.2,506.6 490.6,506.2 491.0,506.3 491.4,507.9 491.8,507.9 492.2,506.4 492.6,507.3 493.0,507.8 493.4,506.5 493.8,507.4 494.2,507.7 494.6,507.1 495.0,507.4 495.4,505.4 495.8,507.2 496.2,507.8 496.6,508.1 497.0,506.9 497.4,508.7 497.8,509.0 498.2,509.4 498.6,505.6 499.0,506.7 499.4,508.9 499.8,507.1 500.2,508.4 500.6,508.1 501.0,507.5 501.4,508.6 501.8,509.4 502.2,509.2 502.6,508.4 503.0,508.6 503.4,509.4 503.8,511.8 504.2,507.1 504.6,507.9 505.0,508.3 505.4,510.5 505.8,507.9 506.2,507.0 506.6,509.1 507.0,509.3 507.4,509.6 507.8,509.4 508.2,509.8 508.6,509.4 509.0,509.8 509.4,510.1 509.8,509.6 510.2,508.7 510.6,507.6 511.0,509.2 511.4,509.8 511.8,509.0 512.2,509.6 512.6,509.4 513.0,507.9 513.4,512.7 513.8,509.2 514.2,510.3 514.6,509.3 515.0,510.2 515.4,509.6 515.8,509.7 516.2,508.5 516.6,507.9 517.0,508.8 517.4,509.2 517.8,509.3 518.2,508.5 518.6,509.4 519.0,511.8 519.4,511.5 519.8,509.9 520.2,511.5 520.6,510.3 521.0,509.3 521.4,509.0 521.8,508.6 522.2,510.8 522.6,508.4 523.0,509.2 523.4,510.0 523.8,509.5 524.2,510.5 524.6,511.6 525.0,512.1 525.4,510.1 525.8,510.1 526.2,509.7 526.6,509.8 527.0,510.7 527.4,509.7 527.8,509.1 528.2,508.5 528.6,508.1 529.0,511.7 529.4,510.2 529.8,509.8 530.2,511.4 530.6,511.0 531.0,509.2 531.4,509.8 531.8,509.6 532.2,512.9 532.6,509.1 533.0,510.1 533.4,507.9 533.8,508.6 534.2,508.5 534.6,511.7 535.0,509.9 535.4,510.3 535.8,514.5 536.2,515.2 536.6,510.8 537.0,510.5 537.4,510.1 537.8,507.2 538.2,507.9 538.6,508.9 539.0,509.8 539.4,510.3 539.8,509.9 540.2,509.5 540.6,511.1 541.0,510.5 541.4,513.1 541.8,513.6 542.2,510.6 542.6,510.8 543.0,511.5 543.4,510.5 543.8,510.7 544.2,508.9 544.6,512.3 545.0,510.1 545.4,509.4 545.8,510.9 546.2,509.1 546.6,510.8 547.0,511.1 547.4,512.3 547.8,511.9 548.2,511.2 548.6,510.0 549.0,509.3 549.4,508.6 549.8,510.3 550.2,509.6 550.6,510.3 551.0,510.7 551.4,510.3 551.8,510.1 552.2,511.1 552.6,510.9 553.0,510.6 553.4,510.2 553.8,509.4 554.2,510.9 554.6,510.9 555.0,510.0 555.5,510.2 555.9,509.9 556.3,511.1 556.7,512.0 557.1,512.6 557.5,512.2 557.9,512.2 558.3,511.1 558.7,510.9 559.1,509.6 559.5,511.9 559.9,510.4 560.3,509.1 560.7,511.8 561.1,510.2 561.5,512.6 561.9,510.0 562.3,511.7 562.7,512.1 563.1,510.1 563.5,512.5 563.9,513.0 564.3,512.4 564.7,511.0 565.1,509.5 565.5,510.2 565.9,510.4 566.3,509.6 566.7,510.2 567.1,511.1 567.5,510.3 567.9,510.6 568.3,511.6 568.7,511.6 569.1,512.1 569.5,511.2 569.9,512.7 570.3,509.9 570.7,510.7 571.1,511.2 571.5,510.9 571.9,511.4 572.3,512.6 572.7,510.7 573.1,511.3 573.5,511.5 573.9,510.8 574.3,511.7 574.7,510.4 575.1,511.3 575.5,511.9 575.9,510.9 576.3,512.2 576.7,510.8 577.1,510.4 577.5,511.1 577.9,511.1 578.3,511.8 578.7,511.2 579.1,512.9 579.5,512.0 579.9,513.2 580.3,512.6 580.7,512.3 581.1,512.6 581.5,510.9 581.9,510.8 582.3,511.3 582.7,511.3 583.1,511.2 583.5,511.3 583.9,511.2 584.3,511.4 584.7,513.1 585.1,510.9 585.5,513.1 585.9,511.1 586.3,511.5 586.7,512.6 587.1,512.0 587.5,511.3 587.9,512.5 588.3,510.9 588.7,511.6 589.1,511.8 589.5,512.0 589.9,520.5 590.3,512.8 590.7,513.9 591.1,512.6 591.5,513.0 591.9,513.5 592.3,511.2 592.7,511.8 593.1,518.6 593.5,510.8 593.9,511.4 594.3,511.9 594.7,511.9 595.1,514.2 595.5,510.7 595.9,512.8 596.3,512.2 596.7,513.0 597.1,517.1 597.5,513.3 597.9,511.7 598.3,513.0 598.7,512.8 599.1,511.9 599.5,512.6 599.9,512.6 600.3,509.9 600.7,511.8 601.1,514.0 601.5,511.4 601.9,512.5 602.3,513.4 602.7,513.1 603.1,512.1 603.5,512.0 603.9,512.3 604.3,512.6" fill="none" stroke="#e980bc" stroke-width="1.0"/><path d="M310.0,513.5 310.4,513.1 310.8,512.8 311.2,512.5 311.6,512.3 312.0,512.1 312.4,512.0 312.8,511.9 313.2,512.0 313.6,512.1 314.0,512.3 314.4,512.5 314.8,512.8 315.2,513.1 315.6,513.2 316.0,512.9 316.4,512.5 316.8,512.2 317.2,512.0 317.6,511.8 318.0,511.7 318.4,511.7 318.8,511.8 319.2,511.9 319.6,512.1 320.0,512.4 320.4,512.7 320.8,513.0 321.2,512.9 321.6,512.6 322.0,512.3 322.4,512.0 322.8,511.8 323.2,511.6 323.6,511.5 324.0,511.6 324.4,511.6 324.8,511.8 325.2,512.0 325.6,512.3 326.0,512.6 326.4,512.9 326.8,512.6 327.2,512.3 327.6,512.0 328.0,511.7 328.4,511.5 328.8,511.4 329.2,511.3 329.6,511.4 330.0,511.5 330.4,511.6 330.8,511.9 331.2,512.1 331.6,512.4 332.0,512.7 332.4,512.4 332.8,512.0 333.2,511.7 333.6,511.5 334.0,511.3 334.4,511.2 334.8,511.1 335.2,511.2 335.6,511.3 336.0,511.5 336.4,511.7 336.8,512.0 337.2,512.3 337.6,512.4 338.0,512.1 338.4,511.7 338.8,511.4 339.2,511.2 339.6,511.0 340.0,511.0 340.4,511.0 340.8,511.0 341.2,511.2 341.6,511.4 342.0,511.6 342.4,511.9 342.8,512.2 343.2,512.1 343.6,511.8 344.0,511.5 344.4,511.2 344.8,511.0 345.2,510.8 345.6,510.8 346.0,510.8 346.4,510.9 346.8,511.0 347.2,511.2 347.6,511.5 348.0,511.8 348.4,512.1 348.8,511.8 349.2,511.5 349.6,511.2 350.0,510.9 350.4,510.7 350.8,510.6 351.2,510.6 351.6,510.6 352.0,510.7 352.4,510.9 352.8,511.1 353.2,511.4 353.6,511.7 354.0,511.9 354.4,511.6 354.8,511.2 355.2,510.9 355.6,510.7 356.0,510.5 356.4,510.4 356.8,510.4 357.2,510.4 357.6,510.5 358.0,510.7 358.4,511.0 358.8,511.3 359.3,511.6 359.7,511.6 360.1,511.3 360.5,510.9 360.9,510.6 361.3,510.4 361.7,510.3 362.1,510.2 362.5,510.2 362.9,510.2 363.3,510.4 363.7,510.6 364.1,510.8 364.5,511.1 364.9,511.4 365.3,511.3 365.7,511.0 366.1,510.7 366.5,510.4 366.9,510.2 367.3,510.0 367.7,510.0 368.1,510.0 368.5,510.1 368.9,510.2 369.3,510.5 369.7,510.7 370.1,511.0 370.5,511.3 370.9,511.0 371.3,510.7 371.7,510.4 372.1,510.1 372.5,509.9 372.9,509.8 373.3,509.8 373.7,509.8 374.1,509.9 374.5,510.1 374.9,510.3 375.3,510.6 375.7,510.9 376.1,511.1 376.5,510.7 376.9,510.4 377.3,510.1 377.7,509.9 378.1,509.7 378.5,509.6 378.9,509.6 379.3,509.6 379.7,509.8 380.1,510.0 380.5,510.2 380.9,510.5 381.3,510.8 381.7,510.8 382.1,510.5 382.5,510.1 382.9,509.8 383.3,509.6 383.7,509.5 384.1,509.4 384.5,509.4 384.9,509.5 385.3,509.6 385.7,509.8 386.1,510.1 386.5,510.4 386.9,510.7 387.3,510.5 387.7,510.2 388.1,509.9 388.5,509.6 388.9,509.4 389.3,509.2 389.7,509.2 390.1,509.2 390.5,509.3 390.9,509.5 391.3,509.7 391.7,509.9 392.1,510.3 392.5,510.6 392.9,510.2 393.3,509.9 393.7,509.6 394.1,509.3 394.5,509.1 394.9,509.0 395.3,509.0 395.7,509.0 396.1,509.1 396.5,509.3 396.9,509.6 397.3,509.8 397.7,510.1 398.1,510.3 398.5,509.9 398.9,509.6 399.3,509.3 399.7,509.1 400.1,508.9 400.5,508.8 400.9,508.8 401.3,508.9 401.7,509.0 402.1,509.2 402.5,509.4 402.9,509.7 403.3,510.0 403.7,510.0 404.1,509.7 404.5,509.3 404.9,509.0 405.3,508.8 405.7,508.7 406.1,508.6 406.5,508.6 406.9,508.7 407.3,508.8 407.7,509.0 408.1,509.3 408.5,509.6 408.9,509.9 409.3,509.7 409.7,509.2 410.1,508.9 410.5,508.6 410.9,508.3 411.3,508.2 411.7,508.1 412.1,508.1 412.5,508.2 412.9,508.4 413.3,508.6 413.7,508.8 414.1,509.0 414.5,509.3 414.9,508.9 415.3,508.5 415.7,508.1 416.1,507.8 416.5,507.6 416.9,507.5 417.3,507.4 417.7,507.5 418.1,507.6 418.5,507.7 418.9,507.9 419.3,508.2 419.7,508.4 420.1,508.5 420.5,508.1 420.9,507.7 421.3,507.3 421.7,507.1 422.1,506.9 422.5,506.8 422.9,506.8 423.3,506.8 423.7,506.9 424.1,507.1 424.5,507.3 424.9,507.5 425.3,507.8 425.7,507.7 426.1,507.3 426.5,506.9 426.9,506.6 427.3,506.3 427.7,506.1 428.1,506.1 428.5,506.1 428.9,506.1 429.3,506.3 429.7,506.4 430.1,506.6 430.5,506.8 430.9,507.1 431.3,506.8 431.7,506.3 432.1,506.0 432.5,505.6 432.9,505.4 433.3,505.2 433.7,505.2 434.1,505.2 434.5,505.2 434.9,505.2 435.3,505.2 435.7,505.2 436.1,505.2 436.5,505.2 436.9,504.4 437.3,503.7 437.7,503.0 438.1,502.5 438.5,502.1 438.9,501.9 439.3,501.8 439.7,501.8 440.1,501.9 440.5,502.0 440.9,502.2 441.3,502.3 441.7,502.5 442.1,501.4 442.5,500.2 442.9,499.2 443.3,498.3 443.7,497.6 444.1,497.1 444.5,496.8 444.9,496.8 445.3,496.9 445.7,497.0 446.1,497.1 446.5,497.3 446.9,497.5 447.3,497.7 447.7,498.0 448.1,497.1 448.5,496.2 448.9,495.4 449.3,494.6 449.7,493.8 450.1,493.1 450.5,492.5 450.9,492.0 451.3,491.6 451.7,491.3 452.1,491.2 452.5,491.1 452.9,491.1 453.3,491.3 453.7,491.5 454.1,491.8 454.5,492.1 454.9,492.6 455.3,493.1 455.7,493.6 456.1,494.3 456.5,495.0 456.9,495.7 457.4,496.5 457.8,497.2 458.2,498.1 458.6,498.9 459.0,498.9 459.4,498.1 459.8,497.2 460.2,496.4 460.6,495.7 461.0,495.0 461.4,494.3 461.8,493.6 462.2,493.1 462.6,492.6 463.0,492.1 463.4,491.8 463.8,491.5 464.2,491.3 464.6,491.1 465.0,491.1 465.4,491.2 465.8,491.3 466.2,491.6 466.6,492.0 467.0,492.5 467.4,493.1 467.8,493.8 468.2,494.6 468.6,495.4 469.0,496.2 469.4,497.1 469.8,498.0 470.2,497.7 470.6,497.5 471.0,497.3 471.4,497.1 471.8,497.0 472.2,496.9 472.6,496.8 473.0,496.8 473.4,497.1 473.8,497.6 474.2,498.3 474.6,499.2 475.0,500.2 475.4,501.4 475.8,502.5 476.2,502.3 476.6,502.2 477.0,502.0 477.4,501.9 477.8,501.8 478.2,501.8 478.6,501.9 479.0,502.1 479.4,502.5 479.8,503.0 480.2,503.7 480.6,504.4 481.0,505.2 481.4,505.2 481.8,505.2 482.2,505.2 482.6,505.2 483.0,505.2 483.4,505.2 483.8,505.2 484.2,505.2 484.6,505.4 485.0,505.6 485.4,506.0 485.8,506.3 486.2,506.8 486.6,507.1 487.0,506.8 487.4,506.6 487.8,506.4 488.2,506.3 488.6,506.1 489.0,506.1 489.4,506.1 489.8,506.1 490.2,506.3 490.6,506.6 491.0,506.9 491.4,507.3 491.8,507.7 492.2,507.8 492.6,507.5 493.0,507.3 493.4,507.1 493.8,506.9 494.2,506.8 494.6,506.8 495.0,506.8 495.4,506.9 495.8,507.1 496.2,507.3 496.6,507.7 497.0,508.1 497.4,508.5 497.8,508.4 498.2,508.1 498.6,507.9 499.0,507.7 499.4,507.6 499.8,507.5 500.2,507.4 500.6,507.5 501.0,507.6 501.4,507.8 501.8,508.1 502.2,508.5 502.6,508.9 503.0,509.3 503.4,509.0 503.8,508.8 504.2,508.6 504.6,508.4 505.0,508.2 505.4,508.1 505.8,508.1 506.2,508.2 506.6,508.3 507.0,508.6 507.4,508.9 507.8,509.3 508.2,509.7 508.6,509.9 509.0,509.6 509.4,509.3 509.8,509.0 510.2,508.8 510.6,508.7 511.0,508.6 511.4,508.6 511.8,508.7 512.2,508.8 512.6,509.0 513.0,509.3 513.4,509.7 513.8,510.0 514.2,510.0 514.6,509.7 515.0,509.4 515.4,509.2 515.8,509.0 516.2,508.9 516.6,508.8 517.0,508.8 517.4,508.9 517.8,509.1 518.2,509.3 518.6,509.6 519.0,509.9 519.4,510.3 519.8,510.1 520.2,509.8 520.6,509.6 521.0,509.3 521.4,509.1 521.8,509.0 522.2,509.0 522.6,509.0 523.0,509.1 523.4,509.3 523.8,509.6 524.2,509.9 524.6,510.2 525.0,510.6 525.4,510.2 525.8,509.9 526.2,509.7 526.6,509.5 527.0,509.3 527.4,509.2 527.8,509.2 528.2,509.2 528.6,509.4 529.0,509.6 529.4,509.9 529.8,510.2 530.2,510.5 530.6,510.7 531.0,510.4 531.4,510.1 531.8,509.8 532.2,509.6 532.6,509.5 533.0,509.4 533.4,509.4 533.8,509.5 534.2,509.6 534.6,509.8 535.0,510.1 535.4,510.5 535.8,510.8 536.2,510.8 536.6,510.5 537.0,510.2 537.4,510.0 537.8,509.8 538.2,509.6 538.6,509.6 539.0,509.6 539.4,509.7 539.8,509.9 540.2,510.1 540.6,510.4 541.0,510.8 541.4,511.1 541.8,510.9 542.2,510.6 542.6,510.3 543.0,510.1 543.4,509.9 543.8,509.8 544.2,509.8 544.6,509.8 545.0,509.9 545.4,510.1 545.8,510.4 546.2,510.7 546.6,511.0 547.0,511.3 547.4,511.0 547.8,510.7 548.2,510.5 548.6,510.2 549.0,510.1 549.4,510.0 549.8,510.0 550.2,510.0 550.6,510.2 551.0,510.4 551.4,510.7 551.8,511.0 552.2,511.3 552.6,511.4 553.0,511.1 553.4,510.8 553.8,510.6 554.2,510.4 554.6,510.2 555.0,510.2 555.5,510.2 555.9,510.3 556.3,510.4 556.7,510.6 557.1,510.9 557.5,511.3 557.9,511.6 558.3,511.6 558.7,511.2 559.1,511.0 559.5,510.7 559.9,510.5 560.3,510.4 560.7,510.4 561.1,510.4 561.5,510.5 561.9,510.7 562.3,510.9 562.7,511.2 563.1,511.6 563.5,511.9 563.9,511.7 564.3,511.4 564.7,511.1 565.1,510.9 565.5,510.7 565.9,510.6 566.3,510.6 566.7,510.6 567.1,510.7 567.5,510.9 567.9,511.2 568.3,511.5 568.7,511.8 569.1,512.1 569.5,511.8 569.9,511.5 570.3,511.2 570.7,511.0 571.1,510.9 571.5,510.8 571.9,510.8 572.3,510.8 572.7,511.0 573.1,511.2 573.5,511.5 573.9,511.8 574.3,512.1 574.7,512.2 575.1,511.9 575.5,511.6 575.9,511.4 576.3,511.2 576.7,511.0 577.1,511.0 577.5,511.0 577.9,511.0 578.3,511.2 578.7,511.4 579.1,511.7 579.5,512.1 579.9,512.4 580.3,512.3 580.7,512.0 581.1,511.7 581.5,511.5 581.9,511.3 582.3,511.2 582.7,511.1 583.1,511.2 583.5,511.3 583.9,511.5 584.3,511.7 584.7,512.0 585.1,512.4 585.5,512.7 585.9,512.4 586.3,512.1 586.7,511.9 587.1,511.6 587.5,511.5 587.9,511.4 588.3,511.3 588.7,511.4 589.1,511.5 589.5,511.7 589.9,512.0 590.3,512.3 590.7,512.7 591.1,512.9 591.5,512.6 591.9,512.3 592.3,512.0 592.7,511.8 593.1,511.6 593.5,511.6 593.9,511.5 594.3,511.6 594.7,511.8 595.1,512.0 595.5,512.3 595.9,512.6 596.3,512.9 596.7,513.0 597.1,512.7 597.5,512.4 597.9,512.1 598.3,511.9 598.7,511.8 599.1,511.7 599.5,511.7 599.9,511.8 600.3,512.0 600.7,512.2 601.1,512.5 601.5,512.9 601.9,513.2 602.3,513.1 602.7,512.8 603.1,512.5 603.5,512.3 603.9,512.1 604.3,512.0" fill="none" stroke="#e04aa0" stroke-width="1.35"/><path d="M399.0,523.8 399.4,525.1 399.8,527.0 400.2,524.2 400.6,525.0 401.0,523.0 401.4,523.2 401.8,522.9 402.2,524.7 402.6,523.2 403.0,522.4 403.4,522.2 403.8,524.0 404.2,525.1 404.6,522.4 405.0,524.2 405.4,524.0 405.8,533.0 406.2,525.2 406.6,524.1 407.0,523.7 407.4,525.4 407.8,524.2 408.2,526.5 408.6,523.2 409.0,522.1 409.4,529.4 409.8,523.2 410.2,523.3 410.6,521.7 411.0,522.6 411.4,522.0 411.8,524.1 412.2,522.4 412.6,523.1 413.0,523.5 413.4,523.4 413.8,523.0 414.2,524.2 414.6,522.4 415.0,523.0 415.4,523.2 415.8,520.1 416.2,522.0 416.6,521.9 417.0,522.9 417.4,521.8 417.8,522.0 418.2,522.3 418.7,523.4 419.1,523.7 419.5,522.8 419.9,522.2 420.3,523.0 420.7,522.2 421.1,523.7 421.5,521.2 421.9,522.0 422.3,520.2 422.7,521.3 423.1,521.1 423.5,520.5 423.9,521.7 424.3,521.6 424.7,521.3 425.1,520.8 425.5,521.5 425.9,519.6 426.3,521.0 426.7,521.2 427.1,522.6 427.5,520.3 427.9,529.0 428.3,520.4 428.7,521.8 429.1,520.7 429.5,518.9 429.9,518.3 430.3,523.5 430.7,518.0 431.1,519.4 431.5,519.8 431.9,518.0 432.3,520.0 432.7,520.8 433.1,519.5 433.5,519.9 433.9,519.2 434.3,520.0 434.7,519.0 435.1,519.1 435.5,517.4 435.9,518.3 436.3,518.0 436.7,517.2 437.1,519.5 437.5,515.8 437.9,516.7 438.3,517.4 438.7,514.1 439.1,519.4 439.5,515.5 439.9,519.2 440.3,516.1 440.7,516.7 441.1,514.0 441.5,516.3 441.9,515.2 442.3,514.8 442.7,515.4 443.1,513.6 443.5,515.5 443.9,513.3 444.3,514.2 444.7,513.2 445.1,511.7 445.5,512.2 445.9,513.9 446.3,510.9 446.7,513.5 447.1,512.5 447.5,513.6 447.9,514.5 448.3,512.3 448.7,513.0 449.1,512.7 449.5,510.9 449.9,511.8 450.3,510.4 450.7,511.8 451.1,508.4 451.5,511.9 451.9,510.8 452.3,510.4 452.7,511.6 453.1,509.1 453.5,510.4 453.9,512.2 454.3,509.9 454.7,512.6 455.1,510.6 455.5,509.2 455.9,512.2 456.3,510.1 456.7,512.0 457.1,510.5 457.5,510.4 458.0,510.5 458.4,511.0 458.8,510.3 459.2,510.8 459.6,509.3 460.0,511.5 460.4,511.6 460.8,510.8 461.2,510.0 461.6,510.0 462.0,513.4 462.4,512.2 462.8,511.8 463.2,511.9 463.6,511.9 464.0,510.3 464.4,510.7 464.8,511.1 465.2,509.1 465.6,511.6 466.0,509.4 466.4,510.6 466.8,509.2 467.2,510.7 467.6,512.1 468.0,511.3 468.4,512.6 468.8,512.5 469.2,512.8 469.6,513.9 470.0,511.2 470.4,513.3 470.8,513.2 471.2,513.0 471.6,512.3 472.0,513.6 472.4,513.0 472.8,512.5 473.2,513.6 473.6,513.3 474.0,514.1 474.4,513.1 474.8,515.3 475.2,515.2 475.6,514.4 476.0,514.4 476.4,515.8 476.8,517.2 477.2,515.7 477.6,515.6 478.0,517.6 478.4,517.4 478.8,515.7 479.2,515.4 479.6,517.6 480.0,516.9 480.4,517.3 480.8,517.9 481.2,517.3 481.6,518.9 482.0,517.8 482.4,518.1 482.8,519.4 483.2,519.0 483.6,521.0 484.0,520.1 484.4,520.3 484.8,518.7 485.2,519.4 485.6,520.5 486.0,518.6 486.4,519.3 486.8,519.2 487.2,520.5 487.6,526.9 488.0,519.3 488.4,518.8 488.8,522.1 489.2,522.1 489.6,521.5 490.0,520.1 490.4,520.2 490.8,522.1 491.2,520.4 491.6,521.3 492.0,522.0 492.4,521.5 492.8,522.8 493.2,522.2 493.6,521.1 494.0,521.8 494.4,521.0 494.8,520.6 495.2,521.7 495.6,522.0 496.0,523.5 496.4,523.1 496.8,523.1 497.3,523.9 497.7,523.3 498.1,522.3 498.5,522.0 498.9,522.3 499.3,525.5 499.7,522.3 500.1,521.5 500.5,520.5 500.9,521.0 501.3,521.2 501.7,520.8 502.1,520.6 502.5,521.9 502.9,522.5 503.3,524.6 503.7,523.8 504.1,523.3 504.5,524.6 504.9,526.0 505.3,521.7 505.7,522.5 506.1,523.0 506.5,522.4 506.9,523.7 507.3,522.8 507.7,521.1 508.1,522.7 508.5,521.1 508.9,521.7 509.3,523.9 509.7,521.9 510.1,524.1 510.5,528.5 510.9,526.5 511.3,522.6 511.7,524.5 512.1,524.4 512.5,524.1 512.9,523.2 513.3,522.7 513.7,524.0 514.1,524.7 514.5,523.4 514.9,522.5 515.3,521.5 515.7,523.2 516.1,525.0 516.5,523.3" fill="none" stroke="#a0ec76" stroke-width="1.0"/><path d="M399.0,525.3 399.4,525.3 399.8,524.9 400.2,524.5 400.6,524.2 401.0,523.9 401.4,523.6 401.8,523.4 402.2,523.3 402.6,523.2 403.0,523.2 403.4,523.3 403.8,523.4 404.2,523.5 404.6,523.7 405.0,523.9 405.4,524.2 405.8,524.5 406.2,524.7 406.6,524.4 407.0,524.0 407.4,523.6 407.8,523.3 408.2,523.0 408.6,522.7 409.0,522.6 409.4,522.5 409.8,522.5 410.2,522.5 410.6,522.6 411.0,522.7 411.4,522.9 411.8,523.1 412.2,523.3 412.6,523.6 413.0,523.8 413.4,523.8 413.8,523.4 414.2,523.0 414.6,522.7 415.0,522.4 415.4,522.1 415.8,521.9 416.2,521.8 416.6,521.7 417.0,521.7 417.4,521.8 417.8,521.9 418.2,522.0 418.7,522.2 419.1,522.4 419.5,522.7 419.9,522.9 420.3,523.2 420.7,522.8 421.1,522.4 421.5,522.1 421.9,521.7 422.3,521.5 422.7,521.3 423.1,521.1 423.5,521.0 423.9,521.0 424.3,521.0 424.7,521.1 425.1,521.2 425.5,521.3 425.9,521.4 426.3,521.5 426.7,521.7 427.1,521.8 427.5,521.6 427.9,521.2 428.3,520.7 428.7,520.3 429.1,520.0 429.5,519.7 429.9,519.4 430.3,519.3 430.7,519.3 431.1,519.3 431.5,519.3 431.9,519.3 432.3,519.4 432.7,519.5 433.1,519.6 433.5,519.7 433.9,519.8 434.3,519.9 434.7,519.3 435.1,518.7 435.5,518.1 435.9,517.6 436.3,517.2 436.7,516.9 437.1,516.6 437.5,516.5 437.9,516.5 438.3,516.5 438.7,516.5 439.1,516.5 439.5,516.5 439.9,516.5 440.3,516.4 440.7,516.4 441.1,516.4 441.5,516.0 441.9,515.4 442.3,514.9 442.7,514.4 443.1,513.9 443.5,513.6 443.9,513.3 444.3,513.1 444.7,513.1 445.1,513.1 445.5,513.1 445.9,513.1 446.3,513.1 446.7,513.1 447.1,513.1 447.5,513.1 447.9,513.1 448.3,513.1 448.7,512.6 449.1,512.1 449.5,511.7 449.9,511.3 450.3,511.0 450.7,510.7 451.1,510.5 451.5,510.5 451.9,510.4 452.3,510.5 452.7,510.6 453.1,510.7 453.5,510.8 453.9,511.0 454.3,511.2 454.7,511.5 455.1,511.7 455.5,511.5 455.9,511.2 456.3,510.9 456.7,510.7 457.1,510.4 457.5,510.2 458.0,510.1 458.4,510.0 458.8,510.0 459.2,510.0 459.6,510.1 460.0,510.2 460.4,510.4 460.8,510.7 461.2,510.9 461.6,511.2 462.0,511.5 462.4,511.7 462.8,511.4 463.2,511.2 463.6,511.0 464.0,510.8 464.4,510.7 464.8,510.6 465.2,510.5 465.6,510.4 466.0,510.5 466.4,510.5 466.8,510.7 467.2,511.0 467.6,511.3 468.0,511.7 468.4,512.1 468.8,512.6 469.2,513.1 469.6,513.1 470.0,513.1 470.4,513.1 470.8,513.1 471.2,513.1 471.6,513.1 472.0,513.1 472.4,513.1 472.8,513.1 473.2,513.1 473.6,513.3 474.0,513.6 474.4,513.9 474.8,514.4 475.2,514.9 475.6,515.4 476.0,516.0 476.4,516.4 476.8,516.4 477.2,516.4 477.6,516.5 478.0,516.5 478.4,516.5 478.8,516.5 479.2,516.5 479.6,516.5 480.0,516.5 480.4,516.6 480.8,516.9 481.2,517.2 481.6,517.6 482.0,518.1 482.4,518.7 482.8,519.3 483.2,519.9 483.6,519.8 484.0,519.7 484.4,519.6 484.8,519.5 485.2,519.4 485.6,519.3 486.0,519.3 486.4,519.3 486.8,519.3 487.2,519.3 487.6,519.5 488.0,519.7 488.4,520.0 488.8,520.3 489.2,520.7 489.6,521.2 490.0,521.6 490.4,521.8 490.8,521.7 491.2,521.5 491.6,521.4 492.0,521.2 492.4,521.1 492.8,521.1 493.2,521.0 493.6,521.0 494.0,521.0 494.4,521.1 494.8,521.3 495.2,521.5 495.6,521.7 496.0,522.1 496.4,522.4 496.8,522.8 497.3,523.2 497.7,522.9 498.1,522.7 498.5,522.4 498.9,522.2 499.3,522.0 499.7,521.9 500.1,521.8 500.5,521.7 500.9,521.7 501.3,521.8 501.7,521.9 502.1,522.1 502.5,522.4 502.9,522.7 503.3,523.0 503.7,523.4 504.1,523.8 504.5,523.8 504.9,523.6 505.3,523.3 505.7,523.1 506.1,522.9 506.5,522.7 506.9,522.6 507.3,522.5 507.7,522.5 508.1,522.5 508.5,522.6 508.9,522.7 509.3,523.0 509.7,523.3 510.1,523.6 510.5,524.0 510.9,524.4 511.3,524.7 511.7,524.5 512.1,524.2 512.5,523.9 512.9,523.7 513.3,523.5 513.7,523.4 514.1,523.3 514.5,523.2 514.9,523.2 515.3,523.3 515.7,523.4 516.1,523.6 516.5,523.9" fill="none" stroke="#78e43c" stroke-width="1.35"/><path d="M310.0,539.3 310.4,539.8 310.8,538.9 311.2,539.1 311.6,536.9 312.0,538.8 312.4,538.1 312.8,537.3 313.2,538.7 313.6,538.1 314.0,538.5 314.4,539.1 314.8,537.5 315.2,541.0 315.6,536.9 316.0,538.8 316.4,537.8 316.8,537.1 317.2,539.0 317.6,539.5 318.0,538.2 318.4,540.5 318.8,537.1 319.2,537.9 319.6,538.4 320.0,537.4 320.4,537.3 320.8,536.8 321.2,537.5 321.6,539.0 322.0,538.4 322.4,536.5 322.8,537.7 323.2,539.2 323.6,536.9 324.0,537.8 324.4,538.7 324.8,536.7 325.2,535.6 325.6,537.1 326.0,538.0 326.4,537.3 326.8,539.9 327.2,538.2 327.6,539.4 328.0,538.8 328.4,537.8 328.8,537.4 329.2,538.0 329.6,538.8 330.0,538.9 330.4,539.1 330.8,537.2 331.2,538.3 331.6,536.9 332.0,538.1 332.4,537.8 332.8,538.1 333.2,539.1 333.6,539.6 334.0,537.8 334.4,539.6 334.8,537.4 335.2,537.1 335.6,538.3 336.0,539.6 336.4,537.0 336.8,537.0 337.2,535.1 337.6,537.9 338.0,537.8 338.4,537.7 338.8,538.0 339.2,539.5 339.6,537.2 340.0,537.5 340.4,536.0 340.8,537.9 341.2,537.4 341.6,535.9 342.0,538.5 342.4,538.9 342.8,539.5 343.2,538.6 343.6,537.4 344.0,538.7 344.4,539.3 344.8,536.8 345.2,539.0 345.6,536.1 346.0,537.3 346.4,536.9 346.8,536.2 347.2,547.8 347.6,538.0 348.0,538.2 348.4,538.2 348.8,537.8 349.2,535.6 349.6,536.6 350.0,539.3 350.4,538.2 350.8,539.4 351.2,537.3 351.6,536.4 352.0,538.4 352.4,538.7 352.8,535.8 353.2,538.9 353.6,535.6 354.0,536.0 354.4,534.7 354.8,537.7 355.2,536.3 355.6,536.2 356.0,536.2 356.4,537.2 356.8,538.0 357.2,537.1 357.6,537.1 358.0,536.7 358.4,537.1 358.8,537.3 359.3,536.9 359.7,538.0 360.1,538.2 360.5,536.9 360.9,537.8 361.3,537.3 361.7,536.1 362.1,537.4 362.5,534.7 362.9,537.1 363.3,536.0 363.7,537.8 364.1,538.0 364.5,539.2 364.9,537.2 365.3,537.5 365.7,536.6 366.1,537.5 366.5,534.7 366.9,538.9 367.3,537.0 367.7,540.3 368.1,537.2 368.5,537.8 368.9,536.2 369.3,542.0 369.7,537.5 370.1,537.6 370.5,535.0 370.9,537.8 371.3,537.3 371.7,536.0 372.1,536.9 372.5,539.5 372.9,537.2 373.3,539.3 373.7,537.7 374.1,538.5 374.5,537.8 374.9,537.1 375.3,537.9 375.7,537.2 376.1,538.7 376.5,535.1 376.9,537.0 377.3,537.5 377.7,537.1 378.1,543.5 378.5,537.2 378.9,536.0 379.3,537.9 379.7,537.6 380.1,538.5 380.5,537.8 380.9,538.0 381.3,535.7 381.7,537.9 382.1,537.3 382.5,537.2 382.9,537.1 383.3,537.8 383.7,537.9 384.1,537.0 384.5,537.4 384.9,537.4 385.3,538.6 385.7,536.1 386.1,536.8 386.5,536.0 386.9,537.9 387.3,536.7 387.7,537.1 388.1,542.1 388.5,536.6 388.9,536.8 389.3,537.8 389.7,538.6 390.1,538.0 390.5,537.4 390.9,534.8 391.3,538.1 391.7,536.7 392.1,536.3 392.5,536.2 392.9,536.9 393.3,536.2 393.7,535.1 394.1,537.4 394.5,536.7 394.9,536.9 395.3,537.7 395.7,536.3 396.1,536.0 396.5,538.7 396.9,538.2 397.3,536.8 397.7,536.0 398.1,537.2 398.5,539.6 398.9,538.4 399.3,537.3 399.7,536.6 400.1,537.0 400.5,536.1 400.9,537.8 401.3,536.9 401.7,536.9 402.1,537.4 402.5,534.7 402.9,534.0 403.3,535.9 403.7,535.5 404.1,536.6 404.5,537.1 404.9,538.1 405.3,535.0 405.7,538.6 406.1,536.3 406.5,537.4 406.9,536.5 407.3,537.9 407.7,535.5 408.1,535.0 408.5,536.8 408.9,535.3 409.3,536.9 409.7,535.8 410.1,536.3 410.5,535.1 410.9,537.6 411.3,535.4 411.7,537.2 412.1,534.5 412.5,534.7 412.9,537.1 413.3,536.1 413.7,538.0 414.1,536.3 414.5,537.7 414.9,536.7 415.3,534.5 415.7,536.0 416.1,535.3 416.5,534.0 416.9,536.6 417.3,533.7 417.7,536.3 418.1,534.4 418.5,536.6 418.9,533.8 419.3,535.1 419.7,535.9 420.1,536.6 420.5,535.4 420.9,533.2 421.3,536.5 421.7,534.3 422.1,535.4 422.5,535.4 422.9,534.7 423.3,534.6 423.7,536.4 424.1,536.2 424.5,534.5 424.9,533.4 425.3,533.1 425.7,534.4 426.1,534.0 426.5,532.3 426.9,534.0 427.3,534.5 427.7,532.8 428.1,533.6 428.5,535.1 428.9,534.1 429.3,534.3 429.7,534.4 430.1,533.1 430.5,533.1 430.9,533.9 431.3,535.1 431.7,532.5 432.1,530.3 432.5,534.4 432.9,533.5 433.3,530.8 433.7,530.8 434.1,530.9 434.5,532.5 434.9,531.7 435.3,533.0 435.7,532.2 436.1,531.5 436.5,530.4 436.9,531.1 437.3,533.0 437.7,530.8 438.1,529.3 438.5,531.8 438.9,531.1 439.3,529.9 439.7,528.5 440.1,526.1 440.5,528.9 440.9,528.5 441.3,526.8 441.7,527.3 442.1,525.8 442.5,525.9 442.9,528.8 443.3,526.1 443.7,527.2 444.1,527.7 444.5,528.8 444.9,528.3 445.3,528.7 445.7,527.3 446.1,527.2 446.5,526.9 446.9,527.6 447.3,525.8 447.7,527.1 448.1,524.6 448.5,524.8 448.9,524.6 449.3,525.3 449.7,524.7 450.1,524.8 450.5,523.7 450.9,523.6 451.3,525.2 451.7,525.0 452.1,524.0 452.5,522.2 452.9,523.8 453.3,524.9 453.7,524.7 454.1,522.6 454.5,524.1 454.9,523.8 455.3,523.7 455.7,520.9 456.1,523.8 456.5,523.6 456.9,524.2 457.4,523.1 457.8,522.6 458.2,523.6 458.6,522.8 459.0,522.6 459.4,521.5 459.8,522.4 460.2,522.9 460.6,523.7 461.0,523.5 461.4,522.0 461.8,522.5 462.2,523.6 462.6,523.8 463.0,525.8 463.4,524.1 463.8,525.0 464.2,522.9 464.6,523.2 465.0,522.8 465.4,525.0 465.8,524.5 466.2,522.6 466.6,523.2 467.0,525.4 467.4,523.4 467.8,524.3 468.2,525.1 468.6,524.6 469.0,526.4 469.4,525.5 469.8,524.8 470.2,525.3 470.6,527.8 471.0,526.1 471.4,526.3 471.8,527.2 472.2,528.2 472.6,527.3 473.0,529.4 473.4,525.2 473.8,527.7 474.2,526.8 474.6,527.4 475.0,527.3 475.4,526.2 475.8,528.2 476.2,527.0 476.6,527.8 477.0,528.1 477.4,530.6 477.8,530.6 478.2,531.2 478.6,530.0 479.0,531.2 479.4,532.5 479.8,530.0 480.2,532.8 480.6,529.9 481.0,531.1 481.4,532.4 481.8,530.6 482.2,532.8 482.6,530.7 483.0,531.9 483.4,533.2 483.8,532.0 484.2,533.0 484.6,532.1 485.0,531.3 485.4,534.1 485.8,531.9 486.2,535.1 486.6,534.1 487.0,534.0 487.4,534.8 487.8,533.1 488.2,533.4 488.6,534.3 489.0,533.8 489.4,533.9 489.8,535.3 490.2,535.2 490.6,533.9 491.0,535.8 491.4,532.6 491.8,533.7 492.2,535.0 492.6,535.4 493.0,533.7 493.4,534.5 493.8,535.0 494.2,535.5 494.6,534.4 495.0,534.3 495.4,536.0 495.8,536.0 496.2,534.3 496.6,536.2 497.0,534.9 497.4,532.8 497.8,535.1 498.2,536.5 498.6,535.3 499.0,535.6 499.4,533.7 499.8,534.9 500.2,534.3 500.6,535.6 501.0,535.6 501.4,536.5 501.8,535.7 502.2,536.7 502.6,536.2 503.0,536.7 503.4,535.3 503.8,535.1 504.2,534.5 504.6,536.4 505.0,536.7 505.4,534.3 505.8,535.9 506.2,534.7 506.6,536.1 507.0,537.9 507.4,535.6 507.8,534.0 508.2,535.3 508.6,535.3 509.0,538.2 509.4,536.8 509.8,536.3 510.2,539.9 510.6,536.1 511.0,537.4 511.4,537.5 511.8,537.0 512.2,536.5 512.6,534.3 513.0,535.8 513.4,535.6 513.8,535.9 514.2,537.1 514.6,536.5 515.0,534.3 515.4,537.0 515.8,537.2 516.2,536.5 516.6,535.9 517.0,536.7 517.4,537.0 517.8,539.2 518.2,544.6 518.6,537.8 519.0,537.5 519.4,535.0 519.8,538.6 520.2,536.1 520.6,538.6 521.0,544.6 521.4,536.0 521.8,536.0 522.2,536.4 522.6,538.4 523.0,536.4 523.4,537.6 523.8,538.0 524.2,537.3 524.6,537.2 525.0,539.3 525.4,536.7 525.8,538.2 526.2,537.9 526.6,538.5 527.0,539.4 527.4,538.3 527.8,536.4 528.2,537.2 528.6,537.3 529.0,538.0 529.4,538.0 529.8,536.9 530.2,537.2 530.6,539.0 531.0,535.7 531.4,537.1 531.8,535.7 532.2,536.8 532.6,536.2 533.0,537.6 533.4,536.9 533.8,536.2 534.2,544.5 534.6,538.4 535.0,538.5 535.4,538.3 535.8,538.2 536.2,536.8 536.6,536.5 537.0,539.0 537.4,535.0 537.8,537.4 538.2,535.9 538.6,545.4 539.0,537.7 539.4,535.5 539.8,536.7 540.2,535.0 540.6,535.8 541.0,538.5 541.4,535.8 541.8,537.7 542.2,536.8 542.6,538.0 543.0,537.3 543.4,537.6 543.8,537.0 544.2,538.8 544.6,537.2 545.0,536.6 545.4,536.9 545.8,536.9 546.2,538.9 546.6,536.7 547.0,537.5 547.4,537.3 547.8,538.3 548.2,537.8 548.6,539.8 549.0,536.8 549.4,537.0 549.8,537.2 550.2,538.8 550.6,538.5 551.0,537.5 551.4,537.6 551.8,538.4 552.2,538.5 552.6,535.7 553.0,537.8 553.4,538.4 553.8,535.8 554.2,536.4 554.6,537.4 555.0,537.1 555.5,544.0 555.9,538.8 556.3,537.0 556.7,537.9 557.1,538.2 557.5,536.9 557.9,538.4 558.3,538.9 558.7,537.9 559.1,538.6 559.5,537.9 559.9,537.8 560.3,539.9 560.7,540.4 561.1,536.6 561.5,537.0 561.9,537.9 562.3,536.5 562.7,540.5 563.1,536.4 563.5,538.6 563.9,537.2 564.3,537.0 564.7,539.0 565.1,537.1 565.5,536.9 565.9,540.0 566.3,536.4 566.7,541.4 567.1,537.3 567.5,538.4 567.9,537.6 568.3,538.9 568.7,537.9 569.1,538.2 569.5,538.4 569.9,539.6 570.3,536.8 570.7,537.0 571.1,537.0 571.5,537.8 571.9,537.7 572.3,537.9 572.7,537.7 573.1,537.7 573.5,539.5 573.9,536.9 574.3,535.8 574.7,538.3 575.1,536.6 575.5,536.6 575.9,537.8 576.3,537.7 576.7,537.9 577.1,537.9 577.5,537.3 577.9,538.2 578.3,538.3 578.7,536.9 579.1,539.7 579.5,536.1 579.9,538.1 580.3,537.4 580.7,538.3 581.1,537.1 581.5,540.0 581.9,538.0 582.3,537.4 582.7,538.1 583.1,538.3 583.5,537.7 583.9,539.3 584.3,538.0 584.7,537.5 585.1,538.4 585.5,537.7 585.9,538.0 586.3,538.8 586.7,539.8 587.1,539.9 587.5,537.1 587.9,538.3 588.3,536.1 588.7,537.3 589.1,536.9 589.5,537.7 589.9,537.9 590.3,538.4 590.7,539.5 591.1,539.5 591.5,537.2 591.9,539.4 592.3,538.0 592.7,539.2 593.1,535.7 593.5,536.9 593.9,536.3 594.3,538.0 594.7,539.0 595.1,536.7 595.5,536.9 595.9,537.1 596.3,539.8 596.7,538.4 597.1,538.7 597.5,537.4 597.9,537.9 598.3,540.5 598.7,539.1 599.1,537.9 599.5,537.9 599.9,541.3 600.3,539.2 600.7,537.2 601.1,538.4 601.5,538.6 601.9,539.1 602.3,536.7 602.7,538.3 603.1,538.7 603.5,537.6 603.9,538.0 604.3,538.6" fill="none" stroke="#8cd4db" stroke-width="1.0"/><path d="M310.0,538.7 310.4,538.9 310.8,539.0 311.2,538.8 311.6,538.6 312.0,538.5 312.4,538.3 312.8,538.2 313.2,538.1 313.6,538.0 314.0,538.0 314.4,537.9 314.8,537.9 315.2,537.9 315.6,538.0 316.0,538.0 316.4,538.1 316.8,538.2 317.2,538.3 317.6,538.5 318.0,538.6 318.4,538.8 318.8,538.9 319.2,538.7 319.6,538.5 320.0,538.4 320.4,538.2 320.8,538.1 321.2,538.0 321.6,537.9 322.0,537.8 322.4,537.8 322.8,537.8 323.2,537.8 323.6,537.8 324.0,537.9 324.4,538.0 324.8,538.1 325.2,538.2 325.6,538.4 326.0,538.5 326.4,538.6 326.8,538.7 327.2,538.6 327.6,538.4 328.0,538.2 328.4,538.1 328.8,538.0 329.2,537.8 329.6,537.8 330.0,537.7 330.4,537.7 330.8,537.7 331.2,537.7 331.6,537.7 332.0,537.8 332.4,537.9 332.8,538.0 333.2,538.1 333.6,538.2 334.0,538.4 334.4,538.5 334.8,538.6 335.2,538.5 335.6,538.3 336.0,538.1 336.4,538.0 336.8,537.8 337.2,537.7 337.6,537.6 338.0,537.6 338.4,537.5 338.8,537.5 339.2,537.5 339.6,537.6 340.0,537.6 340.4,537.7 340.8,537.8 341.2,538.0 341.6,538.1 342.0,538.3 342.4,538.4 342.8,538.5 343.2,538.3 343.6,538.2 344.0,538.0 344.4,537.8 344.8,537.7 345.2,537.6 345.6,537.5 346.0,537.4 346.4,537.4 346.8,537.4 347.2,537.4 347.6,537.4 348.0,537.5 348.4,537.6 348.8,537.7 349.2,537.9 349.6,538.0 350.0,538.2 350.4,538.3 350.8,538.4 351.2,538.2 351.6,538.0 352.0,537.9 352.4,537.7 352.8,537.6 353.2,537.5 353.6,537.4 354.0,537.3 354.4,537.3 354.8,537.2 355.2,537.3 355.6,537.3 356.0,537.4 356.4,537.5 356.8,537.6 357.2,537.7 357.6,537.9 358.0,538.0 358.4,538.2 358.8,538.3 359.3,538.1 359.7,537.9 360.1,537.7 360.5,537.6 360.9,537.4 361.3,537.3 361.7,537.2 362.1,537.2 362.5,537.1 362.9,537.1 363.3,537.1 363.7,537.2 364.1,537.3 364.5,537.4 364.9,537.5 365.3,537.6 365.7,537.8 366.1,537.9 366.5,538.1 366.9,538.2 367.3,538.0 367.7,537.8 368.1,537.6 368.5,537.5 368.9,537.3 369.3,537.2 369.7,537.1 370.1,537.0 370.5,537.0 370.9,537.0 371.3,537.0 371.7,537.0 372.1,537.1 372.5,537.2 372.9,537.3 373.3,537.5 373.7,537.6 374.1,537.8 374.5,538.0 374.9,538.1 375.3,537.9 375.7,537.7 376.1,537.5 376.5,537.3 376.9,537.2 377.3,537.1 377.7,537.0 378.1,536.9 378.5,536.8 378.9,536.8 379.3,536.9 379.7,536.9 380.1,537.0 380.5,537.1 380.9,537.2 381.3,537.4 381.7,537.5 382.1,537.7 382.5,537.9 382.9,538.0 383.3,537.7 383.7,537.5 384.1,537.4 384.5,537.2 384.9,537.0 385.3,536.9 385.7,536.8 386.1,536.7 386.5,536.7 386.9,536.7 387.3,536.7 387.7,536.8 388.1,536.9 388.5,537.0 388.9,537.1 389.3,537.3 389.7,537.4 390.1,537.6 390.5,537.8 390.9,537.8 391.3,537.6 391.7,537.4 392.1,537.2 392.5,537.1 392.9,536.9 393.3,536.8 393.7,536.7 394.1,536.6 394.5,536.6 394.9,536.6 395.3,536.6 395.7,536.7 396.1,536.7 396.5,536.8 396.9,537.0 397.3,537.1 397.7,537.3 398.1,537.5 398.5,537.7 398.9,537.7 399.3,537.5 399.7,537.2 400.1,537.0 400.5,536.8 400.9,536.6 401.3,536.4 401.7,536.3 402.1,536.2 402.5,536.2 402.9,536.2 403.3,536.2 403.7,536.2 404.1,536.3 404.5,536.4 404.9,536.5 405.3,536.6 405.7,536.8 406.1,536.9 406.5,537.1 406.9,537.1 407.3,536.8 407.7,536.6 408.1,536.4 408.5,536.1 408.9,536.0 409.3,535.8 409.7,535.7 410.1,535.6 410.5,535.5 410.9,535.5 411.3,535.6 411.7,535.6 412.1,535.7 412.5,535.8 412.9,535.9 413.3,536.0 413.7,536.2 414.1,536.3 414.5,536.5 414.9,536.5 415.3,536.2 415.7,536.0 416.1,535.7 416.5,535.5 416.9,535.3 417.3,535.2 417.7,535.0 418.1,535.0 418.5,534.9 418.9,534.9 419.3,534.9 419.7,535.0 420.1,535.0 420.5,535.1 420.9,535.3 421.3,535.4 421.7,535.5 422.1,535.7 422.5,535.9 422.9,535.8 423.3,535.5 423.7,535.1 424.1,534.8 424.5,534.5 424.9,534.3 425.3,534.1 425.7,533.9 426.1,533.8 426.5,533.8 426.9,533.8 427.3,533.8 427.7,533.8 428.1,533.8 428.5,533.8 428.9,533.9 429.3,533.9 429.7,534.0 430.1,534.1 430.5,534.1 430.9,534.0 431.3,533.6 431.7,533.1 432.1,532.8 432.5,532.4 432.9,532.1 433.3,531.9 433.7,531.7 434.1,531.5 434.5,531.5 434.9,531.4 435.3,531.4 435.7,531.4 436.1,531.3 436.5,531.3 436.9,531.2 437.3,531.1 437.7,531.0 438.1,530.9 438.5,530.7 438.9,530.4 439.3,529.9 439.7,529.3 440.1,528.8 440.5,528.3 440.9,527.9 441.3,527.6 441.7,527.3 442.1,527.2 442.5,527.1 442.9,527.0 443.3,527.0 443.7,527.0 444.1,527.0 444.5,527.0 444.9,527.0 445.3,526.9 445.7,526.9 446.1,526.9 446.5,526.8 446.9,526.6 447.3,526.1 447.7,525.6 448.1,525.2 448.5,524.8 448.9,524.5 449.3,524.2 449.7,524.0 450.1,523.9 450.5,523.8 450.9,523.8 451.3,523.8 451.7,523.8 452.1,523.9 452.5,523.9 452.9,524.0 453.3,524.1 453.7,524.1 454.1,524.2 454.5,524.3 454.9,524.2 455.3,523.9 455.7,523.7 456.1,523.4 456.5,523.2 456.9,523.0 457.4,522.9 457.8,522.7 458.2,522.6 458.6,522.6 459.0,522.6 459.4,522.6 459.8,522.7 460.2,522.9 460.6,523.0 461.0,523.2 461.4,523.4 461.8,523.7 462.2,523.9 462.6,524.2 463.0,524.3 463.4,524.2 463.8,524.1 464.2,524.1 464.6,524.0 465.0,523.9 465.4,523.9 465.8,523.8 466.2,523.8 466.6,523.8 467.0,523.8 467.4,523.9 467.8,524.0 468.2,524.2 468.6,524.5 469.0,524.8 469.4,525.2 469.8,525.7 470.2,526.1 470.6,526.6 471.0,526.8 471.4,526.9 471.8,526.9 472.2,526.9 472.6,527.0 473.0,527.0 473.4,527.0 473.8,527.0 474.2,527.0 474.6,527.0 475.0,527.1 475.4,527.2 475.8,527.3 476.2,527.6 476.6,527.9 477.0,528.3 477.4,528.8 477.8,529.3 478.2,529.9 478.6,530.4 479.0,530.7 479.4,530.9 479.8,531.0 480.2,531.1 480.6,531.2 481.0,531.3 481.4,531.3 481.8,531.4 482.2,531.4 482.6,531.4 483.0,531.5 483.4,531.5 483.8,531.7 484.2,531.9 484.6,532.1 485.0,532.4 485.4,532.8 485.8,533.1 486.2,533.6 486.6,534.0 487.0,534.1 487.4,534.1 487.8,534.0 488.2,533.9 488.6,533.9 489.0,533.8 489.4,533.8 489.8,533.8 490.2,533.8 490.6,533.8 491.0,533.8 491.4,533.8 491.8,533.9 492.2,534.1 492.6,534.3 493.0,534.5 493.4,534.8 493.8,535.1 494.2,535.5 494.6,535.8 495.0,535.9 495.4,535.7 495.8,535.5 496.2,535.4 496.6,535.3 497.0,535.1 497.4,535.0 497.8,535.0 498.2,534.9 498.6,534.9 499.0,534.9 499.4,535.0 499.8,535.0 500.2,535.2 500.6,535.3 501.0,535.5 501.4,535.7 501.8,536.0 502.2,536.2 502.6,536.5 503.0,536.5 503.4,536.3 503.8,536.2 504.2,536.0 504.6,535.9 505.0,535.8 505.4,535.7 505.8,535.6 506.2,535.6 506.6,535.5 507.0,535.5 507.4,535.6 507.8,535.7 508.2,535.8 508.6,536.0 509.0,536.1 509.4,536.4 509.8,536.6 510.2,536.8 510.6,537.1 511.0,537.1 511.4,536.9 511.8,536.8 512.2,536.6 512.6,536.5 513.0,536.4 513.4,536.3 513.8,536.2 514.2,536.2 514.6,536.2 515.0,536.2 515.4,536.2 515.8,536.3 516.2,536.4 516.6,536.6 517.0,536.8 517.4,537.0 517.8,537.2 518.2,537.5 518.6,537.7 519.0,537.7 519.4,537.5 519.8,537.3 520.2,537.1 520.6,537.0 521.0,536.8 521.4,536.7 521.8,536.6 522.2,536.6 522.6,536.6 523.0,536.6 523.4,536.6 523.8,536.7 524.2,536.8 524.6,536.9 525.0,537.1 525.4,537.2 525.8,537.4 526.2,537.6 526.6,537.8 527.0,537.8 527.4,537.6 527.8,537.4 528.2,537.2 528.6,537.1 529.0,537.0 529.4,536.9 529.8,536.8 530.2,536.7 530.6,536.7 531.0,536.7 531.4,536.7 531.8,536.8 532.2,536.9 532.6,537.0 533.0,537.2 533.4,537.4 533.8,537.6 534.2,537.7 534.6,538.0 535.0,537.9 535.4,537.7 535.8,537.5 536.2,537.4 536.6,537.2 537.0,537.1 537.4,537.0 537.8,536.9 538.2,536.9 538.6,536.8 539.0,536.8 539.4,536.9 539.8,537.0 540.2,537.1 540.6,537.2 541.0,537.3 541.4,537.5 541.8,537.7 542.2,537.9 542.6,538.1 543.0,538.0 543.4,537.8 543.8,537.6 544.2,537.5 544.6,537.3 545.0,537.2 545.4,537.1 545.8,537.0 546.2,537.0 546.6,537.0 547.0,537.0 547.4,537.0 547.8,537.1 548.2,537.2 548.6,537.3 549.0,537.5 549.4,537.6 549.8,537.8 550.2,538.0 550.6,538.2 551.0,538.1 551.4,537.9 551.8,537.8 552.2,537.6 552.6,537.5 553.0,537.4 553.4,537.3 553.8,537.2 554.2,537.1 554.6,537.1 555.0,537.1 555.5,537.2 555.9,537.2 556.3,537.3 556.7,537.4 557.1,537.6 557.5,537.7 557.9,537.9 558.3,538.1 558.7,538.3 559.1,538.2 559.5,538.0 559.9,537.9 560.3,537.7 560.7,537.6 561.1,537.5 561.5,537.4 561.9,537.3 562.3,537.3 562.7,537.2 563.1,537.3 563.5,537.3 563.9,537.4 564.3,537.5 564.7,537.6 565.1,537.7 565.5,537.9 565.9,538.0 566.3,538.2 566.7,538.4 567.1,538.3 567.5,538.2 567.9,538.0 568.3,537.9 568.7,537.7 569.1,537.6 569.5,537.5 569.9,537.4 570.3,537.4 570.7,537.4 571.1,537.4 571.5,537.4 571.9,537.5 572.3,537.6 572.7,537.7 573.1,537.8 573.5,538.0 573.9,538.2 574.3,538.3 574.7,538.5 575.1,538.4 575.5,538.3 575.9,538.1 576.3,538.0 576.7,537.8 577.1,537.7 577.5,537.6 577.9,537.6 578.3,537.5 578.7,537.5 579.1,537.5 579.5,537.6 579.9,537.6 580.3,537.7 580.7,537.8 581.1,538.0 581.5,538.1 581.9,538.3 582.3,538.5 582.7,538.6 583.1,538.5 583.5,538.4 583.9,538.2 584.3,538.1 584.7,538.0 585.1,537.9 585.5,537.8 585.9,537.7 586.3,537.7 586.7,537.7 587.1,537.7 587.5,537.7 587.9,537.8 588.3,537.9 588.7,538.0 589.1,538.1 589.5,538.2 589.9,538.4 590.3,538.6 590.7,538.7 591.1,538.6 591.5,538.5 591.9,538.3 592.3,538.2 592.7,538.1 593.1,538.0 593.5,537.9 593.9,537.8 594.3,537.8 594.7,537.8 595.1,537.8 595.5,537.8 595.9,537.9 596.3,538.0 596.7,538.1 597.1,538.2 597.5,538.4 597.9,538.5 598.3,538.7 598.7,538.9 599.1,538.8 599.5,538.6 599.9,538.5 600.3,538.3 600.7,538.2 601.1,538.1 601.5,538.0 601.9,538.0 602.3,537.9 602.7,537.9 603.1,537.9 603.5,538.0 603.9,538.0 604.3,538.1" fill="none" stroke="#5cc2cc" stroke-width="1.35"/><path d="M339.6,551.7 340.0,550.1 340.4,550.7 340.8,552.7 341.2,551.2 341.6,551.5 342.0,550.5 342.4,551.9 342.8,548.1 343.2,549.2 343.6,549.6 344.0,549.4 344.4,550.9 344.8,550.5 345.2,551.0 345.6,549.0 346.0,549.4 346.4,551.8 346.8,549.6 347.2,549.3 347.6,549.4 348.0,549.3 348.4,549.6 348.8,550.8 349.2,555.4 349.6,549.6 350.0,550.9 350.4,551.2 350.8,550.1 351.2,551.6 351.6,550.8 352.0,549.7 352.4,557.7 352.8,550.1 353.2,549.2 353.6,550.0 354.0,550.6 354.4,549.7 354.8,550.6 355.2,548.1 355.6,550.7 356.0,549.6 356.4,550.0 356.8,551.6 357.2,548.7 357.6,550.4 358.0,549.9 358.4,550.3 358.8,548.3 359.2,549.3 359.6,548.3 360.0,549.3 360.4,549.2 360.8,551.1 361.2,549.3 361.6,550.1 362.0,551.3 362.4,550.7 362.8,551.2 363.2,550.0 363.6,549.8 364.0,551.1 364.4,549.8 364.8,548.3 365.2,548.3 365.6,550.2 366.0,549.6 366.4,550.9 366.8,551.0 367.2,550.0 367.6,549.6 368.0,549.0 368.4,550.7 368.8,549.9 369.2,549.7 369.6,549.5 370.0,549.7 370.4,550.2 370.8,549.8 371.2,549.0 371.6,549.4 372.0,550.0 372.4,549.0 372.8,550.8 373.2,549.9 373.6,549.2 374.0,549.0 374.4,548.6 374.8,551.1 375.2,549.4 375.6,548.3 376.0,550.0 376.4,549.0 376.8,549.0 377.2,549.7 377.6,548.8 378.0,548.8 378.4,548.7 378.8,549.8 379.3,550.2 379.7,550.9 380.1,550.0 380.5,549.6 380.9,551.3 381.3,551.1 381.7,549.2 382.1,549.0 382.5,550.5 382.9,547.7 383.3,549.4 383.7,548.2 384.1,550.3 384.5,549.0 384.9,548.9 385.3,549.6 385.7,549.5 386.1,550.8 386.5,550.3 386.9,551.1 387.3,550.3 387.7,550.3 388.1,548.9 388.5,549.2 388.9,549.8 389.3,548.0 389.7,550.9 390.1,548.5 390.5,550.3 390.9,550.2 391.3,549.9 391.7,549.7 392.1,550.2 392.5,550.4 392.9,551.3 393.3,552.0 393.7,550.2 394.1,549.3 394.5,549.9 394.9,549.3 395.3,549.7 395.7,548.6 396.1,548.5 396.5,548.9 396.9,548.3 397.3,550.1 397.7,550.0 398.1,549.9 398.5,549.1 398.9,551.0 399.3,550.3 399.7,548.7 400.1,549.5 400.5,553.4 400.9,549.4 401.3,550.2 401.7,550.0 402.1,548.4 402.5,548.5 402.9,548.9 403.3,549.5 403.7,547.5 404.1,548.8 404.5,550.4 404.9,549.7 405.3,549.9 405.7,550.0 406.1,549.3 406.5,547.7 406.9,550.1 407.3,548.3 407.7,548.7 408.1,549.3 408.5,549.9 408.9,549.2 409.3,548.2 409.7,548.2 410.1,548.5 410.5,549.7 410.9,550.8 411.3,548.6 411.7,548.4 412.1,549.0 412.5,547.7 412.9,549.2 413.3,548.9 413.7,548.6 414.1,548.5 414.5,548.5 414.9,547.9 415.3,549.6 415.7,549.1 416.1,549.5 416.5,550.5 416.9,550.8 417.3,548.8 417.7,548.7 418.1,549.0 418.5,549.1 418.9,548.1 419.3,549.8 419.7,550.8 420.1,549.1 420.5,548.0 420.9,548.6 421.3,549.1 421.7,549.6 422.1,550.1 422.5,549.3 422.9,548.9 423.3,549.8 423.7,550.1 424.1,548.7 424.5,549.4 424.9,549.0 425.3,548.2 425.7,548.8 426.1,549.7 426.5,549.8 426.9,548.1 427.3,549.6 427.7,549.8 428.1,551.0 428.5,550.5 428.9,549.8 429.3,549.3 429.7,549.0 430.1,550.6 430.5,550.0 430.9,548.9 431.3,548.9 431.7,547.2 432.1,547.7 432.5,549.6 432.9,549.4 433.3,548.1 433.7,548.0 434.1,548.2 434.5,551.2 434.9,548.1 435.3,548.2 435.7,547.5 436.1,548.7 436.5,548.4 436.9,546.4 437.3,547.9 437.7,546.7 438.1,547.4 438.5,547.7 438.9,548.6 439.3,546.0 439.7,546.7 440.1,547.6 440.5,548.2 440.9,547.4 441.3,546.7 441.7,545.4 442.1,545.8 442.5,545.2 442.9,544.3 443.3,543.7 443.7,543.9 444.1,544.1 444.5,543.5 444.9,544.2 445.3,543.1 445.7,543.4 446.1,543.8 446.5,543.1 446.9,542.7 447.3,541.7 447.7,540.6 448.1,540.7 448.5,541.5 448.9,539.8 449.3,539.3 449.7,540.9 450.1,538.5 450.5,540.1 450.9,538.0 451.3,539.9 451.7,541.0 452.1,539.5 452.5,542.7 452.9,542.4 453.3,543.1 453.7,544.3 454.1,543.6 454.5,544.0 454.9,544.7 455.3,544.2 455.7,542.2 456.1,542.4 456.5,540.4 456.9,541.3 457.3,538.9 457.8,540.5 458.2,540.4 458.6,539.2 459.0,539.4 459.4,539.9 459.8,540.2 460.2,537.8 460.6,542.0 461.0,541.0 461.4,542.4 461.8,542.0 462.2,544.4 462.6,544.9 463.0,545.3 463.4,544.4 463.8,544.1 464.2,543.3 464.6,542.2 465.0,543.6 465.4,541.9 465.8,540.6 466.2,538.9 466.6,539.3 467.0,539.2 467.4,540.0 467.8,540.2 468.2,539.2 468.6,539.0 469.0,540.0 469.4,540.8 469.8,542.1 470.2,542.0 470.6,541.8 471.0,544.3 471.4,544.2 471.8,543.3 472.2,542.2 472.6,544.2 473.0,543.4 473.4,543.8 473.8,544.1 474.2,544.8 474.6,544.7 475.0,544.8 475.4,546.5 475.8,544.8 476.2,546.7 476.6,546.4 477.0,546.1 477.4,548.9 477.8,548.1 478.2,547.6 478.6,546.4 479.0,548.3 479.4,546.2 479.8,544.8 480.2,548.5 480.6,547.2 481.0,548.7 481.4,547.4 481.8,548.6 482.2,549.7 482.6,548.9 483.0,551.0 483.4,549.1 483.8,548.4 484.2,547.9 484.6,547.5 485.0,548.4 485.4,547.8 485.8,547.9 486.2,548.2 486.6,547.8 487.0,549.1 487.4,548.4 487.8,550.0 488.2,549.3 488.6,550.1 489.0,549.7 489.4,549.7 489.8,549.4 490.2,549.1 490.6,549.0 491.0,549.0 491.4,549.3 491.8,546.9 492.2,548.8 492.6,548.0 493.0,547.8 493.4,549.7 493.8,550.3 494.2,550.2 494.6,549.7 495.0,550.2 495.4,549.1 495.8,549.8 496.2,550.1 496.6,550.0 497.0,548.6 497.4,549.1 497.8,548.3 498.2,548.8 498.6,548.4 499.0,548.9 499.4,549.2 499.8,548.5 500.2,550.7 500.6,550.2 501.0,550.2 501.4,549.1 501.8,549.8 502.2,547.7 502.6,550.5 503.0,548.4 503.4,548.1 503.8,549.4 504.2,549.6 504.6,549.5 505.0,549.1 505.4,551.0 505.8,550.0 506.2,548.8 506.6,550.3 507.0,549.3 507.4,556.7 507.8,549.1 508.2,550.5 508.6,549.4 509.0,549.8 509.4,548.4 509.8,549.7 510.2,548.6 510.6,549.2 511.0,549.8 511.4,548.9 511.8,550.1 512.2,550.6 512.6,550.8 513.0,551.6 513.4,549.5 513.8,549.2 514.2,549.8 514.6,548.6 515.0,549.2 515.4,554.0 515.8,548.6 516.2,548.1 516.6,548.2 517.0,549.3 517.4,550.2 517.8,548.8 518.2,549.6 518.6,551.5 519.0,549.2 519.4,549.0 519.8,550.0 520.2,549.8 520.6,548.3 521.0,549.9 521.4,549.8 521.8,550.1 522.2,550.0 522.6,549.5 523.0,548.3 523.4,550.5 523.8,550.2 524.2,551.4 524.6,550.5 525.0,550.3 525.4,549.5 525.8,549.8 526.2,549.3 526.6,550.6 527.0,550.8 527.4,549.5 527.8,550.4 528.2,550.6 528.6,548.8 529.0,548.7 529.4,550.0 529.8,549.5 530.2,550.5 530.6,550.7 531.0,549.3 531.4,550.2 531.8,548.9 532.2,549.7 532.6,550.1 533.0,550.4 533.4,550.2 533.8,548.5 534.2,549.3 534.6,550.2 535.0,549.5 535.4,549.4 535.8,550.5 536.3,556.6 536.7,551.1 537.1,549.5 537.5,550.1 537.9,554.7 538.3,550.0 538.7,548.9 539.1,550.4 539.5,547.4 539.9,549.2 540.3,547.8 540.7,548.4 541.1,549.3 541.5,550.2 541.9,550.4 542.3,551.8 542.7,551.1 543.1,550.9 543.5,550.3 543.9,549.7 544.3,549.5 544.7,548.8 545.1,549.9 545.5,551.5 545.9,549.8 546.3,549.0 546.7,550.3 547.1,550.5 547.5,551.7 547.9,551.0 548.3,550.0 548.7,551.2 549.1,551.4 549.5,550.5 549.9,549.6 550.3,549.7 550.7,549.4 551.1,548.6 551.5,550.3 551.9,547.8 552.3,550.2 552.7,549.0 553.1,549.1 553.5,550.9 553.9,549.4 554.3,550.9 554.7,550.6 555.1,551.0 555.5,551.2 555.9,550.8 556.3,551.9 556.7,548.5 557.1,549.6 557.5,550.2 557.9,549.9 558.3,549.8 558.7,550.0 559.1,549.1 559.5,556.1 559.9,554.0 560.3,550.3 560.7,550.1 561.1,550.7 561.5,550.2 561.9,550.9 562.3,549.6 562.7,548.9 563.1,550.1 563.5,549.8 563.9,551.5 564.3,548.6 564.7,549.6 565.1,550.8 565.5,549.2 565.9,550.5 566.3,550.1 566.7,550.5 567.1,551.1 567.5,549.7 567.9,550.1 568.3,550.5 568.7,549.5 569.1,549.1 569.5,550.3 569.9,549.2 570.3,551.0 570.7,548.3 571.1,550.0 571.5,549.2 571.9,551.6 572.3,551.0 572.7,550.0 573.1,552.4 573.5,549.6 573.9,550.4 574.3,551.1 574.7,550.3 575.1,549.4 575.5,550.3" fill="none" stroke="#f3bc6e" stroke-width="1.0"/><path d="M339.6,550.4 340.0,550.2 340.4,550.0 340.8,549.9 341.2,549.8 341.6,549.8 342.0,549.8 342.4,549.8 342.8,549.9 343.2,550.1 343.6,550.2 344.0,550.4 344.4,550.6 344.8,550.7 345.2,550.5 345.6,550.3 346.0,550.1 346.4,550.0 346.8,549.8 347.2,549.8 347.6,549.7 348.0,549.7 348.4,549.8 348.8,549.9 349.2,550.0 349.6,550.2 350.0,550.3 350.4,550.6 350.8,550.7 351.2,550.5 351.6,550.3 352.0,550.1 352.4,549.9 352.8,549.8 353.2,549.7 353.6,549.6 354.0,549.7 354.4,549.7 354.8,549.8 355.2,549.9 355.6,550.1 356.0,550.3 356.4,550.5 356.8,550.7 357.2,550.4 357.6,550.2 358.0,550.0 358.4,549.8 358.8,549.7 359.2,549.6 359.6,549.6 360.0,549.6 360.4,549.6 360.8,549.7 361.2,549.9 361.6,550.1 362.0,550.3 362.4,550.5 362.8,550.6 363.2,550.4 363.6,550.1 364.0,549.9 364.4,549.8 364.8,549.6 365.2,549.5 365.6,549.5 366.0,549.5 366.4,549.6 366.8,549.7 367.2,549.8 367.6,550.0 368.0,550.2 368.4,550.4 368.8,550.6 369.2,550.3 369.6,550.1 370.0,549.9 370.4,549.7 370.8,549.6 371.2,549.5 371.6,549.4 372.0,549.5 372.4,549.5 372.8,549.6 373.2,549.8 373.6,550.0 374.0,550.2 374.4,550.4 374.8,550.5 375.2,550.3 375.6,550.0 376.0,549.8 376.4,549.6 376.8,549.5 377.2,549.4 377.6,549.4 378.0,549.4 378.4,549.5 378.8,549.6 379.3,549.7 379.7,549.9 380.1,550.1 380.5,550.4 380.9,550.5 381.3,550.2 381.7,550.0 382.1,549.8 382.5,549.6 382.9,549.4 383.3,549.3 383.7,549.3 384.1,549.3 384.5,549.4 384.9,549.5 385.3,549.7 385.7,549.9 386.1,550.1 386.5,550.3 386.9,550.4 387.3,550.2 387.7,549.9 388.1,549.7 388.5,549.5 388.9,549.4 389.3,549.3 389.7,549.2 390.1,549.3 390.5,549.3 390.9,549.4 391.3,549.6 391.7,549.8 392.1,550.0 392.5,550.3 392.9,550.4 393.3,550.1 393.7,549.9 394.1,549.6 394.5,549.5 394.9,549.3 395.3,549.2 395.7,549.2 396.1,549.2 396.5,549.3 396.9,549.4 397.3,549.6 397.7,549.8 398.1,550.0 398.5,550.3 398.9,550.4 399.3,550.1 399.7,549.8 400.1,549.6 400.5,549.4 400.9,549.2 401.3,549.1 401.7,549.1 402.1,549.1 402.5,549.2 402.9,549.3 403.3,549.5 403.7,549.7 404.1,550.0 404.5,550.2 404.9,550.3 405.3,550.0 405.7,549.8 406.1,549.5 406.5,549.3 406.9,549.2 407.3,549.1 407.7,549.0 408.1,549.1 408.5,549.1 408.9,549.3 409.3,549.4 409.7,549.7 410.1,549.9 410.5,550.2 410.9,550.3 411.3,550.0 411.7,549.7 412.1,549.5 412.5,549.3 412.9,549.1 413.3,549.0 413.7,549.0 414.1,549.0 414.5,549.1 414.9,549.2 415.3,549.4 415.7,549.6 416.1,549.9 416.5,550.1 416.9,550.2 417.3,549.9 417.7,549.6 418.1,549.4 418.5,549.2 418.9,549.0 419.3,548.9 419.7,548.9 420.1,548.9 420.5,549.0 420.9,549.1 421.3,549.3 421.7,549.6 422.1,549.8 422.5,550.1 422.9,550.2 423.3,549.9 423.7,549.6 424.1,549.3 424.5,549.1 424.9,549.0 425.3,548.9 425.7,548.8 426.1,548.9 426.5,548.9 426.9,549.1 427.3,549.3 427.7,549.5 428.1,549.8 428.5,550.1 428.9,550.1 429.3,549.7 429.7,549.3 430.1,549.0 430.5,548.7 430.9,548.5 431.3,548.4 431.7,548.3 432.1,548.3 432.5,548.4 432.9,548.5 433.3,548.6 433.7,548.8 434.1,549.0 434.5,549.2 434.9,549.1 435.3,548.7 435.7,548.3 436.1,548.0 436.5,547.7 436.9,547.5 437.3,547.3 437.7,547.3 438.1,547.3 438.5,547.3 438.9,547.3 439.3,547.3 439.7,547.3 440.1,547.3 440.5,547.3 440.9,547.0 441.3,546.4 441.7,545.8 442.1,545.3 442.5,544.8 442.9,544.4 443.3,544.1 443.7,543.9 444.1,543.8 444.5,543.8 444.9,543.8 445.3,543.7 445.7,543.6 446.1,543.5 446.5,543.4 446.9,542.9 447.3,542.2 447.7,541.5 448.1,540.8 448.5,540.3 448.9,539.9 449.3,539.6 449.7,539.4 450.1,539.4 450.5,539.5 450.9,539.8 451.3,540.2 451.7,540.6 452.1,541.2 452.5,541.9 452.9,542.6 453.3,543.4 453.7,544.3 454.1,545.1 454.5,545.2 454.9,544.4 455.3,543.6 455.7,542.8 456.1,542.1 456.5,541.5 456.9,541.0 457.3,540.5 457.8,540.2 458.2,539.9 458.6,539.8 459.0,539.8 459.4,539.9 459.8,540.2 460.2,540.5 460.6,541.0 461.0,541.5 461.4,542.1 461.8,542.8 462.2,543.6 462.6,544.4 463.0,545.2 463.4,545.1 463.8,544.3 464.2,543.4 464.6,542.6 465.0,541.9 465.4,541.2 465.8,540.6 466.2,540.1 466.6,539.8 467.0,539.5 467.4,539.4 467.8,539.4 468.2,539.6 468.6,539.9 469.0,540.3 469.4,540.8 469.8,541.5 470.2,542.2 470.6,542.9 471.0,543.4 471.4,543.5 471.8,543.6 472.2,543.7 472.6,543.8 473.0,543.8 473.4,543.8 473.8,543.9 474.2,544.1 474.6,544.4 475.0,544.8 475.4,545.3 475.8,545.8 476.2,546.4 476.6,547.0 477.0,547.3 477.4,547.3 477.8,547.3 478.2,547.3 478.6,547.3 479.0,547.3 479.4,547.3 479.8,547.3 480.2,547.3 480.6,547.5 481.0,547.7 481.4,548.0 481.8,548.3 482.2,548.7 482.6,549.1 483.0,549.2 483.4,549.0 483.8,548.8 484.2,548.6 484.6,548.5 485.0,548.4 485.4,548.3 485.8,548.3 486.2,548.4 486.6,548.5 487.0,548.7 487.4,549.0 487.8,549.3 488.2,549.7 488.6,550.1 489.0,550.1 489.4,549.8 489.8,549.5 490.2,549.3 490.6,549.1 491.0,548.9 491.4,548.9 491.8,548.8 492.2,548.9 492.6,549.0 493.0,549.1 493.4,549.3 493.8,549.6 494.2,549.9 494.6,550.2 495.0,550.1 495.4,549.8 495.8,549.6 496.2,549.3 496.6,549.1 497.0,549.0 497.4,548.9 497.8,548.9 498.2,548.9 498.6,549.0 499.0,549.2 499.4,549.4 499.8,549.6 500.2,549.9 500.6,550.2 501.0,550.1 501.4,549.9 501.8,549.6 502.2,549.4 502.6,549.2 503.0,549.1 503.4,549.0 503.8,549.0 504.2,549.0 504.6,549.1 505.0,549.3 505.4,549.5 505.8,549.7 506.2,550.0 506.6,550.3 507.0,550.2 507.4,549.9 507.8,549.7 508.2,549.4 508.6,549.3 509.0,549.1 509.4,549.1 509.8,549.0 510.2,549.1 510.6,549.2 511.0,549.3 511.4,549.5 511.8,549.8 512.2,550.0 512.6,550.3 513.0,550.2 513.4,550.0 513.8,549.7 514.2,549.5 514.6,549.3 515.0,549.2 515.4,549.1 515.8,549.1 516.2,549.1 516.6,549.2 517.0,549.4 517.4,549.6 517.8,549.8 518.2,550.1 518.6,550.4 519.0,550.3 519.4,550.0 519.8,549.8 520.2,549.6 520.6,549.4 521.0,549.3 521.4,549.2 521.8,549.2 522.2,549.2 522.6,549.3 523.0,549.5 523.4,549.6 523.8,549.9 524.2,550.1 524.6,550.4 525.0,550.3 525.4,550.0 525.8,549.8 526.2,549.6 526.6,549.4 527.0,549.3 527.4,549.3 527.8,549.2 528.2,549.3 528.6,549.4 529.0,549.5 529.4,549.7 529.8,549.9 530.2,550.2 530.6,550.4 531.0,550.3 531.4,550.1 531.8,549.9 532.2,549.7 532.6,549.5 533.0,549.4 533.4,549.3 533.8,549.3 534.2,549.3 534.6,549.4 535.0,549.6 535.4,549.8 535.8,550.0 536.3,550.2 536.7,550.5 537.1,550.4 537.5,550.1 537.9,549.9 538.3,549.7 538.7,549.6 539.1,549.5 539.5,549.4 539.9,549.4 540.3,549.4 540.7,549.5 541.1,549.6 541.5,549.8 541.9,550.0 542.3,550.3 542.7,550.5 543.1,550.4 543.5,550.2 543.9,550.0 544.3,549.8 544.7,549.6 545.1,549.5 545.5,549.5 545.9,549.4 546.3,549.5 546.7,549.6 547.1,549.7 547.5,549.9 547.9,550.1 548.3,550.3 548.7,550.6 549.1,550.4 549.5,550.2 549.9,550.0 550.3,549.8 550.7,549.7 551.1,549.6 551.5,549.5 551.9,549.5 552.3,549.6 552.7,549.6 553.1,549.8 553.5,549.9 553.9,550.1 554.3,550.4 554.7,550.6 555.1,550.5 555.5,550.3 555.9,550.1 556.3,549.9 556.7,549.7 557.1,549.6 557.5,549.6 557.9,549.6 558.3,549.6 558.7,549.7 559.1,549.8 559.5,550.0 559.9,550.2 560.3,550.4 560.7,550.7 561.1,550.5 561.5,550.3 561.9,550.1 562.3,549.9 562.7,549.8 563.1,549.7 563.5,549.7 563.9,549.6 564.3,549.7 564.7,549.8 565.1,549.9 565.5,550.1 565.9,550.3 566.3,550.5 566.7,550.7 567.1,550.6 567.5,550.3 567.9,550.2 568.3,550.0 568.7,549.9 569.1,549.8 569.5,549.7 569.9,549.7 570.3,549.8 570.7,549.8 571.1,550.0 571.5,550.1 571.9,550.3 572.3,550.5 572.7,550.7 573.1,550.6 573.5,550.4 573.9,550.2 574.3,550.1 574.7,549.9 575.1,549.8 575.5,549.8" fill="none" stroke="#eea030" stroke-width="1.35"/><path d="M428.0,570.0 428.0,557.0 428.4,557.3 428.8,558.1 429.2,558.5 429.6,557.5 430.0,556.4 430.4,555.5 430.8,563.8 431.2,557.6 431.6,556.5 432.0,556.9 432.4,557.7 432.8,557.5 433.2,557.4 433.6,556.6 434.0,556.2 434.4,556.2 434.8,555.6 435.2,554.5 435.6,554.1 436.0,555.3 436.4,555.1 436.8,555.1 437.2,554.6 437.6,554.6 438.0,555.6 438.4,553.6 438.8,554.6 439.2,554.4 439.6,554.3 440.0,554.5 440.4,554.2 440.8,553.3 441.2,554.1 441.6,553.6 442.0,552.7 442.4,551.8 442.9,552.2 443.3,552.0 443.7,551.8 444.1,552.1 444.5,551.8 444.9,552.2 445.3,551.3 445.7,550.5 446.1,550.8 446.5,550.4 446.9,549.7 447.3,548.5 447.7,549.1 448.1,547.6 448.5,548.5 448.9,549.2 449.3,548.2 449.7,549.0 450.1,549.6 450.5,548.2 450.9,548.3 451.3,547.5 451.7,548.5 452.1,547.8 452.5,548.1 452.9,548.6 453.3,548.2 453.7,548.6 454.1,548.9 454.5,548.4 454.9,548.5 455.3,547.4 455.7,548.8 456.1,548.7 456.5,548.6 456.9,548.4 457.3,549.5 457.7,549.5 458.1,549.2 458.5,549.1 458.9,546.9 459.3,548.6 459.7,548.3 460.1,548.1 460.5,548.5 460.9,548.2 461.3,547.9 461.7,548.8 462.1,549.1 462.5,547.9 462.9,548.4 463.3,547.6 463.7,549.0 464.1,548.6 464.5,548.8 464.9,547.8 465.3,548.3 465.7,547.4 466.1,548.5 466.5,548.9 466.9,549.2 467.3,549.4 467.7,547.4 468.1,548.4 468.5,548.3 468.9,547.9 469.3,549.4 469.7,549.3 470.1,549.9 470.5,549.4 470.9,549.8 471.3,551.5 471.7,550.2 472.1,550.9 472.6,550.5 473.0,552.3 473.4,551.8 473.8,552.3 474.2,551.9 474.6,560.1 475.0,551.3 475.4,553.7 475.8,553.0 476.2,552.1 476.6,553.7 477.0,554.1 477.4,553.6 477.8,553.5 478.2,553.6 478.6,553.7 479.0,559.3 479.4,555.2 479.8,554.3 480.2,554.4 480.6,555.0 481.0,554.0 481.4,555.1 481.8,554.3 482.2,555.0 482.6,556.8 483.0,555.6 483.4,556.3 483.8,556.5 484.2,556.9 484.6,556.9 485.0,557.9 485.4,557.9 485.8,558.3 486.2,556.9 486.6,557.6 487.0,557.9 487.0,570.9" fill="none" stroke="#8b8b8b" stroke-width="1.0"/><path d="M428.0,557.3 428.4,557.6 428.8,557.9 429.2,557.6 429.6,557.3 430.0,557.1 430.4,556.9 430.8,556.9 431.2,557.0 431.6,557.1 432.0,557.4 432.4,557.6 432.8,557.8 433.2,557.3 433.6,556.8 434.0,556.3 434.4,555.9 434.8,555.5 435.2,555.2 435.6,555.0 436.0,554.9 436.4,554.9 436.8,554.9 437.2,554.9 437.6,554.8 438.0,554.8 438.4,554.7 438.8,554.7 439.2,554.6 439.6,554.5 440.0,554.4 440.4,554.2 440.8,553.7 441.2,553.3 441.6,552.9 442.0,552.6 442.4,552.3 442.9,552.1 443.3,552.0 443.7,551.9 444.1,551.9 444.5,551.8 444.9,551.6 445.3,551.3 445.7,550.9 446.1,550.6 446.5,550.1 446.9,549.7 447.3,549.3 447.7,548.9 448.1,548.7 448.5,548.5 448.9,548.5 449.3,548.5 449.7,548.5 450.1,548.5 450.5,548.5 450.9,548.5 451.3,548.5 451.7,548.5 452.1,548.5 452.5,548.5 452.9,548.5 453.3,548.5 453.7,548.5 454.1,548.5 454.5,548.5 454.9,548.5 455.3,548.5 455.7,548.5 456.1,548.5 456.5,548.5 456.9,548.5 457.3,548.5 457.7,548.5 458.1,548.5 458.5,548.5 458.9,548.5 459.3,548.5 459.7,548.5 460.1,548.5 460.5,548.5 460.9,548.5 461.3,548.5 461.7,548.5 462.1,548.5 462.5,548.5 462.9,548.5 463.3,548.5 463.7,548.5 464.1,548.5 464.5,548.5 464.9,548.5 465.3,548.5 465.7,548.5 466.1,548.5 466.5,548.5 466.9,548.5 467.3,548.5 467.7,548.5 468.1,548.5 468.5,548.5 468.9,548.5 469.3,548.6 469.7,548.9 470.1,549.2 470.5,549.6 470.9,550.0 471.3,550.5 471.7,550.9 472.1,551.2 472.6,551.5 473.0,551.7 473.4,551.9 473.8,551.9 474.2,551.9 474.6,552.1 475.0,552.3 475.4,552.5 475.8,552.9 476.2,553.2 476.6,553.6 477.0,554.1 477.4,554.4 477.8,554.5 478.2,554.6 478.6,554.6 479.0,554.7 479.4,554.8 479.8,554.8 480.2,554.9 480.6,554.9 481.0,554.9 481.4,554.9 481.8,555.0 482.2,555.2 482.6,555.4 483.0,555.8 483.4,556.2 483.8,556.6 484.2,557.2 484.6,557.7 485.0,557.7 485.4,557.4 485.8,557.2 486.2,557.0 486.6,556.9 487.0,556.9" fill="none" stroke="#5a5a5a" stroke-width="1.35"/></g><text x="491.5" y="298.8" font-size="10.5" style="font-family:'Liberation Serif',serif" fill="#111">(h k) = (1 0)</text><text x="492.7" y="314.3" font-size="10.5" style="font-family:'Liberation Serif',serif" fill="#111">(1 -1)</text><text x="524.0" y="331.3" font-size="10.5" style="font-family:'Liberation Serif',serif" fill="#111">(2 1)</text><text x="524.0" y="345.7" font-size="10.5" style="font-family:'Liberation Serif',serif" fill="#111">(2 0)</text><text x="524.0" y="359.7" font-size="10.5" style="font-family:'Liberation Serif',serif" fill="#111">(2 -1)</text><text x="492.8" y="375.0" font-size="10.5" style="font-family:'Liberation Serif',serif" fill="#111">(1 -2)</text><text x="551.7" y="391.3" font-size="10.5" style="font-family:'Liberation Serif',serif" fill="#111">(3 1)</text><text x="551.7" y="404.3" font-size="10.5" style="font-family:'Liberation Serif',serif" fill="#111">(3 0)</text><text x="580.5" y="420.7" font-size="10.5" style="font-family:'Liberation Serif',serif" fill="#111">(4 2)</text><text x="521.6" y="431.4" font-size="10.5" style="font-family:'Liberation Serif',serif" fill="#111">(2 -2)</text><text x="580.5" y="445.0" font-size="10.5" style="font-family:'Liberation Serif',serif" fill="#111">(4 1)</text><text x="550.4" y="460.0" font-size="10.5" style="font-family:'Liberation Serif',serif" fill="#111">(3 -1)</text><text x="491.0" y="469.7" font-size="10.5" style="font-family:'Liberation Serif',serif" fill="#111">(1 -3)</text><text x="580.5" y="486.3" font-size="10.5" style="font-family:'Liberation Serif',serif" fill="#111">(4 0)</text><text x="550.4" y="500.1" font-size="10.5" style="font-family:'Liberation Serif',serif" fill="#111">(3 -2)</text><text x="598.0" y="508.7" font-size="10.5" style="font-family:'Liberation Serif',serif" fill="#111">(5 2)</text><text x="522.0" y="527.6" font-size="10.5" style="font-family:'Liberation Serif',serif" fill="#111">(2 -3)</text><text x="598.0" y="537.6" font-size="10.5" style="font-family:'Liberation Serif',serif" fill="#111">(5 1)</text><text x="581.0" y="555.1" font-size="10.5" style="font-family:'Liberation Serif',serif" fill="#111">(4 -1)</text><text x="492.7" y="565.2" font-size="10.5" style="font-family:'Liberation Serif',serif" fill="#111">(1 -4)</text><rect x="287.2" y="279.5" width="343.1" height="290.7" fill="none" stroke="#333" stroke-width="1.1"/><line x1="287.2" y1="570.2" x2="293.2" y2="570.2" stroke="#333" stroke-width="1.1" /><line x1="630.3" y1="570.2" x2="624.3" y2="570.2" stroke="#333" stroke-width="1.1" /><line x1="287.2" y1="563.47" x2="293.2" y2="563.47" stroke="#333" stroke-width="1.1" /><line x1="630.3" y1="563.47" x2="624.3" y2="563.47" stroke="#333" stroke-width="1.1" /><line x1="287.2" y1="556.74" x2="293.2" y2="556.74" stroke="#333" stroke-width="1.1" /><line x1="630.3" y1="556.74" x2="624.3" y2="556.74" stroke="#333" stroke-width="1.1" /><line x1="287.2" y1="550.01" x2="293.2" y2="550.01" stroke="#333" stroke-width="1.1" /><line x1="630.3" y1="550.01" x2="624.3" y2="550.01" stroke="#333" stroke-width="1.1" /><line x1="287.2" y1="543.29" x2="293.2" y2="543.29" stroke="#333" stroke-width="1.1" /><line x1="630.3" y1="543.29" x2="624.3" y2="543.29" stroke="#333" stroke-width="1.1" /><line x1="287.2" y1="536.56" x2="293.2" y2="536.56" stroke="#333" stroke-width="1.1" /><line x1="630.3" y1="536.56" x2="624.3" y2="536.56" stroke="#333" stroke-width="1.1" /><line x1="287.2" y1="529.83" x2="293.2" y2="529.83" stroke="#333" stroke-width="1.1" /><line x1="630.3" y1="529.83" x2="624.3" y2="529.83" stroke="#333" stroke-width="1.1" /><line x1="287.2" y1="523.1" x2="293.2" y2="523.1" stroke="#333" stroke-width="1.1" /><line x1="630.3" y1="523.1" x2="624.3" y2="523.1" stroke="#333" stroke-width="1.1" /><line x1="287.2" y1="516.37" x2="293.2" y2="516.37" stroke="#333" stroke-width="1.1" /><line x1="630.3" y1="516.37" x2="624.3" y2="516.37" stroke="#333" stroke-width="1.1" /><line x1="287.2" y1="509.64" x2="293.2" y2="509.64" stroke="#333" stroke-width="1.1" /><line x1="630.3" y1="509.64" x2="624.3" y2="509.64" stroke="#333" stroke-width="1.1" /><line x1="287.2" y1="502.91" x2="293.2" y2="502.91" stroke="#333" stroke-width="1.1" /><line x1="630.3" y1="502.91" x2="624.3" y2="502.91" stroke="#333" stroke-width="1.1" /><line x1="287.2" y1="496.19" x2="293.2" y2="496.19" stroke="#333" stroke-width="1.1" /><line x1="630.3" y1="496.19" x2="624.3" y2="496.19" stroke="#333" stroke-width="1.1" /><line x1="287.2" y1="489.46" x2="293.2" y2="489.46" stroke="#333" stroke-width="1.1" /><line x1="630.3" y1="489.46" x2="624.3" y2="489.46" stroke="#333" stroke-width="1.1" /><line x1="287.2" y1="482.73" x2="293.2" y2="482.73" stroke="#333" stroke-width="1.1" /><line x1="630.3" y1="482.73" x2="624.3" y2="482.73" stroke="#333" stroke-width="1.1" /><line x1="287.2" y1="476" x2="293.2" y2="476" stroke="#333" stroke-width="1.1" /><line x1="630.3" y1="476" x2="624.3" y2="476" stroke="#333" stroke-width="1.1" /><line x1="287.2" y1="469.27" x2="293.2" y2="469.27" stroke="#333" stroke-width="1.1" /><line x1="630.3" y1="469.27" x2="624.3" y2="469.27" stroke="#333" stroke-width="1.1" /><line x1="287.2" y1="462.54" x2="293.2" y2="462.54" stroke="#333" stroke-width="1.1" /><line x1="630.3" y1="462.54" x2="624.3" y2="462.54" stroke="#333" stroke-width="1.1" /><line x1="287.2" y1="455.81" x2="293.2" y2="455.81" stroke="#333" stroke-width="1.1" /><line x1="630.3" y1="455.81" x2="624.3" y2="455.81" stroke="#333" stroke-width="1.1" /><line x1="287.2" y1="449.09" x2="293.2" y2="449.09" stroke="#333" stroke-width="1.1" /><line x1="630.3" y1="449.09" x2="624.3" y2="449.09" stroke="#333" stroke-width="1.1" /><line x1="287.2" y1="442.36" x2="293.2" y2="442.36" stroke="#333" stroke-width="1.1" /><line x1="630.3" y1="442.36" x2="624.3" y2="442.36" stroke="#333" stroke-width="1.1" /><line x1="287.2" y1="435.63" x2="293.2" y2="435.63" stroke="#333" stroke-width="1.1" /><line x1="630.3" y1="435.63" x2="624.3" y2="435.63" stroke="#333" stroke-width="1.1" /><line x1="287.2" y1="428.9" x2="293.2" y2="428.9" stroke="#333" stroke-width="1.1" /><line x1="630.3" y1="428.9" x2="624.3" y2="428.9" stroke="#333" stroke-width="1.1" /><line x1="287.2" y1="422.17" x2="293.2" y2="422.17" stroke="#333" stroke-width="1.1" /><line x1="630.3" y1="422.17" x2="624.3" y2="422.17" stroke="#333" stroke-width="1.1" /><line x1="287.2" y1="415.44" x2="293.2" y2="415.44" stroke="#333" stroke-width="1.1" /><line x1="630.3" y1="415.44" x2="624.3" y2="415.44" stroke="#333" stroke-width="1.1" /><line x1="287.2" y1="408.71" x2="293.2" y2="408.71" stroke="#333" stroke-width="1.1" /><line x1="630.3" y1="408.71" x2="624.3" y2="408.71" stroke="#333" stroke-width="1.1" /><line x1="287.2" y1="401.99" x2="293.2" y2="401.99" stroke="#333" stroke-width="1.1" /><line x1="630.3" y1="401.99" x2="624.3" y2="401.99" stroke="#333" stroke-width="1.1" /><line x1="287.2" y1="395.26" x2="293.2" y2="395.26" stroke="#333" stroke-width="1.1" /><line x1="630.3" y1="395.26" x2="624.3" y2="395.26" stroke="#333" stroke-width="1.1" /><line x1="287.2" y1="388.53" x2="293.2" y2="388.53" stroke="#333" stroke-width="1.1" /><line x1="630.3" y1="388.53" x2="624.3" y2="388.53" stroke="#333" stroke-width="1.1" /><line x1="287.2" y1="381.8" x2="293.2" y2="381.8" stroke="#333" stroke-width="1.1" /><line x1="630.3" y1="381.8" x2="624.3" y2="381.8" stroke="#333" stroke-width="1.1" /><line x1="287.2" y1="375.07" x2="293.2" y2="375.07" stroke="#333" stroke-width="1.1" /><line x1="630.3" y1="375.07" x2="624.3" y2="375.07" stroke="#333" stroke-width="1.1" /><line x1="287.2" y1="368.34" x2="293.2" y2="368.34" stroke="#333" stroke-width="1.1" /><line x1="630.3" y1="368.34" x2="624.3" y2="368.34" stroke="#333" stroke-width="1.1" /><line x1="287.2" y1="361.61" x2="293.2" y2="361.61" stroke="#333" stroke-width="1.1" /><line x1="630.3" y1="361.61" x2="624.3" y2="361.61" stroke="#333" stroke-width="1.1" /><line x1="287.2" y1="354.89" x2="293.2" y2="354.89" stroke="#333" stroke-width="1.1" /><line x1="630.3" y1="354.89" x2="624.3" y2="354.89" stroke="#333" stroke-width="1.1" /><line x1="287.2" y1="348.16" x2="293.2" y2="348.16" stroke="#333" stroke-width="1.1" /><line x1="630.3" y1="348.16" x2="624.3" y2="348.16" stroke="#333" stroke-width="1.1" /><line x1="287.2" y1="341.43" x2="293.2" y2="341.43" stroke="#333" stroke-width="1.1" /><line x1="630.3" y1="341.43" x2="624.3" y2="341.43" stroke="#333" stroke-width="1.1" /><line x1="287.2" y1="334.7" x2="293.2" y2="334.7" stroke="#333" stroke-width="1.1" /><line x1="630.3" y1="334.7" x2="624.3" y2="334.7" stroke="#333" stroke-width="1.1" /><line x1="287.2" y1="327.97" x2="293.2" y2="327.97" stroke="#333" stroke-width="1.1" /><line x1="630.3" y1="327.97" x2="624.3" y2="327.97" stroke="#333" stroke-width="1.1" /><line x1="287.2" y1="321.24" x2="293.2" y2="321.24" stroke="#333" stroke-width="1.1" /><line x1="630.3" y1="321.24" x2="624.3" y2="321.24" stroke="#333" stroke-width="1.1" /><line x1="287.2" y1="314.51" x2="293.2" y2="314.51" stroke="#333" stroke-width="1.1" /><line x1="630.3" y1="314.51" x2="624.3" y2="314.51" stroke="#333" stroke-width="1.1" /><line x1="287.2" y1="307.79" x2="293.2" y2="307.79" stroke="#333" stroke-width="1.1" /><line x1="630.3" y1="307.79" x2="624.3" y2="307.79" stroke="#333" stroke-width="1.1" /><line x1="287.2" y1="301.06" x2="293.2" y2="301.06" stroke="#333" stroke-width="1.1" /><line x1="630.3" y1="301.06" x2="624.3" y2="301.06" stroke="#333" stroke-width="1.1" /><line x1="287.2" y1="294.33" x2="293.2" y2="294.33" stroke="#333" stroke-width="1.1" /><line x1="630.3" y1="294.33" x2="624.3" y2="294.33" stroke="#333" stroke-width="1.1" /><line x1="287.2" y1="287.6" x2="293.2" y2="287.6" stroke="#333" stroke-width="1.1" /><line x1="630.3" y1="287.6" x2="624.3" y2="287.6" stroke="#333" stroke-width="1.1" /><line x1="287.2" y1="570.2" x2="287.2" y2="565.2" stroke="#333" stroke-width="1" /><line x1="287.2" y1="279.5" x2="287.2" y2="284.5" stroke="#333" stroke-width="1" /><line x1="295.78" y1="570.2" x2="295.78" y2="567" stroke="#333" stroke-width="1" /><line x1="295.78" y1="279.5" x2="295.78" y2="282.7" stroke="#333" stroke-width="1" /><line x1="304.36" y1="570.2" x2="304.36" y2="567" stroke="#333" stroke-width="1" /><line x1="304.36" y1="279.5" x2="304.36" y2="282.7" stroke="#333" stroke-width="1" /><line x1="312.93" y1="570.2" x2="312.93" y2="567" stroke="#333" stroke-width="1" /><line x1="312.93" y1="279.5" x2="312.93" y2="282.7" stroke="#333" stroke-width="1" /><line x1="321.51" y1="570.2" x2="321.51" y2="567" stroke="#333" stroke-width="1" /><line x1="321.51" y1="279.5" x2="321.51" y2="282.7" stroke="#333" stroke-width="1" /><line x1="330.09" y1="570.2" x2="330.09" y2="565.2" stroke="#333" stroke-width="1" /><line x1="330.09" y1="279.5" x2="330.09" y2="284.5" stroke="#333" stroke-width="1" /><line x1="338.67" y1="570.2" x2="338.67" y2="567" stroke="#333" stroke-width="1" /><line x1="338.67" y1="279.5" x2="338.67" y2="282.7" stroke="#333" stroke-width="1" /><line x1="347.24" y1="570.2" x2="347.24" y2="567" stroke="#333" stroke-width="1" /><line x1="347.24" y1="279.5" x2="347.24" y2="282.7" stroke="#333" stroke-width="1" /><line x1="355.82" y1="570.2" x2="355.82" y2="567" stroke="#333" stroke-width="1" /><line x1="355.82" y1="279.5" x2="355.82" y2="282.7" stroke="#333" stroke-width="1" /><line x1="364.4" y1="570.2" x2="364.4" y2="567" stroke="#333" stroke-width="1" /><line x1="364.4" y1="279.5" x2="364.4" y2="282.7" stroke="#333" stroke-width="1" /><line x1="372.98" y1="570.2" x2="372.98" y2="565.2" stroke="#333" stroke-width="1" /><line x1="372.98" y1="279.5" x2="372.98" y2="284.5" stroke="#333" stroke-width="1" /><line x1="381.55" y1="570.2" x2="381.55" y2="567" stroke="#333" stroke-width="1" /><line x1="381.55" y1="279.5" x2="381.55" y2="282.7" stroke="#333" stroke-width="1" /><line x1="390.13" y1="570.2" x2="390.13" y2="567" stroke="#333" stroke-width="1" /><line x1="390.13" y1="279.5" x2="390.13" y2="282.7" stroke="#333" stroke-width="1" /><line x1="398.71" y1="570.2" x2="398.71" y2="567" stroke="#333" stroke-width="1" /><line x1="398.71" y1="279.5" x2="398.71" y2="282.7" stroke="#333" stroke-width="1" /><line x1="407.29" y1="570.2" x2="407.29" y2="567" stroke="#333" stroke-width="1" /><line x1="407.29" y1="279.5" x2="407.29" y2="282.7" stroke="#333" stroke-width="1" /><line x1="415.86" y1="570.2" x2="415.86" y2="565.2" stroke="#333" stroke-width="1" /><line x1="415.86" y1="279.5" x2="415.86" y2="284.5" stroke="#333" stroke-width="1" /><line x1="424.44" y1="570.2" x2="424.44" y2="567" stroke="#333" stroke-width="1" /><line x1="424.44" y1="279.5" x2="424.44" y2="282.7" stroke="#333" stroke-width="1" /><line x1="433.02" y1="570.2" x2="433.02" y2="567" stroke="#333" stroke-width="1" /><line x1="433.02" y1="279.5" x2="433.02" y2="282.7" stroke="#333" stroke-width="1" /><line x1="441.6" y1="570.2" x2="441.6" y2="567" stroke="#333" stroke-width="1" /><line x1="441.6" y1="279.5" x2="441.6" y2="282.7" stroke="#333" stroke-width="1" /><line x1="450.17" y1="570.2" x2="450.17" y2="567" stroke="#333" stroke-width="1" /><line x1="450.17" y1="279.5" x2="450.17" y2="282.7" stroke="#333" stroke-width="1" /><line x1="458.75" y1="570.2" x2="458.75" y2="565.2" stroke="#333" stroke-width="1" /><line x1="458.75" y1="279.5" x2="458.75" y2="284.5" stroke="#333" stroke-width="1" /><line x1="467.33" y1="570.2" x2="467.33" y2="567" stroke="#333" stroke-width="1" /><line x1="467.33" y1="279.5" x2="467.33" y2="282.7" stroke="#333" stroke-width="1" /><line x1="475.9" y1="570.2" x2="475.9" y2="567" stroke="#333" stroke-width="1" /><line x1="475.9" y1="279.5" x2="475.9" y2="282.7" stroke="#333" stroke-width="1" /><line x1="484.48" y1="570.2" x2="484.48" y2="567" stroke="#333" stroke-width="1" /><line x1="484.48" y1="279.5" x2="484.48" y2="282.7" stroke="#333" stroke-width="1" /><line x1="493.06" y1="570.2" x2="493.06" y2="567" stroke="#333" stroke-width="1" /><line x1="493.06" y1="279.5" x2="493.06" y2="282.7" stroke="#333" stroke-width="1" /><line x1="501.64" y1="570.2" x2="501.64" y2="565.2" stroke="#333" stroke-width="1" /><line x1="501.64" y1="279.5" x2="501.64" y2="284.5" stroke="#333" stroke-width="1" /><line x1="510.21" y1="570.2" x2="510.21" y2="567" stroke="#333" stroke-width="1" /><line x1="510.21" y1="279.5" x2="510.21" y2="282.7" stroke="#333" stroke-width="1" /><line x1="518.79" y1="570.2" x2="518.79" y2="567" stroke="#333" stroke-width="1" /><line x1="518.79" y1="279.5" x2="518.79" y2="282.7" stroke="#333" stroke-width="1" /><line x1="527.37" y1="570.2" x2="527.37" y2="567" stroke="#333" stroke-width="1" /><line x1="527.37" y1="279.5" x2="527.37" y2="282.7" stroke="#333" stroke-width="1" /><line x1="535.95" y1="570.2" x2="535.95" y2="567" stroke="#333" stroke-width="1" /><line x1="535.95" y1="279.5" x2="535.95" y2="282.7" stroke="#333" stroke-width="1" /><line x1="544.52" y1="570.2" x2="544.52" y2="565.2" stroke="#333" stroke-width="1" /><line x1="544.52" y1="279.5" x2="544.52" y2="284.5" stroke="#333" stroke-width="1" /><line x1="553.1" y1="570.2" x2="553.1" y2="567" stroke="#333" stroke-width="1" /><line x1="553.1" y1="279.5" x2="553.1" y2="282.7" stroke="#333" stroke-width="1" /><line x1="561.68" y1="570.2" x2="561.68" y2="567" stroke="#333" stroke-width="1" /><line x1="561.68" y1="279.5" x2="561.68" y2="282.7" stroke="#333" stroke-width="1" /><line x1="570.26" y1="570.2" x2="570.26" y2="567" stroke="#333" stroke-width="1" /><line x1="570.26" y1="279.5" x2="570.26" y2="282.7" stroke="#333" stroke-width="1" /><line x1="578.84" y1="570.2" x2="578.84" y2="567" stroke="#333" stroke-width="1" /><line x1="578.84" y1="279.5" x2="578.84" y2="282.7" stroke="#333" stroke-width="1" /><line x1="587.41" y1="570.2" x2="587.41" y2="565.2" stroke="#333" stroke-width="1" /><line x1="587.41" y1="279.5" x2="587.41" y2="284.5" stroke="#333" stroke-width="1" /><line x1="595.99" y1="570.2" x2="595.99" y2="567" stroke="#333" stroke-width="1" /><line x1="595.99" y1="279.5" x2="595.99" y2="282.7" stroke="#333" stroke-width="1" /><line x1="604.57" y1="570.2" x2="604.57" y2="567" stroke="#333" stroke-width="1" /><line x1="604.57" y1="279.5" x2="604.57" y2="282.7" stroke="#333" stroke-width="1" /><line x1="613.14" y1="570.2" x2="613.14" y2="567" stroke="#333" stroke-width="1" /><line x1="613.14" y1="279.5" x2="613.14" y2="282.7" stroke="#333" stroke-width="1" /><line x1="621.72" y1="570.2" x2="621.72" y2="567" stroke="#333" stroke-width="1" /><line x1="621.72" y1="279.5" x2="621.72" y2="282.7" stroke="#333" stroke-width="1" /><line x1="630.3" y1="570.2" x2="630.3" y2="565.2" stroke="#333" stroke-width="1" /><line x1="630.3" y1="279.5" x2="630.3" y2="284.5" stroke="#333" stroke-width="1" /><text x="282.2" y="574.5" font-size="10.8" text-anchor="end" style="font-family:'Liberation Serif',serif" fill="#000">10<tspan font-size="7.4" dy="-5">0</tspan></text><text x="282.2" y="554.31" font-size="10.8" text-anchor="end" style="font-family:'Liberation Serif',serif" fill="#000">10<tspan font-size="7.4" dy="-5">3</tspan></text><text x="282.2" y="534.13" font-size="10.8" text-anchor="end" style="font-family:'Liberation Serif',serif" fill="#000">10<tspan font-size="7.4" dy="-5">6</tspan></text><text x="282.2" y="513.94" font-size="10.8" text-anchor="end" style="font-family:'Liberation Serif',serif" fill="#000">10<tspan font-size="7.4" dy="-5">9</tspan></text><text x="282.2" y="493.76" font-size="10.8" text-anchor="end" style="font-family:'Liberation Serif',serif" fill="#000">10<tspan font-size="7.4" dy="-5">12</tspan></text><text x="282.2" y="473.57" font-size="10.8" text-anchor="end" style="font-family:'Liberation Serif',serif" fill="#000">10<tspan font-size="7.4" dy="-5">15</tspan></text><text x="282.2" y="453.39" font-size="10.8" text-anchor="end" style="font-family:'Liberation Serif',serif" fill="#000">10<tspan font-size="7.4" dy="-5">18</tspan></text><text x="282.2" y="433.2" font-size="10.8" text-anchor="end" style="font-family:'Liberation Serif',serif" fill="#000">10<tspan font-size="7.4" dy="-5">21</tspan></text><text x="282.2" y="413.01" font-size="10.8" text-anchor="end" style="font-family:'Liberation Serif',serif" fill="#000">10<tspan font-size="7.4" dy="-5">24</tspan></text><text x="282.2" y="392.83" font-size="10.8" text-anchor="end" style="font-family:'Liberation Serif',serif" fill="#000">10<tspan font-size="7.4" dy="-5">27</tspan></text><text x="282.2" y="372.64" font-size="10.8" text-anchor="end" style="font-family:'Liberation Serif',serif" fill="#000">10<tspan font-size="7.4" dy="-5">30</tspan></text><text x="282.2" y="352.46" font-size="10.8" text-anchor="end" style="font-family:'Liberation Serif',serif" fill="#000">10<tspan font-size="7.4" dy="-5">33</tspan></text><text x="282.2" y="332.27" font-size="10.8" text-anchor="end" style="font-family:'Liberation Serif',serif" fill="#000">10<tspan font-size="7.4" dy="-5">36</tspan></text><text x="282.2" y="312.09" font-size="10.8" text-anchor="end" style="font-family:'Liberation Serif',serif" fill="#000">10<tspan font-size="7.4" dy="-5">39</tspan></text><text x="282.2" y="291.9" font-size="10.8" text-anchor="end" style="font-family:'Liberation Serif',serif" fill="#000">10<tspan font-size="7.4" dy="-5">42</tspan></text><text x="287.2" y="583.2" font-size="10.5" text-anchor="middle" style="font-family:'Liberation Serif',serif" fill="#000" >-0.04</text><text x="372.98" y="583.2" font-size="10.5" text-anchor="middle" style="font-family:'Liberation Serif',serif" fill="#000" >-0.02</text><text x="458.75" y="583.2" font-size="10.5" text-anchor="middle" style="font-family:'Liberation Serif',serif" fill="#000" >0.00</text><text x="544.52" y="583.2" font-size="10.5" text-anchor="middle" style="font-family:'Liberation Serif',serif" fill="#000" >0.02</text><text x="630.3" y="583.2" font-size="10.5" text-anchor="middle" style="font-family:'Liberation Serif',serif" fill="#000" >0.04</text><text x="458.8" y="605.8" font-size="10.8" text-anchor="middle" style="font-family:'Liberation Serif',serif" fill="#000" >Scattering vector <tspan font-style="italic">Q</tspan><tspan font-size="7.8" dy="1.5" font-style="italic">Z</tspan><tspan dy="-1.5">&#160;&#160;(nm</tspan><tspan font-size="7.2" dy="-4.5">-1</tspan><tspan dy="4.5">)</tspan></text><text transform="translate(245.2,425.5) rotate(-90)" font-size="10.2" text-anchor="middle" style="font-family:'Liberation Serif',serif" fill="#111">Intensity&#160;&#160;(arb. unit)</text><text x="298.5" y="295.7" font-size="10.3" text-anchor="start" style="font-family:'Liberation Serif',serif" fill="#000" ><tspan font-style="italic">Q</tspan><tspan font-size="7.2" dy="1.5">Z</tspan><tspan dy="-1.5">-direction</tspan></text><text x="298.5" y="317.9" font-size="10.3" text-anchor="start" style="font-family:'Liberation Serif',serif" fill="#000" >Dot lines : Experimental</text><text x="298.5" y="328.2" font-size="10.3" text-anchor="start" style="font-family:'Liberation Serif',serif" fill="#000" >Solid lines : Calculation</text><path d="M129.3,417.3 V249.5 H458.6 V270.5" fill="none" stroke="#dd1111" stroke-width="2" stroke-dasharray="5.6 2.6"/><path d="M455.4,269.8 L461.8,269.8 L458.6,276.2 Z" fill="#dd1111"/><path d="M129.3,439 V467 H420.5" fill="none" stroke="#2f6cf2" stroke-width="2" stroke-dasharray="5.6 2.6"/><path d="M419.8,463.6 L426.4,467 L419.8,470.4 Z" fill="#2f6cf2"/><circle cx="129.3" cy="421.7" r="3.6" fill="none" stroke="#dd1111" stroke-width="1.8"/><circle cx="129.3" cy="434.6" r="3.6" fill="none" stroke="#2f6cf2" stroke-width="1.8"/><text x="133.3" y="403.5" font-size="14.5" text-anchor="start" style="font-family:'Liberation Serif',serif" fill="#dd1111" >(h k) = (1 0)</text><text x="133.3" y="458.5" font-size="14.5" text-anchor="start" style="font-family:'Liberation Serif',serif" fill="#2f6cf2" >(h k) = (1 -3)</text></svg></body></html>
